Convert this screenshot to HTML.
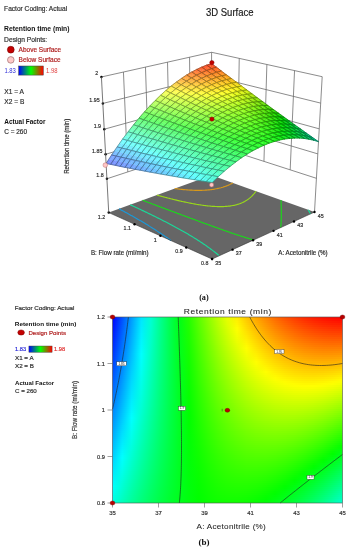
<!DOCTYPE html>
<html><head><meta charset="utf-8"><title>3D Surface</title>
<style>html,body{margin:0;padding:0;background:#fff;}svg{display:block;}</style></head>
<body><svg width="352" height="550" viewBox="0 0 352 550">
<rect width="352" height="550" fill="#fff"/>
<path d="M127.81,171.91L123.45,72.05M148.72,165.04L145.48,67.11M169.64,158.17L167.52,62.17M190.55,151.30L189.55,57.23M211.42,175.24L211.59,52.29M237.70,152.90L239.24,58.39M263.94,161.37L266.89,64.49M290.18,169.84L294.54,70.59M314.50,212.05L322.20,76.69M106.90,178.78L211.46,144.43L316.42,178.31M105.58,154.32L211.49,122.19L317.81,153.89M104.23,129.22L211.52,99.44L319.23,128.83M102.84,103.45L211.55,76.14L320.69,103.11M101.41,76.98L211.59,52.29L322.20,76.69" fill="none" stroke="#656565" stroke-width="0.75"/><polygon points="108.72,212.57 211.42,175.24 314.50,212.05 212.07,259.05" fill="#666666"/><polyline points="171.10,240.62 170.36,240.09 169.55,239.50 169.14,239.21 168.33,238.63 167.52,238.06 167.11,237.77 166.29,237.20 165.48,236.63 165.07,236.35 164.25,235.78 163.43,235.22 163.02,234.94 162.20,234.39 161.38,233.83 160.97,233.56 160.14,233.01 159.32,232.46 158.85,232.15 158.08,231.65 157.26,231.11 156.48,230.61 156.02,230.31 155.19,229.77 154.36,229.24 153.95,228.98 153.12,228.45 152.29,227.93 151.46,227.41 151.04,227.15 150.21,226.63 149.38,226.12 148.67,225.68 148.13,225.35 147.30,224.85 146.47,224.34 145.78,223.92 145.22,223.59 144.39,223.09 143.56,222.59 142.73,222.10 142.31,221.85 141.48,221.35 140.64,220.86 139.81,220.38 139.39,220.13 138.56,219.65 137.73,219.17 136.89,218.69 136.06,218.21 135.65,217.97 134.81,217.49 133.98,217.02 133.15,216.55 132.38,216.12 131.90,215.85 131.07,215.38 130.24,214.91 129.41,214.45 128.58,213.99 128.16,213.76 127.33,213.30 126.50,212.85 125.67,212.39 124.84,211.94 124.20,211.59 123.60,211.26 122.77,210.82 121.94,210.37 121.11,209.92 120.29,209.48 119.59,209.11 119.05,208.82 119.05,208.82" fill="none" stroke="#1a99d9" stroke-width="1.15"/><polyline points="219.28,255.74 218.58,255.17 218.05,254.72 217.24,254.06 216.82,253.72 215.99,253.05 215.58,252.72 214.74,252.06 214.32,251.74 213.49,251.09 212.83,250.58 212.22,250.12 211.37,249.48 210.95,249.17 210.09,248.54 209.52,248.12 208.81,247.60 207.95,246.98 207.51,246.68 206.65,246.06 205.87,245.52 205.34,245.15 204.47,244.55 203.89,244.16 203.16,243.66 202.28,243.07 201.79,242.75 200.95,242.19 200.07,241.61 199.57,241.29 198.74,240.74 197.84,240.17 197.20,239.76 196.51,239.32 195.61,238.76 194.71,238.20 194.26,237.92 193.37,237.37 192.46,236.82 191.97,236.52 191.11,236.00 190.21,235.46 189.30,234.92 188.85,234.65 187.94,234.11 187.03,233.58 186.12,233.05 185.67,232.79 184.76,232.27 183.85,231.74 182.93,231.22 182.48,230.97 181.56,230.45 180.65,229.94 179.74,229.43 178.82,228.92 178.36,228.67 177.45,228.17 176.53,227.67 175.61,227.17 174.70,226.67 174.24,226.43 173.32,225.93 172.41,225.44 171.49,224.96 170.57,224.47 170.00,224.17 169.20,223.75 168.28,223.27 167.36,222.79 166.45,222.32 165.53,221.84 164.81,221.47 164.15,221.14 163.24,220.67 162.32,220.20 161.41,219.74 160.49,219.28 159.58,218.82 158.85,218.45 158.20,218.13 157.29,217.67 156.38,217.22 155.47,216.77 154.55,216.32 153.64,215.87 152.73,215.42 151.84,214.99 151.37,214.75 150.46,214.31 149.55,213.87 148.64,213.43 147.73,212.99 146.83,212.56 145.92,212.12 145.02,211.69 144.11,211.26 143.29,210.87 142.76,210.61 141.86,210.19 140.95,209.76 140.05,209.34 139.16,208.91 138.26,208.49 137.36,208.07 136.46,207.65 135.57,207.24 134.67,206.82 133.78,206.40 132.89,205.99 132.13,205.64 131.55,205.37 130.66,204.96 130.22,204.76" fill="none" stroke="#1ad999" stroke-width="1.15"/><polyline points="308.17,209.79 308.39,210.17 308.60,210.54 308.81,210.90 309.03,211.27 309.25,211.66 309.54,212.13 309.82,212.61 310.12,213.09 310.35,213.48 310.58,213.85 310.58,213.85" fill="none" stroke="#1ad999" stroke-width="1.15"/><polyline points="253.69,239.95 253.00,239.76 251.63,239.38 250.27,238.99 249.60,238.79 248.26,238.40 246.94,238.00 245.91,237.68 244.98,237.39 243.69,236.98 242.41,236.57 241.13,236.16 240.50,235.96 239.23,235.54 237.98,235.13 236.73,234.71 235.48,234.30 234.87,234.09 233.63,233.67 232.41,233.25 231.18,232.84 229.97,232.42 228.91,232.05 228.15,231.79 226.95,231.37 225.75,230.95 224.56,230.53 223.37,230.11 222.18,229.70 221.59,229.49 220.41,229.07 219.24,228.65 218.07,228.23 216.90,227.82 215.74,227.40 214.58,226.98 213.57,226.62 212.84,226.36 211.70,225.95 210.55,225.53 209.41,225.12 208.27,224.70 207.13,224.29 206.00,223.88 204.87,223.47 204.30,223.26 203.18,222.85 202.06,222.44 200.94,222.03 199.82,221.62 198.71,221.21 197.60,220.81 196.49,220.40 195.47,220.02 194.84,219.79 193.74,219.39 192.64,218.98 191.55,218.58 190.46,218.18 189.37,217.77 188.29,217.37 187.21,216.97 186.13,216.57 185.59,216.37 184.51,215.97 183.44,215.57 182.37,215.18 181.30,214.78 180.24,214.38 179.18,213.99 178.12,213.59 177.06,213.20 176.01,212.81 175.48,212.61 174.43,212.22 173.39,211.83 172.34,211.44 171.30,211.05 170.26,210.66 169.22,210.27 168.18,209.88 167.15,209.50 166.12,209.11 165.11,208.74 164.58,208.54 163.56,208.15 162.54,207.77 161.52,207.39 160.50,207.00 159.48,206.62 158.47,206.24 157.46,205.86 156.45,205.49 155.45,205.11 154.59,204.79 153.94,204.54 152.95,204.17 151.95,203.79 150.95,203.42 149.96,203.04 148.97,202.67 147.98,202.30 146.99,201.93 146.01,201.56 145.03,201.19 144.05,200.82 143.56,200.63 142.58,200.26 142.58,200.26" fill="none" stroke="#1ad91a" stroke-width="1.15"/><polyline points="281.02,200.10 281.04,200.51 281.05,200.93 281.07,201.35 281.08,201.77 281.09,202.19 281.11,202.61 281.12,203.03 281.13,203.39 281.14,203.76 281.15,204.13 281.16,204.51 281.17,204.88 281.18,205.25 281.19,205.62 281.20,206.03 281.21,206.46 281.22,206.90 281.23,207.33 281.23,207.77 281.24,208.21 281.25,208.63 281.26,209.01 281.26,209.39 281.27,209.77 281.27,210.16 281.28,210.54 281.28,210.92 281.29,211.31 281.29,211.76 281.29,212.21 281.30,212.66 281.30,213.11 281.30,213.57 281.30,214.00 281.30,214.39 281.30,214.78 281.30,215.17 281.30,215.56 281.29,215.95 281.29,216.34 281.29,216.79 281.28,217.26 281.27,217.73 281.26,218.20 281.26,218.67 281.25,219.10 281.24,219.50 281.23,219.89 281.21,220.29 281.20,220.69 281.19,221.08 281.17,221.54 281.15,222.03 281.12,222.52 281.10,223.01 281.07,223.48 281.05,223.88 281.03,224.28 281.00,224.68 280.97,225.08 280.94,225.49 280.90,226.00 280.85,226.51 280.81,227.02 280.76,227.49 280.76,227.53" fill="none" stroke="#1ad91a" stroke-width="1.15"/><polyline points="256.02,191.17 255.81,191.48 255.42,192.01 255.22,192.28 254.98,192.59 254.57,193.11 254.35,193.39 254.05,193.75 253.66,194.21 253.42,194.48 252.97,194.98 252.68,195.29 252.36,195.62 251.91,196.08 251.64,196.35 251.08,196.87 250.80,197.13 250.21,197.65 249.91,197.90 249.29,198.41 248.97,198.66 248.32,199.15 247.96,199.41 247.28,199.88 246.56,200.36 246.19,200.59 245.42,201.06 244.61,201.51 243.92,201.87 243.34,202.16 242.45,202.59 241.52,203.00 240.54,203.39 239.52,203.77 238.45,204.14 237.90,204.31 236.75,204.65 235.55,204.97 234.93,205.12 233.63,205.40 232.95,205.53 231.57,205.78 230.84,205.89 229.65,206.06 228.55,206.19 227.74,206.27 226.91,206.35 225.67,206.44 224.49,206.51 223.36,206.56 222.41,206.59 221.44,206.60 220.43,206.61 219.39,206.61 218.33,206.59 217.29,206.56 216.36,206.53 215.45,206.49 214.55,206.44 213.67,206.39 212.48,206.31 211.20,206.21 210.29,206.13 209.47,206.05 208.52,205.96 207.11,205.81 206.29,205.71 205.52,205.62 204.16,205.45 203.24,205.33 202.49,205.22 201.01,205.01 200.29,204.90 199.36,204.76 198.13,204.56 197.42,204.45 196.02,204.21 195.32,204.09 194.05,203.87 193.26,203.72 192.16,203.52 191.23,203.34 190.20,203.14 189.24,202.95 188.17,202.74 187.27,202.56 186.07,202.31 185.33,202.15 184.05,201.88 183.41,201.74 182.15,201.46 181.52,201.32 180.27,201.04 179.32,200.82 178.41,200.61 177.18,200.33 176.57,200.18 175.36,199.89 174.41,199.67 173.55,199.45 172.35,199.16 171.76,199.01 170.57,198.72 169.40,198.42 168.81,198.27 167.64,197.97 166.48,197.67 165.90,197.52 164.75,197.22 163.60,196.92 163.03,196.76 161.89,196.46 160.76,196.16 160.20,196.00 159.07,195.70 157.95,195.39 157.39,195.24 156.84,195.08" fill="none" stroke="#99d91a" stroke-width="1.15"/><polyline points="232.90,182.91 232.15,183.33 231.37,183.74 230.81,184.02 230.17,184.34 229.34,184.73 228.48,185.11 227.60,185.49 226.68,185.85 225.74,186.21 224.77,186.56 223.76,186.90 222.72,187.23 221.65,187.54 221.10,187.70 219.97,187.99 218.80,188.28 218.20,188.41 216.97,188.68 216.34,188.80 215.04,189.04 214.38,189.16 213.01,189.37 212.31,189.47 211.41,189.59 210.12,189.75 209.36,189.83 208.59,189.91 207.43,190.01 206.22,190.10 205.35,190.16 204.50,190.20 203.64,190.25 202.75,190.28 201.80,190.31 200.78,190.33 199.77,190.35 198.79,190.35 197.83,190.35 196.89,190.34 195.96,190.33 195.01,190.31 193.95,190.28 192.87,190.24 191.77,190.19 190.71,190.13 189.87,190.08 189.05,190.03 188.23,189.98 187.10,189.90 185.87,189.80 185.05,189.73 184.28,189.66 183.33,189.57 182.01,189.44 181.25,189.36 180.50,189.28 179.30,189.14 178.31,189.03 177.59,188.94 176.45,188.80 175.46,188.67 174.75,188.57 174.75,188.57" fill="none" stroke="#d9991a" stroke-width="1.15"/><polyline points="108.72,212.57 212.07,259.05 314.50,212.05" fill="none" stroke="#333" stroke-width="0.6"/><g stroke-width="0.35" stroke-linejoin="round"><polygon points="211.6,68.7 214.0,67.9 211.6,66.1 209.1,66.9" fill="#ff5f26" stroke="#ff5f26"/><polygon points="209.1,66.9 211.6,66.1 209.1,64.3 206.7,65.1" fill="#ff5128" stroke="#ff5128"/><polygon points="214.0,67.9 216.5,67.2 214.0,65.4 211.6,66.1" fill="#ff5a23" stroke="#ff5a23"/><polygon points="211.6,66.1 214.0,65.4 211.6,63.5 209.1,64.3" fill="#ff4c25" stroke="#ff4c25"/><polygon points="211.6,68.7 216.5,67.2 211.6,63.5 206.7,65.1" fill="none" stroke="#782812" stroke-width="0.6"/><polygon points="216.6,72.3 219.0,71.6 216.5,69.8 214.1,70.5" fill="#ff7a23" stroke="#ff7a23"/><polygon points="214.1,70.5 216.5,69.8 214.0,67.9 211.6,68.7" fill="#ff6c25" stroke="#ff6c25"/><polygon points="219.0,71.6 221.4,71.0 219.0,69.1 216.5,69.8" fill="#ff7720" stroke="#ff7720"/><polygon points="216.5,69.8 219.0,69.1 216.5,67.2 214.0,67.9" fill="#ff6922" stroke="#ff6922"/><polygon points="216.6,72.3 221.4,71.0 216.5,67.2 211.6,68.7" fill="none" stroke="#783510" stroke-width="0.6"/><polygon points="206.7,70.5 209.1,69.6 206.7,67.8 204.2,68.8" fill="#ff6a2d" stroke="#ff6a2d"/><polygon points="204.2,68.8 206.7,67.8 204.2,66.1 201.7,67.1" fill="#ff5e2e" stroke="#ff5e2e"/><polygon points="209.1,69.6 211.6,68.7 209.1,66.9 206.7,67.8" fill="#ff6429" stroke="#ff6429"/><polygon points="206.7,67.8 209.1,66.9 206.7,65.1 204.2,66.1" fill="#ff572b" stroke="#ff572b"/><polygon points="206.7,70.5 211.6,68.7 206.7,65.1 201.7,67.1" fill="none" stroke="#782d15" stroke-width="0.6"/><polygon points="221.6,75.9 224.0,75.3 221.5,73.5 219.1,74.1" fill="#ff9620" stroke="#ff9620"/><polygon points="219.1,74.1 221.5,73.5 219.0,71.6 216.6,72.3" fill="#ff8822" stroke="#ff8822"/><polygon points="224.0,75.3 226.4,74.8 223.9,72.9 221.5,73.5" fill="#fd931d" stroke="#fd931d"/><polygon points="221.5,73.5 223.9,72.9 221.4,71.0 219.0,71.6" fill="#ff851e" stroke="#ff851e"/><polygon points="221.6,75.9 226.4,74.8 221.4,71.0 216.6,72.3" fill="none" stroke="#78430f" stroke-width="0.6"/><polygon points="211.6,74.0 214.1,73.1 211.6,71.3 209.1,72.2" fill="#ff8229" stroke="#ff8229"/><polygon points="209.1,72.2 211.6,71.3 209.1,69.6 206.7,70.5" fill="#ff762b" stroke="#ff762b"/><polygon points="214.1,73.1 216.6,72.3 214.1,70.5 211.6,71.3" fill="#ff7d26" stroke="#ff7d26"/><polygon points="211.6,71.3 214.1,70.5 211.6,68.7 209.1,69.6" fill="#ff7128" stroke="#ff7128"/><polygon points="211.6,74.0 216.6,72.3 211.6,68.7 206.7,70.5" fill="none" stroke="#783913" stroke-width="0.6"/><polygon points="201.7,72.7 204.2,71.6 201.7,69.9 199.2,71.0" fill="#ff7833" stroke="#ff7833"/><polygon points="199.2,71.0 201.7,69.9 199.2,68.2 196.7,69.4" fill="#ff6d34" stroke="#ff6d34"/><polygon points="204.2,71.6 206.7,70.5 204.2,68.8 201.7,69.9" fill="#ff7130" stroke="#ff7130"/><polygon points="201.7,69.9 204.2,68.8 201.7,67.1 199.2,68.2" fill="#ff6531" stroke="#ff6531"/><polygon points="201.7,72.7 206.7,70.5 201.7,67.1 196.7,69.4" fill="none" stroke="#783417" stroke-width="0.6"/><polygon points="226.6,79.6 229.1,79.0 226.5,77.2 224.1,77.7" fill="#fdb01c" stroke="#fdb01c"/><polygon points="224.1,77.7 226.5,77.2 224.0,75.3 221.6,75.9" fill="#ffa31e" stroke="#ffa31e"/><polygon points="229.1,79.0 231.5,78.5 229.0,76.6 226.5,77.2" fill="#f9ae19" stroke="#f9ae19"/><polygon points="226.5,77.2 229.0,76.6 226.4,74.8 224.0,75.3" fill="#fba11b" stroke="#fba11b"/><polygon points="226.6,79.6 231.5,78.5 226.4,74.8 221.6,75.9" fill="none" stroke="#764f0d" stroke-width="0.6"/><polygon points="216.6,77.4 219.1,76.6 216.6,74.9 214.1,75.7" fill="#ff9b26" stroke="#ff9b26"/><polygon points="214.1,75.7 216.6,74.9 214.1,73.1 211.6,74.0" fill="#ff8f28" stroke="#ff8f28"/><polygon points="219.1,76.6 221.6,75.9 219.1,74.1 216.6,74.9" fill="#ff9823" stroke="#ff9823"/><polygon points="216.6,74.9 219.1,74.1 216.6,72.3 214.1,73.1" fill="#ff8b25" stroke="#ff8b25"/><polygon points="216.6,77.4 221.6,75.9 216.6,72.3 211.6,74.0" fill="none" stroke="#784512" stroke-width="0.6"/><polygon points="206.6,76.0 209.1,74.9 206.6,73.2 204.1,74.3" fill="#ff8e2f" stroke="#ff8e2f"/><polygon points="204.1,74.3 206.6,73.2 204.2,71.6 201.7,72.7" fill="#ff8331" stroke="#ff8331"/><polygon points="209.1,74.9 211.6,74.0 209.1,72.2 206.6,73.2" fill="#ff882c" stroke="#ff882c"/><polygon points="206.6,73.2 209.1,72.2 206.7,70.5 204.2,71.6" fill="#ff7c2e" stroke="#ff7c2e"/><polygon points="206.6,76.0 211.6,74.0 206.7,70.5 201.7,72.7" fill="none" stroke="#783e16" stroke-width="0.6"/><polygon points="196.6,75.2 199.1,73.9 196.7,72.3 194.1,73.6" fill="#ff8939" stroke="#ff8939"/><polygon points="194.1,73.6 196.7,72.3 194.2,70.7 191.7,72.0" fill="#ff803a" stroke="#ff803a"/><polygon points="199.1,73.9 201.7,72.7 199.2,71.0 196.7,72.3" fill="#ff8036" stroke="#ff8036"/><polygon points="196.7,72.3 199.2,71.0 196.7,69.4 194.2,70.7" fill="#ff7637" stroke="#ff7637"/><polygon points="196.6,75.2 201.7,72.7 196.7,69.4 191.7,72.0" fill="none" stroke="#783c1a" stroke-width="0.6"/><polygon points="231.7,83.2 234.1,82.7 231.6,80.9 229.2,81.4" fill="#f9ca19" stroke="#f9ca19"/><polygon points="229.2,81.4 231.6,80.9 229.1,79.0 226.6,79.6" fill="#fbbd1b" stroke="#fbbd1b"/><polygon points="234.1,82.7 236.6,82.3 234.0,80.4 231.6,80.9" fill="#f5c916" stroke="#f5c916"/><polygon points="231.6,80.9 234.0,80.4 231.5,78.5 229.1,79.0" fill="#f7bc17" stroke="#f7bc17"/><polygon points="231.7,83.2 236.6,82.3 231.5,78.5 226.6,79.6" fill="none" stroke="#755c0b" stroke-width="0.6"/><polygon points="221.7,80.9 224.2,80.2 221.6,78.4 219.2,79.2" fill="#ffb523" stroke="#ffb523"/><polygon points="219.2,79.2 221.6,78.4 219.1,76.6 216.6,77.4" fill="#ffa824" stroke="#ffa824"/><polygon points="224.2,80.2 226.6,79.6 224.1,77.7 221.6,78.4" fill="#ffb320" stroke="#ffb320"/><polygon points="221.6,78.4 224.1,77.7 221.6,75.9 219.1,76.6" fill="#ffa521" stroke="#ffa521"/><polygon points="221.7,80.9 226.6,79.6 221.6,75.9 216.6,77.4" fill="none" stroke="#785110" stroke-width="0.6"/><polygon points="211.6,79.3 214.1,78.3 211.6,76.6 209.1,77.6" fill="#ffa42c" stroke="#ffa42c"/><polygon points="209.1,77.6 211.6,76.6 209.1,74.9 206.6,76.0" fill="#ff992e" stroke="#ff992e"/><polygon points="214.1,78.3 216.6,77.4 214.1,75.7 211.6,76.6" fill="#ff9f29" stroke="#ff9f29"/><polygon points="211.6,76.6 214.1,75.7 211.6,74.0 209.1,74.9" fill="#ff932b" stroke="#ff932b"/><polygon points="211.6,79.3 216.6,77.4 211.6,74.0 206.6,76.0" fill="none" stroke="#784914" stroke-width="0.6"/><polygon points="201.6,78.3 204.1,77.1 201.6,75.5 199.1,76.7" fill="#ff9d36" stroke="#ff9d36"/><polygon points="199.1,76.7 201.6,75.5 199.1,73.9 196.6,75.2" fill="#ff9337" stroke="#ff9337"/><polygon points="204.1,77.1 206.6,76.0 204.1,74.3 201.6,75.5" fill="#ff9533" stroke="#ff9533"/><polygon points="201.6,75.5 204.1,74.3 201.7,72.7 199.1,73.9" fill="#ff8b34" stroke="#ff8b34"/><polygon points="201.6,78.3 206.6,76.0 201.7,72.7 196.6,75.2" fill="none" stroke="#784519" stroke-width="0.6"/><polygon points="191.5,78.0 194.1,76.5 191.6,75.0 189.1,76.5" fill="#ff9d3f" stroke="#ff9d3f"/><polygon points="189.1,76.5 191.6,75.0 189.1,73.5 186.6,75.0" fill="#ff9440" stroke="#ff9440"/><polygon points="194.1,76.5 196.6,75.2 194.1,73.6 191.6,75.0" fill="#ff933c" stroke="#ff933c"/><polygon points="191.6,75.0 194.1,73.6 191.7,72.0 189.1,73.5" fill="#ff8a3d" stroke="#ff8a3d"/><polygon points="191.5,78.0 196.6,75.2 191.7,72.0 186.6,75.0" fill="none" stroke="#78451d" stroke-width="0.6"/><polygon points="236.9,86.9 239.3,86.5 236.7,84.6 234.3,85.1" fill="#f5e415" stroke="#f5e415"/><polygon points="234.3,85.1 236.7,84.6 234.1,82.7 231.7,83.2" fill="#f7d717" stroke="#f7d717"/><polygon points="239.3,86.5 241.7,86.1 239.1,84.2 236.7,84.6" fill="#f2e412" stroke="#f2e412"/><polygon points="236.7,84.6 239.1,84.2 236.6,82.3 234.1,82.7" fill="#f4d614" stroke="#f4d614"/><polygon points="236.9,86.9 241.7,86.1 236.6,82.3 231.7,83.2" fill="none" stroke="#73680a" stroke-width="0.6"/><polygon points="226.8,84.4 229.3,83.8 226.7,82.0 224.2,82.7" fill="#ffcf1f" stroke="#ffcf1f"/><polygon points="224.2,82.7 226.7,82.0 224.2,80.2 221.7,80.9" fill="#ffc221" stroke="#ffc221"/><polygon points="229.3,83.8 231.7,83.2 229.2,81.4 226.7,82.0" fill="#fccc1c" stroke="#fccc1c"/><polygon points="226.7,82.0 229.2,81.4 226.6,79.6 224.2,80.2" fill="#fec01e" stroke="#fec01e"/><polygon points="226.8,84.4 231.7,83.2 226.6,79.6 221.7,80.9" fill="none" stroke="#785e0e" stroke-width="0.6"/><polygon points="216.7,82.6 219.2,81.8 216.7,80.0 214.2,81.0" fill="#ffbb29" stroke="#ffbb29"/><polygon points="214.2,81.0 216.7,80.0 214.1,78.3 211.6,79.3" fill="#ffb02b" stroke="#ffb02b"/><polygon points="219.2,81.8 221.7,80.9 219.2,79.2 216.7,80.0" fill="#ffb826" stroke="#ffb826"/><polygon points="216.7,80.0 219.2,79.2 216.6,77.4 214.1,78.3" fill="#ffab27" stroke="#ffab27"/><polygon points="216.7,82.6 221.7,80.9 216.6,77.4 211.6,79.3" fill="none" stroke="#785413" stroke-width="0.6"/><polygon points="206.6,81.5 209.1,80.4 206.6,78.7 204.1,79.9" fill="#ffb132" stroke="#ffb132"/><polygon points="204.1,79.9 206.6,78.7 204.1,77.1 201.6,78.3" fill="#ffa734" stroke="#ffa734"/><polygon points="209.1,80.4 211.6,79.3 209.1,77.6 206.6,78.7" fill="#ffaa2f" stroke="#ffaa2f"/><polygon points="206.6,78.7 209.1,77.6 206.6,76.0 204.1,77.1" fill="#ff9f31" stroke="#ff9f31"/><polygon points="206.6,81.5 211.6,79.3 206.6,76.0 201.6,78.3" fill="none" stroke="#784f17" stroke-width="0.6"/><polygon points="196.5,81.0 199.0,79.6 196.6,78.1 194.0,79.5" fill="#ffae3c" stroke="#ffae3c"/><polygon points="194.0,79.5 196.6,78.1 194.1,76.5 191.5,78.0" fill="#ffa53d" stroke="#ffa53d"/><polygon points="199.0,79.6 201.6,78.3 199.1,76.7 196.6,78.1" fill="#ffa539" stroke="#ffa539"/><polygon points="196.6,78.1 199.1,76.7 196.6,75.2 194.1,76.5" fill="#ff9c3a" stroke="#ff9c3a"/><polygon points="196.5,81.0 201.6,78.3 196.6,75.2 191.5,78.0" fill="none" stroke="#784e1c" stroke-width="0.6"/><polygon points="186.4,81.2 189.0,79.6 186.5,78.1 183.9,79.8" fill="#ffb345" stroke="#ffb345"/><polygon points="183.9,79.8 186.5,78.1 184.0,76.6 181.5,78.4" fill="#ffab46" stroke="#ffab46"/><polygon points="189.0,79.6 191.5,78.0 189.1,76.5 186.5,78.1" fill="#ffa742" stroke="#ffa742"/><polygon points="186.5,78.1 189.1,76.5 186.6,75.0 184.0,76.6" fill="#ff9f43" stroke="#ff9f43"/><polygon points="186.4,81.2 191.5,78.0 186.6,75.0 181.5,78.4" fill="none" stroke="#784f20" stroke-width="0.6"/><polygon points="242.0,90.6 244.5,90.2 241.9,88.4 239.4,88.7" fill="#e6f112" stroke="#e6f112"/><polygon points="239.4,88.7 241.9,88.4 239.3,86.5 236.9,86.9" fill="#f3f114" stroke="#f3f114"/><polygon points="244.5,90.2 246.9,90.0 244.3,88.1 241.9,88.4" fill="#deee0f" stroke="#deee0f"/><polygon points="241.9,88.4 244.3,88.1 241.7,86.1 239.3,86.5" fill="#eff010" stroke="#eff010"/><polygon points="242.0,90.6 246.9,90.0 241.7,86.1 236.9,86.9" fill="none" stroke="#6e7108" stroke-width="0.6"/><polygon points="231.9,88.0 234.4,87.4 231.8,85.6 229.4,86.2" fill="#fce71c" stroke="#fce71c"/><polygon points="229.4,86.2 231.8,85.6 229.3,83.8 226.8,84.4" fill="#fedc1e" stroke="#fedc1e"/><polygon points="234.4,87.4 236.9,86.9 234.3,85.1 231.8,85.6" fill="#f9e518" stroke="#f9e518"/><polygon points="231.8,85.6 234.3,85.1 231.7,83.2 229.3,83.8" fill="#fbd91a" stroke="#fbd91a"/><polygon points="231.9,88.0 236.9,86.9 231.7,83.2 226.8,84.4" fill="none" stroke="#76690d" stroke-width="0.6"/><polygon points="221.8,86.0 224.3,85.2 221.8,83.5 219.3,84.3" fill="#ffd326" stroke="#ffd326"/><polygon points="219.3,84.3 221.8,83.5 219.2,81.8 216.7,82.6" fill="#ffc727" stroke="#ffc727"/><polygon points="224.3,85.2 226.8,84.4 224.2,82.7 221.8,83.5" fill="#ffd023" stroke="#ffd023"/><polygon points="221.8,83.5 224.2,82.7 221.7,80.9 219.2,81.8" fill="#ffc424" stroke="#ffc424"/><polygon points="221.8,86.0 226.8,84.4 221.7,80.9 216.7,82.6" fill="none" stroke="#786011" stroke-width="0.6"/><polygon points="211.7,84.7 214.2,83.6 211.7,82.0 209.1,83.1" fill="#ffc52f" stroke="#ffc52f"/><polygon points="209.1,83.1 211.7,82.0 209.1,80.4 206.6,81.5" fill="#ffbb31" stroke="#ffbb31"/><polygon points="214.2,83.6 216.7,82.6 214.2,81.0 211.7,82.0" fill="#ffc02c" stroke="#ffc02c"/><polygon points="211.7,82.0 214.2,81.0 211.6,79.3 209.1,80.4" fill="#ffb52e" stroke="#ffb52e"/><polygon points="211.7,84.7 216.7,82.6 211.6,79.3 206.6,81.5" fill="none" stroke="#785916" stroke-width="0.6"/><polygon points="201.5,84.1 204.1,82.7 201.6,81.2 199.0,82.5" fill="#ffc038" stroke="#ffc038"/><polygon points="199.0,82.5 201.6,81.2 199.0,79.6 196.5,81.0" fill="#ffb73a" stroke="#ffb73a"/><polygon points="204.1,82.7 206.6,81.5 204.1,79.9 201.6,81.2" fill="#ffb835" stroke="#ffb835"/><polygon points="201.6,81.2 204.1,79.9 201.6,78.3 199.0,79.6" fill="#ffae37" stroke="#ffae37"/><polygon points="201.5,84.1 206.6,81.5 201.6,78.3 196.5,81.0" fill="none" stroke="#78561a" stroke-width="0.6"/><polygon points="181.2,84.8 183.8,82.9 181.3,81.5 178.7,83.4" fill="#ffca4a" stroke="#ffca4a"/><polygon points="178.7,83.4 181.3,81.5 178.9,80.2 176.3,82.1" fill="#ffc44c" stroke="#ffc44c"/><polygon points="183.8,82.9 186.4,81.2 183.9,79.8 181.3,81.5" fill="#ffbe47" stroke="#ffbe47"/><polygon points="181.3,81.5 183.9,79.8 181.5,78.4 178.9,80.2" fill="#ffb749" stroke="#ffb749"/><polygon points="181.2,84.8 186.4,81.2 181.5,78.4 176.3,82.1" fill="none" stroke="#785b23" stroke-width="0.6"/><polygon points="191.4,84.1 193.9,82.5 191.4,81.0 188.9,82.6" fill="#ffc242" stroke="#ffc242"/><polygon points="188.9,82.6 191.4,81.0 189.0,79.6 186.4,81.2" fill="#ffba43" stroke="#ffba43"/><polygon points="193.9,82.5 196.5,81.0 194.0,79.5 191.4,81.0" fill="#ffb83f" stroke="#ffb83f"/><polygon points="191.4,81.0 194.0,79.5 191.5,78.0 189.0,79.6" fill="#ffb040" stroke="#ffb040"/><polygon points="191.4,84.1 196.5,81.0 191.5,78.0 186.4,81.2" fill="none" stroke="#78571e" stroke-width="0.6"/><polygon points="247.3,94.3 249.7,94.0 247.1,92.1 244.6,92.4" fill="#c5ee0f" stroke="#c5ee0f"/><polygon points="244.6,92.4 247.1,92.1 244.5,90.2 242.0,90.6" fill="#d5f010" stroke="#d5f010"/><polygon points="249.7,94.0 252.1,93.8 249.5,91.9 247.1,92.1" fill="#bcea0c" stroke="#bcea0c"/><polygon points="247.1,92.1 249.5,91.9 246.9,90.0 244.5,90.2" fill="#cdec0d" stroke="#cdec0d"/><polygon points="247.3,94.3 252.1,93.8 246.9,90.0 242.0,90.6" fill="none" stroke="#5e6f07" stroke-width="0.6"/><polygon points="237.1,91.5 239.6,91.0 237.0,89.2 234.5,89.7" fill="#f2f818" stroke="#f2f818"/><polygon points="234.5,89.7 237.0,89.2 234.4,87.4 231.9,88.0" fill="#faf31a" stroke="#faf31a"/><polygon points="239.6,91.0 242.0,90.6 239.4,88.7 237.0,89.2" fill="#ecf515" stroke="#ecf515"/><polygon points="237.0,89.2 239.4,88.7 236.9,86.9 234.4,87.4" fill="#f7f117" stroke="#f7f117"/><polygon points="237.1,91.5 242.0,90.6 236.9,86.9 231.9,88.0" fill="none" stroke="#74740b" stroke-width="0.6"/><polygon points="227.0,89.4 229.5,88.6 226.9,86.9 224.4,87.7" fill="#ffeb22" stroke="#ffeb22"/><polygon points="224.4,87.7 226.9,86.9 224.3,85.2 221.8,86.0" fill="#ffdf24" stroke="#ffdf24"/><polygon points="229.5,88.6 231.9,88.0 229.4,86.2 226.9,86.9" fill="#ffea1f" stroke="#ffea1f"/><polygon points="226.9,86.9 229.4,86.2 226.8,84.4 224.3,85.2" fill="#ffdd21" stroke="#ffdd21"/><polygon points="227.0,89.4 231.9,88.0 226.8,84.4 221.8,86.0" fill="none" stroke="#786b10" stroke-width="0.6"/><polygon points="216.8,87.9 219.3,86.9 216.8,85.3 214.2,86.3" fill="#ffda2c" stroke="#ffda2c"/><polygon points="214.2,86.3 216.8,85.3 214.2,83.6 211.7,84.7" fill="#ffcf2d" stroke="#ffcf2d"/><polygon points="219.3,86.9 221.8,86.0 219.3,84.3 216.8,85.3" fill="#ffd629" stroke="#ffd629"/><polygon points="216.8,85.3 219.3,84.3 216.7,82.6 214.2,83.6" fill="#ffcb2a" stroke="#ffcb2a"/><polygon points="216.8,87.9 221.8,86.0 216.7,82.6 211.7,84.7" fill="none" stroke="#786314" stroke-width="0.6"/><polygon points="176.0,88.7 178.6,86.7 176.1,85.4 173.5,87.4" fill="#ffe450" stroke="#ffe450"/><polygon points="173.5,87.4 176.1,85.4 173.7,84.0 171.1,86.1" fill="#ffde51" stroke="#ffde51"/><polygon points="178.6,86.7 181.2,84.8 178.7,83.4 176.1,85.4" fill="#ffd74d" stroke="#ffd74d"/><polygon points="176.1,85.4 178.7,83.4 176.3,82.1 173.7,84.0" fill="#ffd14e" stroke="#ffd14e"/><polygon points="176.0,88.7 181.2,84.8 176.3,82.1 171.1,86.1" fill="none" stroke="#786725" stroke-width="0.6"/><polygon points="206.6,87.1 209.1,85.9 206.6,84.3 204.0,85.6" fill="#ffd235" stroke="#ffd235"/><polygon points="204.0,85.6 206.6,84.3 204.1,82.7 201.5,84.1" fill="#ffc937" stroke="#ffc937"/><polygon points="209.1,85.9 211.7,84.7 209.1,83.1 206.6,84.3" fill="#ffcb32" stroke="#ffcb32"/><polygon points="206.6,84.3 209.1,83.1 206.6,81.5 204.1,82.7" fill="#ffc134" stroke="#ffc134"/><polygon points="206.6,87.1 211.7,84.7 206.6,81.5 201.5,84.1" fill="none" stroke="#785f19" stroke-width="0.6"/><polygon points="252.5,98.0 255.0,97.8 252.3,95.9 249.9,96.1" fill="#a5ea0b" stroke="#a5ea0b"/><polygon points="249.9,96.1 252.3,95.9 249.7,94.0 247.3,94.3" fill="#b5ec0d" stroke="#b5ec0d"/><polygon points="255.0,97.8 257.3,97.7 254.7,95.8 252.3,95.9" fill="#9be709" stroke="#9be709"/><polygon points="252.3,95.9 254.7,95.8 252.1,93.8 249.7,94.0" fill="#ace80a" stroke="#ace80a"/><polygon points="252.5,98.0 257.3,97.7 252.1,93.8 247.3,94.3" fill="none" stroke="#4f6e05" stroke-width="0.6"/><polygon points="186.2,87.5 188.8,85.7 186.3,84.3 183.7,86.1" fill="#ffd847" stroke="#ffd847"/><polygon points="183.7,86.1 186.3,84.3 183.8,82.9 181.2,84.8" fill="#ffd149" stroke="#ffd149"/><polygon points="188.8,85.7 191.4,84.1 188.9,82.6 186.3,84.3" fill="#ffcd44" stroke="#ffcd44"/><polygon points="186.3,84.3 188.9,82.6 186.4,81.2 183.8,82.9" fill="#ffc546" stroke="#ffc546"/><polygon points="186.2,87.5 191.4,84.1 186.4,81.2 181.2,84.8" fill="none" stroke="#786121" stroke-width="0.6"/><polygon points="196.4,87.0 198.9,85.5 196.4,84.0 193.9,85.5" fill="#ffd23f" stroke="#ffd23f"/><polygon points="193.9,85.5 196.4,84.0 193.9,82.5 191.4,84.1" fill="#ffca40" stroke="#ffca40"/><polygon points="198.9,85.5 201.5,84.1 199.0,82.5 196.4,84.0" fill="#ffc83c" stroke="#ffc83c"/><polygon points="196.4,84.0 199.0,82.5 196.5,81.0 193.9,82.5" fill="#ffc03d" stroke="#ffc03d"/><polygon points="196.4,87.0 201.5,84.1 196.5,81.0 191.4,84.1" fill="none" stroke="#785e1d" stroke-width="0.6"/><polygon points="242.4,95.1 244.8,94.6 242.2,92.8 239.8,93.3" fill="#d3f515" stroke="#d3f515"/><polygon points="239.8,93.3 242.2,92.8 239.6,91.0 237.1,91.5" fill="#e3f616" stroke="#e3f616"/><polygon points="244.8,94.6 247.3,94.3 244.6,92.4 242.2,92.8" fill="#cdf112" stroke="#cdf112"/><polygon points="242.2,92.8 244.6,92.4 242.0,90.6 239.6,91.0" fill="#dcf313" stroke="#dcf313"/><polygon points="242.4,95.1 247.3,94.3 242.0,90.6 237.1,91.5" fill="none" stroke="#657309" stroke-width="0.6"/><polygon points="232.2,92.8 234.7,92.1 232.1,90.4 229.6,91.1" fill="#faff1f" stroke="#faff1f"/><polygon points="229.6,91.1 232.1,90.4 229.5,88.6 227.0,89.4" fill="#fff721" stroke="#fff721"/><polygon points="234.7,92.1 237.1,91.5 234.5,89.7 232.1,90.4" fill="#f7fc1c" stroke="#f7fc1c"/><polygon points="232.1,90.4 234.5,89.7 231.9,88.0 229.5,88.6" fill="#fef61d" stroke="#fef61d"/><polygon points="232.2,92.8 237.1,91.5 231.9,88.0 227.0,89.4" fill="none" stroke="#78770e" stroke-width="0.6"/><polygon points="222.0,91.1 224.5,90.2 221.9,88.6 219.4,89.5" fill="#fff029" stroke="#fff029"/><polygon points="219.4,89.5 221.9,88.6 219.3,86.9 216.8,87.9" fill="#ffe52a" stroke="#ffe52a"/><polygon points="224.5,90.2 227.0,89.4 224.4,87.7 221.9,88.6" fill="#ffed25" stroke="#ffed25"/><polygon points="221.9,88.6 224.4,87.7 221.8,86.0 219.3,86.9" fill="#ffe127" stroke="#ffe127"/><polygon points="222.0,91.1 227.0,89.4 221.8,86.0 216.8,87.9" fill="none" stroke="#786d13" stroke-width="0.6"/><polygon points="170.7,93.0 173.3,90.8 170.9,89.5 168.2,91.7" fill="#ffff55" stroke="#ffff55"/><polygon points="168.2,91.7 170.9,89.5 168.4,88.3 165.8,90.5" fill="#fffa56" stroke="#fffa56"/><polygon points="173.3,90.8 176.0,88.7 173.5,87.4 170.9,89.5" fill="#fff152" stroke="#fff152"/><polygon points="170.9,89.5 173.5,87.4 171.1,86.1 168.4,88.3" fill="#ffec54" stroke="#ffec54"/><polygon points="170.7,93.0 176.0,88.7 171.1,86.1 165.8,90.5" fill="none" stroke="#787328" stroke-width="0.6"/><polygon points="257.9,101.8 260.3,101.6 257.6,99.7 255.2,99.9" fill="#85e608" stroke="#85e608"/><polygon points="255.2,99.9 257.6,99.7 255.0,97.8 252.5,98.0" fill="#95e80a" stroke="#95e80a"/><polygon points="260.3,101.6 262.7,101.6 260.0,99.7 257.6,99.7" fill="#7ae306" stroke="#7ae306"/><polygon points="257.6,99.7 260.0,99.7 257.3,97.7 255.0,97.8" fill="#8be507" stroke="#8be507"/><polygon points="257.9,101.8 262.7,101.6 257.3,97.7 252.5,98.0" fill="none" stroke="#406c04" stroke-width="0.6"/><polygon points="211.7,90.2 214.3,89.0 211.7,87.4 209.1,88.6" fill="#ffe532" stroke="#ffe532"/><polygon points="209.1,88.6 211.7,87.4 209.1,85.9 206.6,87.1" fill="#ffdb34" stroke="#ffdb34"/><polygon points="214.3,89.0 216.8,87.9 214.2,86.3 211.7,87.4" fill="#ffdf2f" stroke="#ffdf2f"/><polygon points="211.7,87.4 214.2,86.3 211.7,84.7 209.1,85.9" fill="#ffd531" stroke="#ffd531"/><polygon points="211.7,90.2 216.8,87.9 211.7,84.7 206.6,87.1" fill="none" stroke="#786817" stroke-width="0.6"/><polygon points="180.9,91.3 183.6,89.3 181.1,88.0 178.4,90.0" fill="#fff04d" stroke="#fff04d"/><polygon points="178.4,90.0 181.1,88.0 178.6,86.7 176.0,88.7" fill="#ffea4e" stroke="#ffea4e"/><polygon points="183.6,89.3 186.2,87.5 183.7,86.1 181.1,88.0" fill="#ffe34a" stroke="#ffe34a"/><polygon points="181.1,88.0 183.7,86.1 181.2,84.8 178.6,86.7" fill="#ffdd4c" stroke="#ffdd4c"/><polygon points="180.9,91.3 186.2,87.5 181.2,84.8 176.0,88.7" fill="none" stroke="#786c24" stroke-width="0.6"/><polygon points="201.4,89.9 204.0,88.4 201.5,87.0 198.9,88.4" fill="#ffe23b" stroke="#ffe23b"/><polygon points="198.9,88.4 201.5,87.0 198.9,85.5 196.4,87.0" fill="#ffda3d" stroke="#ffda3d"/><polygon points="204.0,88.4 206.6,87.1 204.0,85.6 201.5,87.0" fill="#ffd938" stroke="#ffd938"/><polygon points="201.5,87.0 204.0,85.6 201.5,84.1 198.9,85.5" fill="#ffd13a" stroke="#ffd13a"/><polygon points="201.4,89.9 206.6,87.1 201.5,84.1 196.4,87.0" fill="none" stroke="#78661c" stroke-width="0.6"/><polygon points="191.2,90.2 193.8,88.6 191.3,87.1 188.7,88.9" fill="#ffe644" stroke="#ffe644"/><polygon points="188.7,88.9 191.3,87.1 188.8,85.7 186.2,87.5" fill="#ffdf46" stroke="#ffdf46"/><polygon points="193.8,88.6 196.4,87.0 193.9,85.5 191.3,87.1" fill="#ffdb41" stroke="#ffdb41"/><polygon points="191.3,87.1 193.9,85.5 191.4,84.1 188.8,85.7" fill="#ffd443" stroke="#ffd443"/><polygon points="191.2,90.2 196.4,87.0 191.4,84.1 186.2,87.5" fill="none" stroke="#786820" stroke-width="0.6"/><polygon points="247.7,98.6 250.1,98.3 247.5,96.5 245.0,96.8" fill="#b5f111" stroke="#b5f111"/><polygon points="245.0,96.8 247.5,96.5 244.8,94.6 242.4,95.1" fill="#c4f313" stroke="#c4f313"/><polygon points="250.1,98.3 252.5,98.0 249.9,96.1 247.5,96.5" fill="#aded0e" stroke="#aded0e"/><polygon points="247.5,96.5 249.9,96.1 247.3,94.3 244.8,94.6" fill="#bdef10" stroke="#bdef10"/><polygon points="247.7,98.6 252.5,98.0 247.3,94.3 242.4,95.1" fill="none" stroke="#577108" stroke-width="0.6"/><polygon points="237.4,96.2 239.9,95.6 237.3,93.8 234.8,94.5" fill="#defc1b" stroke="#defc1b"/><polygon points="234.8,94.5 237.3,93.8 234.7,92.1 232.2,92.8" fill="#edfe1d" stroke="#edfe1d"/><polygon points="239.9,95.6 242.4,95.1 239.8,93.3 237.3,93.8" fill="#d9f818" stroke="#d9f818"/><polygon points="237.3,93.8 239.8,93.3 237.1,91.5 234.7,92.1" fill="#e8fa1a" stroke="#e8fa1a"/><polygon points="237.4,96.2 242.4,95.1 237.1,91.5 232.2,92.8" fill="none" stroke="#6b760c" stroke-width="0.6"/><polygon points="165.4,97.6 168.1,95.2 165.6,94.1 162.9,96.5" fill="#e3ff5a" stroke="#e3ff5a"/><polygon points="162.9,96.5 165.6,94.1 163.2,92.9 160.5,95.3" fill="#e7ff5b" stroke="#e7ff5b"/><polygon points="168.1,95.2 170.7,93.0 168.2,91.7 165.6,94.1" fill="#f1ff57" stroke="#f1ff57"/><polygon points="165.6,94.1 168.2,91.7 165.8,90.5 163.2,92.9" fill="#f6ff59" stroke="#f6ff59"/><polygon points="165.4,97.6 170.7,93.0 165.8,90.5 160.5,95.3" fill="none" stroke="#6f782a" stroke-width="0.6"/><polygon points="227.2,94.4 229.7,93.5 227.1,91.9 224.6,92.8" fill="#f8ff25" stroke="#f8ff25"/><polygon points="224.6,92.8 227.1,91.9 224.5,90.2 222.0,91.1" fill="#fffa27" stroke="#fffa27"/><polygon points="229.7,93.5 232.2,92.8 229.6,91.1 227.1,91.9" fill="#faff22" stroke="#faff22"/><polygon points="227.1,91.9 229.6,91.1 227.0,89.4 224.5,90.2" fill="#fff824" stroke="#fff824"/><polygon points="227.2,94.4 232.2,92.8 227.0,89.4 222.0,91.1" fill="none" stroke="#787811" stroke-width="0.6"/><polygon points="263.3,105.5 265.6,105.5 263.0,103.6 260.6,103.6" fill="#65e305" stroke="#65e305"/><polygon points="260.6,103.6 263.0,103.6 260.3,101.6 257.9,101.8" fill="#75e407" stroke="#75e407"/><polygon points="265.6,105.5 268.0,105.5 265.3,103.6 263.0,103.6" fill="#5adf03" stroke="#5adf03"/><polygon points="263.0,103.6 265.3,103.6 262.7,101.6 260.3,101.6" fill="#6ae104" stroke="#6ae104"/><polygon points="263.3,105.5 268.0,105.5 262.7,101.6 257.9,101.8" fill="none" stroke="#316a02" stroke-width="0.6"/><polygon points="175.7,95.4 178.3,93.3 175.8,92.0 173.2,94.2" fill="#f5ff52" stroke="#f5ff52"/><polygon points="173.2,94.2 175.8,92.0 173.3,90.8 170.7,93.0" fill="#faff54" stroke="#faff54"/><polygon points="178.3,93.3 180.9,91.3 178.4,90.0 175.8,92.0" fill="#fffc50" stroke="#fffc50"/><polygon points="175.8,92.0 178.4,90.0 176.0,88.7 173.3,90.8" fill="#fff751" stroke="#fff751"/><polygon points="175.7,95.4 180.9,91.3 176.0,88.7 170.7,93.0" fill="none" stroke="#787826" stroke-width="0.6"/><polygon points="216.9,93.2 219.4,92.1 216.8,90.6 214.3,91.7" fill="#fff82f" stroke="#fff82f"/><polygon points="214.3,91.7 216.8,90.6 214.3,89.0 211.7,90.2" fill="#ffee30" stroke="#ffee30"/><polygon points="219.4,92.1 222.0,91.1 219.4,89.5 216.8,90.6" fill="#fff32c" stroke="#fff32c"/><polygon points="216.8,90.6 219.4,89.5 216.8,87.9 214.3,89.0" fill="#ffe92d" stroke="#ffe92d"/><polygon points="216.9,93.2 222.0,91.1 216.8,87.9 211.7,90.2" fill="none" stroke="#787116" stroke-width="0.6"/><polygon points="185.9,93.9 188.6,92.0 186.1,90.7 183.4,92.6" fill="#fffc4a" stroke="#fffc4a"/><polygon points="183.4,92.6 186.1,90.7 183.6,89.3 180.9,91.3" fill="#fff64b" stroke="#fff64b"/><polygon points="188.6,92.0 191.2,90.2 188.7,88.9 186.1,90.7" fill="#fff047" stroke="#fff047"/><polygon points="186.1,90.7 188.7,88.9 186.2,87.5 183.6,89.3" fill="#ffea49" stroke="#ffea49"/><polygon points="185.9,93.9 191.2,90.2 186.2,87.5 180.9,91.3" fill="none" stroke="#787222" stroke-width="0.6"/><polygon points="206.6,92.8 209.1,91.4 206.6,89.9 204.0,91.3" fill="#fff238" stroke="#fff238"/><polygon points="204.0,91.3 206.6,89.9 204.0,88.4 201.4,89.9" fill="#ffea3a" stroke="#ffea3a"/><polygon points="209.1,91.4 211.7,90.2 209.1,88.6 206.6,89.9" fill="#ffeb35" stroke="#ffeb35"/><polygon points="206.6,89.9 209.1,88.6 206.6,87.1 204.0,88.4" fill="#ffe237" stroke="#ffe237"/><polygon points="206.6,92.8 211.7,90.2 206.6,87.1 201.4,89.9" fill="none" stroke="#786e1a" stroke-width="0.6"/><polygon points="196.2,93.0 198.9,91.4 196.3,90.0 193.7,91.6" fill="#fff441" stroke="#fff441"/><polygon points="193.7,91.6 196.3,90.0 193.8,88.6 191.2,90.2" fill="#ffed43" stroke="#ffed43"/><polygon points="198.9,91.4 201.4,89.9 198.9,88.4 196.3,90.0" fill="#ffea3e" stroke="#ffea3e"/><polygon points="196.3,90.0 198.9,88.4 196.4,87.0 193.8,88.6" fill="#ffe340" stroke="#ffe340"/><polygon points="196.2,93.0 201.4,89.9 196.4,87.0 191.2,90.2" fill="none" stroke="#786f1e" stroke-width="0.6"/><polygon points="253.0,102.2 255.5,102.0 252.8,100.1 250.3,100.4" fill="#97ed0e" stroke="#97ed0e"/><polygon points="250.3,100.4 252.8,100.1 250.1,98.3 247.7,98.6" fill="#a6ef10" stroke="#a6ef10"/><polygon points="255.5,102.0 257.9,101.8 255.2,99.9 252.8,100.1" fill="#8eea0b" stroke="#8eea0b"/><polygon points="252.8,100.1 255.2,99.9 252.5,98.0 250.1,98.3" fill="#9eeb0d" stroke="#9eeb0d"/><polygon points="253.0,102.2 257.9,101.8 252.5,98.0 247.7,98.6" fill="none" stroke="#496f06" stroke-width="0.6"/><polygon points="160.1,102.6 162.7,100.1 160.3,99.0 157.6,101.5" fill="#c6ff5e" stroke="#c6ff5e"/><polygon points="157.6,101.5 160.3,99.0 157.8,97.8 155.2,100.5" fill="#c9ff60" stroke="#c9ff60"/><polygon points="162.7,100.1 165.4,97.6 162.9,96.5 160.3,99.0" fill="#d4ff5c" stroke="#d4ff5c"/><polygon points="160.3,99.0 162.9,96.5 160.5,95.3 157.8,97.8" fill="#d8ff5d" stroke="#d8ff5d"/><polygon points="160.1,102.6 165.4,97.6 160.5,95.3 155.2,100.5" fill="none" stroke="#61782c" stroke-width="0.6"/><polygon points="242.7,99.6 245.2,99.1 242.6,97.3 240.1,97.9" fill="#c2f818" stroke="#c2f818"/><polygon points="240.1,97.9 242.6,97.3 239.9,95.6 237.4,96.2" fill="#d0fa19" stroke="#d0fa19"/><polygon points="245.2,99.1 247.7,98.6 245.0,96.8 242.6,97.3" fill="#bcf414" stroke="#bcf414"/><polygon points="242.6,97.3 245.0,96.8 242.4,95.1 239.9,95.6" fill="#cbf616" stroke="#cbf616"/><polygon points="242.7,99.6 247.7,98.6 242.4,95.1 237.4,96.2" fill="none" stroke="#5d740b" stroke-width="0.6"/><polygon points="268.7,109.3 271.1,109.3 268.3,107.4 266.0,107.4" fill="#46df03" stroke="#46df03"/><polygon points="266.0,107.4 268.3,107.4 265.6,105.5 263.3,105.5" fill="#56e104" stroke="#56e104"/><polygon points="271.1,109.3 273.4,109.5 270.7,107.5 268.3,107.4" fill="#3adc00" stroke="#3adc00"/><polygon points="268.3,107.4 270.7,107.5 268.0,105.5 265.6,105.5" fill="#4ade02" stroke="#4ade02"/><polygon points="268.7,109.3 273.4,109.5 268.0,105.5 263.3,105.5" fill="none" stroke="#226901" stroke-width="0.6"/><polygon points="170.3,99.9 173.0,97.6 170.5,96.4 167.9,98.7" fill="#daff57" stroke="#daff57"/><polygon points="167.9,98.7 170.5,96.4 168.1,95.2 165.4,97.6" fill="#dfff59" stroke="#dfff59"/><polygon points="173.0,97.6 175.7,95.4 173.2,94.2 170.5,96.4" fill="#e8ff55" stroke="#e8ff55"/><polygon points="170.5,96.4 173.2,94.2 170.7,93.0 168.1,95.2" fill="#edff56" stroke="#edff56"/><polygon points="170.3,99.9 175.7,95.4 170.7,93.0 165.4,97.6" fill="none" stroke="#6b7829" stroke-width="0.6"/><polygon points="232.4,97.6 234.9,96.9 232.3,95.2 229.8,96.0" fill="#e2ff22" stroke="#e2ff22"/><polygon points="229.8,96.0 232.3,95.2 229.7,93.5 227.2,94.4" fill="#edff24" stroke="#edff24"/><polygon points="234.9,96.9 237.4,96.2 234.8,94.5 232.3,95.2" fill="#e2ff1f" stroke="#e2ff1f"/><polygon points="232.3,95.2 234.8,94.5 232.2,92.8 229.7,93.5" fill="#eeff20" stroke="#eeff20"/><polygon points="232.4,97.6 237.4,96.2 232.2,92.8 227.2,94.4" fill="none" stroke="#6d7810" stroke-width="0.6"/><polygon points="180.7,97.8 183.3,95.8 180.8,94.5 178.2,96.6" fill="#ebff4f" stroke="#ebff4f"/><polygon points="178.2,96.6 180.8,94.5 178.3,93.3 175.7,95.4" fill="#f0ff51" stroke="#f0ff51"/><polygon points="183.3,95.8 185.9,93.9 183.4,92.6 180.8,94.5" fill="#f7ff4d" stroke="#f7ff4d"/><polygon points="180.8,94.5 183.4,92.6 180.9,91.3 178.3,93.3" fill="#fcff4e" stroke="#fcff4e"/><polygon points="180.7,97.8 185.9,93.9 180.9,91.3 175.7,95.4" fill="none" stroke="#727825" stroke-width="0.6"/><polygon points="222.1,96.3 224.6,95.3 222.0,93.7 219.5,94.8" fill="#f3ff2b" stroke="#f3ff2b"/><polygon points="219.5,94.8 222.0,93.7 219.4,92.1 216.9,93.2" fill="#fdff2d" stroke="#fdff2d"/><polygon points="224.6,95.3 227.2,94.4 224.6,92.8 222.0,93.7" fill="#f6ff28" stroke="#f6ff28"/><polygon points="222.0,93.7 224.6,92.8 222.0,91.1 219.4,92.1" fill="#fffd2a" stroke="#fffd2a"/><polygon points="222.1,96.3 227.2,94.4 222.0,91.1 216.9,93.2" fill="none" stroke="#757814" stroke-width="0.6"/><polygon points="191.0,96.5 193.6,94.7 191.1,93.3 188.5,95.2" fill="#f6ff47" stroke="#f6ff47"/><polygon points="188.5,95.2 191.1,93.3 188.6,92.0 185.9,93.9" fill="#fcff49" stroke="#fcff49"/><polygon points="193.6,94.7 196.2,93.0 193.7,91.6 191.1,93.3" fill="#fffd44" stroke="#fffd44"/><polygon points="191.1,93.3 193.7,91.6 191.2,90.2 188.6,92.0" fill="#fff746" stroke="#fff746"/><polygon points="191.0,96.5 196.2,93.0 191.2,90.2 185.9,93.9" fill="none" stroke="#787821" stroke-width="0.6"/><polygon points="211.7,95.7 214.3,94.4 211.7,92.9 209.1,94.2" fill="#fbff35" stroke="#fbff35"/><polygon points="209.1,94.2 211.7,92.9 209.1,91.4 206.6,92.8" fill="#fffa37" stroke="#fffa37"/><polygon points="214.3,94.4 216.9,93.2 214.3,91.7 211.7,92.9" fill="#fffd32" stroke="#fffd32"/><polygon points="211.7,92.9 214.3,91.7 211.7,90.2 209.1,91.4" fill="#fff434" stroke="#fff434"/><polygon points="211.7,95.7 216.9,93.2 211.7,90.2 206.6,92.8" fill="none" stroke="#787619" stroke-width="0.6"/><polygon points="201.4,95.8 204.0,94.2 201.4,92.8 198.8,94.4" fill="#fcff3e" stroke="#fcff3e"/><polygon points="198.8,94.4 201.4,92.8 198.9,91.4 196.2,93.0" fill="#fffb40" stroke="#fffb40"/><polygon points="204.0,94.2 206.6,92.8 204.0,91.3 201.4,92.8" fill="#fffa3b" stroke="#fffa3b"/><polygon points="201.4,92.8 204.0,91.3 201.4,89.9 198.9,91.4" fill="#fff23d" stroke="#fff23d"/><polygon points="201.4,95.8 206.6,92.8 201.4,89.9 196.2,93.0" fill="none" stroke="#78761d" stroke-width="0.6"/><polygon points="258.4,105.8 260.8,105.6 258.1,103.8 255.7,104.0" fill="#79e90b" stroke="#79e90b"/><polygon points="255.7,104.0 258.1,103.8 255.5,102.0 253.0,102.2" fill="#88eb0c" stroke="#88eb0c"/><polygon points="260.8,105.6 263.3,105.5 260.6,103.6 258.1,103.8" fill="#70e608" stroke="#70e608"/><polygon points="258.1,103.8 260.6,103.6 257.9,101.8 255.5,102.0" fill="#7fe80a" stroke="#7fe80a"/><polygon points="258.4,105.8 263.3,105.5 257.9,101.8 253.0,102.2" fill="none" stroke="#3a6d05" stroke-width="0.6"/><polygon points="154.7,108.0 157.4,105.3 154.9,104.2 152.2,107.0" fill="#a7ff63" stroke="#a7ff63"/><polygon points="152.2,107.0 154.9,104.2 152.5,103.2 149.8,106.0" fill="#aaff64" stroke="#aaff64"/><polygon points="157.4,105.3 160.1,102.6 157.6,101.5 154.9,104.2" fill="#b6ff61" stroke="#b6ff61"/><polygon points="154.9,104.2 157.6,101.5 155.2,100.5 152.5,103.2" fill="#baff62" stroke="#baff62"/><polygon points="154.7,108.0 160.1,102.6 155.2,100.5 149.8,106.0" fill="none" stroke="#53782e" stroke-width="0.6"/><polygon points="248.1,103.0 250.6,102.6 247.9,100.8 245.4,101.3" fill="#a6f414" stroke="#a6f414"/><polygon points="245.4,101.3 247.9,100.8 245.2,99.1 242.7,99.6" fill="#b4f616" stroke="#b4f616"/><polygon points="250.6,102.6 253.0,102.2 250.3,100.4 247.9,100.8" fill="#9ff011" stroke="#9ff011"/><polygon points="247.9,100.8 250.3,100.4 247.7,98.6 245.2,99.1" fill="#adf213" stroke="#adf213"/><polygon points="248.1,103.0 253.0,102.2 247.7,98.6 242.7,99.6" fill="none" stroke="#507209" stroke-width="0.6"/><polygon points="165.0,104.8 167.7,102.3 165.2,101.2 162.5,103.7" fill="#beff5c" stroke="#beff5c"/><polygon points="162.5,103.7 165.2,101.2 162.7,100.1 160.1,102.6" fill="#c2ff5d" stroke="#c2ff5d"/><polygon points="167.7,102.3 170.3,99.9 167.9,98.7 165.2,101.2" fill="#ccff5a" stroke="#ccff5a"/><polygon points="165.2,101.2 167.9,98.7 165.4,97.6 162.7,100.1" fill="#d0ff5b" stroke="#d0ff5b"/><polygon points="165.0,104.8 170.3,99.9 165.4,97.6 160.1,102.6" fill="none" stroke="#5e782b" stroke-width="0.6"/><polygon points="274.2,113.1 276.5,113.2 273.8,111.3 271.4,111.2" fill="#28dc00" stroke="#28dc00"/><polygon points="271.4,111.2 273.8,111.3 271.1,109.3 268.7,109.3" fill="#37dd01" stroke="#37dd01"/><polygon points="276.5,113.2 278.9,113.4 276.1,111.4 273.8,111.3" fill="#1dd800" stroke="#1dd800"/><polygon points="273.8,111.3 276.1,111.4 273.4,109.5 271.1,109.3" fill="#2bda00" stroke="#2bda00"/><polygon points="274.2,113.1 278.9,113.4 273.4,109.5 268.7,109.3" fill="none" stroke="#146700" stroke-width="0.6"/><polygon points="237.7,100.9 240.3,100.2 237.6,98.5 235.1,99.3" fill="#cbff1f" stroke="#cbff1f"/><polygon points="235.1,99.3 237.6,98.5 234.9,96.9 232.4,97.6" fill="#d6ff20" stroke="#d6ff20"/><polygon points="240.3,100.2 242.7,99.6 240.1,97.9 237.6,98.5" fill="#c7fb1b" stroke="#c7fb1b"/><polygon points="237.6,98.5 240.1,97.9 237.4,96.2 234.9,96.9" fill="#d4fd1d" stroke="#d4fd1d"/><polygon points="237.7,100.9 242.7,99.6 237.4,96.2 232.4,97.6" fill="none" stroke="#62770e" stroke-width="0.6"/><polygon points="175.3,102.2 178.0,100.0 175.5,98.8 172.8,101.0" fill="#d1ff55" stroke="#d1ff55"/><polygon points="172.8,101.0 175.5,98.8 173.0,97.6 170.3,99.9" fill="#d6ff56" stroke="#d6ff56"/><polygon points="178.0,100.0 180.7,97.8 178.2,96.6 175.5,98.8" fill="#deff52" stroke="#deff52"/><polygon points="175.5,98.8 178.2,96.6 175.7,95.4 173.0,97.6" fill="#e3ff53" stroke="#e3ff53"/><polygon points="175.3,102.2 180.7,97.8 175.7,95.4 170.3,99.9" fill="none" stroke="#677828" stroke-width="0.6"/><polygon points="227.4,99.4 229.9,98.5 227.3,96.9 224.7,97.9" fill="#dfff28" stroke="#dfff28"/><polygon points="224.7,97.9 227.3,96.9 224.6,95.3 222.1,96.3" fill="#e9ff2a" stroke="#e9ff2a"/><polygon points="229.9,98.5 232.4,97.6 229.8,96.0 227.3,96.9" fill="#e1ff25" stroke="#e1ff25"/><polygon points="227.3,96.9 229.8,96.0 227.2,94.4 224.6,95.3" fill="#ecff27" stroke="#ecff27"/><polygon points="227.4,99.4 232.4,97.6 227.2,94.4 222.1,96.3" fill="none" stroke="#6c7813" stroke-width="0.6"/><polygon points="185.7,100.3 188.4,98.3 185.8,97.1 183.2,99.1" fill="#e0ff4d" stroke="#e0ff4d"/><polygon points="183.2,99.1 185.8,97.1 183.3,95.8 180.7,97.8" fill="#e5ff4e" stroke="#e5ff4e"/><polygon points="188.4,98.3 191.0,96.5 188.5,95.2 185.8,97.1" fill="#ebff4a" stroke="#ebff4a"/><polygon points="185.8,97.1 188.5,95.2 185.9,93.9 183.3,95.8" fill="#f1ff4b" stroke="#f1ff4b"/><polygon points="185.7,100.3 191.0,96.5 185.9,93.9 180.7,97.8" fill="none" stroke="#6d7824" stroke-width="0.6"/><polygon points="217.0,98.7 219.5,97.5 216.9,95.9 214.3,97.2" fill="#eaff32" stroke="#eaff32"/><polygon points="214.3,97.2 216.9,95.9 214.3,94.4 211.7,95.7" fill="#f3ff33" stroke="#f3ff33"/><polygon points="219.5,97.5 222.1,96.3 219.5,94.8 216.9,95.9" fill="#efff2f" stroke="#efff2f"/><polygon points="216.9,95.9 219.5,94.8 216.9,93.2 214.3,94.4" fill="#f8ff30" stroke="#f8ff30"/><polygon points="217.0,98.7 222.1,96.3 216.9,93.2 211.7,95.7" fill="none" stroke="#717817" stroke-width="0.6"/><polygon points="149.3,113.7 152.0,110.8 149.5,109.9 146.8,112.8" fill="#87ff67" stroke="#87ff67"/><polygon points="146.8,112.8 149.5,109.9 147.1,108.9 144.4,111.9" fill="#8aff68" stroke="#8aff68"/><polygon points="152.0,110.8 154.7,108.0 152.2,107.0 149.5,109.9" fill="#97ff65" stroke="#97ff65"/><polygon points="149.5,109.9 152.2,107.0 149.8,106.0 147.1,108.9" fill="#9aff66" stroke="#9aff66"/><polygon points="149.3,113.7 154.7,108.0 149.8,106.0 144.4,111.9" fill="none" stroke="#447830" stroke-width="0.6"/><polygon points="196.1,99.1 198.7,97.4 196.2,96.0 193.6,97.8" fill="#eaff44" stroke="#eaff44"/><polygon points="193.6,97.8 196.2,96.0 193.6,94.7 191.0,96.5" fill="#f0ff46" stroke="#f0ff46"/><polygon points="198.7,97.4 201.4,95.8 198.8,94.4 196.2,96.0" fill="#f3ff41" stroke="#f3ff41"/><polygon points="196.2,96.0 198.8,94.4 196.2,93.0 193.6,94.7" fill="#faff43" stroke="#faff43"/><polygon points="196.1,99.1 201.4,95.8 196.2,93.0 191.0,96.5" fill="none" stroke="#727820" stroke-width="0.6"/><polygon points="263.9,109.5 266.3,109.3 263.6,107.5 261.1,107.7" fill="#5ce608" stroke="#5ce608"/><polygon points="261.1,107.7 263.6,107.5 260.8,105.6 258.4,105.8" fill="#6ae709" stroke="#6ae709"/><polygon points="266.3,109.3 268.7,109.3 266.0,107.4 263.6,107.5" fill="#51e205" stroke="#51e205"/><polygon points="263.6,107.5 266.0,107.4 263.3,105.5 260.8,105.6" fill="#61e407" stroke="#61e407"/><polygon points="263.9,109.5 268.7,109.3 263.3,105.5 258.4,105.8" fill="none" stroke="#2c6c03" stroke-width="0.6"/><polygon points="206.5,98.5 209.1,97.1 206.5,95.6 203.9,97.1" fill="#edff3b" stroke="#edff3b"/><polygon points="203.9,97.1 206.5,95.6 204.0,94.2 201.4,95.8" fill="#f5ff3d" stroke="#f5ff3d"/><polygon points="209.1,97.1 211.7,95.7 209.1,94.2 206.5,95.6" fill="#f5ff38" stroke="#f5ff38"/><polygon points="206.5,95.6 209.1,94.2 206.6,92.8 204.0,94.2" fill="#fdff3a" stroke="#fdff3a"/><polygon points="206.5,98.5 211.7,95.7 206.6,92.8 201.4,95.8" fill="none" stroke="#73781b" stroke-width="0.6"/><polygon points="159.6,110.0 162.3,107.3 159.8,106.3 157.1,109.0" fill="#a1ff61" stroke="#a1ff61"/><polygon points="157.1,109.0 159.8,106.3 157.4,105.3 154.7,108.0" fill="#a4ff62" stroke="#a4ff62"/><polygon points="162.3,107.3 165.0,104.8 162.5,103.7 159.8,106.3" fill="#b0ff5e" stroke="#b0ff5e"/><polygon points="159.8,106.3 162.5,103.7 160.1,102.6 157.4,105.3" fill="#b3ff5f" stroke="#b3ff5f"/><polygon points="159.6,110.0 165.0,104.8 160.1,102.6 154.7,108.0" fill="none" stroke="#50782d" stroke-width="0.6"/><polygon points="253.5,106.5 256.0,106.1 253.3,104.4 250.8,104.8" fill="#8af011" stroke="#8af011"/><polygon points="250.8,104.8 253.3,104.4 250.6,102.6 248.1,103.0" fill="#98f212" stroke="#98f212"/><polygon points="256.0,106.1 258.4,105.8 255.7,104.0 253.3,104.4" fill="#82ed0e" stroke="#82ed0e"/><polygon points="253.3,104.4 255.7,104.0 253.0,102.2 250.6,102.6" fill="#90ef0f" stroke="#90ef0f"/><polygon points="253.5,106.5 258.4,105.8 253.0,102.2 248.1,103.0" fill="none" stroke="#427008" stroke-width="0.6"/><polygon points="279.7,116.9 282.0,117.1 279.3,115.2 276.9,115.0" fill="#0cd800" stroke="#0cd800"/><polygon points="276.9,115.0 279.3,115.2 276.5,113.2 274.2,113.1" fill="#1ada00" stroke="#1ada00"/><polygon points="282.0,117.1 284.4,117.4 281.6,115.4 279.3,115.2" fill="#01d500" stroke="#01d500"/><polygon points="279.3,115.2 281.6,115.4 278.9,113.4 276.5,113.2" fill="#0fd700" stroke="#0fd700"/><polygon points="279.7,116.9 284.4,117.4 278.9,113.4 274.2,113.1" fill="none" stroke="#066500" stroke-width="0.6"/><polygon points="170.0,106.9 172.7,104.5 170.2,103.4 167.5,105.8" fill="#b7ff5a" stroke="#b7ff5a"/><polygon points="167.5,105.8 170.2,103.4 167.7,102.3 165.0,104.8" fill="#baff5b" stroke="#baff5b"/><polygon points="172.7,104.5 175.3,102.2 172.8,101.0 170.2,103.4" fill="#c4ff57" stroke="#c4ff57"/><polygon points="170.2,103.4 172.8,101.0 170.3,99.9 167.7,102.3" fill="#c8ff58" stroke="#c8ff58"/><polygon points="170.0,106.9 175.3,102.2 170.3,99.9 165.0,104.8" fill="none" stroke="#5a782a" stroke-width="0.6"/><polygon points="243.1,104.2 245.6,103.6 242.9,101.9 240.4,102.6" fill="#b1fb1b" stroke="#b1fb1b"/><polygon points="240.4,102.6 242.9,101.9 240.3,100.2 237.7,100.9" fill="#befd1d" stroke="#befd1d"/><polygon points="245.6,103.6 248.1,103.0 245.4,101.3 242.9,101.9" fill="#acf717" stroke="#acf717"/><polygon points="242.9,101.9 245.4,101.3 242.7,99.6 240.3,100.2" fill="#b9f919" stroke="#b9f919"/><polygon points="243.1,104.2 248.1,103.0 242.7,99.6 237.7,100.9" fill="none" stroke="#55760c" stroke-width="0.6"/><polygon points="143.8,119.9 146.6,116.8 144.1,115.9 141.4,119.0" fill="#6bff6f" stroke="#6bff6f"/><polygon points="141.4,119.0 144.1,115.9 141.7,115.0 139.0,118.1" fill="#6bff6f" stroke="#6bff6f"/><polygon points="146.6,116.8 149.3,113.7 146.8,112.8 144.1,115.9" fill="#77ff69" stroke="#77ff69"/><polygon points="144.1,115.9 146.8,112.8 144.4,111.9 141.7,115.0" fill="#79ff6a" stroke="#79ff6a"/><polygon points="143.8,119.9 149.3,113.7 144.4,111.9 139.0,118.1" fill="none" stroke="#357832" stroke-width="0.6"/><polygon points="180.4,104.5 183.1,102.4 180.5,101.2 177.9,103.4" fill="#c8ff52" stroke="#c8ff52"/><polygon points="177.9,103.4 180.5,101.2 178.0,100.0 175.3,102.2" fill="#cdff53" stroke="#cdff53"/><polygon points="183.1,102.4 185.7,100.3 183.2,99.1 180.5,101.2" fill="#d4ff4f" stroke="#d4ff4f"/><polygon points="180.5,101.2 183.2,99.1 180.7,97.8 178.0,100.0" fill="#d9ff51" stroke="#d9ff51"/><polygon points="180.4,104.5 185.7,100.3 180.7,97.8 175.3,102.2" fill="none" stroke="#627826" stroke-width="0.6"/><polygon points="232.7,102.6 235.2,101.7 232.6,100.1 230.0,101.0" fill="#cbff25" stroke="#cbff25"/><polygon points="230.0,101.0 232.6,100.1 229.9,98.5 227.4,99.4" fill="#d5ff26" stroke="#d5ff26"/><polygon points="235.2,101.7 237.7,100.9 235.1,99.3 232.6,100.1" fill="#cbff22" stroke="#cbff22"/><polygon points="232.6,100.1 235.1,99.3 232.4,97.6 229.9,98.5" fill="#d6ff23" stroke="#d6ff23"/><polygon points="232.7,102.6 237.7,100.9 232.4,97.6 227.4,99.4" fill="none" stroke="#627811" stroke-width="0.6"/><polygon points="269.4,113.1 271.8,113.1 269.0,111.2 266.6,111.3" fill="#3fe205" stroke="#3fe205"/><polygon points="266.6,111.3 269.0,111.2 266.3,109.3 263.9,109.5" fill="#4de406" stroke="#4de406"/><polygon points="271.8,113.1 274.2,113.1 271.4,111.2 269.0,111.2" fill="#34df02" stroke="#34df02"/><polygon points="269.0,111.2 271.4,111.2 268.7,109.3 266.3,109.3" fill="#43e004" stroke="#43e004"/><polygon points="269.4,113.1 274.2,113.1 268.7,109.3 263.9,109.5" fill="none" stroke="#1e6a02" stroke-width="0.6"/><polygon points="190.8,102.8 193.5,100.9 190.9,99.6 188.3,101.5" fill="#d5ff4a" stroke="#d5ff4a"/><polygon points="188.3,101.5 190.9,99.6 188.4,98.3 185.7,100.3" fill="#dbff4b" stroke="#dbff4b"/><polygon points="193.5,100.9 196.1,99.1 193.6,97.8 190.9,99.6" fill="#e0ff47" stroke="#e0ff47"/><polygon points="190.9,99.6 193.6,97.8 191.0,96.5 188.4,98.3" fill="#e6ff48" stroke="#e6ff48"/><polygon points="190.8,102.8 196.1,99.1 191.0,96.5 185.7,100.3" fill="none" stroke="#687822" stroke-width="0.6"/><polygon points="222.2,101.6 224.8,100.5 222.2,99.0 219.6,100.1" fill="#d8ff2e" stroke="#d8ff2e"/><polygon points="219.6,100.1 222.2,99.0 219.5,97.5 217.0,98.7" fill="#e1ff30" stroke="#e1ff30"/><polygon points="224.8,100.5 227.4,99.4 224.7,97.9 222.2,99.0" fill="#dcff2b" stroke="#dcff2b"/><polygon points="222.2,99.0 224.7,97.9 222.1,96.3 219.5,97.5" fill="#e6ff2d" stroke="#e6ff2d"/><polygon points="222.2,101.6 227.4,99.4 222.1,96.3 217.0,98.7" fill="none" stroke="#697815" stroke-width="0.6"/><polygon points="201.3,101.7 203.9,100.1 201.3,98.7 198.7,100.4" fill="#ddff41" stroke="#ddff41"/><polygon points="198.7,100.4 201.3,98.7 198.7,97.4 196.1,99.1" fill="#e3ff43" stroke="#e3ff43"/><polygon points="203.9,100.1 206.5,98.5 203.9,97.1 201.3,98.7" fill="#e5ff3e" stroke="#e5ff3e"/><polygon points="201.3,98.7 203.9,97.1 201.4,95.8 198.7,97.4" fill="#ecff40" stroke="#ecff40"/><polygon points="201.3,101.7 206.5,98.5 201.4,95.8 196.1,99.1" fill="none" stroke="#6b781e" stroke-width="0.6"/><polygon points="211.8,101.3 214.4,99.9 211.7,98.5 209.1,99.9" fill="#deff38" stroke="#deff38"/><polygon points="209.1,99.9 211.7,98.5 209.1,97.1 206.5,98.5" fill="#e6ff3a" stroke="#e6ff3a"/><polygon points="214.4,99.9 217.0,98.7 214.3,97.2 211.7,98.5" fill="#e5ff35" stroke="#e5ff35"/><polygon points="211.7,98.5 214.3,97.2 211.7,95.7 209.1,97.1" fill="#edff36" stroke="#edff36"/><polygon points="211.8,101.3 217.0,98.7 211.7,95.7 206.5,98.5" fill="none" stroke="#6c781a" stroke-width="0.6"/><polygon points="154.2,115.6 156.9,112.8 154.4,111.8 151.7,114.7" fill="#82ff65" stroke="#82ff65"/><polygon points="151.7,114.7 154.4,111.8 152.0,110.8 149.3,113.7" fill="#85ff66" stroke="#85ff66"/><polygon points="156.9,112.8 159.6,110.0 157.1,109.0 154.4,111.8" fill="#92ff63" stroke="#92ff63"/><polygon points="154.4,111.8 157.1,109.0 154.7,108.0 152.0,110.8" fill="#94ff64" stroke="#94ff64"/><polygon points="154.2,115.6 159.6,110.0 154.7,108.0 149.3,113.7" fill="none" stroke="#42782f" stroke-width="0.6"/><polygon points="259.0,110.0 261.4,109.7 258.7,107.9 256.2,108.2" fill="#6eec0d" stroke="#6eec0d"/><polygon points="256.2,108.2 258.7,107.9 256.0,106.1 253.5,106.5" fill="#7cee0f" stroke="#7cee0f"/><polygon points="261.4,109.7 263.9,109.5 261.1,107.7 258.7,107.9" fill="#65e90a" stroke="#65e90a"/><polygon points="258.7,107.9 261.1,107.7 258.4,105.8 256.0,106.1" fill="#74eb0c" stroke="#74eb0c"/><polygon points="259.0,110.0 263.9,109.5 258.4,105.8 253.5,106.5" fill="none" stroke="#356f06" stroke-width="0.6"/><polygon points="138.4,126.4 141.1,123.1 138.7,122.2 136.0,125.6" fill="#6eff97" stroke="#6eff97"/><polygon points="136.0,125.6 138.7,122.2 136.3,121.4 133.6,124.8" fill="#6fff98" stroke="#6fff98"/><polygon points="141.1,123.1 143.8,119.9 141.4,119.0 138.7,122.2" fill="#6cff83" stroke="#6cff83"/><polygon points="138.7,122.2 141.4,119.0 139.0,118.1 136.3,121.4" fill="#6dff83" stroke="#6dff83"/><polygon points="138.4,126.4 143.8,119.9 139.0,118.1 133.6,124.8" fill="none" stroke="#347842" stroke-width="0.6"/><polygon points="285.3,120.8 287.6,121.0 284.8,119.1 282.5,118.9" fill="#00d50e" stroke="#00d50e"/><polygon points="282.5,118.9 284.8,119.1 282.0,117.1 279.7,116.9" fill="#00d601" stroke="#00d601"/><polygon points="287.6,121.0 289.9,121.4 287.2,119.4 284.8,119.1" fill="#00d21a" stroke="#00d21a"/><polygon points="284.8,119.1 287.2,119.4 284.4,117.4 282.0,117.1" fill="#00d30d" stroke="#00d30d"/><polygon points="285.3,120.8 289.9,121.4 284.4,117.4 279.7,116.9" fill="none" stroke="#006406" stroke-width="0.6"/><polygon points="164.6,112.0 167.3,109.4 164.8,108.4 162.1,111.0" fill="#9bff5e" stroke="#9bff5e"/><polygon points="162.1,111.0 164.8,108.4 162.3,107.3 159.6,110.0" fill="#9eff5f" stroke="#9eff5f"/><polygon points="167.3,109.4 170.0,106.9 167.5,105.8 164.8,108.4" fill="#a9ff5c" stroke="#a9ff5c"/><polygon points="164.8,108.4 167.5,105.8 165.0,104.8 162.3,107.3" fill="#acff5d" stroke="#acff5d"/><polygon points="164.6,112.0 170.0,106.9 165.0,104.8 159.6,110.0" fill="none" stroke="#4d782c" stroke-width="0.6"/><polygon points="248.5,107.5 251.0,107.0 248.3,105.3 245.8,105.9" fill="#97f717" stroke="#97f717"/><polygon points="245.8,105.9 248.3,105.3 245.6,103.6 243.1,104.2" fill="#a4f919" stroke="#a4f919"/><polygon points="251.0,107.0 253.5,106.5 250.8,104.8 248.3,105.3" fill="#91f414" stroke="#91f414"/><polygon points="248.3,105.3 250.8,104.8 248.1,103.0 245.6,103.6" fill="#9ef616" stroke="#9ef616"/><polygon points="248.5,107.5 253.5,106.5 248.1,103.0 243.1,104.2" fill="none" stroke="#49740a" stroke-width="0.6"/><polygon points="175.0,109.1 177.7,106.8 175.2,105.6 172.5,108.0" fill="#afff57" stroke="#afff57"/><polygon points="172.5,108.0 175.2,105.6 172.7,104.5 170.0,106.9" fill="#b3ff58" stroke="#b3ff58"/><polygon points="177.7,106.8 180.4,104.5 177.9,103.4 175.2,105.6" fill="#bcff55" stroke="#bcff55"/><polygon points="175.2,105.6 177.9,103.4 175.3,102.2 172.7,104.5" fill="#c0ff56" stroke="#c0ff56"/><polygon points="175.0,109.1 180.4,104.5 175.3,102.2 170.0,106.9" fill="none" stroke="#567829" stroke-width="0.6"/><polygon points="238.1,105.7 240.6,104.9 237.9,103.3 235.4,104.1" fill="#b6ff21" stroke="#b6ff21"/><polygon points="235.4,104.1 237.9,103.3 235.2,101.7 232.7,102.6" fill="#c0ff23" stroke="#c0ff23"/><polygon points="240.6,104.9 243.1,104.2 240.4,102.6 237.9,103.3" fill="#b5ff1e" stroke="#b5ff1e"/><polygon points="237.9,103.3 240.4,102.6 237.7,100.9 235.2,101.7" fill="#c0ff20" stroke="#c0ff20"/><polygon points="238.1,105.7 243.1,104.2 237.7,100.9 232.7,102.6" fill="none" stroke="#58780f" stroke-width="0.6"/><polygon points="148.7,121.6 151.4,118.6 149.0,117.7 146.3,120.7" fill="#69ff6f" stroke="#69ff6f"/><polygon points="146.3,120.7 149.0,117.7 146.6,116.8 143.8,119.9" fill="#6aff6f" stroke="#6aff6f"/><polygon points="151.4,118.6 154.2,115.6 151.7,114.7 149.0,117.7" fill="#73ff67" stroke="#73ff67"/><polygon points="149.0,117.7 151.7,114.7 149.3,113.7 146.6,116.8" fill="#75ff68" stroke="#75ff68"/><polygon points="148.7,121.6 154.2,115.6 149.3,113.7 143.8,119.9" fill="none" stroke="#337831" stroke-width="0.6"/><polygon points="274.9,116.8 277.3,116.8 274.5,114.9 272.1,115.0" fill="#22de02" stroke="#22de02"/><polygon points="272.1,115.0 274.5,114.9 271.8,113.1 269.4,113.1" fill="#31e003" stroke="#31e003"/><polygon points="277.3,116.8 279.7,116.9 276.9,115.0 274.5,114.9" fill="#17db00" stroke="#17db00"/><polygon points="274.5,114.9 276.9,115.0 274.2,113.1 271.8,113.1" fill="#25dd01" stroke="#25dd01"/><polygon points="274.9,116.8 279.7,116.9 274.2,113.1 269.4,113.1" fill="none" stroke="#116801" stroke-width="0.6"/><polygon points="185.5,106.8 188.2,104.8 185.6,103.6 182.9,105.7" fill="#bfff4f" stroke="#bfff4f"/><polygon points="182.9,105.7 185.6,103.6 183.1,102.4 180.4,104.5" fill="#c4ff51" stroke="#c4ff51"/><polygon points="188.2,104.8 190.8,102.8 188.3,101.5 185.6,103.6" fill="#caff4d" stroke="#caff4d"/><polygon points="185.6,103.6 188.3,101.5 185.7,100.3 183.1,102.4" fill="#cfff4e" stroke="#cfff4e"/><polygon points="185.5,106.8 190.8,102.8 185.7,100.3 180.4,104.5" fill="none" stroke="#5e7825" stroke-width="0.6"/><polygon points="227.6,104.6 230.1,103.5 227.5,102.0 224.9,103.1" fill="#c7ff2b" stroke="#c7ff2b"/><polygon points="224.9,103.1 227.5,102.0 224.8,100.5 222.2,101.6" fill="#d0ff2d" stroke="#d0ff2d"/><polygon points="230.1,103.5 232.7,102.6 230.0,101.0 227.5,102.0" fill="#c9ff28" stroke="#c9ff28"/><polygon points="227.5,102.0 230.0,101.0 227.4,99.4 224.8,100.5" fill="#d3ff2a" stroke="#d3ff2a"/><polygon points="227.6,104.6 232.7,102.6 227.4,99.4 222.2,101.6" fill="none" stroke="#607814" stroke-width="0.6"/><polygon points="196.0,105.3 198.6,103.4 196.1,102.2 193.4,104.0" fill="#caff47" stroke="#caff47"/><polygon points="193.4,104.0 196.1,102.2 193.5,100.9 190.8,102.8" fill="#d0ff48" stroke="#d0ff48"/><polygon points="198.6,103.4 201.3,101.7 198.7,100.4 196.1,102.2" fill="#d4ff44" stroke="#d4ff44"/><polygon points="196.1,102.2 198.7,100.4 196.1,99.1 193.5,100.9" fill="#daff46" stroke="#daff46"/><polygon points="196.0,105.3 201.3,101.7 196.1,99.1 190.8,102.8" fill="none" stroke="#637821" stroke-width="0.6"/><polygon points="217.0,104.1 219.6,102.8 217.0,101.4 214.4,102.7" fill="#cfff35" stroke="#cfff35"/><polygon points="214.4,102.7 217.0,101.4 214.4,99.9 211.8,101.3" fill="#d7ff36" stroke="#d7ff36"/><polygon points="219.6,102.8 222.2,101.6 219.6,100.1 217.0,101.4" fill="#d4ff32" stroke="#d4ff32"/><polygon points="217.0,101.4 219.6,100.1 217.0,98.7 214.4,99.9" fill="#dcff33" stroke="#dcff33"/><polygon points="217.0,104.1 222.2,101.6 217.0,98.7 211.8,101.3" fill="none" stroke="#647818" stroke-width="0.6"/><polygon points="132.9,133.2 135.6,129.8 133.2,129.0 130.5,132.5" fill="#71ffc1" stroke="#71ffc1"/><polygon points="130.5,132.5 133.2,129.0 130.8,128.2 128.1,131.8" fill="#72ffc2" stroke="#72ffc2"/><polygon points="135.6,129.8 138.4,126.4 136.0,125.6 133.2,129.0" fill="#70ffac" stroke="#70ffac"/><polygon points="133.2,129.0 136.0,125.6 133.6,124.8 130.8,128.2" fill="#71ffad" stroke="#71ffad"/><polygon points="132.9,133.2 138.4,126.4 133.6,124.8 128.1,131.8" fill="none" stroke="#357856" stroke-width="0.6"/><polygon points="206.5,104.4 209.1,102.8 206.5,101.4 203.9,103.0" fill="#d0ff3e" stroke="#d0ff3e"/><polygon points="203.9,103.0 206.5,101.4 203.9,100.1 201.3,101.7" fill="#d6ff40" stroke="#d6ff40"/><polygon points="209.1,102.8 211.8,101.3 209.1,99.9 206.5,101.4" fill="#d7ff3b" stroke="#d7ff3b"/><polygon points="206.5,101.4 209.1,99.9 206.5,98.5 203.9,100.1" fill="#deff3d" stroke="#deff3d"/><polygon points="206.5,104.4 211.8,101.3 206.5,98.5 201.3,101.7" fill="none" stroke="#65781d" stroke-width="0.6"/><polygon points="159.1,117.5 161.9,114.7 159.4,113.7 156.6,116.6" fill="#7dff63" stroke="#7dff63"/><polygon points="156.6,116.6 159.4,113.7 156.9,112.8 154.2,115.6" fill="#80ff64" stroke="#80ff64"/><polygon points="161.9,114.7 164.6,112.0 162.1,111.0 159.4,113.7" fill="#8cff60" stroke="#8cff60"/><polygon points="159.4,113.7 162.1,111.0 159.6,110.0 156.9,112.8" fill="#8fff62" stroke="#8fff62"/><polygon points="159.1,117.5 164.6,112.0 159.6,110.0 154.2,115.6" fill="none" stroke="#3f782e" stroke-width="0.6"/><polygon points="264.5,113.5 266.9,113.3 264.2,111.5 261.7,111.7" fill="#53e90a" stroke="#53e90a"/><polygon points="261.7,111.7 264.2,111.5 261.4,109.7 259.0,110.0" fill="#60ea0c" stroke="#60ea0c"/><polygon points="266.9,113.3 269.4,113.1 266.6,111.3 264.2,111.5" fill="#49e507" stroke="#49e507"/><polygon points="264.2,111.5 266.6,111.3 263.9,109.5 261.4,109.7" fill="#57e709" stroke="#57e709"/><polygon points="264.5,113.5 269.4,113.1 263.9,109.5 259.0,110.0" fill="none" stroke="#286d04" stroke-width="0.6"/><polygon points="290.9,124.6 293.2,125.0 290.4,123.0 288.1,122.7" fill="#00d128" stroke="#00d128"/><polygon points="288.1,122.7 290.4,123.0 287.6,121.0 285.3,120.8" fill="#00d31b" stroke="#00d31b"/><polygon points="293.2,125.0 295.5,125.4 292.7,123.4 290.4,123.0" fill="#00ce34" stroke="#00ce34"/><polygon points="290.4,123.0 292.7,123.4 289.9,121.4 287.6,121.0" fill="#00d027" stroke="#00d027"/><polygon points="290.9,124.6 295.5,125.4 289.9,121.4 285.3,120.8" fill="none" stroke="#006213" stroke-width="0.6"/><polygon points="169.6,114.1 172.3,111.5 169.8,110.5 167.1,113.0" fill="#94ff5c" stroke="#94ff5c"/><polygon points="167.1,113.0 169.8,110.5 167.3,109.4 164.6,112.0" fill="#97ff5d" stroke="#97ff5d"/><polygon points="172.3,111.5 175.0,109.1 172.5,108.0 169.8,110.5" fill="#a2ff59" stroke="#a2ff59"/><polygon points="169.8,110.5 172.5,108.0 170.0,106.9 167.3,109.4" fill="#a5ff5b" stroke="#a5ff5b"/><polygon points="169.6,114.1 175.0,109.1 170.0,106.9 164.6,112.0" fill="none" stroke="#4a782b" stroke-width="0.6"/><polygon points="143.2,128.0 146.0,124.7 143.5,123.9 140.8,127.2" fill="#6cff97" stroke="#6cff97"/><polygon points="140.8,127.2 143.5,123.9 141.1,123.1 138.4,126.4" fill="#6dff97" stroke="#6dff97"/><polygon points="146.0,124.7 148.7,121.6 146.3,120.7 143.5,123.9" fill="#6aff82" stroke="#6aff82"/><polygon points="143.5,123.9 146.3,120.7 143.8,119.9 141.1,123.1" fill="#6bff83" stroke="#6bff83"/><polygon points="143.2,128.0 148.7,121.6 143.8,119.9 138.4,126.4" fill="none" stroke="#337842" stroke-width="0.6"/><polygon points="254.0,110.8 256.5,110.4 253.8,108.7 251.3,109.2" fill="#7df314" stroke="#7df314"/><polygon points="251.3,109.2 253.8,108.7 251.0,107.0 248.5,107.5" fill="#8af515" stroke="#8af515"/><polygon points="256.5,110.4 259.0,110.0 256.2,108.2 253.8,108.7" fill="#76f010" stroke="#76f010"/><polygon points="253.8,108.7 256.2,108.2 253.5,106.5 251.0,107.0" fill="#83f212" stroke="#83f212"/><polygon points="254.0,110.8 259.0,110.0 253.5,106.5 248.5,107.5" fill="none" stroke="#3c7209" stroke-width="0.6"/><polygon points="127.4,140.5 130.1,136.8 127.7,136.1 125.0,139.8" fill="#74ffeb" stroke="#74ffeb"/><polygon points="125.0,139.8 127.7,136.1 125.4,135.4 122.6,139.1" fill="#75ffec" stroke="#75ffec"/><polygon points="130.1,136.8 132.9,133.2 130.5,132.5 127.7,136.1" fill="#73ffd6" stroke="#73ffd6"/><polygon points="127.7,136.1 130.5,132.5 128.1,131.8 125.4,135.4" fill="#74ffd7" stroke="#74ffd7"/><polygon points="127.4,140.5 132.9,133.2 128.1,131.8 122.6,139.1" fill="none" stroke="#36786a" stroke-width="0.6"/><polygon points="180.1,111.3 182.8,109.0 180.2,107.9 177.5,110.2" fill="#a7ff54" stroke="#a7ff54"/><polygon points="177.5,110.2 180.2,107.9 177.7,106.8 175.0,109.1" fill="#abff56" stroke="#abff56"/><polygon points="182.8,109.0 185.5,106.8 182.9,105.7 180.2,107.9" fill="#b3ff52" stroke="#b3ff52"/><polygon points="180.2,107.9 182.9,105.7 180.4,104.5 177.7,106.8" fill="#b8ff53" stroke="#b8ff53"/><polygon points="180.1,111.3 185.5,106.8 180.4,104.5 175.0,109.1" fill="none" stroke="#527827" stroke-width="0.6"/><polygon points="243.5,108.9 246.0,108.1 243.3,106.5 240.8,107.3" fill="#a0fe1e" stroke="#a0fe1e"/><polygon points="240.8,107.3 243.3,106.5 240.6,104.9 238.1,105.7" fill="#abff20" stroke="#abff20"/><polygon points="246.0,108.1 248.5,107.5 245.8,105.9 243.3,106.5" fill="#9cfb1a" stroke="#9cfb1a"/><polygon points="243.3,106.5 245.8,105.9 243.1,104.2 240.6,104.9" fill="#a8fd1c" stroke="#a8fd1c"/><polygon points="243.5,108.9 248.5,107.5 243.1,104.2 238.1,105.7" fill="none" stroke="#4d770e" stroke-width="0.6"/><polygon points="280.5,120.5 282.9,120.6 280.1,118.7 277.7,118.6" fill="#07db00" stroke="#07db00"/><polygon points="277.7,118.6 280.1,118.7 277.3,116.8 274.9,116.8" fill="#14dd01" stroke="#14dd01"/><polygon points="282.9,120.6 285.3,120.8 282.5,118.9 280.1,118.7" fill="#00d803" stroke="#00d803"/><polygon points="280.1,118.7 282.5,118.9 279.7,116.9 277.3,116.8" fill="#0ad900" stroke="#0ad900"/><polygon points="280.5,120.5 285.3,120.8 279.7,116.9 274.9,116.8" fill="none" stroke="#046600" stroke-width="0.6"/><polygon points="190.6,109.2 193.3,107.2 190.7,106.0 188.1,108.0" fill="#b6ff4c" stroke="#b6ff4c"/><polygon points="188.1,108.0 190.7,106.0 188.2,104.8 185.5,106.8" fill="#bbff4e" stroke="#bbff4e"/><polygon points="193.3,107.2 196.0,105.3 193.4,104.0 190.7,106.0" fill="#c0ff4a" stroke="#c0ff4a"/><polygon points="190.7,106.0 193.4,104.0 190.8,102.8 188.2,104.8" fill="#c5ff4b" stroke="#c5ff4b"/><polygon points="190.6,109.2 196.0,105.3 190.8,102.8 185.5,106.8" fill="none" stroke="#597824" stroke-width="0.6"/><polygon points="232.9,107.6 235.5,106.6 232.8,105.1 230.2,106.1" fill="#b4ff28" stroke="#b4ff28"/><polygon points="230.2,106.1 232.8,105.1 230.1,103.5 227.6,104.6" fill="#bdff29" stroke="#bdff29"/><polygon points="235.5,106.6 238.1,105.7 235.4,104.1 232.8,105.1" fill="#b5ff25" stroke="#b5ff25"/><polygon points="232.8,105.1 235.4,104.1 232.7,102.6 230.1,103.5" fill="#bfff26" stroke="#bfff26"/><polygon points="232.9,107.6 238.1,105.7 232.7,102.6 227.6,104.6" fill="none" stroke="#577812" stroke-width="0.6"/><polygon points="153.7,123.4 156.4,120.4 153.9,119.5 151.2,122.5" fill="#67ff6e" stroke="#67ff6e"/><polygon points="151.2,122.5 153.9,119.5 151.4,118.6 148.7,121.6" fill="#68ff6e" stroke="#68ff6e"/><polygon points="156.4,120.4 159.1,117.5 156.6,116.6 153.9,119.5" fill="#6eff65" stroke="#6eff65"/><polygon points="153.9,119.5 156.6,116.6 154.2,115.6 151.4,118.6" fill="#70ff66" stroke="#70ff66"/><polygon points="153.7,123.4 159.1,117.5 154.2,115.6 148.7,121.6" fill="none" stroke="#317830" stroke-width="0.6"/><polygon points="201.2,107.8 203.9,106.0 201.3,104.7 198.6,106.5" fill="#bfff44" stroke="#bfff44"/><polygon points="198.6,106.5 201.3,104.7 198.6,103.4 196.0,105.3" fill="#c5ff45" stroke="#c5ff45"/><polygon points="203.9,106.0 206.5,104.4 203.9,103.0 201.3,104.7" fill="#c8ff41" stroke="#c8ff41"/><polygon points="201.3,104.7 203.9,103.0 201.3,101.7 198.6,103.4" fill="#ceff43" stroke="#ceff43"/><polygon points="201.2,107.8 206.5,104.4 201.3,101.7 196.0,105.3" fill="none" stroke="#5d7820" stroke-width="0.6"/><polygon points="222.4,107.0 225.0,105.7 222.3,104.3 219.7,105.5" fill="#bfff31" stroke="#bfff31"/><polygon points="219.7,105.5 222.3,104.3 219.6,102.8 217.0,104.1" fill="#c7ff33" stroke="#c7ff33"/><polygon points="225.0,105.7 227.6,104.6 224.9,103.1 222.3,104.3" fill="#c3ff2e" stroke="#c3ff2e"/><polygon points="222.3,104.3 224.9,103.1 222.2,101.6 219.6,102.8" fill="#ccff30" stroke="#ccff30"/><polygon points="222.4,107.0 227.6,104.6 222.2,101.6 217.0,104.1" fill="none" stroke="#5d7817" stroke-width="0.6"/><polygon points="211.8,107.0 214.4,105.5 211.8,104.2 209.1,105.7" fill="#c3ff3b" stroke="#c3ff3b"/><polygon points="209.1,105.7 211.8,104.2 209.1,102.8 206.5,104.4" fill="#c9ff3c" stroke="#c9ff3c"/><polygon points="214.4,105.5 217.0,104.1 214.4,102.7 211.8,104.2" fill="#c9ff38" stroke="#c9ff38"/><polygon points="211.8,104.2 214.4,102.7 211.8,101.3 209.1,102.8" fill="#d0ff39" stroke="#d0ff39"/><polygon points="211.8,107.0 217.0,104.1 211.8,101.3 206.5,104.4" fill="none" stroke="#5f781b" stroke-width="0.6"/><polygon points="270.0,117.0 272.5,116.9 269.7,115.1 267.3,115.2" fill="#38e507" stroke="#38e507"/><polygon points="267.3,115.2 269.7,115.1 266.9,113.3 264.5,113.5" fill="#45e709" stroke="#45e709"/><polygon points="272.5,116.9 274.9,116.8 272.1,115.0 269.7,115.1" fill="#2ee204" stroke="#2ee204"/><polygon points="269.7,115.1 272.1,115.0 269.4,113.1 266.9,113.3" fill="#3be306" stroke="#3be306"/><polygon points="270.0,117.0 274.9,116.8 269.4,113.1 264.5,113.5" fill="none" stroke="#1b6b03" stroke-width="0.6"/><polygon points="137.7,134.7 140.5,131.3 138.0,130.5 135.3,134.0" fill="#70ffbf" stroke="#70ffbf"/><polygon points="135.3,134.0 138.0,130.5 135.6,129.8 132.9,133.2" fill="#70ffc0" stroke="#70ffc0"/><polygon points="140.5,131.3 143.2,128.0 140.8,127.2 138.0,130.5" fill="#6effab" stroke="#6effab"/><polygon points="138.0,130.5 140.8,127.2 138.4,126.4 135.6,129.8" fill="#6fffab" stroke="#6fffab"/><polygon points="137.7,134.7 143.2,128.0 138.4,126.4 132.9,133.2" fill="none" stroke="#347855" stroke-width="0.6"/><polygon points="121.8,148.1 124.6,144.2 122.2,143.6 119.5,147.5" fill="#77e9ff" stroke="#77e9ff"/><polygon points="119.5,147.5 122.2,143.6 119.9,143.0 117.1,146.9" fill="#78e7ff" stroke="#78e7ff"/><polygon points="124.6,144.2 127.4,140.5 125.0,139.8 122.2,143.6" fill="#76feff" stroke="#76feff"/><polygon points="122.2,143.6 125.0,139.8 122.6,139.1 119.9,143.0" fill="#76fdff" stroke="#76fdff"/><polygon points="121.8,148.1 127.4,140.5 122.6,139.1 117.1,146.9" fill="none" stroke="#387278" stroke-width="0.6"/><polygon points="296.6,128.5 298.9,128.9 296.1,127.0 293.7,126.6" fill="#00ce41" stroke="#00ce41"/><polygon points="293.7,126.6 296.1,127.0 293.2,125.0 290.9,124.6" fill="#00d034" stroke="#00d034"/><polygon points="298.9,128.9 301.2,129.4 298.4,127.4 296.1,127.0" fill="#00cb4d" stroke="#00cb4d"/><polygon points="296.1,127.0 298.4,127.4 295.5,125.4 293.2,125.0" fill="#00cd41" stroke="#00cd41"/><polygon points="296.6,128.5 301.2,129.4 295.5,125.4 290.9,124.6" fill="none" stroke="#00611e" stroke-width="0.6"/><polygon points="164.1,119.4 166.9,116.7 164.4,115.7 161.6,118.4" fill="#78ff60" stroke="#78ff60"/><polygon points="161.6,118.4 164.4,115.7 161.9,114.7 159.1,117.5" fill="#7bff61" stroke="#7bff61"/><polygon points="166.9,116.7 169.6,114.1 167.1,113.0 164.4,115.7" fill="#86ff5e" stroke="#86ff5e"/><polygon points="164.4,115.7 167.1,113.0 164.6,112.0 161.9,114.7" fill="#89ff5f" stroke="#89ff5f"/><polygon points="164.1,119.4 169.6,114.1 164.6,112.0 159.1,117.5" fill="none" stroke="#3d782d" stroke-width="0.6"/><polygon points="259.5,114.2 262.0,113.8 259.2,112.1 256.8,112.5" fill="#64ef10" stroke="#64ef10"/><polygon points="256.8,112.5 259.2,112.1 256.5,110.4 254.0,110.8" fill="#70f112" stroke="#70f112"/><polygon points="262.0,113.8 264.5,113.5 261.7,111.7 259.2,112.1" fill="#5cec0d" stroke="#5cec0d"/><polygon points="259.2,112.1 261.7,111.7 259.0,110.0 256.5,110.4" fill="#69ee0f" stroke="#69ee0f"/><polygon points="259.5,114.2 264.5,113.5 259.0,110.0 254.0,110.8" fill="none" stroke="#307007" stroke-width="0.6"/><polygon points="174.7,116.1 177.4,113.6 174.8,112.6 172.1,115.1" fill="#8eff59" stroke="#8eff59"/><polygon points="172.1,115.1 174.8,112.6 172.3,111.5 169.6,114.1" fill="#91ff5b" stroke="#91ff5b"/><polygon points="177.4,113.6 180.1,111.3 177.5,110.2 174.8,112.6" fill="#9bff57" stroke="#9bff57"/><polygon points="174.8,112.6 177.5,110.2 175.0,109.1 172.3,111.5" fill="#9eff58" stroke="#9eff58"/><polygon points="174.7,116.1 180.1,111.3 175.0,109.1 169.6,114.1" fill="none" stroke="#47782a" stroke-width="0.6"/><polygon points="148.1,129.6 150.9,126.4 148.4,125.6 145.7,128.8" fill="#6aff95" stroke="#6aff95"/><polygon points="145.7,128.8 148.4,125.6 146.0,124.7 143.2,128.0" fill="#6bff96" stroke="#6bff96"/><polygon points="150.9,126.4 153.7,123.4 151.2,122.5 148.4,125.6" fill="#68ff82" stroke="#68ff82"/><polygon points="148.4,125.6 151.2,122.5 148.7,121.6 146.0,124.7" fill="#69ff82" stroke="#69ff82"/><polygon points="148.1,129.6 153.7,123.4 148.7,121.6 143.2,128.0" fill="none" stroke="#327842" stroke-width="0.6"/><polygon points="286.2,124.2 288.5,124.4 285.7,122.5 283.3,122.3" fill="#00d711" stroke="#00d711"/><polygon points="283.3,122.3 285.7,122.5 282.9,120.6 280.5,120.5" fill="#00d905" stroke="#00d905"/><polygon points="288.5,124.4 290.9,124.6 288.1,122.7 285.7,122.5" fill="#00d41c" stroke="#00d41c"/><polygon points="285.7,122.5 288.1,122.7 285.3,120.8 282.9,120.6" fill="#00d610" stroke="#00d610"/><polygon points="286.2,124.2 290.9,124.6 285.3,120.8 280.5,120.5" fill="none" stroke="#006508" stroke-width="0.6"/><polygon points="249.0,112.0 251.5,111.4 248.8,109.8 246.2,110.5" fill="#88fa1a" stroke="#88fa1a"/><polygon points="246.2,110.5 248.8,109.8 246.0,108.1 243.5,108.9" fill="#94fc1c" stroke="#94fc1c"/><polygon points="251.5,111.4 254.0,110.8 251.3,109.2 248.8,109.8" fill="#83f717" stroke="#83f717"/><polygon points="248.8,109.8 251.3,109.2 248.5,107.5 246.0,108.1" fill="#8ff919" stroke="#8ff919"/><polygon points="249.0,112.0 254.0,110.8 248.5,107.5 243.5,108.9" fill="none" stroke="#42750c" stroke-width="0.6"/><polygon points="116.3,156.1 119.1,152.0 116.7,151.5 113.9,155.5" fill="#79bdff" stroke="#79bdff"/><polygon points="113.9,155.5 116.7,151.5 114.4,150.9 111.6,155.0" fill="#7abbff" stroke="#7abbff"/><polygon points="119.1,152.0 121.8,148.1 119.5,147.5 116.7,151.5" fill="#78d3ff" stroke="#78d3ff"/><polygon points="116.7,151.5 119.5,147.5 117.1,146.9 114.4,150.9" fill="#79d1ff" stroke="#79d1ff"/><polygon points="116.3,156.1 121.8,148.1 117.1,146.9 111.6,155.0" fill="none" stroke="#395e78" stroke-width="0.6"/><polygon points="132.2,141.8 135.0,138.2 132.5,137.5 129.8,141.1" fill="#73ffe8" stroke="#73ffe8"/><polygon points="129.8,141.1 132.5,137.5 130.1,136.8 127.4,140.5" fill="#73ffea" stroke="#73ffea"/><polygon points="135.0,138.2 137.7,134.7 135.3,134.0 132.5,137.5" fill="#71ffd4" stroke="#71ffd4"/><polygon points="132.5,137.5 135.3,134.0 132.9,133.2 130.1,136.8" fill="#72ffd5" stroke="#72ffd5"/><polygon points="132.2,141.8 137.7,134.7 132.9,133.2 127.4,140.5" fill="none" stroke="#367869" stroke-width="0.6"/><polygon points="185.2,113.5 188.0,111.3 185.4,110.2 182.7,112.4" fill="#a0ff52" stroke="#a0ff52"/><polygon points="182.7,112.4 185.4,110.2 182.8,109.0 180.1,111.3" fill="#a3ff53" stroke="#a3ff53"/><polygon points="188.0,111.3 190.6,109.2 188.1,108.0 185.4,110.2" fill="#abff4f" stroke="#abff4f"/><polygon points="185.4,110.2 188.1,108.0 185.5,106.8 182.8,109.0" fill="#afff51" stroke="#afff51"/><polygon points="185.2,113.5 190.6,109.2 185.5,106.8 180.1,111.3" fill="none" stroke="#4f7826" stroke-width="0.6"/><polygon points="238.4,110.6 240.9,109.7 238.2,108.1 235.7,109.1" fill="#a1ff24" stroke="#a1ff24"/><polygon points="235.7,109.1 238.2,108.1 235.5,106.6 232.9,107.6" fill="#abff26" stroke="#abff26"/><polygon points="240.9,109.7 243.5,108.9 240.8,107.3 238.2,108.1" fill="#a1ff21" stroke="#a1ff21"/><polygon points="238.2,108.1 240.8,107.3 238.1,105.7 235.5,106.6" fill="#abff23" stroke="#abff23"/><polygon points="238.4,110.6 243.5,108.9 238.1,105.7 232.9,107.6" fill="none" stroke="#4e7811" stroke-width="0.6"/><polygon points="195.9,111.5 198.5,109.6 195.9,108.4 193.2,110.4" fill="#acff4a" stroke="#acff4a"/><polygon points="193.2,110.4 195.9,108.4 193.3,107.2 190.6,109.2" fill="#b1ff4b" stroke="#b1ff4b"/><polygon points="198.5,109.6 201.2,107.8 198.6,106.5 195.9,108.4" fill="#b6ff47" stroke="#b6ff47"/><polygon points="195.9,108.4 198.6,106.5 196.0,105.3 193.3,107.2" fill="#bbff48" stroke="#bbff48"/><polygon points="195.9,111.5 201.2,107.8 196.0,105.3 190.6,109.2" fill="none" stroke="#547822" stroke-width="0.6"/><polygon points="227.8,109.8 230.4,108.6 227.7,107.2 225.1,108.4" fill="#afff2e" stroke="#afff2e"/><polygon points="225.1,108.4 227.7,107.2 225.0,105.7 222.4,107.0" fill="#b7ff30" stroke="#b7ff30"/><polygon points="230.4,108.6 232.9,107.6 230.2,106.1 227.7,107.2" fill="#b2ff2b" stroke="#b2ff2b"/><polygon points="227.7,107.2 230.2,106.1 227.6,104.6 225.0,105.7" fill="#bbff2d" stroke="#bbff2d"/><polygon points="227.8,109.8 232.9,107.6 227.6,104.6 222.4,107.0" fill="none" stroke="#557815" stroke-width="0.6"/><polygon points="206.5,110.3 209.1,108.6 206.5,107.3 203.8,109.0" fill="#b4ff41" stroke="#b4ff41"/><polygon points="203.8,109.0 206.5,107.3 203.9,106.0 201.2,107.8" fill="#baff42" stroke="#baff42"/><polygon points="209.1,108.6 211.8,107.0 209.1,105.7 206.5,107.3" fill="#bcff3e" stroke="#bcff3e"/><polygon points="206.5,107.3 209.1,105.7 206.5,104.4 203.9,106.0" fill="#c2ff3f" stroke="#c2ff3f"/><polygon points="206.5,110.3 211.8,107.0 206.5,104.4 201.2,107.8" fill="none" stroke="#58781e" stroke-width="0.6"/><polygon points="158.6,125.1 161.4,122.2 158.9,121.3 156.1,124.2" fill="#64ff6e" stroke="#64ff6e"/><polygon points="156.1,124.2 158.9,121.3 156.4,120.4 153.7,123.4" fill="#66ff6e" stroke="#66ff6e"/><polygon points="161.4,122.2 164.1,119.4 161.6,118.4 158.9,121.3" fill="#6aff62" stroke="#6aff62"/><polygon points="158.9,121.3 161.6,118.4 159.1,117.5 156.4,120.4" fill="#6cff64" stroke="#6cff64"/><polygon points="158.6,125.1 164.1,119.4 159.1,117.5 153.7,123.4" fill="none" stroke="#2f782f" stroke-width="0.6"/><polygon points="217.1,109.7 219.8,108.3 217.1,106.9 214.4,108.3" fill="#b5ff38" stroke="#b5ff38"/><polygon points="214.4,108.3 217.1,106.9 214.4,105.5 211.8,107.0" fill="#bcff39" stroke="#bcff39"/><polygon points="219.8,108.3 222.4,107.0 219.7,105.5 217.1,106.9" fill="#bbff35" stroke="#bbff35"/><polygon points="217.1,106.9 219.7,105.5 217.0,104.1 214.4,105.5" fill="#c2ff36" stroke="#c2ff36"/><polygon points="217.1,109.7 222.4,107.0 217.0,104.1 211.8,107.0" fill="none" stroke="#58781a" stroke-width="0.6"/><polygon points="275.7,120.5 278.1,120.5 275.3,118.7 272.9,118.8" fill="#1ee104" stroke="#1ee104"/><polygon points="272.9,118.8 275.3,118.7 272.5,116.9 270.0,117.0" fill="#2be306" stroke="#2be306"/><polygon points="278.1,120.5 280.5,120.5 277.7,118.6 275.3,118.7" fill="#12de02" stroke="#12de02"/><polygon points="275.3,118.7 277.7,118.6 274.9,116.8 272.5,116.9" fill="#20e003" stroke="#20e003"/><polygon points="275.7,120.5 280.5,120.5 274.9,116.8 270.0,117.0" fill="none" stroke="#0e6902" stroke-width="0.6"/><polygon points="302.3,132.4 304.6,132.9 301.8,130.9 299.4,130.5" fill="#00cb58" stroke="#00cb58"/><polygon points="299.4,130.5 301.8,130.9 298.9,128.9 296.6,128.5" fill="#00cc4c" stroke="#00cc4c"/><polygon points="304.6,132.9 306.9,133.5 304.1,131.5 301.8,130.9" fill="#00c865" stroke="#00c865"/><polygon points="301.8,130.9 304.1,131.5 301.2,129.4 298.9,128.9" fill="#00ca59" stroke="#00ca59"/><polygon points="302.3,132.4 306.9,133.5 301.2,129.4 296.6,128.5" fill="none" stroke="#005f2a" stroke-width="0.6"/><polygon points="110.7,164.4 113.5,160.2 111.2,159.7 108.4,164.0" fill="#7c91ff" stroke="#7c91ff"/><polygon points="108.4,164.0 111.2,159.7 108.8,159.2 106.1,163.5" fill="#7c8fff" stroke="#7c8fff"/><polygon points="113.5,160.2 116.3,156.1 113.9,155.5 111.2,159.7" fill="#7ba7ff" stroke="#7ba7ff"/><polygon points="111.2,159.7 113.9,155.5 111.6,155.0 108.8,159.2" fill="#7ba5ff" stroke="#7ba5ff"/><polygon points="110.7,164.4 116.3,156.1 111.6,155.0 106.1,163.5" fill="none" stroke="#3a4978" stroke-width="0.6"/><polygon points="142.6,136.2 145.4,132.8 142.9,132.1 140.2,135.4" fill="#6effbd" stroke="#6effbd"/><polygon points="140.2,135.4 142.9,132.1 140.5,131.3 137.7,134.7" fill="#6fffbe" stroke="#6fffbe"/><polygon points="145.4,132.8 148.1,129.6 145.7,128.8 142.9,132.1" fill="#6cffa9" stroke="#6cffa9"/><polygon points="142.9,132.1 145.7,128.8 143.2,128.0 140.5,131.3" fill="#6dffaa" stroke="#6dffaa"/><polygon points="142.6,136.2 148.1,129.6 143.2,128.0 137.7,134.7" fill="none" stroke="#337854" stroke-width="0.6"/><polygon points="126.6,149.3 129.4,145.5 127.0,144.9 124.2,148.7" fill="#75ecff" stroke="#75ecff"/><polygon points="124.2,148.7 127.0,144.9 124.6,144.2 121.8,148.1" fill="#76eaff" stroke="#76eaff"/><polygon points="129.4,145.5 132.2,141.8 129.8,141.1 127.0,144.9" fill="#74fffd" stroke="#74fffd"/><polygon points="127.0,144.9 129.8,141.1 127.4,140.5 124.6,144.2" fill="#75ffff" stroke="#75ffff"/><polygon points="126.6,149.3 132.2,141.8 127.4,140.5 121.8,148.1" fill="none" stroke="#377378" stroke-width="0.6"/><polygon points="169.2,121.3 171.9,118.6 169.4,117.7 166.7,120.3" fill="#73ff5e" stroke="#73ff5e"/><polygon points="166.7,120.3 169.4,117.7 166.9,116.7 164.1,119.4" fill="#76ff5f" stroke="#76ff5f"/><polygon points="171.9,118.6 174.7,116.1 172.1,115.1 169.4,117.7" fill="#81ff5c" stroke="#81ff5c"/><polygon points="169.4,117.7 172.1,115.1 169.6,114.1 166.9,116.7" fill="#84ff5d" stroke="#84ff5d"/><polygon points="169.2,121.3 174.7,116.1 169.6,114.1 164.1,119.4" fill="none" stroke="#3a782c" stroke-width="0.6"/><polygon points="265.1,117.6 267.6,117.2 264.8,115.5 262.3,115.9" fill="#4aec0d" stroke="#4aec0d"/><polygon points="262.3,115.9 264.8,115.5 262.0,113.8 259.5,114.2" fill="#57ee0e" stroke="#57ee0e"/><polygon points="267.6,117.2 270.0,117.0 267.3,115.2 264.8,115.5" fill="#42e80a" stroke="#42e80a"/><polygon points="264.8,115.5 267.3,115.2 264.5,113.5 262.0,113.8" fill="#4fea0b" stroke="#4fea0b"/><polygon points="265.1,117.6 270.0,117.0 264.5,113.5 259.5,114.2" fill="none" stroke="#246e06" stroke-width="0.6"/><polygon points="291.9,127.9 294.2,128.2 291.4,126.3 289.0,126.1" fill="#00d429" stroke="#00d429"/><polygon points="289.0,126.1 291.4,126.3 288.5,124.4 286.2,124.2" fill="#00d51d" stroke="#00d51d"/><polygon points="294.2,128.2 296.6,128.5 293.7,126.6 291.4,126.3" fill="#00d135" stroke="#00d135"/><polygon points="291.4,126.3 293.7,126.6 290.9,124.6 288.5,124.4" fill="#00d329" stroke="#00d329"/><polygon points="291.9,127.9 296.6,128.5 290.9,124.6 286.2,124.2" fill="none" stroke="#006313" stroke-width="0.6"/><polygon points="179.8,118.1 182.5,115.8 180.0,114.7 177.2,117.1" fill="#88ff57" stroke="#88ff57"/><polygon points="177.2,117.1 180.0,114.7 177.4,113.6 174.7,116.1" fill="#8bff58" stroke="#8bff58"/><polygon points="182.5,115.8 185.2,113.5 182.7,112.4 180.0,114.7" fill="#94ff54" stroke="#94ff54"/><polygon points="180.0,114.7 182.7,112.4 180.1,111.3 177.4,113.6" fill="#97ff56" stroke="#97ff56"/><polygon points="179.8,118.1 185.2,113.5 180.1,111.3 174.7,116.1" fill="none" stroke="#437829" stroke-width="0.6"/><polygon points="254.5,115.2 257.0,114.7 254.3,113.0 251.7,113.6" fill="#71f717" stroke="#71f717"/><polygon points="251.7,113.6 254.3,113.0 251.5,111.4 249.0,112.0" fill="#7cf918" stroke="#7cf918"/><polygon points="257.0,114.7 259.5,114.2 256.8,112.5 254.3,113.0" fill="#6bf313" stroke="#6bf313"/><polygon points="254.3,113.0 256.8,112.5 254.0,110.8 251.5,111.4" fill="#77f515" stroke="#77f515"/><polygon points="254.5,115.2 259.5,114.2 254.0,110.8 249.0,112.0" fill="none" stroke="#36740a" stroke-width="0.6"/><polygon points="153.1,131.2 155.9,128.1 153.4,127.3 150.6,130.4" fill="#68ff94" stroke="#68ff94"/><polygon points="150.6,130.4 153.4,127.3 150.9,126.4 148.1,129.6" fill="#69ff95" stroke="#69ff95"/><polygon points="155.9,128.1 158.6,125.1 156.1,124.2 153.4,127.3" fill="#66ff81" stroke="#66ff81"/><polygon points="153.4,127.3 156.1,124.2 153.7,123.4 150.9,126.4" fill="#67ff81" stroke="#67ff81"/><polygon points="153.1,131.2 158.6,125.1 153.7,123.4 148.1,129.6" fill="none" stroke="#317841" stroke-width="0.6"/><polygon points="190.5,115.7 193.2,113.6 190.6,112.4 187.8,114.6" fill="#98ff4f" stroke="#98ff4f"/><polygon points="187.8,114.6 190.6,112.4 188.0,111.3 185.2,113.5" fill="#9cff50" stroke="#9cff50"/><polygon points="193.2,113.6 195.9,111.5 193.2,110.4 190.6,112.4" fill="#a2ff4c" stroke="#a2ff4c"/><polygon points="190.6,112.4 193.2,110.4 190.6,109.2 188.0,111.3" fill="#a7ff4e" stroke="#a7ff4e"/><polygon points="190.5,115.7 195.9,111.5 190.6,109.2 185.2,113.5" fill="none" stroke="#4b7825" stroke-width="0.6"/><polygon points="243.9,113.6 246.4,112.8 243.7,111.2 241.1,112.1" fill="#8eff21" stroke="#8eff21"/><polygon points="241.1,112.1 243.7,111.2 240.9,109.7 238.4,110.6" fill="#98ff23" stroke="#98ff23"/><polygon points="246.4,112.8 249.0,112.0 246.2,110.5 243.7,111.2" fill="#8dfe1e" stroke="#8dfe1e"/><polygon points="243.7,111.2 246.2,110.5 243.5,108.9 240.9,109.7" fill="#97ff20" stroke="#97ff20"/><polygon points="243.9,113.6 249.0,112.0 243.5,108.9 238.4,110.6" fill="none" stroke="#45780f" stroke-width="0.6"/><polygon points="121.1,157.2 123.8,153.2 121.5,152.6 118.7,156.6" fill="#78c1ff" stroke="#78c1ff"/><polygon points="118.7,156.6 121.5,152.6 119.1,152.0 116.3,156.1" fill="#79bfff" stroke="#79bfff"/><polygon points="123.8,153.2 126.6,149.3 124.2,148.7 121.5,152.6" fill="#77d7ff" stroke="#77d7ff"/><polygon points="121.5,152.6 124.2,148.7 121.8,148.1 119.1,152.0" fill="#77d5ff" stroke="#77d5ff"/><polygon points="121.1,157.2 126.6,149.3 121.8,148.1 116.3,156.1" fill="none" stroke="#385f78" stroke-width="0.6"/><polygon points="137.1,143.2 139.8,139.6 137.4,138.9 134.6,142.5" fill="#71ffe6" stroke="#71ffe6"/><polygon points="134.6,142.5 137.4,138.9 135.0,138.2 132.2,141.8" fill="#72ffe7" stroke="#72ffe7"/><polygon points="139.8,139.6 142.6,136.2 140.2,135.4 137.4,138.9" fill="#6fffd1" stroke="#6fffd1"/><polygon points="137.4,138.9 140.2,135.4 137.7,134.7 135.0,138.2" fill="#70ffd3" stroke="#70ffd3"/><polygon points="137.1,143.2 142.6,136.2 137.7,134.7 132.2,141.8" fill="none" stroke="#357867" stroke-width="0.6"/><polygon points="201.1,113.9 203.8,112.0 201.2,110.8 198.5,112.7" fill="#a3ff47" stroke="#a3ff47"/><polygon points="198.5,112.7 201.2,110.8 198.5,109.6 195.9,111.5" fill="#a8ff48" stroke="#a8ff48"/><polygon points="203.8,112.0 206.5,110.3 203.8,109.0 201.2,110.8" fill="#acff44" stroke="#acff44"/><polygon points="201.2,110.8 203.8,109.0 201.2,107.8 198.5,109.6" fill="#b1ff45" stroke="#b1ff45"/><polygon points="201.1,113.9 206.5,110.3 201.2,107.8 195.9,111.5" fill="none" stroke="#507821" stroke-width="0.6"/><polygon points="233.2,112.6 235.8,111.6 233.1,110.1 230.5,111.2" fill="#9fff2b" stroke="#9fff2b"/><polygon points="230.5,111.2 233.1,110.1 230.4,108.6 227.8,109.8" fill="#a7ff2c" stroke="#a7ff2c"/><polygon points="235.8,111.6 238.4,110.6 235.7,109.1 233.1,110.1" fill="#a1ff28" stroke="#a1ff28"/><polygon points="233.1,110.1 235.7,109.1 232.9,107.6 230.4,108.6" fill="#a9ff29" stroke="#a9ff29"/><polygon points="233.2,112.6 238.4,110.6 232.9,107.6 227.8,109.8" fill="none" stroke="#4d7814" stroke-width="0.6"/><polygon points="281.3,124.1 283.8,124.1 280.9,122.3 278.5,122.3" fill="#04de01" stroke="#04de01"/><polygon points="278.5,122.3 280.9,122.3 278.1,120.5 275.7,120.5" fill="#11df03" stroke="#11df03"/><polygon points="283.8,124.1 286.2,124.2 283.3,122.3 280.9,122.3" fill="#00da07" stroke="#00da07"/><polygon points="280.9,122.3 283.3,122.3 280.5,120.5 278.1,120.5" fill="#05dc00" stroke="#05dc00"/><polygon points="281.3,124.1 286.2,124.2 280.5,120.5 275.7,120.5" fill="none" stroke="#026800" stroke-width="0.6"/><polygon points="308.1,136.4 310.4,136.9 307.5,134.9 305.2,134.4" fill="#00c86f" stroke="#00c86f"/><polygon points="305.2,134.4 307.5,134.9 304.6,132.9 302.3,132.4" fill="#00c964" stroke="#00c964"/><polygon points="310.4,136.9 312.7,137.6 309.8,135.5 307.5,134.9" fill="#00c57c" stroke="#00c57c"/><polygon points="307.5,134.9 309.8,135.5 306.9,133.5 304.6,132.9" fill="#00c671" stroke="#00c671"/><polygon points="308.1,136.4 312.7,137.6 306.9,133.5 302.3,132.4" fill="none" stroke="#005e35" stroke-width="0.6"/><polygon points="211.8,112.8 214.5,111.2 211.8,109.9 209.1,111.5" fill="#a8ff3e" stroke="#a8ff3e"/><polygon points="209.1,111.5 211.8,109.9 209.1,108.6 206.5,110.3" fill="#aeff3f" stroke="#aeff3f"/><polygon points="214.5,111.2 217.1,109.7 214.4,108.3 211.8,109.9" fill="#afff3b" stroke="#afff3b"/><polygon points="211.8,109.9 214.4,108.3 211.8,107.0 209.1,108.6" fill="#b5ff3c" stroke="#b5ff3c"/><polygon points="211.8,112.8 217.1,109.7 211.8,107.0 206.5,110.3" fill="none" stroke="#52781d" stroke-width="0.6"/><polygon points="222.5,112.4 225.1,111.0 222.4,109.6 219.8,111.0" fill="#a7ff34" stroke="#a7ff34"/><polygon points="219.8,111.0 222.4,109.6 219.8,108.3 217.1,109.7" fill="#aeff36" stroke="#aeff36"/><polygon points="225.1,111.0 227.8,109.8 225.1,108.4 222.4,109.6" fill="#acff31" stroke="#acff31"/><polygon points="222.4,109.6 225.1,108.4 222.4,107.0 219.8,108.3" fill="#b3ff33" stroke="#b3ff33"/><polygon points="222.5,112.4 227.8,109.8 222.4,107.0 217.1,109.7" fill="none" stroke="#517818" stroke-width="0.6"/><polygon points="163.7,126.9 166.5,124.0 163.9,123.1 161.2,126.0" fill="#62ff6d" stroke="#62ff6d"/><polygon points="161.2,126.0 163.9,123.1 161.4,122.2 158.6,125.1" fill="#63ff6e" stroke="#63ff6e"/><polygon points="166.5,124.0 169.2,121.3 166.7,120.3 163.9,123.1" fill="#65ff60" stroke="#65ff60"/><polygon points="163.9,123.1 166.7,120.3 164.1,119.4 161.4,122.2" fill="#68ff61" stroke="#68ff61"/><polygon points="163.7,126.9 169.2,121.3 164.1,119.4 158.6,125.1" fill="none" stroke="#2e782f" stroke-width="0.6"/><polygon points="270.8,120.9 273.2,120.7 270.4,119.0 267.9,119.2" fill="#32e80a" stroke="#32e80a"/><polygon points="267.9,119.2 270.4,119.0 267.6,117.2 265.1,117.6" fill="#3eea0b" stroke="#3eea0b"/><polygon points="273.2,120.7 275.7,120.5 272.9,118.8 270.4,119.0" fill="#28e407" stroke="#28e407"/><polygon points="270.4,119.0 272.9,118.8 270.0,117.0 267.6,117.2" fill="#35e608" stroke="#35e608"/><polygon points="270.8,120.9 275.7,120.5 270.0,117.0 265.1,117.6" fill="none" stroke="#186d04" stroke-width="0.6"/><polygon points="115.5,165.4 118.3,161.3 115.9,160.7 113.1,164.9" fill="#7a96ff" stroke="#7a96ff"/><polygon points="113.1,164.9 115.9,160.7 113.5,160.2 110.7,164.4" fill="#7b93ff" stroke="#7b93ff"/><polygon points="118.3,161.3 121.1,157.2 118.7,156.6 115.9,160.7" fill="#79abff" stroke="#79abff"/><polygon points="115.9,160.7 118.7,156.6 116.3,156.1 113.5,160.2" fill="#7aa9ff" stroke="#7aa9ff"/><polygon points="115.5,165.4 121.1,157.2 116.3,156.1 110.7,164.4" fill="none" stroke="#394b78" stroke-width="0.6"/><polygon points="147.6,137.7 150.3,134.4 147.9,133.6 145.1,136.9" fill="#6cffbb" stroke="#6cffbb"/><polygon points="145.1,136.9 147.9,133.6 145.4,132.8 142.6,136.2" fill="#6dffbc" stroke="#6dffbc"/><polygon points="150.3,134.4 153.1,131.2 150.6,130.4 147.9,133.6" fill="#6affa8" stroke="#6affa8"/><polygon points="147.9,133.6 150.6,130.4 148.1,129.6 145.4,132.8" fill="#6bffa9" stroke="#6bffa9"/><polygon points="147.6,137.7 153.1,131.2 148.1,129.6 142.6,136.2" fill="none" stroke="#337854" stroke-width="0.6"/><polygon points="174.3,123.2 177.1,120.6 174.5,119.6 171.8,122.2" fill="#6eff5c" stroke="#6eff5c"/><polygon points="171.8,122.2 174.5,119.6 171.9,118.6 169.2,121.3" fill="#71ff5d" stroke="#71ff5d"/><polygon points="177.1,120.6 179.8,118.1 177.2,117.1 174.5,119.6" fill="#7bff59" stroke="#7bff59"/><polygon points="174.5,119.6 177.2,117.1 174.7,116.1 171.9,118.6" fill="#7eff5b" stroke="#7eff5b"/><polygon points="174.3,123.2 179.8,118.1 174.7,116.1 169.2,121.3" fill="none" stroke="#37782b" stroke-width="0.6"/><polygon points="297.6,131.7 300.0,132.0 297.1,130.1 294.7,129.8" fill="#00d040" stroke="#00d040"/><polygon points="294.7,129.8 297.1,130.1 294.2,128.2 291.9,127.9" fill="#00d235" stroke="#00d235"/><polygon points="300.0,132.0 302.3,132.4 299.4,130.5 297.1,130.1" fill="#00ce4c" stroke="#00ce4c"/><polygon points="297.1,130.1 299.4,130.5 296.6,128.5 294.2,128.2" fill="#00cf40" stroke="#00cf40"/><polygon points="297.6,131.7 302.3,132.4 296.6,128.5 291.9,127.9" fill="none" stroke="#00621e" stroke-width="0.6"/><polygon points="131.5,150.5 134.3,146.8 131.8,146.2 129.0,149.9" fill="#74efff" stroke="#74efff"/><polygon points="129.0,149.9 131.8,146.2 129.4,145.5 126.6,149.3" fill="#75edff" stroke="#75edff"/><polygon points="134.3,146.8 137.1,143.2 134.6,142.5 131.8,146.2" fill="#72fffa" stroke="#72fffa"/><polygon points="131.8,146.2 134.6,142.5 132.2,141.8 129.4,145.5" fill="#73fffc" stroke="#73fffc"/><polygon points="131.5,150.5 137.1,143.2 132.2,141.8 126.6,149.3" fill="none" stroke="#367578" stroke-width="0.6"/><polygon points="260.1,118.4 262.6,118.0 259.8,116.3 257.3,116.8" fill="#59f313" stroke="#59f313"/><polygon points="257.3,116.8 259.8,116.3 257.0,114.7 254.5,115.2" fill="#65f515" stroke="#65f515"/><polygon points="262.6,118.0 265.1,117.6 262.3,115.9 259.8,116.3" fill="#52ef10" stroke="#52ef10"/><polygon points="259.8,116.3 262.3,115.9 259.5,114.2 257.0,114.7" fill="#5ef112" stroke="#5ef112"/><polygon points="260.1,118.4 265.1,117.6 259.5,114.2 254.5,115.2" fill="none" stroke="#2b7209" stroke-width="0.6"/><polygon points="185.0,120.2 187.7,117.9 185.1,116.8 182.4,119.2" fill="#81ff54" stroke="#81ff54"/><polygon points="182.4,119.2 185.1,116.8 182.5,115.8 179.8,118.1" fill="#84ff56" stroke="#84ff56"/><polygon points="187.7,117.9 190.5,115.7 187.8,114.6 185.1,116.8" fill="#8dff52" stroke="#8dff52"/><polygon points="185.1,116.8 187.8,114.6 185.2,113.5 182.5,115.8" fill="#90ff53" stroke="#90ff53"/><polygon points="185.0,120.2 190.5,115.7 185.2,113.5 179.8,118.1" fill="none" stroke="#407827" stroke-width="0.6"/><polygon points="249.4,116.6 252.0,115.9 249.2,114.3 246.6,115.1" fill="#7afe1d" stroke="#7afe1d"/><polygon points="246.6,115.1 249.2,114.3 246.4,112.8 243.9,113.6" fill="#85ff1f" stroke="#85ff1f"/><polygon points="252.0,115.9 254.5,115.2 251.7,113.6 249.2,114.3" fill="#76fa1a" stroke="#76fa1a"/><polygon points="249.2,114.3 251.7,113.6 249.0,112.0 246.4,112.8" fill="#81fc1c" stroke="#81fc1c"/><polygon points="249.4,116.6 254.5,115.2 249.0,112.0 243.9,113.6" fill="none" stroke="#3b770d" stroke-width="0.6"/><polygon points="158.2,132.8 160.9,129.8 158.4,128.9 155.6,132.0" fill="#66ff93" stroke="#66ff93"/><polygon points="155.6,132.0 158.4,128.9 155.9,128.1 153.1,131.2" fill="#67ff94" stroke="#67ff94"/><polygon points="160.9,129.8 163.7,126.9 161.2,126.0 158.4,128.9" fill="#64ff80" stroke="#64ff80"/><polygon points="158.4,128.9 161.2,126.0 158.6,125.1 155.9,128.1" fill="#65ff81" stroke="#65ff81"/><polygon points="158.2,132.8 163.7,126.9 158.6,125.1 153.1,131.2" fill="none" stroke="#307841" stroke-width="0.6"/><polygon points="195.7,117.9 198.4,115.8 195.8,114.7 193.1,116.8" fill="#90ff4c" stroke="#90ff4c"/><polygon points="193.1,116.8 195.8,114.7 193.2,113.6 190.5,115.7" fill="#94ff4e" stroke="#94ff4e"/><polygon points="198.4,115.8 201.1,113.9 198.5,112.7 195.8,114.7" fill="#99ff49" stroke="#99ff49"/><polygon points="195.8,114.7 198.5,112.7 195.9,111.5 193.2,113.6" fill="#9eff4b" stroke="#9eff4b"/><polygon points="195.7,117.9 201.1,113.9 195.9,111.5 190.5,115.7" fill="none" stroke="#477824" stroke-width="0.6"/><polygon points="314.0,140.3 316.2,141.0 313.3,139.0 311.0,138.4" fill="#00c485" stroke="#00c485"/><polygon points="311.0,138.4 313.3,139.0 310.4,136.9 308.1,136.4" fill="#00c67a" stroke="#00c67a"/><polygon points="316.2,141.0 318.5,141.7 315.6,139.6 313.3,139.0" fill="#00c293" stroke="#00c293"/><polygon points="313.3,139.0 315.6,139.6 312.7,137.6 310.4,136.9" fill="#00c388" stroke="#00c388"/><polygon points="314.0,140.3 318.5,141.7 312.7,137.6 308.1,136.4" fill="none" stroke="#005c3f" stroke-width="0.6"/><polygon points="287.1,127.7 289.5,127.8 286.6,125.9 284.2,125.9" fill="#00da14" stroke="#00da14"/><polygon points="284.2,125.9 286.6,125.9 283.8,124.1 281.3,124.1" fill="#00dc09" stroke="#00dc09"/><polygon points="289.5,127.8 291.9,127.9 289.0,126.1 286.6,125.9" fill="#00d71e" stroke="#00d71e"/><polygon points="286.6,125.9 289.0,126.1 286.2,124.2 283.8,124.1" fill="#00d913" stroke="#00d913"/><polygon points="287.1,127.7 291.9,127.9 286.2,124.2 281.3,124.1" fill="none" stroke="#006609" stroke-width="0.6"/><polygon points="238.7,115.5 241.3,114.5 238.5,113.0 235.9,114.1" fill="#8eff27" stroke="#8eff27"/><polygon points="235.9,114.1 238.5,113.0 235.8,111.6 233.2,112.6" fill="#97ff29" stroke="#97ff29"/><polygon points="241.3,114.5 243.9,113.6 241.1,112.1 238.5,113.0" fill="#8fff24" stroke="#8fff24"/><polygon points="238.5,113.0 241.1,112.1 238.4,110.6 235.8,111.6" fill="#98ff26" stroke="#98ff26"/><polygon points="238.7,115.5 243.9,113.6 238.4,110.6 233.2,112.6" fill="none" stroke="#457812" stroke-width="0.6"/><polygon points="206.5,116.3 209.1,114.5 206.5,113.3 203.8,115.1" fill="#99ff44" stroke="#99ff44"/><polygon points="203.8,115.1 206.5,113.3 203.8,112.0 201.1,113.9" fill="#9eff45" stroke="#9eff45"/><polygon points="209.1,114.5 211.8,112.8 209.1,111.5 206.5,113.3" fill="#a1ff41" stroke="#a1ff41"/><polygon points="206.5,113.3 209.1,111.5 206.5,110.3 203.8,112.0" fill="#a6ff42" stroke="#a6ff42"/><polygon points="206.5,116.3 211.8,112.8 206.5,110.3 201.1,113.9" fill="none" stroke="#4b781f" stroke-width="0.6"/><polygon points="228.0,115.1 230.6,113.8 227.9,112.4 225.2,113.7" fill="#99ff31" stroke="#99ff31"/><polygon points="225.2,113.7 227.9,112.4 225.1,111.0 222.5,112.4" fill="#a0ff33" stroke="#a0ff33"/><polygon points="230.6,113.8 233.2,112.6 230.5,111.2 227.9,112.4" fill="#9cff2e" stroke="#9cff2e"/><polygon points="227.9,112.4 230.5,111.2 227.8,109.8 225.1,111.0" fill="#a4ff30" stroke="#a4ff30"/><polygon points="228.0,115.1 233.2,112.6 227.8,109.8 222.5,112.4" fill="none" stroke="#4b7817" stroke-width="0.6"/><polygon points="217.2,115.3 219.9,113.8 217.2,112.5 214.5,114.1" fill="#9cff3b" stroke="#9cff3b"/><polygon points="214.5,114.1 217.2,112.5 214.5,111.2 211.8,112.8" fill="#a2ff3c" stroke="#a2ff3c"/><polygon points="219.9,113.8 222.5,112.4 219.8,111.0 217.2,112.5" fill="#a2ff37" stroke="#a2ff37"/><polygon points="217.2,112.5 219.8,111.0 217.1,109.7 214.5,111.2" fill="#a9ff39" stroke="#a9ff39"/><polygon points="217.2,115.3 222.5,112.4 217.1,109.7 211.8,112.8" fill="none" stroke="#4c781b" stroke-width="0.6"/><polygon points="142.0,144.5 144.8,141.0 142.3,140.3 139.5,143.8" fill="#6fffe3" stroke="#6fffe3"/><polygon points="139.5,143.8 142.3,140.3 139.8,139.6 137.1,143.2" fill="#70ffe4" stroke="#70ffe4"/><polygon points="144.8,141.0 147.6,137.7 145.1,136.9 142.3,140.3" fill="#6effcf" stroke="#6effcf"/><polygon points="142.3,140.3 145.1,136.9 142.6,136.2 139.8,139.6" fill="#6fffd0" stroke="#6fffd0"/><polygon points="142.0,144.5 147.6,137.7 142.6,136.2 137.1,143.2" fill="none" stroke="#347866" stroke-width="0.6"/><polygon points="125.9,158.3 128.7,154.4 126.3,153.8 123.5,157.7" fill="#77c5ff" stroke="#77c5ff"/><polygon points="123.5,157.7 126.3,153.8 123.8,153.2 121.1,157.2" fill="#77c3ff" stroke="#77c3ff"/><polygon points="128.7,154.4 131.5,150.5 129.0,149.9 126.3,153.8" fill="#75daff" stroke="#75daff"/><polygon points="126.3,153.8 129.0,149.9 126.6,149.3 123.8,153.2" fill="#76d8ff" stroke="#76d8ff"/><polygon points="125.9,158.3 131.5,150.5 126.6,149.3 121.1,157.2" fill="none" stroke="#386178" stroke-width="0.6"/><polygon points="168.8,128.6 171.6,125.9 169.0,124.9 166.2,127.7" fill="#60ff6d" stroke="#60ff6d"/><polygon points="166.2,127.7 169.0,124.9 166.5,124.0 163.7,126.9" fill="#61ff6d" stroke="#61ff6d"/><polygon points="171.6,125.9 174.3,123.2 171.8,122.2 169.0,124.9" fill="#61ff5e" stroke="#61ff5e"/><polygon points="169.0,124.9 171.8,122.2 169.2,121.3 166.5,124.0" fill="#63ff5f" stroke="#63ff5f"/><polygon points="168.8,128.6 174.3,123.2 169.2,121.3 163.7,126.9" fill="none" stroke="#2d782f" stroke-width="0.6"/><polygon points="276.5,124.3 278.9,124.2 276.1,122.4 273.6,122.6" fill="#19e407" stroke="#19e407"/><polygon points="273.6,122.6 276.1,122.4 273.2,120.7 270.8,120.9" fill="#26e608" stroke="#26e608"/><polygon points="278.9,124.2 281.3,124.1 278.5,122.3 276.1,122.4" fill="#0fe104" stroke="#0fe104"/><polygon points="276.1,122.4 278.5,122.3 275.7,120.5 273.2,120.7" fill="#1ce305" stroke="#1ce305"/><polygon points="276.5,124.3 281.3,124.1 275.7,120.5 270.8,120.9" fill="none" stroke="#0c6b03" stroke-width="0.6"/><polygon points="303.5,135.5 305.8,135.9 302.9,134.0 300.5,133.6" fill="#00cd56" stroke="#00cd56"/><polygon points="300.5,133.6 302.9,134.0 300.0,132.0 297.6,131.7" fill="#00cf4b" stroke="#00cf4b"/><polygon points="305.8,135.9 308.1,136.4 305.2,134.4 302.9,134.0" fill="#00ca62" stroke="#00ca62"/><polygon points="302.9,134.0 305.2,134.4 302.3,132.4 300.0,132.0" fill="#00cc57" stroke="#00cc57"/><polygon points="303.5,135.5 308.1,136.4 302.3,132.4 297.6,131.7" fill="none" stroke="#006029" stroke-width="0.6"/><polygon points="179.5,125.1 182.3,122.6 179.7,121.6 176.9,124.2" fill="#69ff59" stroke="#69ff59"/><polygon points="176.9,124.2 179.7,121.6 177.1,120.6 174.3,123.2" fill="#6cff5a" stroke="#6cff5a"/><polygon points="182.3,122.6 185.0,120.2 182.4,119.2 179.7,121.6" fill="#75ff57" stroke="#75ff57"/><polygon points="179.7,121.6 182.4,119.2 179.8,118.1 177.1,120.6" fill="#78ff58" stroke="#78ff58"/><polygon points="179.5,125.1 185.0,120.2 179.8,118.1 174.3,123.2" fill="none" stroke="#35782a" stroke-width="0.6"/><polygon points="152.6,139.1 155.4,135.9 152.9,135.2 150.1,138.4" fill="#6affb9" stroke="#6affb9"/><polygon points="150.1,138.4 152.9,135.2 150.3,134.4 147.6,137.7" fill="#6bffba" stroke="#6bffba"/><polygon points="155.4,135.9 158.2,132.8 155.6,132.0 152.9,135.2" fill="#68ffa6" stroke="#68ffa6"/><polygon points="152.9,135.2 155.6,132.0 153.1,131.2 150.3,134.4" fill="#69ffa7" stroke="#69ffa7"/><polygon points="152.6,139.1 158.2,132.8 153.1,131.2 147.6,137.7" fill="none" stroke="#327853" stroke-width="0.6"/><polygon points="265.8,121.7 268.3,121.3 265.4,119.6 262.9,120.1" fill="#43ef10" stroke="#43ef10"/><polygon points="262.9,120.1 265.4,119.6 262.6,118.0 260.1,118.4" fill="#4ef111" stroke="#4ef111"/><polygon points="268.3,121.3 270.8,120.9 267.9,119.2 265.4,119.6" fill="#3beb0c" stroke="#3beb0c"/><polygon points="265.4,119.6 267.9,119.2 265.1,117.6 262.6,118.0" fill="#46ed0e" stroke="#46ed0e"/><polygon points="265.8,121.7 270.8,120.9 265.1,117.6 260.1,118.4" fill="none" stroke="#207007" stroke-width="0.6"/><polygon points="120.2,166.4 123.1,162.3 120.7,161.8 117.8,165.9" fill="#799bff" stroke="#799bff"/><polygon points="117.8,165.9 120.7,161.8 118.3,161.3 115.5,165.4" fill="#7a98ff" stroke="#7a98ff"/><polygon points="123.1,162.3 125.9,158.3 123.5,157.7 120.7,161.8" fill="#78b0ff" stroke="#78b0ff"/><polygon points="120.7,161.8 123.5,157.7 121.1,157.2 118.3,161.3" fill="#79aeff" stroke="#79aeff"/><polygon points="120.2,166.4 125.9,158.3 121.1,157.2 115.5,165.4" fill="none" stroke="#394d78" stroke-width="0.6"/><polygon points="136.4,151.7 139.2,148.1 136.7,147.4 133.9,151.1" fill="#72f3ff" stroke="#72f3ff"/><polygon points="133.9,151.1 136.7,147.4 134.3,146.8 131.5,150.5" fill="#73f1ff" stroke="#73f1ff"/><polygon points="139.2,148.1 142.0,144.5 139.5,143.8 136.7,147.4" fill="#71fff7" stroke="#71fff7"/><polygon points="136.7,147.4 139.5,143.8 137.1,143.2 134.3,146.8" fill="#72fff9" stroke="#72fff9"/><polygon points="136.4,151.7 142.0,144.5 137.1,143.2 131.5,150.5" fill="none" stroke="#367678" stroke-width="0.6"/><polygon points="190.3,122.3 193.0,120.0 190.4,119.0 187.6,121.2" fill="#7bff52" stroke="#7bff52"/><polygon points="187.6,121.2 190.4,119.0 187.7,117.9 185.0,120.2" fill="#7eff53" stroke="#7eff53"/><polygon points="193.0,120.0 195.7,117.9 193.1,116.8 190.4,119.0" fill="#85ff4f" stroke="#85ff4f"/><polygon points="190.4,119.0 193.1,116.8 190.5,115.7 187.7,117.9" fill="#89ff50" stroke="#89ff50"/><polygon points="190.3,122.3 195.7,117.9 190.5,115.7 185.0,120.2" fill="none" stroke="#3d7826" stroke-width="0.6"/><polygon points="255.0,119.7 257.6,119.0 254.8,117.4 252.2,118.2" fill="#65fa1a" stroke="#65fa1a"/><polygon points="252.2,118.2 254.8,117.4 252.0,115.9 249.4,116.6" fill="#70fc1c" stroke="#70fc1c"/><polygon points="257.6,119.0 260.1,118.4 257.3,116.8 254.8,117.4" fill="#60f616" stroke="#60f616"/><polygon points="254.8,117.4 257.3,116.8 254.5,115.2 252.0,115.9" fill="#6bf818" stroke="#6bf818"/><polygon points="255.0,119.7 260.1,118.4 254.5,115.2 249.4,116.6" fill="none" stroke="#31750c" stroke-width="0.6"/><polygon points="292.9,131.3 295.3,131.4 292.4,129.6 290.0,129.5" fill="#00d62a" stroke="#00d62a"/><polygon points="290.0,129.5 292.4,129.6 289.5,127.8 287.1,127.7" fill="#00d81f" stroke="#00d81f"/><polygon points="295.3,131.4 297.6,131.7 294.7,129.8 292.4,129.6" fill="#00d335" stroke="#00d335"/><polygon points="292.4,129.6 294.7,129.8 291.9,127.9 289.5,127.8" fill="#00d52a" stroke="#00d52a"/><polygon points="292.9,131.3 297.6,131.7 291.9,127.9 287.1,127.7" fill="none" stroke="#006414" stroke-width="0.6"/><polygon points="201.0,120.1 203.8,118.1 201.1,117.0 198.4,119.0" fill="#87ff49" stroke="#87ff49"/><polygon points="198.4,119.0 201.1,117.0 198.4,115.8 195.7,117.9" fill="#8bff4b" stroke="#8bff4b"/><polygon points="203.8,118.1 206.5,116.3 203.8,115.1 201.1,117.0" fill="#90ff47" stroke="#90ff47"/><polygon points="201.1,117.0 203.8,115.1 201.1,113.9 198.4,115.8" fill="#95ff48" stroke="#95ff48"/><polygon points="201.0,120.1 206.5,116.3 201.1,113.9 195.7,117.9" fill="none" stroke="#437822" stroke-width="0.6"/><polygon points="244.3,118.4 246.9,117.5 244.1,116.0 241.5,116.9" fill="#7dff24" stroke="#7dff24"/><polygon points="241.5,116.9 244.1,116.0 241.3,114.5 238.7,115.5" fill="#86ff26" stroke="#86ff26"/><polygon points="246.9,117.5 249.4,116.6 246.6,115.1 244.1,116.0" fill="#7dff21" stroke="#7dff21"/><polygon points="244.1,116.0 246.6,115.1 243.9,113.6 241.3,114.5" fill="#86ff22" stroke="#86ff22"/><polygon points="244.3,118.4 249.4,116.6 243.9,113.6 238.7,115.5" fill="none" stroke="#3d7811" stroke-width="0.6"/><polygon points="163.2,134.4 166.0,131.5 163.5,130.6 160.7,133.6" fill="#64ff91" stroke="#64ff91"/><polygon points="160.7,133.6 163.5,130.6 160.9,129.8 158.2,132.8" fill="#65ff92" stroke="#65ff92"/><polygon points="166.0,131.5 168.8,128.6 166.2,127.7 163.5,130.6" fill="#62ff7f" stroke="#62ff7f"/><polygon points="163.5,130.6 166.2,127.7 163.7,126.9 160.9,129.8" fill="#63ff80" stroke="#63ff80"/><polygon points="163.2,134.4 168.8,128.6 163.7,126.9 158.2,132.8" fill="none" stroke="#2f7840" stroke-width="0.6"/><polygon points="211.9,118.6 214.5,116.9 211.8,115.7 209.1,117.4" fill="#8fff41" stroke="#8fff41"/><polygon points="209.1,117.4 211.8,115.7 209.1,114.5 206.5,116.3" fill="#94ff42" stroke="#94ff42"/><polygon points="214.5,116.9 217.2,115.3 214.5,114.1 211.8,115.7" fill="#96ff3e" stroke="#96ff3e"/><polygon points="211.8,115.7 214.5,114.1 211.8,112.8 209.1,114.5" fill="#9bff3f" stroke="#9bff3f"/><polygon points="211.9,118.6 217.2,115.3 211.8,112.8 206.5,116.3" fill="none" stroke="#46781e" stroke-width="0.6"/><polygon points="233.5,117.8 236.1,116.6 233.3,115.2 230.7,116.4" fill="#8bff2e" stroke="#8bff2e"/><polygon points="230.7,116.4 233.3,115.2 230.6,113.8 228.0,115.1" fill="#92ff2f" stroke="#92ff2f"/><polygon points="236.1,116.6 238.7,115.5 235.9,114.1 233.3,115.2" fill="#8dff2b" stroke="#8dff2b"/><polygon points="233.3,115.2 235.9,114.1 233.2,112.6 230.6,113.8" fill="#95ff2c" stroke="#95ff2c"/><polygon points="233.5,117.8 238.7,115.5 233.2,112.6 228.0,115.1" fill="none" stroke="#447815" stroke-width="0.6"/><polygon points="222.7,117.9 225.3,116.4 222.6,115.1 219.9,116.6" fill="#90ff37" stroke="#90ff37"/><polygon points="219.9,116.6 222.6,115.1 219.9,113.8 217.2,115.3" fill="#96ff39" stroke="#96ff39"/><polygon points="225.3,116.4 228.0,115.1 225.2,113.7 222.6,115.1" fill="#95ff34" stroke="#95ff34"/><polygon points="222.6,115.1 225.2,113.7 222.5,112.4 219.9,113.8" fill="#9cff36" stroke="#9cff36"/><polygon points="222.7,117.9 228.0,115.1 222.5,112.4 217.2,115.3" fill="none" stroke="#46781a" stroke-width="0.6"/><polygon points="282.2,127.8 284.7,127.7 281.8,125.9 279.3,126.0" fill="#04e006" stroke="#04e006"/><polygon points="279.3,126.0 281.8,125.9 278.9,124.2 276.5,124.3" fill="#0ee205" stroke="#0ee205"/><polygon points="284.7,127.7 287.1,127.7 284.2,125.9 281.8,125.9" fill="#01dd0c" stroke="#01dd0c"/><polygon points="281.8,125.9 284.2,125.9 281.3,124.1 278.9,124.2" fill="#03df02" stroke="#03df02"/><polygon points="282.2,127.8 287.1,127.7 281.3,124.1 276.5,124.3" fill="none" stroke="#016902" stroke-width="0.6"/><polygon points="147.0,145.9 149.8,142.5 147.3,141.8 144.5,145.2" fill="#6dffe0" stroke="#6dffe0"/><polygon points="144.5,145.2 147.3,141.8 144.8,141.0 142.0,144.5" fill="#6effe1" stroke="#6effe1"/><polygon points="149.8,142.5 152.6,139.1 150.1,138.4 147.3,141.8" fill="#6cffcc" stroke="#6cffcc"/><polygon points="147.3,141.8 150.1,138.4 147.6,137.7 144.8,141.0" fill="#6dffce" stroke="#6dffce"/><polygon points="147.0,145.9 152.6,139.1 147.6,137.7 142.0,144.5" fill="none" stroke="#337865" stroke-width="0.6"/><polygon points="130.7,159.4 133.6,155.5 131.1,154.9 128.3,158.8" fill="#75caff" stroke="#75caff"/><polygon points="128.3,158.8 131.1,154.9 128.7,154.4 125.9,158.3" fill="#76c7ff" stroke="#76c7ff"/><polygon points="133.6,155.5 136.4,151.7 133.9,151.1 131.1,154.9" fill="#74deff" stroke="#74deff"/><polygon points="131.1,154.9 133.9,151.1 131.5,150.5 128.7,154.4" fill="#74dcff" stroke="#74dcff"/><polygon points="130.7,159.4 136.4,151.7 131.5,150.5 125.9,158.3" fill="none" stroke="#376378" stroke-width="0.6"/><polygon points="309.3,139.3 311.7,139.8 308.7,137.8 306.4,137.4" fill="#00ca6b" stroke="#00ca6b"/><polygon points="306.4,137.4 308.7,137.8 305.8,135.9 303.5,135.5" fill="#00cb60" stroke="#00cb60"/><polygon points="311.7,139.8 314.0,140.3 311.0,138.4 308.7,137.8" fill="#00c778" stroke="#00c778"/><polygon points="308.7,137.8 311.0,138.4 308.1,136.4 305.8,135.9" fill="#00c96d" stroke="#00c96d"/><polygon points="309.3,139.3 314.0,140.3 308.1,136.4 303.5,135.5" fill="none" stroke="#005f33" stroke-width="0.6"/><polygon points="174.0,130.4 176.8,127.7 174.2,126.8 171.4,129.5" fill="#5eff6c" stroke="#5eff6c"/><polygon points="171.4,129.5 174.2,126.8 171.6,125.9 168.8,128.6" fill="#5fff6c" stroke="#5fff6c"/><polygon points="176.8,127.7 179.5,125.1 176.9,124.2 174.2,126.8" fill="#5cff5b" stroke="#5cff5b"/><polygon points="174.2,126.8 176.9,124.2 174.3,123.2 171.6,125.9" fill="#5fff5d" stroke="#5fff5d"/><polygon points="174.0,130.4 179.5,125.1 174.3,123.2 168.8,128.6" fill="none" stroke="#2c782f" stroke-width="0.6"/><polygon points="271.5,124.9 274.0,124.6 271.1,122.9 268.6,123.3" fill="#2ceb0c" stroke="#2ceb0c"/><polygon points="268.6,123.3 271.1,122.9 268.3,121.3 265.8,121.7" fill="#37ed0e" stroke="#37ed0e"/><polygon points="274.0,124.6 276.5,124.3 273.6,122.6 271.1,122.9" fill="#23e809" stroke="#23e809"/><polygon points="271.1,122.9 273.6,122.6 270.8,120.9 268.3,121.3" fill="#2fe90b" stroke="#2fe90b"/><polygon points="271.5,124.9 276.5,124.3 270.8,120.9 265.8,121.7" fill="none" stroke="#156e05" stroke-width="0.6"/><polygon points="184.8,127.0 187.5,124.6 184.9,123.6 182.1,126.1" fill="#64ff57" stroke="#64ff57"/><polygon points="182.1,126.1 184.9,123.6 182.3,122.6 179.5,125.1" fill="#66ff58" stroke="#66ff58"/><polygon points="187.5,124.6 190.3,122.3 187.6,121.2 184.9,123.6" fill="#6fff54" stroke="#6fff54"/><polygon points="184.9,123.6 187.6,121.2 185.0,120.2 182.3,122.6" fill="#72ff55" stroke="#72ff55"/><polygon points="184.8,127.0 190.3,122.3 185.0,120.2 179.5,125.1" fill="none" stroke="#327828" stroke-width="0.6"/><polygon points="157.7,140.6 160.5,137.5 157.9,136.7 155.1,139.9" fill="#68ffb7" stroke="#68ffb7"/><polygon points="155.1,139.9 157.9,136.7 155.4,135.9 152.6,139.1" fill="#69ffb8" stroke="#69ffb8"/><polygon points="160.5,137.5 163.2,134.4 160.7,133.6 157.9,136.7" fill="#66ffa4" stroke="#66ffa4"/><polygon points="157.9,136.7 160.7,133.6 158.2,132.8 155.4,135.9" fill="#67ffa5" stroke="#67ffa5"/><polygon points="157.7,140.6 163.2,134.4 158.2,132.8 152.6,139.1" fill="none" stroke="#317852" stroke-width="0.6"/><polygon points="298.7,134.9 301.1,135.1 298.2,133.3 295.8,133.1" fill="#00d33f" stroke="#00d33f"/><polygon points="295.8,133.1 298.2,133.3 295.3,131.4 292.9,131.3" fill="#00d535" stroke="#00d535"/><polygon points="301.1,135.1 303.5,135.5 300.5,133.6 298.2,133.3" fill="#00d04a" stroke="#00d04a"/><polygon points="298.2,133.3 300.5,133.6 297.6,131.7 295.3,131.4" fill="#00d23f" stroke="#00d23f"/><polygon points="298.7,134.9 303.5,135.5 297.6,131.7 292.9,131.3" fill="none" stroke="#00631e" stroke-width="0.6"/><polygon points="260.7,122.8 263.2,122.2 260.4,120.6 257.9,121.2" fill="#50f616" stroke="#50f616"/><polygon points="257.9,121.2 260.4,120.6 257.6,119.0 255.0,119.7" fill="#5af818" stroke="#5af818"/><polygon points="263.2,122.2 265.8,121.7 262.9,120.1 260.4,120.6" fill="#4af213" stroke="#4af213"/><polygon points="260.4,120.6 262.9,120.1 260.1,118.4 257.6,119.0" fill="#55f414" stroke="#55f414"/><polygon points="260.7,122.8 265.8,121.7 260.1,118.4 255.0,119.7" fill="none" stroke="#27730a" stroke-width="0.6"/><polygon points="125.1,167.4 127.9,163.3 125.5,162.8 122.7,166.9" fill="#78a0ff" stroke="#78a0ff"/><polygon points="122.7,166.9 125.5,162.8 123.1,162.3 120.2,166.4" fill="#789dff" stroke="#789dff"/><polygon points="127.9,163.3 130.7,159.4 128.3,158.8 125.5,162.8" fill="#76b5ff" stroke="#76b5ff"/><polygon points="125.5,162.8 128.3,158.8 125.9,158.3 123.1,162.3" fill="#77b2ff" stroke="#77b2ff"/><polygon points="125.1,167.4 130.7,159.4 125.9,158.3 120.2,166.4" fill="none" stroke="#384f78" stroke-width="0.6"/><polygon points="195.6,124.3 198.3,122.2 195.7,121.1 192.9,123.3" fill="#74ff4f" stroke="#74ff4f"/><polygon points="192.9,123.3 195.7,121.1 193.0,120.0 190.3,122.3" fill="#77ff50" stroke="#77ff50"/><polygon points="198.3,122.2 201.0,120.1 198.4,119.0 195.7,121.1" fill="#7eff4c" stroke="#7eff4c"/><polygon points="195.7,121.1 198.4,119.0 195.7,117.9 193.0,120.0" fill="#82ff4e" stroke="#82ff4e"/><polygon points="195.6,124.3 201.0,120.1 195.7,117.9 190.3,122.3" fill="none" stroke="#3a7825" stroke-width="0.6"/><polygon points="141.3,153.0 144.2,149.4 141.7,148.7 138.8,152.4" fill="#71f7ff" stroke="#71f7ff"/><polygon points="138.8,152.4 141.7,148.7 139.2,148.1 136.4,151.7" fill="#71f5ff" stroke="#71f5ff"/><polygon points="144.2,149.4 147.0,145.9 144.5,145.2 141.7,148.7" fill="#6ffff4" stroke="#6ffff4"/><polygon points="141.7,148.7 144.5,145.2 142.0,144.5 139.2,148.1" fill="#70fff5" stroke="#70fff5"/><polygon points="141.3,153.0 147.0,145.9 142.0,144.5 136.4,151.7" fill="none" stroke="#357878" stroke-width="0.6"/><polygon points="249.9,121.3 252.5,120.4 249.7,118.9 247.1,119.8" fill="#6cff21" stroke="#6cff21"/><polygon points="247.1,119.8 249.7,118.9 246.9,117.5 244.3,118.4" fill="#75ff22" stroke="#75ff22"/><polygon points="252.5,120.4 255.0,119.7 252.2,118.2 249.7,118.9" fill="#69fe1d" stroke="#69fe1d"/><polygon points="249.7,118.9 252.2,118.2 249.4,116.6 246.9,117.5" fill="#73ff1f" stroke="#73ff1f"/><polygon points="249.9,121.3 255.0,119.7 249.4,116.6 244.3,118.4" fill="none" stroke="#34780f" stroke-width="0.6"/><polygon points="206.4,122.3 209.1,120.4 206.4,119.3 203.7,121.2" fill="#7fff46" stroke="#7fff46"/><polygon points="203.7,121.2 206.4,119.3 203.8,118.1 201.0,120.1" fill="#83ff48" stroke="#83ff48"/><polygon points="209.1,120.4 211.9,118.6 209.1,117.4 206.4,119.3" fill="#87ff43" stroke="#87ff43"/><polygon points="206.4,119.3 209.1,117.4 206.5,116.3 203.8,118.1" fill="#8cff45" stroke="#8cff45"/><polygon points="206.4,122.3 211.9,118.6 206.5,116.3 201.0,120.1" fill="none" stroke="#3f7821" stroke-width="0.6"/><polygon points="239.0,120.5 241.7,119.4 238.9,118.0 236.2,119.1" fill="#7cff2a" stroke="#7cff2a"/><polygon points="236.2,119.1 238.9,118.0 236.1,116.6 233.5,117.8" fill="#83ff2c" stroke="#83ff2c"/><polygon points="241.7,119.4 244.3,118.4 241.5,116.9 238.9,118.0" fill="#7dff27" stroke="#7dff27"/><polygon points="238.9,118.0 241.5,116.9 238.7,115.5 236.1,116.6" fill="#85ff29" stroke="#85ff29"/><polygon points="239.0,120.5 244.3,118.4 238.7,115.5 233.5,117.8" fill="none" stroke="#3c7814" stroke-width="0.6"/><polygon points="217.3,121.0 220.0,119.4 217.3,118.2 214.6,119.8" fill="#85ff3d" stroke="#85ff3d"/><polygon points="214.6,119.8 217.3,118.2 214.5,116.9 211.9,118.6" fill="#8aff3f" stroke="#8aff3f"/><polygon points="220.0,119.4 222.7,117.9 219.9,116.6 217.3,118.2" fill="#8bff3a" stroke="#8bff3a"/><polygon points="217.3,118.2 219.9,116.6 217.2,115.3 214.5,116.9" fill="#90ff3c" stroke="#90ff3c"/><polygon points="217.3,121.0 222.7,117.9 217.2,115.3 211.9,118.6" fill="none" stroke="#41781d" stroke-width="0.6"/><polygon points="168.4,136.1 171.2,133.2 168.6,132.3 165.8,135.3" fill="#62ff90" stroke="#62ff90"/><polygon points="165.8,135.3 168.6,132.3 166.0,131.5 163.2,134.4" fill="#63ff91" stroke="#63ff91"/><polygon points="171.2,133.2 174.0,130.4 171.4,129.5 168.6,132.3" fill="#60ff7e" stroke="#60ff7e"/><polygon points="168.6,132.3 171.4,129.5 168.8,128.6 166.0,131.5" fill="#61ff7e" stroke="#61ff7e"/><polygon points="168.4,136.1 174.0,130.4 168.8,128.6 163.2,134.4" fill="none" stroke="#2e783f" stroke-width="0.6"/><polygon points="228.2,120.4 230.8,119.1 228.1,117.7 225.4,119.1" fill="#84ff34" stroke="#84ff34"/><polygon points="225.4,119.1 228.1,117.7 225.3,116.4 222.7,117.9" fill="#8aff36" stroke="#8aff36"/><polygon points="230.8,119.1 233.5,117.8 230.7,116.4 228.1,117.7" fill="#88ff31" stroke="#88ff31"/><polygon points="228.1,117.7 230.7,116.4 228.0,115.1 225.3,116.4" fill="#8eff33" stroke="#8eff33"/><polygon points="228.2,120.4 233.5,117.8 228.0,115.1 222.7,117.9" fill="none" stroke="#407818" stroke-width="0.6"/><polygon points="288.0,131.2 290.5,131.2 287.6,129.4 285.1,129.5" fill="#01dd17" stroke="#01dd17"/><polygon points="285.1,129.5 287.6,129.4 284.7,127.7 282.2,127.8" fill="#02df0e" stroke="#02df0e"/><polygon points="290.5,131.2 292.9,131.3 290.0,129.5 287.6,129.4" fill="#00da20" stroke="#00da20"/><polygon points="287.6,129.4 290.0,129.5 287.1,127.7 284.7,127.7" fill="#00db15" stroke="#00db15"/><polygon points="288.0,131.2 292.9,131.3 287.1,127.7 282.2,127.8" fill="none" stroke="#00670a" stroke-width="0.6"/><polygon points="152.0,147.2 154.8,143.9 152.3,143.2 149.5,146.5" fill="#6cffdd" stroke="#6cffdd"/><polygon points="149.5,146.5 152.3,143.2 149.8,142.5 147.0,145.9" fill="#6dffde" stroke="#6dffde"/><polygon points="154.8,143.9 157.7,140.6 155.1,139.9 152.3,143.2" fill="#6affca" stroke="#6affca"/><polygon points="152.3,143.2 155.1,139.9 152.6,139.1 149.8,142.5" fill="#6bffcb" stroke="#6bffcb"/><polygon points="152.0,147.2 157.7,140.6 152.6,139.1 147.0,145.9" fill="none" stroke="#327864" stroke-width="0.6"/><polygon points="179.2,132.2 182.0,129.5 179.4,128.6 176.6,131.3" fill="#5bff6b" stroke="#5bff6b"/><polygon points="176.6,131.3 179.4,128.6 176.8,127.7 174.0,130.4" fill="#5dff6c" stroke="#5dff6c"/><polygon points="182.0,129.5 184.8,127.0 182.1,126.1 179.4,128.6" fill="#59ff5a" stroke="#59ff5a"/><polygon points="179.4,128.6 182.1,126.1 179.5,125.1 176.8,127.7" fill="#5aff5a" stroke="#5aff5a"/><polygon points="179.2,132.2 184.8,127.0 179.5,125.1 174.0,130.4" fill="none" stroke="#2b782e" stroke-width="0.6"/><polygon points="135.7,160.5 138.5,156.7 136.0,156.1 133.2,159.9" fill="#74ceff" stroke="#74ceff"/><polygon points="133.2,159.9 136.0,156.1 133.6,155.5 130.7,159.4" fill="#74ccff" stroke="#74ccff"/><polygon points="138.5,156.7 141.3,153.0 138.8,152.4 136.0,156.1" fill="#72e2ff" stroke="#72e2ff"/><polygon points="136.0,156.1 138.8,152.4 136.4,151.7 133.6,155.5" fill="#73e0ff" stroke="#73e0ff"/><polygon points="135.7,160.5 141.3,153.0 136.4,151.7 130.7,159.4" fill="none" stroke="#366578" stroke-width="0.6"/><polygon points="277.3,128.2 279.7,127.9 276.9,126.2 274.4,126.5" fill="#16e709" stroke="#16e709"/><polygon points="274.4,126.5 276.9,126.2 274.0,124.6 271.5,124.9" fill="#21e90b" stroke="#21e90b"/><polygon points="279.7,127.9 282.2,127.8 279.3,126.0 276.9,126.2" fill="#0ce406" stroke="#0ce406"/><polygon points="276.9,126.2 279.3,126.0 276.5,124.3 274.0,124.6" fill="#18e608" stroke="#18e608"/><polygon points="277.3,128.2 282.2,127.8 276.5,124.3 271.5,124.9" fill="none" stroke="#0b6c04" stroke-width="0.6"/><polygon points="304.6,138.5 307.0,138.9 304.0,137.0 301.7,136.7" fill="#00d053" stroke="#00d053"/><polygon points="301.7,136.7 304.0,137.0 301.1,135.1 298.7,134.9" fill="#00d149" stroke="#00d149"/><polygon points="307.0,138.9 309.3,139.3 306.4,137.4 304.0,137.0" fill="#00cd5f" stroke="#00cd5f"/><polygon points="304.0,137.0 306.4,137.4 303.5,135.5 301.1,135.1" fill="#00ce54" stroke="#00ce54"/><polygon points="304.6,138.5 309.3,139.3 303.5,135.5 298.7,134.9" fill="none" stroke="#006127" stroke-width="0.6"/><polygon points="190.1,129.0 192.8,126.6 190.2,125.6 187.4,128.0" fill="#5fff54" stroke="#5fff54"/><polygon points="187.4,128.0 190.2,125.6 187.5,124.6 184.8,127.0" fill="#61ff55" stroke="#61ff55"/><polygon points="192.8,126.6 195.6,124.3 192.9,123.3 190.2,125.6" fill="#6aff51" stroke="#6aff51"/><polygon points="190.2,125.6 192.9,123.3 190.3,122.3 187.5,124.6" fill="#6cff53" stroke="#6cff53"/><polygon points="190.1,129.0 195.6,124.3 190.3,122.3 184.8,127.0" fill="none" stroke="#307827" stroke-width="0.6"/><polygon points="266.4,125.8 269.0,125.3 266.1,123.7 263.6,124.3" fill="#3bf212" stroke="#3bf212"/><polygon points="263.6,124.3 266.1,123.7 263.2,122.2 260.7,122.8" fill="#46f414" stroke="#46f414"/><polygon points="269.0,125.3 271.5,124.9 268.6,123.3 266.1,123.7" fill="#34ef0f" stroke="#34ef0f"/><polygon points="266.1,123.7 268.6,123.3 265.8,121.7 263.2,122.2" fill="#3ff011" stroke="#3ff011"/><polygon points="266.4,125.8 271.5,124.9 265.8,121.7 260.7,122.8" fill="none" stroke="#1d7108" stroke-width="0.6"/><polygon points="162.8,142.1 165.6,139.0 163.0,138.3 160.2,141.4" fill="#66ffb4" stroke="#66ffb4"/><polygon points="160.2,141.4 163.0,138.3 160.5,137.5 157.7,140.6" fill="#67ffb5" stroke="#67ffb5"/><polygon points="165.6,139.0 168.4,136.1 165.8,135.3 163.0,138.3" fill="#64ffa2" stroke="#64ffa2"/><polygon points="163.0,138.3 165.8,135.3 163.2,134.4 160.5,137.5" fill="#65ffa3" stroke="#65ffa3"/><polygon points="162.8,142.1 168.4,136.1 163.2,134.4 157.7,140.6" fill="none" stroke="#307851" stroke-width="0.6"/><polygon points="201.0,126.4 203.7,124.3 201.0,123.3 198.3,125.4" fill="#6dff4c" stroke="#6dff4c"/><polygon points="198.3,125.4 201.0,123.3 198.3,122.2 195.6,124.3" fill="#71ff4d" stroke="#71ff4d"/><polygon points="203.7,124.3 206.4,122.3 203.7,121.2 201.0,123.3" fill="#76ff49" stroke="#76ff49"/><polygon points="201.0,123.3 203.7,121.2 201.0,120.1 198.3,122.2" fill="#7aff4b" stroke="#7aff4b"/><polygon points="201.0,126.4 206.4,122.3 201.0,120.1 195.6,124.3" fill="none" stroke="#367823" stroke-width="0.6"/><polygon points="255.6,124.2 258.2,123.4 255.3,121.9 252.7,122.7" fill="#5afd1d" stroke="#5afd1d"/><polygon points="252.7,122.7 255.3,121.9 252.5,120.4 249.9,121.3" fill="#63ff1f" stroke="#63ff1f"/><polygon points="258.2,123.4 260.7,122.8 257.9,121.2 255.3,121.9" fill="#55fa19" stroke="#55fa19"/><polygon points="255.3,121.9 257.9,121.2 255.0,119.7 252.5,120.4" fill="#5ffc1b" stroke="#5ffc1b"/><polygon points="255.6,124.2 260.7,122.8 255.0,119.7 249.9,121.3" fill="none" stroke="#2c770d" stroke-width="0.6"/><polygon points="146.4,154.2 149.2,150.7 146.7,150.0 143.8,153.6" fill="#6ffbff" stroke="#6ffbff"/><polygon points="143.8,153.6 146.7,150.0 144.2,149.4 141.3,153.0" fill="#70f9ff" stroke="#70f9ff"/><polygon points="149.2,150.7 152.0,147.2 149.5,146.5 146.7,150.0" fill="#6dfff0" stroke="#6dfff0"/><polygon points="146.7,150.0 149.5,146.5 147.0,145.9 144.2,149.4" fill="#6efff2" stroke="#6efff2"/><polygon points="146.4,154.2 152.0,147.2 147.0,145.9 141.3,153.0" fill="none" stroke="#347876" stroke-width="0.6"/><polygon points="130.0,168.3 132.8,164.3 130.4,163.8 127.5,167.8" fill="#76a5ff" stroke="#76a5ff"/><polygon points="127.5,167.8 130.4,163.8 127.9,163.3 125.1,167.4" fill="#77a2ff" stroke="#77a2ff"/><polygon points="132.8,164.3 135.7,160.5 133.2,159.9 130.4,163.8" fill="#75baff" stroke="#75baff"/><polygon points="130.4,163.8 133.2,159.9 130.7,159.4 127.9,163.3" fill="#76b7ff" stroke="#76b7ff"/><polygon points="130.0,168.3 135.7,160.5 130.7,159.4 125.1,167.4" fill="none" stroke="#375278" stroke-width="0.6"/><polygon points="211.9,124.6 214.6,122.8 211.9,121.6 209.2,123.5" fill="#77ff43" stroke="#77ff43"/><polygon points="209.2,123.5 211.9,121.6 209.1,120.4 206.4,122.3" fill="#7bff45" stroke="#7bff45"/><polygon points="214.6,122.8 217.3,121.0 214.6,119.8 211.9,121.6" fill="#7eff40" stroke="#7eff40"/><polygon points="211.9,121.6 214.6,119.8 211.9,118.6 209.1,120.4" fill="#83ff42" stroke="#83ff42"/><polygon points="211.9,124.6 217.3,121.0 211.9,118.6 206.4,122.3" fill="none" stroke="#3b781f" stroke-width="0.6"/><polygon points="244.7,123.2 247.3,122.2 244.5,120.8 241.8,121.9" fill="#6dff27" stroke="#6dff27"/><polygon points="241.8,121.9 244.5,120.8 241.7,119.4 239.0,120.5" fill="#75ff29" stroke="#75ff29"/><polygon points="247.3,122.2 249.9,121.3 247.1,119.8 244.5,120.8" fill="#6dff24" stroke="#6dff24"/><polygon points="244.5,120.8 247.1,119.8 244.3,118.4 241.7,119.4" fill="#75ff25" stroke="#75ff25"/><polygon points="244.7,123.2 249.9,121.3 244.3,118.4 239.0,120.5" fill="none" stroke="#357812" stroke-width="0.6"/><polygon points="293.9,134.7 296.3,134.7 293.4,133.0 291.0,132.9" fill="#00d92a" stroke="#00d92a"/><polygon points="291.0,132.9 293.4,133.0 290.5,131.2 288.0,131.2" fill="#00db21" stroke="#00db21"/><polygon points="296.3,134.7 298.7,134.9 295.8,133.1 293.4,133.0" fill="#00d634" stroke="#00d634"/><polygon points="293.4,133.0 295.8,133.1 292.9,131.3 290.5,131.2" fill="#00d82a" stroke="#00d82a"/><polygon points="293.9,134.7 298.7,134.9 292.9,131.3 288.0,131.2" fill="none" stroke="#006614" stroke-width="0.6"/><polygon points="222.8,123.4 225.5,121.9 222.7,120.6 220.1,122.2" fill="#7aff3a" stroke="#7aff3a"/><polygon points="220.1,122.2 222.7,120.6 220.0,119.4 217.3,121.0" fill="#80ff3c" stroke="#80ff3c"/><polygon points="225.5,121.9 228.2,120.4 225.4,119.1 222.7,120.6" fill="#80ff37" stroke="#80ff37"/><polygon points="222.7,120.6 225.4,119.1 222.7,117.9 220.0,119.4" fill="#85ff39" stroke="#85ff39"/><polygon points="222.8,123.4 228.2,120.4 222.7,117.9 217.3,121.0" fill="none" stroke="#3c781b" stroke-width="0.6"/><polygon points="233.7,123.0 236.4,121.7 233.6,120.4 231.0,121.7" fill="#78ff31" stroke="#78ff31"/><polygon points="231.0,121.7 233.6,120.4 230.8,119.1 228.2,120.4" fill="#7eff32" stroke="#7eff32"/><polygon points="236.4,121.7 239.0,120.5 236.2,119.1 233.6,120.4" fill="#7aff2e" stroke="#7aff2e"/><polygon points="233.6,120.4 236.2,119.1 233.5,117.8 230.8,119.1" fill="#81ff2f" stroke="#81ff2f"/><polygon points="233.7,123.0 239.0,120.5 233.5,117.8 228.2,120.4" fill="none" stroke="#3a7817" stroke-width="0.6"/><polygon points="173.6,137.7 176.4,134.9 173.8,134.0 171.0,136.9" fill="#60ff8e" stroke="#60ff8e"/><polygon points="171.0,136.9 173.8,134.0 171.2,133.2 168.4,136.1" fill="#61ff8f" stroke="#61ff8f"/><polygon points="176.4,134.9 179.2,132.2 176.6,131.3 173.8,134.0" fill="#5eff7c" stroke="#5eff7c"/><polygon points="173.8,134.0 176.6,131.3 174.0,130.4 171.2,133.2" fill="#5fff7d" stroke="#5fff7d"/><polygon points="173.6,137.7 179.2,132.2 174.0,130.4 168.4,136.1" fill="none" stroke="#2d783f" stroke-width="0.6"/><polygon points="283.1,131.5 285.6,131.3 282.7,129.6 280.2,129.8" fill="#06e30c" stroke="#06e30c"/><polygon points="280.2,129.8 282.7,129.6 279.7,127.9 277.3,128.2" fill="#0be507" stroke="#0be507"/><polygon points="285.6,131.3 288.0,131.2 285.1,129.5 282.7,129.6" fill="#03e011" stroke="#03e011"/><polygon points="282.7,129.6 285.1,129.5 282.2,127.8 279.7,127.9" fill="#05e209" stroke="#05e209"/><polygon points="283.1,131.5 288.0,131.2 282.2,127.8 277.3,128.2" fill="none" stroke="#036b05" stroke-width="0.6"/><polygon points="157.1,148.6 160.0,145.3 157.4,144.6 154.6,147.9" fill="#6affd9" stroke="#6affd9"/><polygon points="154.6,147.9 157.4,144.6 154.8,143.9 152.0,147.2" fill="#6bffdb" stroke="#6bffdb"/><polygon points="160.0,145.3 162.8,142.1 160.2,141.4 157.4,144.6" fill="#68ffc7" stroke="#68ffc7"/><polygon points="157.4,144.6 160.2,141.4 157.7,140.6 154.8,143.9" fill="#69ffc8" stroke="#69ffc8"/><polygon points="157.1,148.6 162.8,142.1 157.7,140.6 152.0,147.2" fill="none" stroke="#317862" stroke-width="0.6"/><polygon points="184.5,134.0 187.3,131.4 184.6,130.5 181.9,133.1" fill="#59ff6a" stroke="#59ff6a"/><polygon points="181.9,133.1 184.6,130.5 182.0,129.5 179.2,132.2" fill="#5aff6b" stroke="#5aff6b"/><polygon points="187.3,131.4 190.1,129.0 187.4,128.0 184.6,130.5" fill="#56ff59" stroke="#56ff59"/><polygon points="184.6,130.5 187.4,128.0 184.8,127.0 182.0,129.5" fill="#58ff5a" stroke="#58ff5a"/><polygon points="184.5,134.0 190.1,129.0 184.8,127.0 179.2,132.2" fill="none" stroke="#29782e" stroke-width="0.6"/><polygon points="140.7,161.5 143.5,157.8 141.0,157.2 138.2,161.0" fill="#72d3ff" stroke="#72d3ff"/><polygon points="138.2,161.0 141.0,157.2 138.5,156.7 135.7,160.5" fill="#73d1ff" stroke="#73d1ff"/><polygon points="143.5,157.8 146.4,154.2 143.8,153.6 141.0,157.2" fill="#70e7ff" stroke="#70e7ff"/><polygon points="141.0,157.2 143.8,153.6 141.3,153.0 138.5,156.7" fill="#71e5ff" stroke="#71e5ff"/><polygon points="140.7,161.5 146.4,154.2 141.3,153.0 135.7,160.5" fill="none" stroke="#356778" stroke-width="0.6"/><polygon points="272.2,128.9 274.8,128.5 271.9,126.9 269.3,127.4" fill="#27ee0f" stroke="#27ee0f"/><polygon points="269.3,127.4 271.9,126.9 269.0,125.3 266.4,125.8" fill="#31f011" stroke="#31f011"/><polygon points="274.8,128.5 277.3,128.2 274.4,126.5 271.9,126.9" fill="#1feb0c" stroke="#1feb0c"/><polygon points="271.9,126.9 274.4,126.5 271.5,124.9 269.0,125.3" fill="#29ed0e" stroke="#29ed0e"/><polygon points="272.2,128.9 277.3,128.2 271.5,124.9 266.4,125.8" fill="none" stroke="#137007" stroke-width="0.6"/><polygon points="195.4,130.9 198.2,128.6 195.5,127.6 192.7,129.9" fill="#59ff51" stroke="#59ff51"/><polygon points="192.7,129.9 195.5,127.6 192.8,126.6 190.1,129.0" fill="#5cff53" stroke="#5cff53"/><polygon points="198.2,128.6 201.0,126.4 198.3,125.4 195.5,127.6" fill="#64ff4f" stroke="#64ff4f"/><polygon points="195.5,127.6 198.3,125.4 195.6,124.3 192.8,126.6" fill="#67ff50" stroke="#67ff50"/><polygon points="195.4,130.9 201.0,126.4 195.6,124.3 190.1,129.0" fill="none" stroke="#2d7826" stroke-width="0.6"/><polygon points="261.3,127.1 263.9,126.4 261.0,124.9 258.4,125.7" fill="#47f919" stroke="#47f919"/><polygon points="258.4,125.7 261.0,124.9 258.2,123.4 255.6,124.2" fill="#50fb1b" stroke="#50fb1b"/><polygon points="263.9,126.4 266.4,125.8 263.6,124.3 261.0,124.9" fill="#42f616" stroke="#42f616"/><polygon points="261.0,124.9 263.6,124.3 260.7,122.8 258.2,123.4" fill="#4bf818" stroke="#4bf818"/><polygon points="261.3,127.1 266.4,125.8 260.7,122.8 255.6,124.2" fill="none" stroke="#22750b" stroke-width="0.6"/><polygon points="168.0,143.6 170.8,140.6 168.2,139.8 165.4,142.9" fill="#64ffb1" stroke="#64ffb1"/><polygon points="165.4,142.9 168.2,139.8 165.6,139.0 162.8,142.1" fill="#65ffb3" stroke="#65ffb3"/><polygon points="170.8,140.6 173.6,137.7 171.0,136.9 168.2,139.8" fill="#62ff9f" stroke="#62ff9f"/><polygon points="168.2,139.8 171.0,136.9 168.4,136.1 165.6,139.0" fill="#63ffa1" stroke="#63ffa1"/><polygon points="168.0,143.6 173.6,137.7 168.4,136.1 162.8,142.1" fill="none" stroke="#2f784f" stroke-width="0.6"/><polygon points="206.4,128.5 209.2,126.5 206.4,125.4 203.7,127.5" fill="#67ff49" stroke="#67ff49"/><polygon points="203.7,127.5 206.4,125.4 203.7,124.3 201.0,126.4" fill="#6aff4a" stroke="#6aff4a"/><polygon points="209.2,126.5 211.9,124.6 209.2,123.5 206.4,125.4" fill="#6fff46" stroke="#6fff46"/><polygon points="206.4,125.4 209.2,123.5 206.4,122.3 203.7,124.3" fill="#73ff48" stroke="#73ff48"/><polygon points="206.4,128.5 211.9,124.6 206.4,122.3 201.0,126.4" fill="none" stroke="#337822" stroke-width="0.6"/><polygon points="299.8,138.1 302.3,138.3 299.3,136.5 296.9,136.4" fill="#00d63d" stroke="#00d63d"/><polygon points="296.9,136.4 299.3,136.5 296.3,134.7 293.9,134.7" fill="#00d734" stroke="#00d734"/><polygon points="302.3,138.3 304.6,138.5 301.7,136.7 299.3,136.5" fill="#00d348" stroke="#00d348"/><polygon points="299.3,136.5 301.7,136.7 298.7,134.9 296.3,134.7" fill="#00d43e" stroke="#00d43e"/><polygon points="299.8,138.1 304.6,138.5 298.7,134.9 293.9,134.7" fill="none" stroke="#00641d" stroke-width="0.6"/><polygon points="250.4,126.0 253.0,125.1 250.1,123.6 247.5,124.6" fill="#5eff23" stroke="#5eff23"/><polygon points="247.5,124.6 250.1,123.6 247.3,122.2 244.7,123.2" fill="#66ff25" stroke="#66ff25"/><polygon points="253.0,125.1 255.6,124.2 252.7,122.7 250.1,123.6" fill="#5dff20" stroke="#5dff20"/><polygon points="250.1,123.6 252.7,122.7 249.9,121.3 247.3,122.2" fill="#65ff22" stroke="#65ff22"/><polygon points="250.4,126.0 255.6,124.2 249.9,121.3 244.7,123.2" fill="none" stroke="#2e7810" stroke-width="0.6"/><polygon points="217.4,126.8 220.1,125.1 217.3,123.9 214.6,125.7" fill="#6eff40" stroke="#6eff40"/><polygon points="214.6,125.7 217.3,123.9 214.6,122.8 211.9,124.6" fill="#73ff42" stroke="#73ff42"/><polygon points="220.1,125.1 222.8,123.4 220.1,122.2 217.3,123.9" fill="#75ff3d" stroke="#75ff3d"/><polygon points="217.3,123.9 220.1,122.2 217.3,121.0 214.6,122.8" fill="#79ff3f" stroke="#79ff3f"/><polygon points="217.4,126.8 222.8,123.4 217.3,121.0 211.9,124.6" fill="none" stroke="#36781e" stroke-width="0.6"/><polygon points="239.4,125.6 242.0,124.4 239.2,123.0 236.6,124.3" fill="#6bff2d" stroke="#6bff2d"/><polygon points="236.6,124.3 239.2,123.0 236.4,121.7 233.7,123.0" fill="#71ff2f" stroke="#71ff2f"/><polygon points="242.0,124.4 244.7,123.2 241.8,121.9 239.2,123.0" fill="#6dff2a" stroke="#6dff2a"/><polygon points="239.2,123.0 241.8,121.9 239.0,120.5 236.4,121.7" fill="#73ff2c" stroke="#73ff2c"/><polygon points="239.4,125.6 244.7,123.2 239.0,120.5 233.7,123.0" fill="none" stroke="#347815" stroke-width="0.6"/><polygon points="228.4,125.9 231.1,124.4 228.3,123.1 225.6,124.6" fill="#70ff37" stroke="#70ff37"/><polygon points="225.6,124.6 228.3,123.1 225.5,121.9 222.8,123.4" fill="#75ff39" stroke="#75ff39"/><polygon points="231.1,124.4 233.7,123.0 231.0,121.7 228.3,123.1" fill="#74ff34" stroke="#74ff34"/><polygon points="228.3,123.1 231.0,121.7 228.2,120.4 225.5,121.9" fill="#7aff35" stroke="#7aff35"/><polygon points="228.4,125.9 233.7,123.0 228.2,120.4 222.8,123.4" fill="none" stroke="#377819" stroke-width="0.6"/><polygon points="151.5,155.4 154.3,151.9 151.7,151.3 148.9,154.8" fill="#6dffff" stroke="#6dffff"/><polygon points="148.9,154.8 151.7,151.3 149.2,150.7 146.4,154.2" fill="#6efdff" stroke="#6efdff"/><polygon points="154.3,151.9 157.1,148.6 154.6,147.9 151.7,151.3" fill="#6bffec" stroke="#6bffec"/><polygon points="151.7,151.3 154.6,147.9 152.0,147.2 149.2,150.7" fill="#6cffee" stroke="#6cffee"/><polygon points="151.5,155.4 157.1,148.6 152.0,147.2 146.4,154.2" fill="none" stroke="#337874" stroke-width="0.6"/><polygon points="135.0,169.3 137.8,165.4 135.3,164.9 132.5,168.8" fill="#75abff" stroke="#75abff"/><polygon points="132.5,168.8 135.3,164.9 132.8,164.3 130.0,168.3" fill="#75a8ff" stroke="#75a8ff"/><polygon points="137.8,165.4 140.7,161.5 138.2,161.0 135.3,164.9" fill="#73bfff" stroke="#73bfff"/><polygon points="135.3,164.9 138.2,161.0 135.7,160.5 132.8,164.3" fill="#74bcff" stroke="#74bcff"/><polygon points="135.0,169.3 140.7,161.5 135.7,160.5 130.0,168.3" fill="none" stroke="#375478" stroke-width="0.6"/><polygon points="178.9,139.3 181.7,136.6 179.1,135.7 176.3,138.5" fill="#5dff8c" stroke="#5dff8c"/><polygon points="176.3,138.5 179.1,135.7 176.4,134.9 173.6,137.7" fill="#5fff8d" stroke="#5fff8d"/><polygon points="181.7,136.6 184.5,134.0 181.9,133.1 179.1,135.7" fill="#5bff7b" stroke="#5bff7b"/><polygon points="179.1,135.7 181.9,133.1 179.2,132.2 176.4,134.9" fill="#5cff7c" stroke="#5cff7c"/><polygon points="178.9,139.3 184.5,134.0 179.2,132.2 173.6,137.7" fill="none" stroke="#2c783e" stroke-width="0.6"/><polygon points="289.0,134.8 291.5,134.7 288.5,133.0 286.0,133.1" fill="#03e01b" stroke="#03e01b"/><polygon points="286.0,133.1 288.5,133.0 285.6,131.3 283.1,131.5" fill="#04e214" stroke="#04e214"/><polygon points="291.5,134.7 293.9,134.7 291.0,132.9 288.5,133.0" fill="#01dc22" stroke="#01dc22"/><polygon points="288.5,133.0 291.0,132.9 288.0,131.2 285.6,131.3" fill="#02de19" stroke="#02de19"/><polygon points="289.0,134.8 293.9,134.7 288.0,131.2 283.1,131.5" fill="none" stroke="#01690c" stroke-width="0.6"/><polygon points="189.9,135.7 192.7,133.3 190.0,132.3 187.2,134.8" fill="#56ff69" stroke="#56ff69"/><polygon points="187.2,134.8 190.0,132.3 187.3,131.4 184.5,134.0" fill="#58ff69" stroke="#58ff69"/><polygon points="192.7,133.3 195.4,130.9 192.7,129.9 190.0,132.3" fill="#54ff59" stroke="#54ff59"/><polygon points="190.0,132.3 192.7,129.9 190.1,129.0 187.3,131.4" fill="#55ff59" stroke="#55ff59"/><polygon points="189.9,135.7 195.4,130.9 190.1,129.0 184.5,134.0" fill="none" stroke="#28782e" stroke-width="0.6"/><polygon points="162.3,149.9 165.2,146.7 162.6,146.0 159.7,149.3" fill="#68ffd6" stroke="#68ffd6"/><polygon points="159.7,149.3 162.6,146.0 160.0,145.3 157.1,148.6" fill="#69ffd7" stroke="#69ffd7"/><polygon points="165.2,146.7 168.0,143.6 165.4,142.9 162.6,146.0" fill="#66ffc3" stroke="#66ffc3"/><polygon points="162.6,146.0 165.4,142.9 162.8,142.1 160.0,145.3" fill="#67ffc5" stroke="#67ffc5"/><polygon points="162.3,149.9 168.0,143.6 162.8,142.1 157.1,148.6" fill="none" stroke="#317861" stroke-width="0.6"/><polygon points="278.1,132.1 280.6,131.7 277.7,130.1 275.2,130.5" fill="#13ea0c" stroke="#13ea0c"/><polygon points="275.2,130.5 277.7,130.1 274.8,128.5 272.2,128.9" fill="#1dec0d" stroke="#1dec0d"/><polygon points="280.6,131.7 283.1,131.5 280.2,129.8 277.7,130.1" fill="#0ae709" stroke="#0ae709"/><polygon points="277.7,130.1 280.2,129.8 277.3,128.2 274.8,128.5" fill="#14e90a" stroke="#14e90a"/><polygon points="278.1,132.1 283.1,131.5 277.3,128.2 272.2,128.9" fill="none" stroke="#096e05" stroke-width="0.6"/><polygon points="145.7,162.6 148.6,159.0 146.1,158.4 143.2,162.1" fill="#70d8ff" stroke="#70d8ff"/><polygon points="143.2,162.1 146.1,158.4 143.5,157.8 140.7,161.5" fill="#71d5ff" stroke="#71d5ff"/><polygon points="148.6,159.0 151.5,155.4 148.9,154.8 146.1,158.4" fill="#6febff" stroke="#6febff"/><polygon points="146.1,158.4 148.9,154.8 146.4,154.2 143.5,157.8" fill="#70e9ff" stroke="#70e9ff"/><polygon points="145.7,162.6 151.5,155.4 146.4,154.2 140.7,161.5" fill="none" stroke="#356a78" stroke-width="0.6"/><polygon points="200.9,132.8 203.6,130.6 200.9,129.6 198.2,131.9" fill="#54ff4e" stroke="#54ff4e"/><polygon points="198.2,131.9 200.9,129.6 198.2,128.6 195.4,130.9" fill="#57ff50" stroke="#57ff50"/><polygon points="203.6,130.6 206.4,128.5 203.7,127.5 200.9,129.6" fill="#5eff4c" stroke="#5eff4c"/><polygon points="200.9,129.6 203.7,127.5 201.0,126.4 198.2,128.6" fill="#61ff4d" stroke="#61ff4d"/><polygon points="200.9,132.8 206.4,128.5 201.0,126.4 195.4,130.9" fill="none" stroke="#2a7825" stroke-width="0.6"/><polygon points="267.1,130.1 269.7,129.5 266.8,127.9 264.2,128.6" fill="#34f515" stroke="#34f515"/><polygon points="264.2,128.6 266.8,127.9 263.9,126.4 261.3,127.1" fill="#3ef717" stroke="#3ef717"/><polygon points="269.7,129.5 272.2,128.9 269.3,127.4 266.8,127.9" fill="#2ef212" stroke="#2ef212"/><polygon points="266.8,127.9 269.3,127.4 266.4,125.8 263.9,126.4" fill="#38f414" stroke="#38f414"/><polygon points="267.1,130.1 272.2,128.9 266.4,125.8 261.3,127.1" fill="none" stroke="#19730a" stroke-width="0.6"/><polygon points="211.9,130.6 214.7,128.7 211.9,127.6 209.2,129.6" fill="#60ff46" stroke="#60ff46"/><polygon points="209.2,129.6 211.9,127.6 209.2,126.5 206.4,128.5" fill="#63ff48" stroke="#63ff48"/><polygon points="214.7,128.7 217.4,126.8 214.6,125.7 211.9,127.6" fill="#67ff43" stroke="#67ff43"/><polygon points="211.9,127.6 214.6,125.7 211.9,124.6 209.2,126.5" fill="#6bff45" stroke="#6bff45"/><polygon points="211.9,130.6 217.4,126.8 211.9,124.6 206.4,128.5" fill="none" stroke="#307821" stroke-width="0.6"/><polygon points="256.1,128.8 258.7,127.9 255.8,126.5 253.2,127.4" fill="#4fff20" stroke="#4fff20"/><polygon points="253.2,127.4 255.8,126.5 253.0,125.1 250.4,126.0" fill="#56ff22" stroke="#56ff22"/><polygon points="258.7,127.9 261.3,127.1 258.4,125.7 255.8,126.5" fill="#4cfd1d" stroke="#4cfd1d"/><polygon points="255.8,126.5 258.4,125.7 255.6,124.2 253.0,125.1" fill="#54ff1f" stroke="#54ff1f"/><polygon points="256.1,128.8 261.3,127.1 255.6,124.2 250.4,126.0" fill="none" stroke="#26780f" stroke-width="0.6"/><polygon points="173.3,145.1 176.1,142.2 173.4,141.4 170.6,144.4" fill="#62ffae" stroke="#62ffae"/><polygon points="170.6,144.4 173.4,141.4 170.8,140.6 168.0,143.6" fill="#63ffb0" stroke="#63ffb0"/><polygon points="176.1,142.2 178.9,139.3 176.3,138.5 173.4,141.4" fill="#60ff9d" stroke="#60ff9d"/><polygon points="173.4,141.4 176.3,138.5 173.6,137.7 170.8,140.6" fill="#61ff9e" stroke="#61ff9e"/><polygon points="173.3,145.1 178.9,139.3 173.6,137.7 168.0,143.6" fill="none" stroke="#2e784e" stroke-width="0.6"/><polygon points="223.0,129.1 225.7,127.4 222.9,126.3 220.2,128.0" fill="#66ff3d" stroke="#66ff3d"/><polygon points="220.2,128.0 222.9,126.3 220.1,125.1 217.4,126.8" fill="#6aff3f" stroke="#6aff3f"/><polygon points="225.7,127.4 228.4,125.9 225.6,124.6 222.9,126.3" fill="#6bff3a" stroke="#6bff3a"/><polygon points="222.9,126.3 225.6,124.6 222.8,123.4 220.1,125.1" fill="#70ff3c" stroke="#70ff3c"/><polygon points="223.0,129.1 228.4,125.9 222.8,123.4 217.4,126.8" fill="none" stroke="#32781c" stroke-width="0.6"/><polygon points="245.1,128.2 247.7,127.0 244.9,125.7 242.2,126.9" fill="#5eff2a" stroke="#5eff2a"/><polygon points="242.2,126.9 244.9,125.7 242.0,124.4 239.4,125.6" fill="#65ff2c" stroke="#65ff2c"/><polygon points="247.7,127.0 250.4,126.0 247.5,124.6 244.9,125.7" fill="#5fff27" stroke="#5fff27"/><polygon points="244.9,125.7 247.5,124.6 244.7,123.2 242.0,124.4" fill="#66ff28" stroke="#66ff28"/><polygon points="245.1,128.2 250.4,126.0 244.7,123.2 239.4,125.6" fill="none" stroke="#2e7813" stroke-width="0.6"/><polygon points="234.0,128.3 236.7,126.9 233.9,125.6 231.2,127.1" fill="#65ff34" stroke="#65ff34"/><polygon points="231.2,127.1 233.9,125.6 231.1,124.4 228.4,125.9" fill="#6bff35" stroke="#6bff35"/><polygon points="236.7,126.9 239.4,125.6 236.6,124.3 233.9,125.6" fill="#69ff30" stroke="#69ff30"/><polygon points="233.9,125.6 236.6,124.3 233.7,123.0 231.1,124.4" fill="#6eff32" stroke="#6eff32"/><polygon points="234.0,128.3 239.4,125.6 233.7,123.0 228.4,125.9" fill="none" stroke="#327818" stroke-width="0.6"/><polygon points="295.0,138.1 297.4,138.1 294.4,136.4 292.0,136.4" fill="#00dc2b" stroke="#00dc2b"/><polygon points="292.0,136.4 294.4,136.4 291.5,134.7 289.0,134.8" fill="#02de23" stroke="#02de23"/><polygon points="297.4,138.1 299.8,138.1 296.9,136.4 294.4,136.4" fill="#00d934" stroke="#00d934"/><polygon points="294.4,136.4 296.9,136.4 293.9,134.7 291.5,134.7" fill="#00db2a" stroke="#00db2a"/><polygon points="295.0,138.1 299.8,138.1 293.9,134.7 289.0,134.8" fill="none" stroke="#006714" stroke-width="0.6"/><polygon points="156.6,156.6 159.5,153.2 156.9,152.6 154.0,156.0" fill="#6bfffb" stroke="#6bfffb"/><polygon points="154.0,156.0 156.9,152.6 154.3,151.9 151.5,155.4" fill="#6cfffd" stroke="#6cfffd"/><polygon points="159.5,153.2 162.3,149.9 159.7,149.3 156.9,152.6" fill="#6affe8" stroke="#6affe8"/><polygon points="156.9,152.6 159.7,149.3 157.1,148.6 154.3,151.9" fill="#6affea" stroke="#6affea"/><polygon points="156.6,156.6 162.3,149.9 157.1,148.6 151.5,155.4" fill="none" stroke="#327872" stroke-width="0.6"/><polygon points="140.0,170.2 142.9,166.4 140.3,165.9 137.5,169.8" fill="#73b0ff" stroke="#73b0ff"/><polygon points="137.5,169.8 140.3,165.9 137.8,165.4 135.0,169.3" fill="#74adff" stroke="#74adff"/><polygon points="142.9,166.4 145.7,162.6 143.2,162.1 140.3,165.9" fill="#72c4ff" stroke="#72c4ff"/><polygon points="140.3,165.9 143.2,162.1 140.7,161.5 137.8,165.4" fill="#73c2ff" stroke="#73c2ff"/><polygon points="140.0,170.2 145.7,162.6 140.7,161.5 135.0,169.3" fill="none" stroke="#365778" stroke-width="0.6"/><polygon points="184.3,141.0 187.1,138.3 184.4,137.5 181.6,140.2" fill="#5bff89" stroke="#5bff89"/><polygon points="181.6,140.2 184.4,137.5 181.7,136.6 178.9,139.3" fill="#5cff8b" stroke="#5cff8b"/><polygon points="187.1,138.3 189.9,135.7 187.2,134.8 184.4,137.5" fill="#59ff79" stroke="#59ff79"/><polygon points="184.4,137.5 187.2,134.8 184.5,134.0 181.7,136.6" fill="#5aff7a" stroke="#5aff7a"/><polygon points="184.3,141.0 189.9,135.7 184.5,134.0 178.9,139.3" fill="none" stroke="#2b783d" stroke-width="0.6"/><polygon points="284.0,135.2 286.5,134.9 283.6,133.3 281.0,133.6" fill="#08e712" stroke="#08e712"/><polygon points="281.0,133.6 283.6,133.3 280.6,131.7 278.1,132.1" fill="#0ae80b" stroke="#0ae80b"/><polygon points="286.5,134.9 289.0,134.8 286.0,133.1 283.6,133.3" fill="#06e316" stroke="#06e316"/><polygon points="283.6,133.3 286.0,133.1 283.1,131.5 280.6,131.7" fill="#07e50f" stroke="#07e50f"/><polygon points="284.0,135.2 289.0,134.8 283.1,131.5 278.1,132.1" fill="none" stroke="#046c08" stroke-width="0.6"/><polygon points="195.3,137.5 198.1,135.1 195.4,134.2 192.6,136.6" fill="#54ff67" stroke="#54ff67"/><polygon points="192.6,136.6 195.4,134.2 192.7,133.3 189.9,135.7" fill="#55ff68" stroke="#55ff68"/><polygon points="198.1,135.1 200.9,132.8 198.2,131.9 195.4,134.2" fill="#51ff58" stroke="#51ff58"/><polygon points="195.4,134.2 198.2,131.9 195.4,130.9 192.7,133.3" fill="#52ff58" stroke="#52ff58"/><polygon points="195.3,137.5 200.9,132.8 195.4,130.9 189.9,135.7" fill="none" stroke="#27782d" stroke-width="0.6"/><polygon points="167.6,151.3 170.4,148.2 167.8,147.4 164.9,150.6" fill="#66ffd2" stroke="#66ffd2"/><polygon points="164.9,150.6 167.8,147.4 165.2,146.7 162.3,149.9" fill="#67ffd4" stroke="#67ffd4"/><polygon points="170.4,148.2 173.3,145.1 170.6,144.4 167.8,147.4" fill="#64ffc0" stroke="#64ffc0"/><polygon points="167.8,147.4 170.6,144.4 168.0,143.6 165.2,146.7" fill="#65ffc2" stroke="#65ffc2"/><polygon points="167.6,151.3 173.3,145.1 168.0,143.6 162.3,149.9" fill="none" stroke="#30785f" stroke-width="0.6"/><polygon points="273.0,133.0 275.6,132.5 272.6,131.0 270.1,131.5" fill="#22f112" stroke="#22f112"/><polygon points="270.1,131.5 272.6,131.0 269.7,129.5 267.1,130.1" fill="#2bf314" stroke="#2bf314"/><polygon points="275.6,132.5 278.1,132.1 275.2,130.5 272.6,131.0" fill="#1bee0f" stroke="#1bee0f"/><polygon points="272.6,131.0 275.2,130.5 272.2,128.9 269.7,129.5" fill="#24f010" stroke="#24f010"/><polygon points="273.0,133.0 278.1,132.1 272.2,128.9 267.1,130.1" fill="none" stroke="#117108" stroke-width="0.6"/><polygon points="206.4,134.8 209.2,132.6 206.4,131.6 203.6,133.8" fill="#4fff4c" stroke="#4fff4c"/><polygon points="203.6,133.8 206.4,131.6 203.6,130.6 200.9,132.8" fill="#52ff4d" stroke="#52ff4d"/><polygon points="209.2,132.6 211.9,130.6 209.2,129.6 206.4,131.6" fill="#58ff49" stroke="#58ff49"/><polygon points="206.4,131.6 209.2,129.6 206.4,128.5 203.6,130.6" fill="#5bff4a" stroke="#5bff4a"/><polygon points="206.4,134.8 211.9,130.6 206.4,128.5 200.9,132.8" fill="none" stroke="#287823" stroke-width="0.6"/><polygon points="150.9,163.7 153.8,160.1 151.2,159.5 148.3,163.2" fill="#6fddff" stroke="#6fddff"/><polygon points="148.3,163.2 151.2,159.5 148.6,159.0 145.7,162.6" fill="#6fdbff" stroke="#6fdbff"/><polygon points="153.8,160.1 156.6,156.6 154.0,156.0 151.2,159.5" fill="#6df0ff" stroke="#6df0ff"/><polygon points="151.2,159.5 154.0,156.0 151.5,155.4 148.6,159.0" fill="#6eeeff" stroke="#6eeeff"/><polygon points="150.9,163.7 156.6,156.6 151.5,155.4 145.7,162.6" fill="none" stroke="#346c78" stroke-width="0.6"/><polygon points="261.9,131.6 264.5,130.8 261.6,129.3 259.0,130.2" fill="#3ffd1c" stroke="#3ffd1c"/><polygon points="259.0,130.2 261.6,129.3 258.7,127.9 256.1,128.8" fill="#47ff1e" stroke="#47ff1e"/><polygon points="264.5,130.8 267.1,130.1 264.2,128.6 261.6,129.3" fill="#3af919" stroke="#3af919"/><polygon points="261.6,129.3 264.2,128.6 261.3,127.1 258.7,127.9" fill="#43fb1b" stroke="#43fb1b"/><polygon points="261.9,131.6 267.1,130.1 261.3,127.1 256.1,128.8" fill="none" stroke="#1e760d" stroke-width="0.6"/><polygon points="217.5,132.7 220.2,130.9 217.4,129.8 214.7,131.7" fill="#59ff43" stroke="#59ff43"/><polygon points="214.7,131.7 217.4,129.8 214.7,128.7 211.9,130.6" fill="#5cff45" stroke="#5cff45"/><polygon points="220.2,130.9 223.0,129.1 220.2,128.0 217.4,129.8" fill="#60ff40" stroke="#60ff40"/><polygon points="217.4,129.8 220.2,128.0 217.4,126.8 214.7,128.7" fill="#63ff42" stroke="#63ff42"/><polygon points="217.5,132.7 223.0,129.1 217.4,126.8 211.9,130.6" fill="none" stroke="#2c781f" stroke-width="0.6"/><polygon points="250.9,130.8 253.5,129.7 250.6,128.4 248.0,129.5" fill="#51ff26" stroke="#51ff26"/><polygon points="248.0,129.5 250.6,128.4 247.7,127.0 245.1,128.2" fill="#58ff28" stroke="#58ff28"/><polygon points="253.5,129.7 256.1,128.8 253.2,127.4 250.6,128.4" fill="#50ff23" stroke="#50ff23"/><polygon points="250.6,128.4 253.2,127.4 250.4,126.0 247.7,127.0" fill="#57ff25" stroke="#57ff25"/><polygon points="250.9,130.8 256.1,128.8 250.4,126.0 245.1,128.2" fill="none" stroke="#287812" stroke-width="0.6"/><polygon points="228.6,131.4 231.3,129.8 228.5,128.6 225.8,130.2" fill="#5dff3a" stroke="#5dff3a"/><polygon points="225.8,130.2 228.5,128.6 225.7,127.4 223.0,129.1" fill="#61ff3b" stroke="#61ff3b"/><polygon points="231.3,129.8 234.0,128.3 231.2,127.1 228.5,128.6" fill="#62ff37" stroke="#62ff37"/><polygon points="228.5,128.6 231.2,127.1 228.4,125.9 225.7,127.4" fill="#66ff38" stroke="#66ff38"/><polygon points="228.6,131.4 234.0,128.3 228.4,125.9 223.0,129.1" fill="none" stroke="#2e781b" stroke-width="0.6"/><polygon points="239.7,130.7 242.4,129.4 239.6,128.1 236.9,129.5" fill="#5bff30" stroke="#5bff30"/><polygon points="236.9,129.5 239.6,128.1 236.7,126.9 234.0,128.3" fill="#60ff32" stroke="#60ff32"/><polygon points="242.4,129.4 245.1,128.2 242.2,126.9 239.6,128.1" fill="#5dff2d" stroke="#5dff2d"/><polygon points="239.6,128.1 242.2,126.9 239.4,125.6 236.7,126.9" fill="#63ff2f" stroke="#63ff2f"/><polygon points="239.7,130.7 245.1,128.2 239.4,125.6 234.0,128.3" fill="none" stroke="#2d7816" stroke-width="0.6"/><polygon points="178.6,146.6 181.4,143.7 178.7,143.0 175.9,145.9" fill="#5fffab" stroke="#5fffab"/><polygon points="175.9,145.9 178.7,143.0 176.1,142.2 173.3,145.1" fill="#61ffad" stroke="#61ffad"/><polygon points="181.4,143.7 184.3,141.0 181.6,140.2 178.7,143.0" fill="#5dff9a" stroke="#5dff9a"/><polygon points="178.7,143.0 181.6,140.2 178.9,139.3 176.1,142.2" fill="#5eff9c" stroke="#5eff9c"/><polygon points="178.6,146.6 184.3,141.0 178.9,139.3 173.3,145.1" fill="none" stroke="#2d784d" stroke-width="0.6"/><polygon points="161.8,157.9 164.7,154.5 162.1,153.9 159.2,157.2" fill="#69fff6" stroke="#69fff6"/><polygon points="159.2,157.2 162.1,153.9 159.5,153.2 156.6,156.6" fill="#6afff9" stroke="#6afff9"/><polygon points="164.7,154.5 167.6,151.3 164.9,150.6 162.1,153.9" fill="#68ffe4" stroke="#68ffe4"/><polygon points="162.1,153.9 164.9,150.6 162.3,149.9 159.5,153.2" fill="#69ffe6" stroke="#69ffe6"/><polygon points="161.8,157.9 167.6,151.3 162.3,149.9 156.6,156.6" fill="none" stroke="#317870" stroke-width="0.6"/><polygon points="189.7,142.6 192.5,140.0 189.8,139.2 186.9,141.8" fill="#58ff87" stroke="#58ff87"/><polygon points="186.9,141.8 189.8,139.2 187.1,138.3 184.3,141.0" fill="#5aff88" stroke="#5aff88"/><polygon points="192.5,140.0 195.3,137.5 192.6,136.6 189.8,139.2" fill="#56ff77" stroke="#56ff77"/><polygon points="189.8,139.2 192.6,136.6 189.9,135.7 187.1,138.3" fill="#57ff78" stroke="#57ff78"/><polygon points="189.7,142.6 195.3,137.5 189.9,135.7 184.3,141.0" fill="none" stroke="#29783c" stroke-width="0.6"/><polygon points="145.1,171.2 148.0,167.4 145.4,166.9 142.6,170.7" fill="#72b6ff" stroke="#72b6ff"/><polygon points="142.6,170.7 145.4,166.9 142.9,166.4 140.0,170.2" fill="#72b3ff" stroke="#72b3ff"/><polygon points="148.0,167.4 150.9,163.7 148.3,163.2 145.4,166.9" fill="#70caff" stroke="#70caff"/><polygon points="145.4,166.9 148.3,163.2 145.7,162.6 142.9,166.4" fill="#71c7ff" stroke="#71c7ff"/><polygon points="145.1,171.2 150.9,163.7 145.7,162.6 140.0,170.2" fill="none" stroke="#355a78" stroke-width="0.6"/><polygon points="290.0,138.4 292.5,138.2 289.5,136.6 287.0,136.8" fill="#05e31f" stroke="#05e31f"/><polygon points="287.0,136.8 289.5,136.6 286.5,134.9 284.0,135.2" fill="#07e518" stroke="#07e518"/><polygon points="292.5,138.2 295.0,138.1 292.0,136.4 289.5,136.6" fill="#03df24" stroke="#03df24"/><polygon points="289.5,136.6 292.0,136.4 289.0,134.8 286.5,134.9" fill="#04e11d" stroke="#04e11d"/><polygon points="290.0,138.4 295.0,138.1 289.0,134.8 284.0,135.2" fill="none" stroke="#026a0e" stroke-width="0.6"/><polygon points="200.8,139.3 203.6,137.0 200.8,136.1 198.0,138.4" fill="#51ff66" stroke="#51ff66"/><polygon points="198.0,138.4 200.8,136.1 198.1,135.1 195.3,137.5" fill="#52ff66" stroke="#52ff66"/><polygon points="203.6,137.0 206.4,134.8 203.6,133.8 200.8,136.1" fill="#4eff57" stroke="#4eff57"/><polygon points="200.8,136.1 203.6,133.8 200.9,132.8 198.1,135.1" fill="#50ff57" stroke="#50ff57"/><polygon points="200.8,139.3 206.4,134.8 200.9,132.8 195.3,137.5" fill="none" stroke="#26782c" stroke-width="0.6"/><polygon points="278.9,136.0 281.5,135.6 278.5,134.0 276.0,134.5" fill="#10ee0e" stroke="#10ee0e"/><polygon points="276.0,134.5 278.5,134.0 275.6,132.5 273.0,133.0" fill="#19f010" stroke="#19f010"/><polygon points="281.5,135.6 284.0,135.2 281.0,133.6 278.5,134.0" fill="#0bea0f" stroke="#0bea0f"/><polygon points="278.5,134.0 281.0,133.6 278.1,132.1 275.6,132.5" fill="#11ec0d" stroke="#11ec0d"/><polygon points="278.9,136.0 284.0,135.2 278.1,132.1 273.0,133.0" fill="none" stroke="#086f06" stroke-width="0.6"/><polygon points="172.9,152.6 175.7,149.6 173.1,148.9 170.2,152.0" fill="#64ffce" stroke="#64ffce"/><polygon points="170.2,152.0 173.1,148.9 170.4,148.2 167.6,151.3" fill="#65ffd0" stroke="#65ffd0"/><polygon points="175.7,149.6 178.6,146.6 175.9,145.9 173.1,148.9" fill="#61ffbc" stroke="#61ffbc"/><polygon points="173.1,148.9 175.9,145.9 173.3,145.1 170.4,148.2" fill="#63ffbe" stroke="#63ffbe"/><polygon points="172.9,152.6 178.6,146.6 173.3,145.1 167.6,151.3" fill="none" stroke="#2f785d" stroke-width="0.6"/><polygon points="211.9,136.7 214.7,134.7 211.9,133.7 209.2,135.8" fill="#4aff49" stroke="#4aff49"/><polygon points="209.2,135.8 211.9,133.7 209.2,132.6 206.4,134.8" fill="#4cff4a" stroke="#4cff4a"/><polygon points="214.7,134.7 217.5,132.7 214.7,131.7 211.9,133.7" fill="#52ff46" stroke="#52ff46"/><polygon points="211.9,133.7 214.7,131.7 211.9,130.6 209.2,132.6" fill="#55ff47" stroke="#55ff47"/><polygon points="211.9,136.7 217.5,132.7 211.9,130.6 206.4,134.8" fill="none" stroke="#257822" stroke-width="0.6"/><polygon points="267.8,134.4 270.4,133.7 267.5,132.2 264.9,133.0" fill="#2ef919" stroke="#2ef919"/><polygon points="264.9,133.0 267.5,132.2 264.5,130.8 261.9,131.6" fill="#36fb1a" stroke="#36fb1a"/><polygon points="270.4,133.7 273.0,133.0 270.1,131.5 267.5,132.2" fill="#29f515" stroke="#29f515"/><polygon points="267.5,132.2 270.1,131.5 267.1,130.1 264.5,130.8" fill="#31f717" stroke="#31f717"/><polygon points="267.8,134.4 273.0,133.0 267.1,130.1 261.9,131.6" fill="none" stroke="#16750b" stroke-width="0.6"/><polygon points="223.1,134.8 225.9,133.1 223.0,132.0 220.3,133.8" fill="#52ff40" stroke="#52ff40"/><polygon points="220.3,133.8 223.0,132.0 220.2,130.9 217.5,132.7" fill="#55ff41" stroke="#55ff41"/><polygon points="225.9,133.1 228.6,131.4 225.8,130.2 223.0,132.0" fill="#58ff3d" stroke="#58ff3d"/><polygon points="223.0,132.0 225.8,130.2 223.0,129.1 220.2,130.9" fill="#5cff3e" stroke="#5cff3e"/><polygon points="223.1,134.8 228.6,131.4 223.0,129.1 217.5,132.7" fill="none" stroke="#29781e" stroke-width="0.6"/><polygon points="156.1,164.8 159.0,161.3 156.4,160.7 153.5,164.3" fill="#6de3ff" stroke="#6de3ff"/><polygon points="153.5,164.3 156.4,160.7 153.8,160.1 150.9,163.7" fill="#6ee0ff" stroke="#6ee0ff"/><polygon points="159.0,161.3 161.8,157.9 159.2,157.2 156.4,160.7" fill="#6bf5ff" stroke="#6bf5ff"/><polygon points="156.4,160.7 159.2,157.2 156.6,156.6 153.8,160.1" fill="#6cf3ff" stroke="#6cf3ff"/><polygon points="156.1,164.8 161.8,157.9 156.6,156.6 150.9,163.7" fill="none" stroke="#336e78" stroke-width="0.6"/><polygon points="256.7,133.4 259.3,132.4 256.4,131.1 253.8,132.1" fill="#44ff23" stroke="#44ff23"/><polygon points="253.8,132.1 256.4,131.1 253.5,129.7 250.9,130.8" fill="#4aff25" stroke="#4aff25"/><polygon points="259.3,132.4 261.9,131.6 259.0,130.2 256.4,131.1" fill="#42ff20" stroke="#42ff20"/><polygon points="256.4,131.1 259.0,130.2 256.1,128.8 253.5,129.7" fill="#49ff22" stroke="#49ff22"/><polygon points="256.7,133.4 261.9,131.6 256.1,128.8 250.9,130.8" fill="none" stroke="#217810" stroke-width="0.6"/><polygon points="234.3,133.7 237.0,132.1 234.2,131.0 231.5,132.5" fill="#54ff37" stroke="#54ff37"/><polygon points="231.5,132.5 234.2,131.0 231.3,129.8 228.6,131.4" fill="#59ff38" stroke="#59ff38"/><polygon points="237.0,132.1 239.7,130.7 236.9,129.5 234.2,131.0" fill="#58ff33" stroke="#58ff33"/><polygon points="234.2,131.0 236.9,129.5 234.0,128.3 231.3,129.8" fill="#5dff35" stroke="#5dff35"/><polygon points="234.3,133.7 239.7,130.7 234.0,128.3 228.6,131.4" fill="none" stroke="#2a7819" stroke-width="0.6"/><polygon points="245.5,133.2 248.2,131.9 245.3,130.7 242.6,132.0" fill="#50ff2d" stroke="#50ff2d"/><polygon points="242.6,132.0 245.3,130.7 242.4,129.4 239.7,130.7" fill="#55ff2f" stroke="#55ff2f"/><polygon points="248.2,131.9 250.9,130.8 248.0,129.5 245.3,130.7" fill="#51ff2a" stroke="#51ff2a"/><polygon points="245.3,130.7 248.0,129.5 245.1,128.2 242.4,129.4" fill="#57ff2b" stroke="#57ff2b"/><polygon points="245.5,133.2 250.9,130.8 245.1,128.2 239.7,130.7" fill="none" stroke="#277815" stroke-width="0.6"/><polygon points="184.0,148.1 186.8,145.3 184.1,144.5 181.3,147.4" fill="#5dffa8" stroke="#5dffa8"/><polygon points="181.3,147.4 184.1,144.5 181.4,143.7 178.6,146.6" fill="#5effa9" stroke="#5effa9"/><polygon points="186.8,145.3 189.7,142.6 186.9,141.8 184.1,144.5" fill="#5bff97" stroke="#5bff97"/><polygon points="184.1,144.5 186.9,141.8 184.3,141.0 181.4,143.7" fill="#5cff99" stroke="#5cff99"/><polygon points="184.0,148.1 189.7,142.6 184.3,141.0 178.6,146.6" fill="none" stroke="#2b784b" stroke-width="0.6"/><polygon points="195.1,144.3 198.0,141.8 195.2,140.9 192.4,143.5" fill="#56ff84" stroke="#56ff84"/><polygon points="192.4,143.5 195.2,140.9 192.5,140.0 189.7,142.6" fill="#57ff86" stroke="#57ff86"/><polygon points="198.0,141.8 200.8,139.3 198.0,138.4 195.2,140.9" fill="#53ff75" stroke="#53ff75"/><polygon points="195.2,140.9 198.0,138.4 195.3,137.5 192.5,140.0" fill="#55ff76" stroke="#55ff76"/><polygon points="195.1,144.3 200.8,139.3 195.3,137.5 189.7,142.6" fill="none" stroke="#28783b" stroke-width="0.6"/><polygon points="167.1,159.1 170.0,155.8 167.4,155.2 164.5,158.5" fill="#67fff1" stroke="#67fff1"/><polygon points="164.5,158.5 167.4,155.2 164.7,154.5 161.8,157.9" fill="#68fff4" stroke="#68fff4"/><polygon points="170.0,155.8 172.9,152.6 170.2,152.0 167.4,155.2" fill="#65ffdf" stroke="#65ffdf"/><polygon points="167.4,155.2 170.2,152.0 167.6,151.3 164.7,154.5" fill="#66ffe2" stroke="#66ffe2"/><polygon points="167.1,159.1 172.9,152.6 167.6,151.3 161.8,157.9" fill="none" stroke="#30786e" stroke-width="0.6"/><polygon points="150.3,172.2 153.2,168.4 150.6,167.9 147.7,171.7" fill="#70bcff" stroke="#70bcff"/><polygon points="147.7,171.7 150.6,167.9 148.0,167.4 145.1,171.2" fill="#71b9ff" stroke="#71b9ff"/><polygon points="153.2,168.4 156.1,164.8 153.5,164.3 150.6,167.9" fill="#6ed0ff" stroke="#6ed0ff"/><polygon points="150.6,167.9 153.5,164.3 150.9,163.7 148.0,167.4" fill="#6fcdff" stroke="#6fcdff"/><polygon points="150.3,172.2 156.1,164.8 150.9,163.7 145.1,171.2" fill="none" stroke="#345c78" stroke-width="0.6"/><polygon points="284.9,139.0 287.5,138.6 284.5,137.1 281.9,137.5" fill="#0bea18" stroke="#0bea18"/><polygon points="281.9,137.5 284.5,137.1 281.5,135.6 278.9,136.0" fill="#0dec12" stroke="#0dec12"/><polygon points="287.5,138.6 290.0,138.4 287.0,136.8 284.5,137.1" fill="#08e61b" stroke="#08e61b"/><polygon points="284.5,137.1 287.0,136.8 284.0,135.2 281.5,135.6" fill="#0ae815" stroke="#0ae815"/><polygon points="284.9,139.0 290.0,138.4 284.0,135.2 278.9,136.0" fill="none" stroke="#056d0a" stroke-width="0.6"/><polygon points="206.4,141.1 209.2,138.9 206.4,137.9 203.6,140.2" fill="#4eff64" stroke="#4eff64"/><polygon points="203.6,140.2 206.4,137.9 203.6,137.0 200.8,139.3" fill="#50ff65" stroke="#50ff65"/><polygon points="209.2,138.9 211.9,136.7 209.2,135.8 206.4,137.9" fill="#4bff56" stroke="#4bff56"/><polygon points="206.4,137.9 209.2,135.8 206.4,134.8 203.6,137.0" fill="#4dff56" stroke="#4dff56"/><polygon points="206.4,141.1 211.9,136.7 206.4,134.8 200.8,139.3" fill="none" stroke="#24782c" stroke-width="0.6"/><polygon points="273.8,137.2 276.4,136.6 273.4,135.1 270.8,135.8" fill="#1ef515" stroke="#1ef515"/><polygon points="270.8,135.8 273.4,135.1 270.4,133.7 267.8,134.4" fill="#26f717" stroke="#26f717"/><polygon points="276.4,136.6 278.9,136.0 276.0,134.5 273.4,135.1" fill="#18f112" stroke="#18f112"/><polygon points="273.4,135.1 276.0,134.5 273.0,133.0 270.4,133.7" fill="#20f313" stroke="#20f313"/><polygon points="273.8,137.2 278.9,136.0 273.0,133.0 267.8,134.4" fill="none" stroke="#0f7309" stroke-width="0.6"/><polygon points="217.6,138.7 220.4,136.7 217.5,135.7 214.8,137.7" fill="#46ff47" stroke="#46ff47"/><polygon points="214.8,137.7 217.5,135.7 214.7,134.7 211.9,136.7" fill="#47ff47" stroke="#47ff47"/><polygon points="220.4,136.7 223.1,134.8 220.3,133.8 217.5,135.7" fill="#4bff43" stroke="#4bff43"/><polygon points="217.5,135.7 220.3,133.8 217.5,132.7 214.7,134.7" fill="#4fff44" stroke="#4fff44"/><polygon points="217.6,138.7 223.1,134.8 217.5,132.7 211.9,136.7" fill="none" stroke="#237820" stroke-width="0.6"/><polygon points="178.3,154.0 181.1,151.0 178.4,150.3 175.6,153.3" fill="#61ffc9" stroke="#61ffc9"/><polygon points="175.6,153.3 178.4,150.3 175.7,149.6 172.9,152.6" fill="#62ffcc" stroke="#62ffcc"/><polygon points="181.1,151.0 184.0,148.1 181.3,147.4 178.4,150.3" fill="#5fffb8" stroke="#5fffb8"/><polygon points="178.4,150.3 181.3,147.4 178.6,146.6 175.7,149.6" fill="#60ffba" stroke="#60ffba"/><polygon points="178.3,154.0 184.0,148.1 178.6,146.6 172.9,152.6" fill="none" stroke="#2e785b" stroke-width="0.6"/><polygon points="262.6,136.1 265.2,135.2 262.3,133.8 259.6,134.7" fill="#36ff20" stroke="#36ff20"/><polygon points="259.6,134.7 262.3,133.8 259.3,132.4 256.7,133.4" fill="#3dff21" stroke="#3dff21"/><polygon points="265.2,135.2 267.8,134.4 264.9,133.0 262.3,133.8" fill="#33fc1c" stroke="#33fc1c"/><polygon points="262.3,133.8 264.9,133.0 261.9,131.6 259.3,132.4" fill="#3bfe1e" stroke="#3bfe1e"/><polygon points="262.6,136.1 267.8,134.4 261.9,131.6 256.7,133.4" fill="none" stroke="#1b780e" stroke-width="0.6"/><polygon points="228.8,137.0 231.6,135.3 228.7,134.2 226.0,135.9" fill="#4bff3d" stroke="#4bff3d"/><polygon points="226.0,135.9 228.7,134.2 225.9,133.1 223.1,134.8" fill="#4eff3e" stroke="#4eff3e"/><polygon points="231.6,135.3 234.3,133.7 231.5,132.5 228.7,134.2" fill="#50ff3a" stroke="#50ff3a"/><polygon points="228.7,134.2 231.5,132.5 228.6,131.4 225.9,133.1" fill="#54ff3b" stroke="#54ff3b"/><polygon points="228.8,137.0 234.3,133.7 228.6,131.4 223.1,134.8" fill="none" stroke="#25781c" stroke-width="0.6"/><polygon points="251.4,135.7 254.0,134.5 251.1,133.2 248.4,134.4" fill="#45ff29" stroke="#45ff29"/><polygon points="248.4,134.4 251.1,133.2 248.2,131.9 245.5,133.2" fill="#4aff2b" stroke="#4aff2b"/><polygon points="254.0,134.5 256.7,133.4 253.8,132.1 251.1,133.2" fill="#45ff26" stroke="#45ff26"/><polygon points="251.1,133.2 253.8,132.1 250.9,130.8 248.2,131.9" fill="#4bff28" stroke="#4bff28"/><polygon points="251.4,135.7 256.7,133.4 250.9,130.8 245.5,133.2" fill="none" stroke="#227813" stroke-width="0.6"/><polygon points="240.1,136.0 242.8,134.5 239.9,133.3 237.2,134.8" fill="#4bff33" stroke="#4bff33"/><polygon points="237.2,134.8 239.9,133.3 237.0,132.1 234.3,133.7" fill="#50ff35" stroke="#50ff35"/><polygon points="242.8,134.5 245.5,133.2 242.6,132.0 239.9,133.3" fill="#4eff30" stroke="#4eff30"/><polygon points="239.9,133.3 242.6,132.0 239.7,130.7 237.0,132.1" fill="#53ff32" stroke="#53ff32"/><polygon points="240.1,136.0 245.5,133.2 239.7,130.7 234.3,133.7" fill="none" stroke="#257818" stroke-width="0.6"/><polygon points="161.4,165.9 164.2,162.4 161.6,161.9 158.7,165.4" fill="#6be8ff" stroke="#6be8ff"/><polygon points="158.7,165.4 161.6,161.9 159.0,161.3 156.1,164.8" fill="#6ce5ff" stroke="#6ce5ff"/><polygon points="164.2,162.4 167.1,159.1 164.5,158.5 161.6,161.9" fill="#69fbff" stroke="#69fbff"/><polygon points="161.6,161.9 164.5,158.5 161.8,157.9 159.0,161.3" fill="#6af8ff" stroke="#6af8ff"/><polygon points="161.4,165.9 167.1,159.1 161.8,157.9 156.1,164.8" fill="none" stroke="#327178" stroke-width="0.6"/><polygon points="189.5,149.6 192.3,146.9 189.6,146.1 186.7,148.9" fill="#5bffa4" stroke="#5bffa4"/><polygon points="186.7,148.9 189.6,146.1 186.8,145.3 184.0,148.1" fill="#5cffa6" stroke="#5cffa6"/><polygon points="192.3,146.9 195.1,144.3 192.4,143.5 189.6,146.1" fill="#58ff94" stroke="#58ff94"/><polygon points="189.6,146.1 192.4,143.5 189.7,142.6 186.8,145.3" fill="#5aff96" stroke="#5aff96"/><polygon points="189.5,149.6 195.1,144.3 189.7,142.6 184.0,148.1" fill="none" stroke="#2a784a" stroke-width="0.6"/><polygon points="200.7,145.9 203.5,143.5 200.7,142.6 197.9,145.1" fill="#53ff81" stroke="#53ff81"/><polygon points="197.9,145.1 200.7,142.6 198.0,141.8 195.1,144.3" fill="#55ff83" stroke="#55ff83"/><polygon points="203.5,143.5 206.4,141.1 203.6,140.2 200.7,142.6" fill="#51ff72" stroke="#51ff72"/><polygon points="200.7,142.6 203.6,140.2 200.8,139.3 198.0,141.8" fill="#52ff74" stroke="#52ff74"/><polygon points="200.7,145.9 206.4,141.1 200.8,139.3 195.1,144.3" fill="none" stroke="#27783a" stroke-width="0.6"/><polygon points="172.5,160.3 175.4,157.1 172.7,156.5 169.8,159.7" fill="#65ffec" stroke="#65ffec"/><polygon points="169.8,159.7 172.7,156.5 170.0,155.8 167.1,159.1" fill="#66ffef" stroke="#66ffef"/><polygon points="175.4,157.1 178.3,154.0 175.6,153.3 172.7,156.5" fill="#63ffdb" stroke="#63ffdb"/><polygon points="172.7,156.5 175.6,153.3 172.9,152.6 170.0,155.8" fill="#64ffdd" stroke="#64ffdd"/><polygon points="172.5,160.3 178.3,154.0 172.9,152.6 167.1,159.1" fill="none" stroke="#2f786b" stroke-width="0.6"/><polygon points="155.5,173.1 158.4,169.5 155.8,168.9 152.9,172.6" fill="#6ec3ff" stroke="#6ec3ff"/><polygon points="152.9,172.6 155.8,168.9 153.2,168.4 150.3,172.2" fill="#6fc0ff" stroke="#6fc0ff"/><polygon points="158.4,169.5 161.4,165.9 158.7,165.4 155.8,168.9" fill="#6cd6ff" stroke="#6cd6ff"/><polygon points="155.8,168.9 158.7,165.4 156.1,164.8 153.2,168.4" fill="#6dd3ff" stroke="#6dd3ff"/><polygon points="155.5,173.1 161.4,165.9 156.1,164.8 150.3,172.2" fill="none" stroke="#345f78" stroke-width="0.6"/><polygon points="212.0,143.0 214.8,140.8 212.0,139.8 209.2,142.0" fill="#4bff62" stroke="#4bff62"/><polygon points="209.2,142.0 212.0,139.8 209.2,138.9 206.4,141.1" fill="#4dff63" stroke="#4dff63"/><polygon points="214.8,140.8 217.6,138.7 214.8,137.7 212.0,139.8" fill="#48ff54" stroke="#48ff54"/><polygon points="212.0,139.8 214.8,137.7 211.9,136.7 209.2,138.9" fill="#4aff55" stroke="#4aff55"/><polygon points="212.0,143.0 217.6,138.7 211.9,136.7 206.4,141.1" fill="none" stroke="#23782b" stroke-width="0.6"/><polygon points="279.8,140.0 282.4,139.5 279.4,138.0 276.8,138.6" fill="#11f114" stroke="#11f114"/><polygon points="276.8,138.6 279.4,138.0 276.4,136.6 273.8,137.2" fill="#16f313" stroke="#16f313"/><polygon points="282.4,139.5 284.9,139.0 281.9,137.5 279.4,138.0" fill="#0eed15" stroke="#0eed15"/><polygon points="279.4,138.0 281.9,137.5 278.9,136.0 276.4,136.6" fill="#10ef11" stroke="#10ef11"/><polygon points="279.8,140.0 284.9,139.0 278.9,136.0 273.8,137.2" fill="none" stroke="#087109" stroke-width="0.6"/><polygon points="223.3,140.7 226.1,138.8 223.2,137.8 220.4,139.7" fill="#43ff46" stroke="#43ff46"/><polygon points="220.4,139.7 223.2,137.8 220.4,136.7 217.6,138.7" fill="#44ff46" stroke="#44ff46"/><polygon points="226.1,138.8 228.8,137.0 226.0,135.9 223.2,137.8" fill="#45ff40" stroke="#45ff40"/><polygon points="223.2,137.8 226.0,135.9 223.1,134.8 220.4,136.7" fill="#48ff41" stroke="#48ff41"/><polygon points="223.3,140.7 228.8,137.0 223.1,134.8 217.6,138.7" fill="none" stroke="#20781f" stroke-width="0.6"/><polygon points="268.6,138.7 271.2,137.9 268.2,136.5 265.6,137.4" fill="#28fc1c" stroke="#28fc1c"/><polygon points="265.6,137.4 268.2,136.5 265.2,135.2 262.6,136.1" fill="#30fe1e" stroke="#30fe1e"/><polygon points="271.2,137.9 273.8,137.2 270.8,135.8 268.2,136.5" fill="#24f818" stroke="#24f818"/><polygon points="268.2,136.5 270.8,135.8 267.8,134.4 265.2,135.2" fill="#2bfa1a" stroke="#2bfa1a"/><polygon points="268.6,138.7 273.8,137.2 267.8,134.4 262.6,136.1" fill="none" stroke="#14760d" stroke-width="0.6"/><polygon points="183.7,155.4 186.6,152.5 183.9,151.7 181.0,154.7" fill="#5fffc5" stroke="#5fffc5"/><polygon points="181.0,154.7 183.9,151.7 181.1,151.0 178.3,154.0" fill="#60ffc7" stroke="#60ffc7"/><polygon points="186.6,152.5 189.5,149.6 186.7,148.9 183.9,151.7" fill="#5dffb4" stroke="#5dffb4"/><polygon points="183.9,151.7 186.7,148.9 184.0,148.1 181.1,151.0" fill="#5effb6" stroke="#5effb6"/><polygon points="183.7,155.4 189.5,149.6 184.0,148.1 178.3,154.0" fill="none" stroke="#2c7859" stroke-width="0.6"/><polygon points="234.6,139.1 237.4,137.5 234.5,136.4 231.7,138.0" fill="#44ff39" stroke="#44ff39"/><polygon points="231.7,138.0 234.5,136.4 231.6,135.3 228.8,137.0" fill="#48ff3b" stroke="#48ff3b"/><polygon points="237.4,137.5 240.1,136.0 237.2,134.8 234.5,136.4" fill="#48ff36" stroke="#48ff36"/><polygon points="234.5,136.4 237.2,134.8 234.3,133.7 231.6,135.3" fill="#4cff38" stroke="#4cff38"/><polygon points="234.6,139.1 240.1,136.0 234.3,133.7 228.8,137.0" fill="none" stroke="#22781b" stroke-width="0.6"/><polygon points="257.3,138.1 259.9,137.0 257.0,135.8 254.3,136.9" fill="#3aff26" stroke="#3aff26"/><polygon points="254.3,136.9 257.0,135.8 254.0,134.5 251.4,135.7" fill="#3fff28" stroke="#3fff28"/><polygon points="259.9,137.0 262.6,136.1 259.6,134.7 257.0,135.8" fill="#39ff23" stroke="#39ff23"/><polygon points="257.0,135.8 259.6,134.7 256.7,133.4 254.0,134.5" fill="#3fff25" stroke="#3fff25"/><polygon points="257.3,138.1 262.6,136.1 256.7,133.4 251.4,135.7" fill="none" stroke="#1c7812" stroke-width="0.6"/><polygon points="245.9,138.3 248.7,136.9 245.7,135.7 243.0,137.1" fill="#43ff30" stroke="#43ff30"/><polygon points="243.0,137.1 245.7,135.7 242.8,134.5 240.1,136.0" fill="#47ff32" stroke="#47ff32"/><polygon points="248.7,136.9 251.4,135.7 248.4,134.4 245.7,135.7" fill="#44ff2d" stroke="#44ff2d"/><polygon points="245.7,135.7 248.4,134.4 245.5,133.2 242.8,134.5" fill="#49ff2e" stroke="#49ff2e"/><polygon points="245.9,138.3 251.4,135.7 245.5,133.2 240.1,136.0" fill="none" stroke="#217816" stroke-width="0.6"/><polygon points="166.7,167.0 169.6,163.6 166.9,163.0 164.0,166.4" fill="#69eeff" stroke="#69eeff"/><polygon points="164.0,166.4 166.9,163.0 164.2,162.4 161.4,165.9" fill="#6aebff" stroke="#6aebff"/><polygon points="169.6,163.6 172.5,160.3 169.8,159.7 166.9,163.0" fill="#67fffe" stroke="#67fffe"/><polygon points="166.9,163.0 169.8,159.7 167.1,159.1 164.2,162.4" fill="#68fdff" stroke="#68fdff"/><polygon points="166.7,167.0 172.5,160.3 167.1,159.1 161.4,165.9" fill="none" stroke="#317478" stroke-width="0.6"/><polygon points="195.0,151.1 197.9,148.5 195.1,147.7 192.2,150.4" fill="#58ffa0" stroke="#58ffa0"/><polygon points="192.2,150.4 195.1,147.7 192.3,146.9 189.5,149.6" fill="#59ffa2" stroke="#59ffa2"/><polygon points="197.9,148.5 200.7,145.9 197.9,145.1 195.1,147.7" fill="#56ff91" stroke="#56ff91"/><polygon points="195.1,147.7 197.9,145.1 195.1,144.3 192.3,146.9" fill="#57ff92" stroke="#57ff92"/><polygon points="195.0,151.1 200.7,145.9 195.1,144.3 189.5,149.6" fill="none" stroke="#297848" stroke-width="0.6"/><polygon points="206.3,147.6 209.2,145.2 206.3,144.4 203.5,146.8" fill="#51ff7e" stroke="#51ff7e"/><polygon points="203.5,146.8 206.3,144.4 203.5,143.5 200.7,145.9" fill="#52ff80" stroke="#52ff80"/><polygon points="209.2,145.2 212.0,143.0 209.2,142.0 206.3,144.4" fill="#4eff70" stroke="#4eff70"/><polygon points="206.3,144.4 209.2,142.0 206.4,141.1 203.5,143.5" fill="#4fff71" stroke="#4fff71"/><polygon points="206.3,147.6 212.0,143.0 206.4,141.1 200.7,145.9" fill="none" stroke="#267838" stroke-width="0.6"/><polygon points="177.9,161.5 180.8,158.4 178.1,157.7 175.2,160.9" fill="#63ffe7" stroke="#63ffe7"/><polygon points="175.2,160.9 178.1,157.7 175.4,157.1 172.5,160.3" fill="#64ffe9" stroke="#64ffe9"/><polygon points="180.8,158.4 183.7,155.4 181.0,154.7 178.1,157.7" fill="#61ffd6" stroke="#61ffd6"/><polygon points="178.1,157.7 181.0,154.7 178.3,154.0 175.4,157.1" fill="#62ffd8" stroke="#62ffd8"/><polygon points="177.9,161.5 183.7,155.4 178.3,154.0 172.5,160.3" fill="none" stroke="#2e7869" stroke-width="0.6"/><polygon points="217.7,144.8 220.5,142.7 217.6,141.7 214.8,143.9" fill="#48ff60" stroke="#48ff60"/><polygon points="214.8,143.9 217.6,141.7 214.8,140.8 212.0,143.0" fill="#4aff61" stroke="#4aff61"/><polygon points="220.5,142.7 223.3,140.7 220.4,139.7 217.6,141.7" fill="#45ff53" stroke="#45ff53"/><polygon points="217.6,141.7 220.4,139.7 217.6,138.7 214.8,140.8" fill="#47ff53" stroke="#47ff53"/><polygon points="217.7,144.8 223.3,140.7 217.6,138.7 212.0,143.0" fill="none" stroke="#22782a" stroke-width="0.6"/><polygon points="160.8,174.1 163.8,170.5 161.1,170.0 158.2,173.6" fill="#6ccaff" stroke="#6ccaff"/><polygon points="158.2,173.6 161.1,170.0 158.4,169.5 155.5,173.1" fill="#6dc6ff" stroke="#6dc6ff"/><polygon points="163.8,170.5 166.7,167.0 164.0,166.4 161.1,170.0" fill="#6bdcff" stroke="#6bdcff"/><polygon points="161.1,170.0 164.0,166.4 161.4,165.9 158.4,169.5" fill="#6cd9ff" stroke="#6cd9ff"/><polygon points="160.8,174.1 166.7,167.0 161.4,165.9 155.5,173.1" fill="none" stroke="#336278" stroke-width="0.6"/><polygon points="274.6,141.4 277.2,140.7 274.2,139.3 271.6,140.1" fill="#1bf818" stroke="#1bf818"/><polygon points="271.6,140.1 274.2,139.3 271.2,137.9 268.6,138.7" fill="#21fa1a" stroke="#21fa1a"/><polygon points="277.2,140.7 279.8,140.0 276.8,138.6 274.2,139.3" fill="#15f415" stroke="#15f415"/><polygon points="274.2,139.3 276.8,138.6 273.8,137.2 271.2,137.9" fill="#1cf616" stroke="#1cf616"/><polygon points="274.6,141.4 279.8,140.0 273.8,137.2 268.6,138.7" fill="none" stroke="#0d740b" stroke-width="0.6"/><polygon points="229.1,142.7 231.9,140.8 229.0,139.8 226.2,141.7" fill="#3fff45" stroke="#3fff45"/><polygon points="226.2,141.7 229.0,139.8 226.1,138.8 223.3,140.7" fill="#41ff46" stroke="#41ff46"/><polygon points="231.9,140.8 234.6,139.1 231.7,138.0 229.0,139.8" fill="#3fff3c" stroke="#3fff3c"/><polygon points="229.0,139.8 231.7,138.0 228.8,137.0 226.1,138.8" fill="#42ff3e" stroke="#42ff3e"/><polygon points="229.1,142.7 234.6,139.1 228.8,137.0 223.3,140.7" fill="none" stroke="#1e781e" stroke-width="0.6"/><polygon points="263.2,140.6 265.9,139.6 262.9,138.3 260.2,139.4" fill="#2fff23" stroke="#2fff23"/><polygon points="260.2,139.4 262.9,138.3 259.9,137.0 257.3,138.1" fill="#34ff24" stroke="#34ff24"/><polygon points="265.9,139.6 268.6,138.7 265.6,137.4 262.9,138.3" fill="#2cff1f" stroke="#2cff1f"/><polygon points="262.9,138.3 265.6,137.4 262.6,136.1 259.9,137.0" fill="#32ff21" stroke="#32ff21"/><polygon points="263.2,140.6 268.6,138.7 262.6,136.1 257.3,138.1" fill="none" stroke="#177810" stroke-width="0.6"/><polygon points="240.5,141.3 243.2,139.7 240.3,138.6 237.5,140.2" fill="#3dff36" stroke="#3dff36"/><polygon points="237.5,140.2 240.3,138.6 237.4,137.5 234.6,139.1" fill="#41ff38" stroke="#41ff38"/><polygon points="243.2,139.7 245.9,138.3 243.0,137.1 240.3,138.6" fill="#40ff33" stroke="#40ff33"/><polygon points="240.3,138.6 243.0,137.1 240.1,136.0 237.4,137.5" fill="#44ff35" stroke="#44ff35"/><polygon points="240.5,141.3 245.9,138.3 240.1,136.0 234.6,139.1" fill="none" stroke="#1e7819" stroke-width="0.6"/><polygon points="251.9,140.6 254.6,139.3 251.6,138.1 248.9,139.4" fill="#3aff2c" stroke="#3aff2c"/><polygon points="248.9,139.4 251.6,138.1 248.7,136.9 245.9,138.3" fill="#3eff2e" stroke="#3eff2e"/><polygon points="254.6,139.3 257.3,138.1 254.3,136.9 251.6,138.1" fill="#3aff29" stroke="#3aff29"/><polygon points="251.6,138.1 254.3,136.9 251.4,135.7 248.7,136.9" fill="#3fff2b" stroke="#3fff2b"/><polygon points="251.9,140.6 257.3,138.1 251.4,135.7 245.9,138.3" fill="none" stroke="#1c7815" stroke-width="0.6"/><polygon points="189.2,156.7 192.1,153.9 189.3,153.2 186.5,156.1" fill="#5dffc0" stroke="#5dffc0"/><polygon points="186.5,156.1 189.3,153.2 186.6,152.5 183.7,155.4" fill="#5effc2" stroke="#5effc2"/><polygon points="192.1,153.9 195.0,151.1 192.2,150.4 189.3,153.2" fill="#5affb0" stroke="#5affb0"/><polygon points="189.3,153.2 192.2,150.4 189.5,149.6 186.6,152.5" fill="#5cffb2" stroke="#5cffb2"/><polygon points="189.2,156.7 195.0,151.1 189.5,149.6 183.7,155.4" fill="none" stroke="#2b7857" stroke-width="0.6"/><polygon points="172.1,168.1 175.0,164.7 172.3,164.2 169.4,167.5" fill="#67f5ff" stroke="#67f5ff"/><polygon points="169.4,167.5 172.3,164.2 169.6,163.6 166.7,167.0" fill="#68f1ff" stroke="#68f1ff"/><polygon points="175.0,164.7 177.9,161.5 175.2,160.9 172.3,164.2" fill="#65fff8" stroke="#65fff8"/><polygon points="172.3,164.2 175.2,160.9 172.5,160.3 169.6,163.6" fill="#66fffb" stroke="#66fffb"/><polygon points="172.1,168.1 177.9,161.5 172.5,160.3 166.7,167.0" fill="none" stroke="#307678" stroke-width="0.6"/><polygon points="200.6,152.7 203.5,150.1 200.7,149.3 197.8,151.9" fill="#56ff9c" stroke="#56ff9c"/><polygon points="197.8,151.9 200.7,149.3 197.9,148.5 195.0,151.1" fill="#57ff9e" stroke="#57ff9e"/><polygon points="203.5,150.1 206.3,147.6 203.5,146.8 200.7,149.3" fill="#53ff8d" stroke="#53ff8d"/><polygon points="200.7,149.3 203.5,146.8 200.7,145.9 197.9,148.5" fill="#54ff8f" stroke="#54ff8f"/><polygon points="200.6,152.7 206.3,147.6 200.7,145.9 195.0,151.1" fill="none" stroke="#287846" stroke-width="0.6"/><polygon points="212.0,149.3 214.9,147.0 212.0,146.1 209.2,148.4" fill="#4eff7b" stroke="#4eff7b"/><polygon points="209.2,148.4 212.0,146.1 209.2,145.2 206.3,147.6" fill="#4fff7d" stroke="#4fff7d"/><polygon points="214.9,147.0 217.7,144.8 214.8,143.9 212.0,146.1" fill="#4bff6d" stroke="#4bff6d"/><polygon points="212.0,146.1 214.8,143.9 212.0,143.0 209.2,145.2" fill="#4cff6e" stroke="#4cff6e"/><polygon points="212.0,149.3 217.7,144.8 212.0,143.0 206.3,147.6" fill="none" stroke="#247837" stroke-width="0.6"/><polygon points="183.4,162.7 186.3,159.7 183.6,159.0 180.7,162.1" fill="#61ffe1" stroke="#61ffe1"/><polygon points="180.7,162.1 183.6,159.0 180.8,158.4 177.9,161.5" fill="#62ffe4" stroke="#62ffe4"/><polygon points="186.3,159.7 189.2,156.7 186.5,156.1 183.6,159.0" fill="#5fffd0" stroke="#5fffd0"/><polygon points="183.6,159.0 186.5,156.1 183.7,155.4 180.8,158.4" fill="#60ffd3" stroke="#60ffd3"/><polygon points="183.4,162.7 189.2,156.7 183.7,155.4 177.9,161.5" fill="none" stroke="#2d7866" stroke-width="0.6"/><polygon points="223.5,146.6 226.3,144.6 223.4,143.6 220.6,145.7" fill="#45ff5d" stroke="#45ff5d"/><polygon points="220.6,145.7 223.4,143.6 220.5,142.7 217.7,144.8" fill="#47ff5e" stroke="#47ff5e"/><polygon points="226.3,144.6 229.1,142.7 226.2,141.7 223.4,143.6" fill="#42ff51" stroke="#42ff51"/><polygon points="223.4,143.6 226.2,141.7 223.3,140.7 220.5,142.7" fill="#44ff52" stroke="#44ff52"/><polygon points="223.5,146.6 229.1,142.7 223.3,140.7 217.7,144.8" fill="none" stroke="#207829" stroke-width="0.6"/><polygon points="234.9,144.7 237.7,142.9 234.8,141.9 232.0,143.7" fill="#3cff44" stroke="#3cff44"/><polygon points="232.0,143.7 234.8,141.9 231.9,140.8 229.1,142.7" fill="#3eff44" stroke="#3eff44"/><polygon points="237.7,142.9 240.5,141.3 237.5,140.2 234.8,141.9" fill="#39ff39" stroke="#39ff39"/><polygon points="234.8,141.9 237.5,140.2 234.6,139.1 231.9,140.8" fill="#3cff3b" stroke="#3cff3b"/><polygon points="234.9,144.7 240.5,141.3 234.6,139.1 229.1,142.7" fill="none" stroke="#1c781d" stroke-width="0.6"/><polygon points="269.3,143.1 272.0,142.2 268.9,140.9 266.3,141.9" fill="#23ff1f" stroke="#23ff1f"/><polygon points="266.3,141.9 268.9,140.9 265.9,139.6 263.2,140.6" fill="#29ff21" stroke="#29ff21"/><polygon points="272.0,142.2 274.6,141.4 271.6,140.1 268.9,140.9" fill="#1ffc1c" stroke="#1ffc1c"/><polygon points="268.9,140.9 271.6,140.1 268.6,138.7 265.9,139.6" fill="#26fe1d" stroke="#26fe1d"/><polygon points="269.3,143.1 274.6,141.4 268.6,138.7 263.2,140.6" fill="none" stroke="#11780e" stroke-width="0.6"/><polygon points="166.2,175.0 169.2,171.5 166.5,171.0 163.5,174.5" fill="#6ad1ff" stroke="#6ad1ff"/><polygon points="163.5,174.5 166.5,171.0 163.8,170.5 160.8,174.1" fill="#6bcdff" stroke="#6bcdff"/><polygon points="169.2,171.5 172.1,168.1 169.4,167.5 166.5,171.0" fill="#69e3ff" stroke="#69e3ff"/><polygon points="166.5,171.0 169.4,167.5 166.7,167.0 163.8,170.5" fill="#6adfff" stroke="#6adfff"/><polygon points="166.2,175.0 172.1,168.1 166.7,167.0 160.8,174.1" fill="none" stroke="#326678" stroke-width="0.6"/><polygon points="246.4,143.4 249.1,142.0 246.2,140.8 243.4,142.3" fill="#36ff33" stroke="#36ff33"/><polygon points="243.4,142.3 246.2,140.8 243.2,139.7 240.5,141.3" fill="#3aff34" stroke="#3aff34"/><polygon points="249.1,142.0 251.9,140.6 248.9,139.4 246.2,140.8" fill="#38ff30" stroke="#38ff30"/><polygon points="246.2,140.8 248.9,139.4 245.9,138.3 243.2,139.7" fill="#3cff31" stroke="#3cff31"/><polygon points="246.4,143.4 251.9,140.6 245.9,138.3 240.5,141.3" fill="none" stroke="#1b7818" stroke-width="0.6"/><polygon points="257.9,142.9 260.6,141.7 257.6,140.5 254.9,141.8" fill="#31ff29" stroke="#31ff29"/><polygon points="254.9,141.8 257.6,140.5 254.6,139.3 251.9,140.6" fill="#35ff2b" stroke="#35ff2b"/><polygon points="260.6,141.7 263.2,140.6 260.2,139.4 257.6,140.5" fill="#30ff26" stroke="#30ff26"/><polygon points="257.6,140.5 260.2,139.4 257.3,138.1 254.6,139.3" fill="#35ff28" stroke="#35ff28"/><polygon points="257.9,142.9 263.2,140.6 257.3,138.1 251.9,140.6" fill="none" stroke="#187813" stroke-width="0.6"/><polygon points="194.8,158.1 197.7,155.3 194.9,154.6 192.0,157.4" fill="#5affbb" stroke="#5affbb"/><polygon points="192.0,157.4 194.9,154.6 192.1,153.9 189.2,156.7" fill="#5bffbd" stroke="#5bffbd"/><polygon points="197.7,155.3 200.6,152.7 197.8,151.9 194.9,154.6" fill="#58ffab" stroke="#58ffab"/><polygon points="194.9,154.6 197.8,151.9 195.0,151.1 192.1,153.9" fill="#59ffae" stroke="#59ffae"/><polygon points="194.8,158.1 200.6,152.7 195.0,151.1 189.2,156.7" fill="none" stroke="#2a7855" stroke-width="0.6"/><polygon points="206.3,154.2 209.2,151.7 206.3,150.9 203.4,153.4" fill="#53ff98" stroke="#53ff98"/><polygon points="203.4,153.4 206.3,150.9 203.5,150.1 200.6,152.7" fill="#54ff9a" stroke="#54ff9a"/><polygon points="209.2,151.7 212.0,149.3 209.2,148.4 206.3,150.9" fill="#50ff89" stroke="#50ff89"/><polygon points="206.3,150.9 209.2,148.4 206.3,147.6 203.5,150.1" fill="#52ff8b" stroke="#52ff8b"/><polygon points="206.3,154.2 212.0,149.3 206.3,147.6 200.6,152.7" fill="none" stroke="#277844" stroke-width="0.6"/><polygon points="177.6,169.2 180.5,165.9 177.8,165.3 174.8,168.6" fill="#65fbff" stroke="#65fbff"/><polygon points="174.8,168.6 177.8,165.3 175.0,164.7 172.1,168.1" fill="#66f8ff" stroke="#66f8ff"/><polygon points="180.5,165.9 183.4,162.7 180.7,162.1 177.8,165.3" fill="#63fff2" stroke="#63fff2"/><polygon points="177.8,165.3 180.7,162.1 177.9,161.5 175.0,164.7" fill="#64fff5" stroke="#64fff5"/><polygon points="177.6,169.2 183.4,162.7 177.9,161.5 172.1,168.1" fill="none" stroke="#2f7876" stroke-width="0.6"/><polygon points="217.8,151.0 220.6,148.7 217.7,147.9 214.9,150.1" fill="#4bff77" stroke="#4bff77"/><polygon points="214.9,150.1 217.7,147.9 214.9,147.0 212.0,149.3" fill="#4cff79" stroke="#4cff79"/><polygon points="220.6,148.7 223.5,146.6 220.6,145.7 217.7,147.9" fill="#48ff6a" stroke="#48ff6a"/><polygon points="217.7,147.9 220.6,145.7 217.7,144.8 214.9,147.0" fill="#4aff6c" stroke="#4aff6c"/><polygon points="217.8,151.0 223.5,146.6 217.7,144.8 212.0,149.3" fill="none" stroke="#237835" stroke-width="0.6"/><polygon points="229.3,148.4 232.1,146.5 229.2,145.5 226.4,147.5" fill="#42ff5b" stroke="#42ff5b"/><polygon points="226.4,147.5 229.2,145.5 226.3,144.6 223.5,146.6" fill="#44ff5c" stroke="#44ff5c"/><polygon points="232.1,146.5 234.9,144.7 232.0,143.7 229.2,145.5" fill="#3fff4f" stroke="#3fff4f"/><polygon points="229.2,145.5 232.0,143.7 229.1,142.7 226.3,144.6" fill="#41ff50" stroke="#41ff50"/><polygon points="229.3,148.4 234.9,144.7 229.1,142.7 223.5,146.6" fill="none" stroke="#1f7828" stroke-width="0.6"/><polygon points="189.0,164.0 191.9,161.0 189.1,160.3 186.2,163.4" fill="#5fffdb" stroke="#5fffdb"/><polygon points="186.2,163.4 189.1,160.3 186.3,159.7 183.4,162.7" fill="#60ffde" stroke="#60ffde"/><polygon points="191.9,161.0 194.8,158.1 192.0,157.4 189.1,160.3" fill="#5cffcb" stroke="#5cffcb"/><polygon points="189.1,160.3 192.0,157.4 189.2,156.7 186.3,159.7" fill="#5effce" stroke="#5effce"/><polygon points="189.0,164.0 194.8,158.1 189.2,156.7 183.4,162.7" fill="none" stroke="#2c7864" stroke-width="0.6"/><polygon points="240.8,146.7 243.6,145.0 240.7,144.0 237.9,145.7" fill="#39ff43" stroke="#39ff43"/><polygon points="237.9,145.7 240.7,144.0 237.7,142.9 234.9,144.7" fill="#3bff43" stroke="#3bff43"/><polygon points="243.6,145.0 246.4,143.4 243.4,142.3 240.7,144.0" fill="#36ff39" stroke="#36ff39"/><polygon points="240.7,144.0 243.4,142.3 240.5,141.3 237.7,142.9" fill="#38ff39" stroke="#38ff39"/><polygon points="240.8,146.7 246.4,143.4 240.5,141.3 234.9,144.7" fill="none" stroke="#1a781d" stroke-width="0.6"/><polygon points="263.9,145.3 266.6,144.2 263.6,142.9 260.9,144.1" fill="#27ff26" stroke="#27ff26"/><polygon points="260.9,144.1 263.6,142.9 260.6,141.7 257.9,142.9" fill="#2cff27" stroke="#2cff27"/><polygon points="266.6,144.2 269.3,143.1 266.3,141.9 263.6,142.9" fill="#26ff22" stroke="#26ff22"/><polygon points="263.6,142.9 266.3,141.9 263.2,140.6 260.6,141.7" fill="#2bff24" stroke="#2bff24"/><polygon points="263.9,145.3 269.3,143.1 263.2,140.6 257.9,142.9" fill="none" stroke="#137811" stroke-width="0.6"/><polygon points="252.4,145.6 255.1,144.2 252.1,143.1 249.4,144.5" fill="#2fff30" stroke="#2fff30"/><polygon points="249.4,144.5 252.1,143.1 249.1,142.0 246.4,143.4" fill="#33ff31" stroke="#33ff31"/><polygon points="255.1,144.2 257.9,142.9 254.9,141.8 252.1,143.1" fill="#30ff2c" stroke="#30ff2c"/><polygon points="252.1,143.1 254.9,141.8 251.9,140.6 249.1,142.0" fill="#34ff2e" stroke="#34ff2e"/><polygon points="252.4,145.6 257.9,142.9 251.9,140.6 246.4,143.4" fill="none" stroke="#177816" stroke-width="0.6"/><polygon points="171.7,176.0 174.7,172.5 171.9,172.0 169.0,175.5" fill="#68d8ff" stroke="#68d8ff"/><polygon points="169.0,175.5 171.9,172.0 169.2,171.5 166.2,175.0" fill="#69d4ff" stroke="#69d4ff"/><polygon points="174.7,172.5 177.6,169.2 174.8,168.6 171.9,172.0" fill="#67eaff" stroke="#67eaff"/><polygon points="171.9,172.0 174.8,168.6 172.1,168.1 169.2,171.5" fill="#68e6ff" stroke="#68e6ff"/><polygon points="171.7,176.0 177.6,169.2 172.1,168.1 166.2,175.0" fill="none" stroke="#316978" stroke-width="0.6"/><polygon points="200.5,159.5 203.4,156.8 200.6,156.1 197.7,158.8" fill="#58ffb6" stroke="#58ffb6"/><polygon points="197.7,158.8 200.6,156.1 197.7,155.3 194.8,158.1" fill="#59ffb8" stroke="#59ffb8"/><polygon points="203.4,156.8 206.3,154.2 203.4,153.4 200.6,156.1" fill="#55ffa6" stroke="#55ffa6"/><polygon points="200.6,156.1 203.4,153.4 200.6,152.7 197.7,155.3" fill="#57ffa9" stroke="#57ffa9"/><polygon points="200.5,159.5 206.3,154.2 200.6,152.7 194.8,158.1" fill="none" stroke="#297852" stroke-width="0.6"/><polygon points="212.1,155.7 214.9,153.3 212.0,152.5 209.2,154.9" fill="#50ff93" stroke="#50ff93"/><polygon points="209.2,154.9 212.0,152.5 209.2,151.7 206.3,154.2" fill="#51ff95" stroke="#51ff95"/><polygon points="214.9,153.3 217.8,151.0 214.9,150.1 212.0,152.5" fill="#4dff85" stroke="#4dff85"/><polygon points="212.0,152.5 214.9,150.1 212.0,149.3 209.2,151.7" fill="#4fff87" stroke="#4fff87"/><polygon points="212.1,155.7 217.8,151.0 212.0,149.3 206.3,154.2" fill="none" stroke="#257842" stroke-width="0.6"/><polygon points="183.2,170.2 186.1,167.1 183.3,166.5 180.4,169.7" fill="#63fffc" stroke="#63fffc"/><polygon points="180.4,169.7 183.3,166.5 180.5,165.9 177.6,169.2" fill="#64feff" stroke="#64feff"/><polygon points="186.1,167.1 189.0,164.0 186.2,163.4 183.3,166.5" fill="#61ffeb" stroke="#61ffeb"/><polygon points="183.3,166.5 186.2,163.4 183.4,162.7 180.5,165.9" fill="#62ffef" stroke="#62ffef"/><polygon points="183.2,170.2 189.0,164.0 183.4,162.7 177.6,169.2" fill="none" stroke="#2e7873" stroke-width="0.6"/><polygon points="223.6,152.6 226.5,150.5 223.5,149.6 220.7,151.8" fill="#48ff73" stroke="#48ff73"/><polygon points="220.7,151.8 223.5,149.6 220.6,148.7 217.8,151.0" fill="#49ff75" stroke="#49ff75"/><polygon points="226.5,150.5 229.3,148.4 226.4,147.5 223.5,149.6" fill="#45ff67" stroke="#45ff67"/><polygon points="223.5,149.6 226.4,147.5 223.5,146.6 220.6,148.7" fill="#47ff68" stroke="#47ff68"/><polygon points="223.6,152.6 229.3,148.4 223.5,146.6 217.8,151.0" fill="none" stroke="#217834" stroke-width="0.6"/><polygon points="235.2,150.3 238.1,148.4 235.1,147.5 232.3,149.4" fill="#3fff58" stroke="#3fff58"/><polygon points="232.3,149.4 235.1,147.5 232.1,146.5 229.3,148.4" fill="#41ff59" stroke="#41ff59"/><polygon points="238.1,148.4 240.8,146.7 237.9,145.7 235.1,147.5" fill="#3cff4d" stroke="#3cff4d"/><polygon points="235.1,147.5 237.9,145.7 234.9,144.7 232.1,146.5" fill="#3eff4e" stroke="#3eff4e"/><polygon points="235.2,150.3 240.8,146.7 234.9,144.7 229.3,148.4" fill="none" stroke="#1d7827" stroke-width="0.6"/><polygon points="194.7,165.2 197.6,162.3 194.8,161.6 191.8,164.6" fill="#5cffd5" stroke="#5cffd5"/><polygon points="191.8,164.6 194.8,161.6 191.9,161.0 189.0,164.0" fill="#5dffd8" stroke="#5dffd8"/><polygon points="197.6,162.3 200.5,159.5 197.7,158.8 194.8,161.6" fill="#5affc5" stroke="#5affc5"/><polygon points="194.8,161.6 197.7,158.8 194.8,158.1 191.9,161.0" fill="#5bffc8" stroke="#5bffc8"/><polygon points="194.7,165.2 200.5,159.5 194.8,158.1 189.0,164.0" fill="none" stroke="#2b7861" stroke-width="0.6"/><polygon points="246.9,148.7 249.6,147.1 246.6,146.0 243.8,147.7" fill="#36ff41" stroke="#36ff41"/><polygon points="243.8,147.7 246.6,146.0 243.6,145.0 240.8,146.7" fill="#37ff42" stroke="#37ff42"/><polygon points="249.6,147.1 252.4,145.6 249.4,144.5 246.6,146.0" fill="#33ff38" stroke="#33ff38"/><polygon points="246.6,146.0 249.4,144.5 246.4,143.4 243.6,145.0" fill="#34ff38" stroke="#34ff38"/><polygon points="246.9,148.7 252.4,145.6 246.4,143.4 240.8,146.7" fill="none" stroke="#19781d" stroke-width="0.6"/><polygon points="258.5,147.8 261.2,146.5 258.2,145.3 255.4,146.7" fill="#2cff30" stroke="#2cff30"/><polygon points="255.4,146.7 258.2,145.3 255.1,144.2 252.4,145.6" fill="#2eff30" stroke="#2eff30"/><polygon points="261.2,146.5 263.9,145.3 260.9,144.1 258.2,145.3" fill="#29ff29" stroke="#29ff29"/><polygon points="258.2,145.3 260.9,144.1 257.9,142.9 255.1,144.2" fill="#2cff2b" stroke="#2cff2b"/><polygon points="258.5,147.8 263.9,145.3 257.9,142.9 252.4,145.6" fill="none" stroke="#147815" stroke-width="0.6"/><polygon points="177.2,176.9 180.2,173.5 177.4,173.0 174.5,176.4" fill="#66e0ff" stroke="#66e0ff"/><polygon points="174.5,176.4 177.4,173.0 174.7,172.5 171.7,176.0" fill="#67dcff" stroke="#67dcff"/><polygon points="180.2,173.5 183.2,170.2 180.4,169.7 177.4,173.0" fill="#65f1ff" stroke="#65f1ff"/><polygon points="177.4,173.0 180.4,169.7 177.6,169.2 174.7,172.5" fill="#66edff" stroke="#66edff"/><polygon points="177.2,176.9 183.2,170.2 177.6,169.2 171.7,176.0" fill="none" stroke="#306c78" stroke-width="0.6"/><polygon points="206.3,160.9 209.2,158.2 206.3,157.5 203.4,160.2" fill="#55ffb0" stroke="#55ffb0"/><polygon points="203.4,160.2 206.3,157.5 203.4,156.8 200.5,159.5" fill="#56ffb3" stroke="#56ffb3"/><polygon points="209.2,158.2 212.1,155.7 209.2,154.9 206.3,157.5" fill="#53ffa1" stroke="#53ffa1"/><polygon points="206.3,157.5 209.2,154.9 206.3,154.2 203.4,156.8" fill="#54ffa4" stroke="#54ffa4"/><polygon points="206.3,160.9 212.1,155.7 206.3,154.2 200.5,159.5" fill="none" stroke="#287850" stroke-width="0.6"/><polygon points="217.9,157.2 220.8,154.9 217.8,154.1 215.0,156.5" fill="#4dff8e" stroke="#4dff8e"/><polygon points="215.0,156.5 217.8,154.1 214.9,153.3 212.1,155.7" fill="#4fff90" stroke="#4fff90"/><polygon points="220.8,154.9 223.6,152.6 220.7,151.8 217.8,154.1" fill="#4bff80" stroke="#4bff80"/><polygon points="217.8,154.1 220.7,151.8 217.8,151.0 214.9,153.3" fill="#4cff83" stroke="#4cff83"/><polygon points="217.9,157.2 223.6,152.6 217.8,151.0 212.1,155.7" fill="none" stroke="#247840" stroke-width="0.6"/><polygon points="188.8,171.3 191.7,168.2 188.9,167.6 186.0,170.8" fill="#60fff5" stroke="#60fff5"/><polygon points="186.0,170.8 188.9,167.6 186.1,167.1 183.2,170.2" fill="#62fff9" stroke="#62fff9"/><polygon points="191.7,168.2 194.7,165.2 191.8,164.6 188.9,167.6" fill="#5effe5" stroke="#5effe5"/><polygon points="188.9,167.6 191.8,164.6 189.0,164.0 186.1,167.1" fill="#5fffe8" stroke="#5fffe8"/><polygon points="188.8,171.3 194.7,165.2 189.0,164.0 183.2,170.2" fill="none" stroke="#2d7870" stroke-width="0.6"/><polygon points="229.6,154.3 232.4,152.3 229.4,151.4 226.6,153.5" fill="#45ff6f" stroke="#45ff6f"/><polygon points="226.6,153.5 229.4,151.4 226.5,150.5 223.6,152.6" fill="#46ff71" stroke="#46ff71"/><polygon points="232.4,152.3 235.2,150.3 232.3,149.4 229.4,151.4" fill="#42ff63" stroke="#42ff63"/><polygon points="229.4,151.4 232.3,149.4 229.3,148.4 226.5,150.5" fill="#44ff65" stroke="#44ff65"/><polygon points="229.6,154.3 235.2,150.3 229.3,148.4 223.6,152.6" fill="none" stroke="#207832" stroke-width="0.6"/><polygon points="241.2,152.1 244.1,150.4 241.0,149.4 238.2,151.2" fill="#3cff55" stroke="#3cff55"/><polygon points="238.2,151.2 241.0,149.4 238.1,148.4 235.2,150.3" fill="#3dff56" stroke="#3dff56"/><polygon points="244.1,150.4 246.9,148.7 243.8,147.7 241.0,149.4" fill="#39ff4b" stroke="#39ff4b"/><polygon points="241.0,149.4 243.8,147.7 240.8,146.7 238.1,148.4" fill="#3aff4c" stroke="#3aff4c"/><polygon points="241.2,152.1 246.9,148.7 240.8,146.7 235.2,150.3" fill="none" stroke="#1c7826" stroke-width="0.6"/><polygon points="252.9,150.7 255.7,149.2 252.7,148.1 249.9,149.7" fill="#32ff40" stroke="#32ff40"/><polygon points="249.9,149.7 252.7,148.1 249.6,147.1 246.9,148.7" fill="#34ff40" stroke="#34ff40"/><polygon points="255.7,149.2 258.5,147.8 255.4,146.7 252.7,148.1" fill="#2fff37" stroke="#2fff37"/><polygon points="252.7,148.1 255.4,146.7 252.4,145.6 249.6,147.1" fill="#31ff38" stroke="#31ff38"/><polygon points="252.9,150.7 258.5,147.8 252.4,145.6 246.9,148.7" fill="none" stroke="#17781c" stroke-width="0.6"/><polygon points="200.4,166.4 203.3,163.6 200.5,162.9 197.5,165.8" fill="#5affce" stroke="#5affce"/><polygon points="197.5,165.8 200.5,162.9 197.6,162.3 194.7,165.2" fill="#5bffd1" stroke="#5bffd1"/><polygon points="203.3,163.6 206.3,160.9 203.4,160.2 200.5,162.9" fill="#57ffbf" stroke="#57ffbf"/><polygon points="200.5,162.9 203.4,160.2 200.5,159.5 197.6,162.3" fill="#59ffc2" stroke="#59ffc2"/><polygon points="200.4,166.4 206.3,160.9 200.5,159.5 194.7,165.2" fill="none" stroke="#2a785e" stroke-width="0.6"/><polygon points="182.9,177.9 185.8,174.5 183.0,174.0 180.0,177.4" fill="#64e8ff" stroke="#64e8ff"/><polygon points="180.0,177.4 183.0,174.0 180.2,173.5 177.2,176.9" fill="#65e4ff" stroke="#65e4ff"/><polygon points="185.8,174.5 188.8,171.3 186.0,170.8 183.0,174.0" fill="#62f8ff" stroke="#62f8ff"/><polygon points="183.0,174.0 186.0,170.8 183.2,170.2 180.2,173.5" fill="#63f5ff" stroke="#63f5ff"/><polygon points="182.9,177.9 188.8,171.3 183.2,170.2 177.2,176.9" fill="none" stroke="#2f7078" stroke-width="0.6"/><polygon points="212.1,162.2 215.0,159.7 212.1,159.0 209.2,161.5" fill="#52ffaa" stroke="#52ffaa"/><polygon points="209.2,161.5 212.1,159.0 209.2,158.2 206.3,160.9" fill="#54ffad" stroke="#54ffad"/><polygon points="215.0,159.7 217.9,157.2 215.0,156.5 212.1,159.0" fill="#50ff9c" stroke="#50ff9c"/><polygon points="212.1,159.0 215.0,156.5 212.1,155.7 209.2,158.2" fill="#51ff9e" stroke="#51ff9e"/><polygon points="212.1,162.2 217.9,157.2 212.1,155.7 206.3,160.9" fill="none" stroke="#26784d" stroke-width="0.6"/><polygon points="223.8,158.8 226.7,156.5 223.7,155.7 220.8,158.0" fill="#4aff89" stroke="#4aff89"/><polygon points="220.8,158.0 223.7,155.7 220.8,154.9 217.9,157.2" fill="#4cff8b" stroke="#4cff8b"/><polygon points="226.7,156.5 229.6,154.3 226.6,153.5 223.7,155.7" fill="#48ff7c" stroke="#48ff7c"/><polygon points="223.7,155.7 226.6,153.5 223.6,152.6 220.8,154.9" fill="#49ff7e" stroke="#49ff7e"/><polygon points="223.8,158.8 229.6,154.3 223.6,152.6 217.9,157.2" fill="none" stroke="#23783e" stroke-width="0.6"/><polygon points="194.5,172.4 197.5,169.4 194.6,168.8 191.6,171.9" fill="#5effee" stroke="#5effee"/><polygon points="191.6,171.9 194.6,168.8 191.7,168.2 188.8,171.3" fill="#5ffff1" stroke="#5ffff1"/><polygon points="197.5,169.4 200.4,166.4 197.5,165.8 194.6,168.8" fill="#5cffde" stroke="#5cffde"/><polygon points="194.6,168.8 197.5,165.8 194.7,165.2 191.7,168.2" fill="#5dffe1" stroke="#5dffe1"/><polygon points="194.5,172.4 200.4,166.4 194.7,165.2 188.8,171.3" fill="none" stroke="#2c786d" stroke-width="0.6"/><polygon points="235.6,156.0 238.4,154.0 235.4,153.1 232.5,155.2" fill="#42ff6b" stroke="#42ff6b"/><polygon points="232.5,155.2 235.4,153.1 232.4,152.3 229.6,154.3" fill="#43ff6d" stroke="#43ff6d"/><polygon points="238.4,154.0 241.2,152.1 238.2,151.2 235.4,153.1" fill="#3fff60" stroke="#3fff60"/><polygon points="235.4,153.1 238.2,151.2 235.2,150.3 232.4,152.3" fill="#40ff62" stroke="#40ff62"/><polygon points="235.6,156.0 241.2,152.1 235.2,150.3 229.6,154.3" fill="none" stroke="#1f7830" stroke-width="0.6"/><polygon points="247.3,154.0 250.1,152.3 247.1,151.3 244.3,153.1" fill="#39ff52" stroke="#39ff52"/><polygon points="244.3,153.1 247.1,151.3 244.1,150.4 241.2,152.1" fill="#3aff53" stroke="#3aff53"/><polygon points="250.1,152.3 252.9,150.7 249.9,149.7 247.1,151.3" fill="#35ff48" stroke="#35ff48"/><polygon points="247.1,151.3 249.9,149.7 246.9,148.7 244.1,150.4" fill="#37ff4a" stroke="#37ff4a"/><polygon points="247.3,154.0 252.9,150.7 246.9,148.7 241.2,152.1" fill="none" stroke="#1a7824" stroke-width="0.6"/><polygon points="206.2,167.7 209.2,164.9 206.2,164.2 203.3,167.0" fill="#57ffc7" stroke="#57ffc7"/><polygon points="203.3,167.0 206.2,164.2 203.3,163.6 200.4,166.4" fill="#58ffcb" stroke="#58ffcb"/><polygon points="209.2,164.9 212.1,162.2 209.2,161.5 206.2,164.2" fill="#55ffb8" stroke="#55ffb8"/><polygon points="206.2,164.2 209.2,161.5 206.3,160.9 203.3,163.6" fill="#56ffbc" stroke="#56ffbc"/><polygon points="206.2,167.7 212.1,162.2 206.3,160.9 200.4,166.4" fill="none" stroke="#29785b" stroke-width="0.6"/><polygon points="218.0,163.6 220.9,161.1 217.9,160.4 215.0,162.9" fill="#50ffa3" stroke="#50ffa3"/><polygon points="215.0,162.9 217.9,160.4 215.0,159.7 212.1,162.2" fill="#51ffa7" stroke="#51ffa7"/><polygon points="220.9,161.1 223.8,158.8 220.8,158.0 217.9,160.4" fill="#4dff96" stroke="#4dff96"/><polygon points="217.9,160.4 220.8,158.0 217.9,157.2 215.0,159.7" fill="#4eff99" stroke="#4eff99"/><polygon points="218.0,163.6 223.8,158.8 217.9,157.2 212.1,162.2" fill="none" stroke="#25784a" stroke-width="0.6"/><polygon points="188.6,178.8 191.5,175.5 188.7,175.0 185.7,178.3" fill="#62f0ff" stroke="#62f0ff"/><polygon points="185.7,178.3 188.7,175.0 185.8,174.5 182.9,177.9" fill="#63ecff" stroke="#63ecff"/><polygon points="191.5,175.5 194.5,172.4 191.6,171.9 188.7,175.0" fill="#60fffe" stroke="#60fffe"/><polygon points="188.7,175.0 191.6,171.9 188.8,171.3 185.8,174.5" fill="#61fcff" stroke="#61fcff"/><polygon points="188.6,178.8 194.5,172.4 188.8,171.3 182.9,177.9" fill="none" stroke="#2e7478" stroke-width="0.6"/><polygon points="229.8,160.3 232.7,158.1 229.7,157.3 226.8,159.5" fill="#47ff83" stroke="#47ff83"/><polygon points="226.8,159.5 229.7,157.3 226.7,156.5 223.8,158.8" fill="#49ff86" stroke="#49ff86"/><polygon points="232.7,158.1 235.6,156.0 232.5,155.2 229.7,157.3" fill="#45ff77" stroke="#45ff77"/><polygon points="229.7,157.3 232.5,155.2 229.6,154.3 226.7,156.5" fill="#46ff79" stroke="#46ff79"/><polygon points="229.8,160.3 235.6,156.0 229.6,154.3 223.8,158.8" fill="none" stroke="#21783b" stroke-width="0.6"/><polygon points="241.6,157.7 244.5,155.8 241.4,154.9 238.6,156.9" fill="#3fff66" stroke="#3fff66"/><polygon points="238.6,156.9 241.4,154.9 238.4,154.0 235.6,156.0" fill="#40ff69" stroke="#40ff69"/><polygon points="244.5,155.8 247.3,154.0 244.3,153.1 241.4,154.9" fill="#3cff5c" stroke="#3cff5c"/><polygon points="241.4,154.9 244.3,153.1 241.2,152.1 238.4,154.0" fill="#3dff5e" stroke="#3dff5e"/><polygon points="241.6,157.7 247.3,154.0 241.2,152.1 235.6,156.0" fill="none" stroke="#1d782e" stroke-width="0.6"/><polygon points="200.3,173.5 203.3,170.5 200.4,169.9 197.4,172.9" fill="#5cffe6" stroke="#5cffe6"/><polygon points="197.4,172.9 200.4,169.9 197.5,169.4 194.5,172.4" fill="#5dffea" stroke="#5dffea"/><polygon points="203.3,170.5 206.2,167.7 203.3,167.0 200.4,169.9" fill="#59ffd6" stroke="#59ffd6"/><polygon points="200.4,169.9 203.3,167.0 200.4,166.4 197.5,169.4" fill="#5bffda" stroke="#5bffda"/><polygon points="200.3,173.5 206.2,167.7 200.4,166.4 194.5,172.4" fill="none" stroke="#2b7869" stroke-width="0.6"/><polygon points="212.1,168.9 215.1,166.2 212.1,165.5 209.2,168.3" fill="#55ffc0" stroke="#55ffc0"/><polygon points="209.2,168.3 212.1,165.5 209.2,164.9 206.2,167.7" fill="#56ffc4" stroke="#56ffc4"/><polygon points="215.1,166.2 218.0,163.6 215.0,162.9 212.1,165.5" fill="#52ffb1" stroke="#52ffb1"/><polygon points="212.1,165.5 215.0,162.9 212.1,162.2 209.2,164.9" fill="#53ffb5" stroke="#53ffb5"/><polygon points="212.1,168.9 218.0,163.6 212.1,162.2 206.2,167.7" fill="none" stroke="#277858" stroke-width="0.6"/><polygon points="224.0,165.0 226.9,162.6 223.9,161.9 221.0,164.3" fill="#4dff9d" stroke="#4dff9d"/><polygon points="221.0,164.3 223.9,161.9 220.9,161.1 218.0,163.6" fill="#4effa0" stroke="#4effa0"/><polygon points="226.9,162.6 229.8,160.3 226.8,159.5 223.9,161.9" fill="#4aff90" stroke="#4aff90"/><polygon points="223.9,161.9 226.8,159.5 223.8,158.8 220.9,161.1" fill="#4cff93" stroke="#4cff93"/><polygon points="224.0,165.0 229.8,160.3 223.8,158.8 218.0,163.6" fill="none" stroke="#247847" stroke-width="0.6"/><polygon points="194.3,179.7 197.3,176.6 194.4,176.1 191.4,179.3" fill="#60f9ff" stroke="#60f9ff"/><polygon points="191.4,179.3 194.4,176.1 191.5,175.5 188.6,178.8" fill="#61f4ff" stroke="#61f4ff"/><polygon points="197.3,176.6 200.3,173.5 197.4,172.9 194.4,176.1" fill="#5efff5" stroke="#5efff5"/><polygon points="194.4,176.1 197.4,172.9 194.5,172.4 191.5,175.5" fill="#5ffffa" stroke="#5ffffa"/><polygon points="194.3,179.7 200.3,173.5 194.5,172.4 188.6,178.8" fill="none" stroke="#2d7878" stroke-width="0.6"/><polygon points="235.9,161.9 238.8,159.7 235.7,158.9 232.8,161.1" fill="#44ff7d" stroke="#44ff7d"/><polygon points="232.8,161.1 235.7,158.9 232.7,158.1 229.8,160.3" fill="#46ff80" stroke="#46ff80"/><polygon points="238.8,159.7 241.6,157.7 238.6,156.9 235.7,158.9" fill="#42ff72" stroke="#42ff72"/><polygon points="235.7,158.9 238.6,156.9 235.6,156.0 232.7,158.1" fill="#43ff74" stroke="#43ff74"/><polygon points="235.9,161.9 241.6,157.7 235.6,156.0 229.8,160.3" fill="none" stroke="#207839" stroke-width="0.6"/><polygon points="206.2,174.6 209.2,171.7 206.2,171.1 203.2,174.0" fill="#59ffde" stroke="#59ffde"/><polygon points="203.2,174.0 206.2,171.1 203.3,170.5 200.3,173.5" fill="#5affe2" stroke="#5affe2"/><polygon points="209.2,171.7 212.1,168.9 209.2,168.3 206.2,171.1" fill="#57ffcf" stroke="#57ffcf"/><polygon points="206.2,171.1 209.2,168.3 206.2,167.7 203.3,170.5" fill="#58ffd2" stroke="#58ffd2"/><polygon points="206.2,174.6 212.1,168.9 206.2,167.7 200.3,173.5" fill="none" stroke="#2a7866" stroke-width="0.6"/><polygon points="218.1,170.1 221.1,167.5 218.1,166.9 215.1,169.5" fill="#52ffb8" stroke="#52ffb8"/><polygon points="215.1,169.5 218.1,166.9 215.1,166.2 212.1,168.9" fill="#53ffbc" stroke="#53ffbc"/><polygon points="221.1,167.5 224.0,165.0 221.0,164.3 218.1,166.9" fill="#4fffaa" stroke="#4fffaa"/><polygon points="218.1,166.9 221.0,164.3 218.0,163.6 215.1,166.2" fill="#51ffae" stroke="#51ffae"/><polygon points="218.1,170.1 224.0,165.0 218.0,163.6 212.1,168.9" fill="none" stroke="#267854" stroke-width="0.6"/><polygon points="230.1,166.4 233.0,164.1 229.9,163.3 227.0,165.7" fill="#4aff96" stroke="#4aff96"/><polygon points="227.0,165.7 229.9,163.3 226.9,162.6 224.0,165.0" fill="#4bff99" stroke="#4bff99"/><polygon points="233.0,164.1 235.9,161.9 232.8,161.1 229.9,163.3" fill="#47ff89" stroke="#47ff89"/><polygon points="229.9,163.3 232.8,161.1 229.8,160.3 226.9,162.6" fill="#49ff8d" stroke="#49ff8d"/><polygon points="230.1,166.4 235.9,161.9 229.8,160.3 224.0,165.0" fill="none" stroke="#227844" stroke-width="0.6"/><polygon points="200.2,180.7 203.2,177.6 200.3,177.1 197.3,180.2" fill="#5efffc" stroke="#5efffc"/><polygon points="197.3,180.2 200.3,177.1 197.3,176.6 194.3,179.7" fill="#5ffdff" stroke="#5ffdff"/><polygon points="203.2,177.6 206.2,174.6 203.2,174.0 200.3,177.1" fill="#5bffed" stroke="#5bffed"/><polygon points="200.3,177.1 203.2,174.0 200.3,173.5 197.3,176.6" fill="#5dfff1" stroke="#5dfff1"/><polygon points="200.2,180.7 206.2,174.6 200.3,173.5 194.3,179.7" fill="none" stroke="#2c7874" stroke-width="0.6"/><polygon points="212.2,175.6 215.1,172.8 212.1,172.3 209.2,175.1" fill="#57ffd5" stroke="#57ffd5"/><polygon points="209.2,175.1 212.1,172.3 209.2,171.7 206.2,174.6" fill="#58ffd9" stroke="#58ffd9"/><polygon points="215.1,172.8 218.1,170.1 215.1,169.5 212.1,172.3" fill="#54ffc6" stroke="#54ffc6"/><polygon points="212.1,172.3 215.1,169.5 212.1,168.9 209.2,171.7" fill="#56ffca" stroke="#56ffca"/><polygon points="212.2,175.6 218.1,170.1 212.1,168.9 206.2,174.6" fill="none" stroke="#287862" stroke-width="0.6"/><polygon points="224.2,171.3 227.1,168.8 224.1,168.2 221.1,170.7" fill="#4fffb0" stroke="#4fffb0"/><polygon points="221.1,170.7 224.1,168.2 221.1,167.5 218.1,170.1" fill="#51ffb4" stroke="#51ffb4"/><polygon points="227.1,168.8 230.1,166.4 227.0,165.7 224.1,168.2" fill="#4dffa3" stroke="#4dffa3"/><polygon points="224.1,168.2 227.0,165.7 224.0,165.0 221.1,167.5" fill="#4effa7" stroke="#4effa7"/><polygon points="224.2,171.3 230.1,166.4 224.0,165.0 218.1,170.1" fill="none" stroke="#257851" stroke-width="0.6"/><polygon points="206.2,181.6 209.2,178.6 206.2,178.1 203.2,181.1" fill="#5bfff3" stroke="#5bfff3"/><polygon points="203.2,181.1 206.2,178.1 203.2,177.6 200.2,180.7" fill="#5cfff8" stroke="#5cfff8"/><polygon points="209.2,178.6 212.2,175.6 209.2,175.1 206.2,178.1" fill="#59ffe4" stroke="#59ffe4"/><polygon points="206.2,178.1 209.2,175.1 206.2,174.6 203.2,177.6" fill="#5affe8" stroke="#5affe8"/><polygon points="206.2,181.6 212.2,175.6 206.2,174.6 200.2,180.7" fill="none" stroke="#2b7870" stroke-width="0.6"/><polygon points="218.2,176.7 221.2,174.0 218.2,173.4 215.2,176.2" fill="#54ffcc" stroke="#54ffcc"/><polygon points="215.2,176.2 218.2,173.4 215.1,172.8 212.2,175.6" fill="#55ffd1" stroke="#55ffd1"/><polygon points="221.2,174.0 224.2,171.3 221.1,170.7 218.2,173.4" fill="#52ffbe" stroke="#52ffbe"/><polygon points="218.2,173.4 221.1,170.7 218.1,170.1 215.1,172.8" fill="#53ffc2" stroke="#53ffc2"/><polygon points="218.2,176.7 224.2,171.3 218.1,170.1 212.2,175.6" fill="none" stroke="#27785e" stroke-width="0.6"/><polygon points="212.2,182.5 215.2,179.6 212.2,179.1 209.2,182.1" fill="#59ffe9" stroke="#59ffe9"/><polygon points="209.2,182.1 212.2,179.1 209.2,178.6 206.2,181.6" fill="#5affee" stroke="#5affee"/><polygon points="215.2,179.6 218.2,176.7 215.2,176.2 212.2,179.1" fill="#56ffda" stroke="#56ffda"/><polygon points="212.2,179.1 215.2,176.2 212.2,175.6 209.2,178.6" fill="#58ffdf" stroke="#58ffdf"/><polygon points="212.2,182.5 218.2,176.7 212.2,175.6 206.2,181.6" fill="none" stroke="#29786b" stroke-width="0.6"/></g><g fill="#000"><circle cx="106.90" cy="178.78" r="1.2"/><circle cx="105.58" cy="154.32" r="1.2"/><circle cx="104.23" cy="129.22" r="1.2"/><circle cx="102.84" cy="103.45" r="1.2"/><circle cx="101.41" cy="76.98" r="1.2"/><circle cx="212.07" cy="259.05" r="1.2"/><circle cx="186.23" cy="247.43" r="1.2"/><circle cx="160.40" cy="235.81" r="1.2"/><circle cx="134.56" cy="224.19" r="1.2"/><circle cx="108.72" cy="212.57" r="1.2"/><circle cx="212.07" cy="259.05" r="1.2"/><circle cx="232.56" cy="249.65" r="1.2"/><circle cx="253.04" cy="240.25" r="1.2"/><circle cx="273.53" cy="230.85" r="1.2"/><circle cx="294.01" cy="221.45" r="1.2"/><circle cx="314.50" cy="212.05" r="1.2"/></g><line x1="108.72" y1="212.57" x2="101.41" y2="76.98" stroke="#555" stroke-width="0.8"/>
<text transform="translate(4.10,10.70)" font-family="Liberation Sans, Arial, sans-serif" font-size="6.60" fill="#2e2e2e" text-anchor="start" stroke="#2e2e2e" stroke-width="0.18">Factor Coding: Actual</text><text transform="translate(4.10,31.10)" font-family="Liberation Sans, Arial, sans-serif" font-size="6.77" font-weight="bold" fill="#111" text-anchor="start">Retention time (min)</text><text transform="translate(4.10,41.60)" font-family="Liberation Sans, Arial, sans-serif" font-size="6.70" fill="#2e2e2e" text-anchor="start" stroke="#2e2e2e" stroke-width="0.18">Design Points:</text><circle cx="10.8" cy="49.7" r="3.4" fill="#c40000" stroke="#7a0000" stroke-width="0.6"/><text transform="translate(18.60,51.80)" font-family="Liberation Sans, Arial, sans-serif" font-size="6.50" fill="#b02020" text-anchor="start" stroke="#b02020" stroke-width="0.18">Above Surface</text><circle cx="10.8" cy="59.9" r="3.3" fill="#ffc8c8" stroke="#a07070" stroke-width="0.7"/><text transform="translate(18.60,62.30)" font-family="Liberation Sans, Arial, sans-serif" font-size="6.50" fill="#b02020" text-anchor="start" stroke="#b02020" stroke-width="0.18">Below Surface</text><defs><linearGradient id="lg" x1="0" x2="1" y1="0" y2="0"><stop offset="0" stop-color="#0000ff"/><stop offset="0.5" stop-color="#00ff00"/><stop offset="1" stop-color="#ff0000"/></linearGradient></defs><text transform="translate(4.40,72.90) scale(0.880,1)" font-family="Liberation Sans, Arial, sans-serif" font-size="6.70" fill="#3030d8" text-anchor="start" stroke="none">1.83</text><rect x="18.7" y="66" width="24.6" height="9.1" fill="url(#lg)" stroke="#404040" stroke-width="0.5"/><text transform="translate(46.10,72.90) scale(0.880,1)" font-family="Liberation Sans, Arial, sans-serif" font-size="6.70" fill="#e04040" text-anchor="start" stroke="none">1.98</text><text transform="translate(4.30,93.50)" font-family="Liberation Sans, Arial, sans-serif" font-size="6.60" fill="#2e2e2e" text-anchor="start" stroke="#2e2e2e" stroke-width="0.18">X1 = A</text><text transform="translate(4.30,103.70)" font-family="Liberation Sans, Arial, sans-serif" font-size="6.60" fill="#2e2e2e" text-anchor="start" stroke="#2e2e2e" stroke-width="0.18">X2 = B</text><text transform="translate(4.30,123.80)" font-family="Liberation Sans, Arial, sans-serif" font-size="6.45" font-weight="bold" fill="#111" text-anchor="start">Actual Factor</text><text transform="translate(4.30,134.40)" font-family="Liberation Sans, Arial, sans-serif" font-size="6.43" fill="#2e2e2e" text-anchor="start" stroke="#2e2e2e" stroke-width="0.18">C = 260</text><text transform="translate(229.75,16.40) scale(0.890,1)" font-family="Liberation Sans, Arial, sans-serif" font-size="10.70" fill="#1a1a1a" text-anchor="middle" stroke="#1a1a1a" stroke-width="0.18">3D Surface</text><text transform="translate(103.70,177.08) scale(0.870,1)" font-family="Liberation Sans, Arial, sans-serif" font-size="6.10" fill="#2a2a2a" text-anchor="end" stroke="#2a2a2a" stroke-width="0.18">1.8</text><text transform="translate(102.38,152.62) scale(0.870,1)" font-family="Liberation Sans, Arial, sans-serif" font-size="6.10" fill="#2a2a2a" text-anchor="end" stroke="#2a2a2a" stroke-width="0.18">1.85</text><text transform="translate(101.03,127.52) scale(0.870,1)" font-family="Liberation Sans, Arial, sans-serif" font-size="6.10" fill="#2a2a2a" text-anchor="end" stroke="#2a2a2a" stroke-width="0.18">1.9</text><text transform="translate(99.64,101.75) scale(0.870,1)" font-family="Liberation Sans, Arial, sans-serif" font-size="6.10" fill="#2a2a2a" text-anchor="end" stroke="#2a2a2a" stroke-width="0.18">1.95</text><text transform="translate(98.21,75.28) scale(0.870,1)" font-family="Liberation Sans, Arial, sans-serif" font-size="6.10" fill="#2a2a2a" text-anchor="end" stroke="#2a2a2a" stroke-width="0.18">2</text><text transform="translate(208.47,265.05) scale(0.870,1)" font-family="Liberation Sans, Arial, sans-serif" font-size="6.10" fill="#2a2a2a" text-anchor="end" stroke="#2a2a2a" stroke-width="0.18">0.8</text><text transform="translate(182.63,253.43) scale(0.870,1)" font-family="Liberation Sans, Arial, sans-serif" font-size="6.10" fill="#2a2a2a" text-anchor="end" stroke="#2a2a2a" stroke-width="0.18">0.9</text><text transform="translate(156.80,241.81) scale(0.870,1)" font-family="Liberation Sans, Arial, sans-serif" font-size="6.10" fill="#2a2a2a" text-anchor="end" stroke="#2a2a2a" stroke-width="0.18">1</text><text transform="translate(130.96,230.19) scale(0.870,1)" font-family="Liberation Sans, Arial, sans-serif" font-size="6.10" fill="#2a2a2a" text-anchor="end" stroke="#2a2a2a" stroke-width="0.18">1.1</text><text transform="translate(105.12,218.57) scale(0.870,1)" font-family="Liberation Sans, Arial, sans-serif" font-size="6.10" fill="#2a2a2a" text-anchor="end" stroke="#2a2a2a" stroke-width="0.18">1.2</text><text transform="translate(215.27,264.85) scale(0.870,1)" font-family="Liberation Sans, Arial, sans-serif" font-size="6.10" fill="#2a2a2a" text-anchor="start" stroke="#2a2a2a" stroke-width="0.18">35</text><text transform="translate(235.76,255.45) scale(0.870,1)" font-family="Liberation Sans, Arial, sans-serif" font-size="6.10" fill="#2a2a2a" text-anchor="start" stroke="#2a2a2a" stroke-width="0.18">37</text><text transform="translate(256.24,246.05) scale(0.870,1)" font-family="Liberation Sans, Arial, sans-serif" font-size="6.10" fill="#2a2a2a" text-anchor="start" stroke="#2a2a2a" stroke-width="0.18">39</text><text transform="translate(276.73,236.65) scale(0.870,1)" font-family="Liberation Sans, Arial, sans-serif" font-size="6.10" fill="#2a2a2a" text-anchor="start" stroke="#2a2a2a" stroke-width="0.18">41</text><text transform="translate(297.21,227.25) scale(0.870,1)" font-family="Liberation Sans, Arial, sans-serif" font-size="6.10" fill="#2a2a2a" text-anchor="start" stroke="#2a2a2a" stroke-width="0.18">43</text><text transform="translate(317.70,217.85) scale(0.870,1)" font-family="Liberation Sans, Arial, sans-serif" font-size="6.10" fill="#2a2a2a" text-anchor="start" stroke="#2a2a2a" stroke-width="0.18">45</text><text transform="translate(69.00,146.30) rotate(-90) scale(0.840,1)" font-family="Liberation Sans, Arial, sans-serif" font-size="7.30" fill="#2a2a2a" text-anchor="middle" stroke="#2a2a2a" stroke-width="0.18">Retention time (min)</text><text transform="translate(90.90,255.30) scale(0.950,1)" font-family="Liberation Sans, Arial, sans-serif" font-size="6.60" fill="#2a2a2a" text-anchor="start" stroke="#2a2a2a" stroke-width="0.18">B: Flow rate (ml/min)</text><text transform="translate(278.30,255.30) scale(0.942,1)" font-family="Liberation Sans, Arial, sans-serif" font-size="6.60" fill="#2a2a2a" text-anchor="start" stroke="#2a2a2a" stroke-width="0.18">A: Acetonitrile (%)</text><circle cx="211.9" cy="62.6" r="2.2" fill="#c00000" stroke="#800000" stroke-width="0.4"/><circle cx="211.9" cy="119.1" r="2.2" fill="#c00000" stroke="#800000" stroke-width="0.4"/><circle cx="105.3" cy="165.1" r="2.3" fill="#ffc6c6" stroke="#c07070" stroke-width="0.5"/><circle cx="211.6" cy="184.9" r="2.1" fill="#ffc6c6" stroke="#c07070" stroke-width="0.5"/><text transform="translate(203.90,300.20)" font-family="Liberation Serif, Times New Roman, serif" font-size="8.20" font-weight="bold" fill="#111" text-anchor="middle">(a)</text>
<defs><linearGradient id="s0"><stop offset="0.000" stop-color="#0001ff"/><stop offset="0.042" stop-color="#0051ff"/><stop offset="0.083" stop-color="#009dff"/><stop offset="0.125" stop-color="#00e6ff"/><stop offset="0.167" stop-color="#00ffd2"/><stop offset="0.208" stop-color="#00ff8f"/><stop offset="0.250" stop-color="#00ff50"/><stop offset="0.292" stop-color="#00ff14"/><stop offset="0.333" stop-color="#25ff00"/><stop offset="0.375" stop-color="#5aff00"/><stop offset="0.417" stop-color="#8dff00"/><stop offset="0.458" stop-color="#bcff00"/><stop offset="0.500" stop-color="#e8ff00"/><stop offset="0.542" stop-color="#ffee00"/><stop offset="0.583" stop-color="#ffc800"/><stop offset="0.625" stop-color="#ffa600"/><stop offset="0.667" stop-color="#ff8700"/><stop offset="0.708" stop-color="#ff6b00"/><stop offset="0.750" stop-color="#ff5300"/><stop offset="0.792" stop-color="#ff3e00"/><stop offset="0.833" stop-color="#ff2c00"/><stop offset="0.875" stop-color="#ff1d00"/><stop offset="0.917" stop-color="#ff1100"/><stop offset="0.958" stop-color="#ff0900"/><stop offset="1.000" stop-color="#ff0400"/></linearGradient><linearGradient id="s1"><stop offset="0.000" stop-color="#0004ff"/><stop offset="0.042" stop-color="#0053ff"/><stop offset="0.083" stop-color="#009fff"/><stop offset="0.125" stop-color="#00e7ff"/><stop offset="0.167" stop-color="#00ffd1"/><stop offset="0.208" stop-color="#00ff8f"/><stop offset="0.250" stop-color="#00ff50"/><stop offset="0.292" stop-color="#00ff15"/><stop offset="0.333" stop-color="#24ff00"/><stop offset="0.375" stop-color="#59ff00"/><stop offset="0.417" stop-color="#8bff00"/><stop offset="0.458" stop-color="#baff00"/><stop offset="0.500" stop-color="#e5ff00"/><stop offset="0.542" stop-color="#fff100"/><stop offset="0.583" stop-color="#ffcc00"/><stop offset="0.625" stop-color="#ffaa00"/><stop offset="0.667" stop-color="#ff8c00"/><stop offset="0.708" stop-color="#ff7000"/><stop offset="0.750" stop-color="#ff5800"/><stop offset="0.792" stop-color="#ff4400"/><stop offset="0.833" stop-color="#ff3200"/><stop offset="0.875" stop-color="#ff2400"/><stop offset="0.917" stop-color="#ff1900"/><stop offset="0.958" stop-color="#ff1100"/><stop offset="1.000" stop-color="#ff0c00"/></linearGradient><linearGradient id="s2"><stop offset="0.000" stop-color="#0007ff"/><stop offset="0.042" stop-color="#0055ff"/><stop offset="0.083" stop-color="#00a1ff"/><stop offset="0.125" stop-color="#00e9ff"/><stop offset="0.167" stop-color="#00ffd0"/><stop offset="0.208" stop-color="#00ff8f"/><stop offset="0.250" stop-color="#00ff50"/><stop offset="0.292" stop-color="#00ff15"/><stop offset="0.333" stop-color="#23ff00"/><stop offset="0.375" stop-color="#58ff00"/><stop offset="0.417" stop-color="#89ff00"/><stop offset="0.458" stop-color="#b7ff00"/><stop offset="0.500" stop-color="#e2ff00"/><stop offset="0.542" stop-color="#fff400"/><stop offset="0.583" stop-color="#ffcf00"/><stop offset="0.625" stop-color="#ffae00"/><stop offset="0.667" stop-color="#ff9000"/><stop offset="0.708" stop-color="#ff7500"/><stop offset="0.750" stop-color="#ff5e00"/><stop offset="0.792" stop-color="#ff4900"/><stop offset="0.833" stop-color="#ff3800"/><stop offset="0.875" stop-color="#ff2a00"/><stop offset="0.917" stop-color="#ff2000"/><stop offset="0.958" stop-color="#ff1900"/><stop offset="1.000" stop-color="#ff1400"/></linearGradient><linearGradient id="s3"><stop offset="0.000" stop-color="#0009ff"/><stop offset="0.042" stop-color="#0057ff"/><stop offset="0.083" stop-color="#00a2ff"/><stop offset="0.125" stop-color="#00eaff"/><stop offset="0.167" stop-color="#00ffd0"/><stop offset="0.208" stop-color="#00ff8e"/><stop offset="0.250" stop-color="#00ff50"/><stop offset="0.292" stop-color="#00ff16"/><stop offset="0.333" stop-color="#22ff00"/><stop offset="0.375" stop-color="#56ff00"/><stop offset="0.417" stop-color="#87ff00"/><stop offset="0.458" stop-color="#b5ff00"/><stop offset="0.500" stop-color="#e0ff00"/><stop offset="0.542" stop-color="#fff700"/><stop offset="0.583" stop-color="#ffd300"/><stop offset="0.625" stop-color="#ffb200"/><stop offset="0.667" stop-color="#ff9500"/><stop offset="0.708" stop-color="#ff7a00"/><stop offset="0.750" stop-color="#ff6300"/><stop offset="0.792" stop-color="#ff4f00"/><stop offset="0.833" stop-color="#ff3f00"/><stop offset="0.875" stop-color="#ff3100"/><stop offset="0.917" stop-color="#ff2700"/><stop offset="0.958" stop-color="#ff2000"/><stop offset="1.000" stop-color="#ff1d00"/></linearGradient><linearGradient id="s4"><stop offset="0.000" stop-color="#000cff"/><stop offset="0.042" stop-color="#005aff"/><stop offset="0.083" stop-color="#00a4ff"/><stop offset="0.125" stop-color="#00ebff"/><stop offset="0.167" stop-color="#00ffcf"/><stop offset="0.208" stop-color="#00ff8e"/><stop offset="0.250" stop-color="#00ff50"/><stop offset="0.292" stop-color="#00ff16"/><stop offset="0.333" stop-color="#21ff00"/><stop offset="0.375" stop-color="#55ff00"/><stop offset="0.417" stop-color="#85ff00"/><stop offset="0.458" stop-color="#b3ff00"/><stop offset="0.500" stop-color="#ddff00"/><stop offset="0.542" stop-color="#fffa00"/><stop offset="0.583" stop-color="#ffd700"/><stop offset="0.625" stop-color="#ffb600"/><stop offset="0.667" stop-color="#ff9900"/><stop offset="0.708" stop-color="#ff7f00"/><stop offset="0.750" stop-color="#ff6900"/><stop offset="0.792" stop-color="#ff5500"/><stop offset="0.833" stop-color="#ff4500"/><stop offset="0.875" stop-color="#ff3800"/><stop offset="0.917" stop-color="#ff2e00"/><stop offset="0.958" stop-color="#ff2800"/><stop offset="1.000" stop-color="#ff2500"/></linearGradient><linearGradient id="s5"><stop offset="0.000" stop-color="#000fff"/><stop offset="0.042" stop-color="#005cff"/><stop offset="0.083" stop-color="#00a6ff"/><stop offset="0.125" stop-color="#00edff"/><stop offset="0.167" stop-color="#00ffce"/><stop offset="0.208" stop-color="#00ff8e"/><stop offset="0.250" stop-color="#00ff50"/><stop offset="0.292" stop-color="#00ff17"/><stop offset="0.333" stop-color="#20ff00"/><stop offset="0.375" stop-color="#53ff00"/><stop offset="0.417" stop-color="#84ff00"/><stop offset="0.458" stop-color="#b0ff00"/><stop offset="0.500" stop-color="#daff00"/><stop offset="0.542" stop-color="#fffe00"/><stop offset="0.583" stop-color="#ffda00"/><stop offset="0.625" stop-color="#ffba00"/><stop offset="0.667" stop-color="#ff9e00"/><stop offset="0.708" stop-color="#ff8400"/><stop offset="0.750" stop-color="#ff6e00"/><stop offset="0.792" stop-color="#ff5b00"/><stop offset="0.833" stop-color="#ff4b00"/><stop offset="0.875" stop-color="#ff3f00"/><stop offset="0.917" stop-color="#ff3600"/><stop offset="0.958" stop-color="#ff3000"/><stop offset="1.000" stop-color="#ff2d00"/></linearGradient><linearGradient id="s6"><stop offset="0.000" stop-color="#0011ff"/><stop offset="0.042" stop-color="#005eff"/><stop offset="0.083" stop-color="#00a8ff"/><stop offset="0.125" stop-color="#00eeff"/><stop offset="0.167" stop-color="#00ffcd"/><stop offset="0.208" stop-color="#00ff8d"/><stop offset="0.250" stop-color="#00ff50"/><stop offset="0.292" stop-color="#00ff17"/><stop offset="0.333" stop-color="#1fff00"/><stop offset="0.375" stop-color="#52ff00"/><stop offset="0.417" stop-color="#82ff00"/><stop offset="0.458" stop-color="#aeff00"/><stop offset="0.500" stop-color="#d7ff00"/><stop offset="0.542" stop-color="#fdff00"/><stop offset="0.583" stop-color="#ffde00"/><stop offset="0.625" stop-color="#ffbe00"/><stop offset="0.667" stop-color="#ffa200"/><stop offset="0.708" stop-color="#ff8900"/><stop offset="0.750" stop-color="#ff7300"/><stop offset="0.792" stop-color="#ff6100"/><stop offset="0.833" stop-color="#ff5200"/><stop offset="0.875" stop-color="#ff4600"/><stop offset="0.917" stop-color="#ff3d00"/><stop offset="0.958" stop-color="#ff3700"/><stop offset="1.000" stop-color="#ff3500"/></linearGradient><linearGradient id="s7"><stop offset="0.000" stop-color="#0014ff"/><stop offset="0.042" stop-color="#0060ff"/><stop offset="0.083" stop-color="#00a9ff"/><stop offset="0.125" stop-color="#00efff"/><stop offset="0.167" stop-color="#00ffcc"/><stop offset="0.208" stop-color="#00ff8d"/><stop offset="0.250" stop-color="#00ff50"/><stop offset="0.292" stop-color="#00ff18"/><stop offset="0.333" stop-color="#1eff00"/><stop offset="0.375" stop-color="#51ff00"/><stop offset="0.417" stop-color="#80ff00"/><stop offset="0.458" stop-color="#acff00"/><stop offset="0.500" stop-color="#d5ff00"/><stop offset="0.542" stop-color="#faff00"/><stop offset="0.583" stop-color="#ffe200"/><stop offset="0.625" stop-color="#ffc300"/><stop offset="0.667" stop-color="#ffa700"/><stop offset="0.708" stop-color="#ff8e00"/><stop offset="0.750" stop-color="#ff7900"/><stop offset="0.792" stop-color="#ff6700"/><stop offset="0.833" stop-color="#ff5800"/><stop offset="0.875" stop-color="#ff4c00"/><stop offset="0.917" stop-color="#ff4400"/><stop offset="0.958" stop-color="#ff3f00"/><stop offset="1.000" stop-color="#ff3d00"/></linearGradient><linearGradient id="s8"><stop offset="0.000" stop-color="#0017ff"/><stop offset="0.042" stop-color="#0062ff"/><stop offset="0.083" stop-color="#00abff"/><stop offset="0.125" stop-color="#00f1ff"/><stop offset="0.167" stop-color="#00ffcb"/><stop offset="0.208" stop-color="#00ff8c"/><stop offset="0.250" stop-color="#00ff50"/><stop offset="0.292" stop-color="#00ff18"/><stop offset="0.333" stop-color="#1dff00"/><stop offset="0.375" stop-color="#4fff00"/><stop offset="0.417" stop-color="#7eff00"/><stop offset="0.458" stop-color="#aaff00"/><stop offset="0.500" stop-color="#d2ff00"/><stop offset="0.542" stop-color="#f7ff00"/><stop offset="0.583" stop-color="#ffe500"/><stop offset="0.625" stop-color="#ffc700"/><stop offset="0.667" stop-color="#ffab00"/><stop offset="0.708" stop-color="#ff9300"/><stop offset="0.750" stop-color="#ff7e00"/><stop offset="0.792" stop-color="#ff6d00"/><stop offset="0.833" stop-color="#ff5e00"/><stop offset="0.875" stop-color="#ff5300"/><stop offset="0.917" stop-color="#ff4b00"/><stop offset="0.958" stop-color="#ff4600"/><stop offset="1.000" stop-color="#ff4500"/></linearGradient><linearGradient id="s9"><stop offset="0.000" stop-color="#0019ff"/><stop offset="0.042" stop-color="#0065ff"/><stop offset="0.083" stop-color="#00adff"/><stop offset="0.125" stop-color="#00f2ff"/><stop offset="0.167" stop-color="#00ffca"/><stop offset="0.208" stop-color="#00ff8c"/><stop offset="0.250" stop-color="#00ff50"/><stop offset="0.292" stop-color="#00ff18"/><stop offset="0.333" stop-color="#1cff00"/><stop offset="0.375" stop-color="#4eff00"/><stop offset="0.417" stop-color="#7cff00"/><stop offset="0.458" stop-color="#a7ff00"/><stop offset="0.500" stop-color="#cfff00"/><stop offset="0.542" stop-color="#f4ff00"/><stop offset="0.583" stop-color="#ffe900"/><stop offset="0.625" stop-color="#ffcb00"/><stop offset="0.667" stop-color="#ffb000"/><stop offset="0.708" stop-color="#ff9800"/><stop offset="0.750" stop-color="#ff8400"/><stop offset="0.792" stop-color="#ff7200"/><stop offset="0.833" stop-color="#ff6400"/><stop offset="0.875" stop-color="#ff5a00"/><stop offset="0.917" stop-color="#ff5200"/><stop offset="0.958" stop-color="#ff4e00"/><stop offset="1.000" stop-color="#ff4d00"/></linearGradient><linearGradient id="s10"><stop offset="0.000" stop-color="#001cff"/><stop offset="0.042" stop-color="#0067ff"/><stop offset="0.083" stop-color="#00afff"/><stop offset="0.125" stop-color="#00f3ff"/><stop offset="0.167" stop-color="#00ffc9"/><stop offset="0.208" stop-color="#00ff8b"/><stop offset="0.250" stop-color="#00ff50"/><stop offset="0.292" stop-color="#00ff19"/><stop offset="0.333" stop-color="#1cff00"/><stop offset="0.375" stop-color="#4dff00"/><stop offset="0.417" stop-color="#7bff00"/><stop offset="0.458" stop-color="#a5ff00"/><stop offset="0.500" stop-color="#cdff00"/><stop offset="0.542" stop-color="#f1ff00"/><stop offset="0.583" stop-color="#ffec00"/><stop offset="0.625" stop-color="#ffcf00"/><stop offset="0.667" stop-color="#ffb400"/><stop offset="0.708" stop-color="#ff9d00"/><stop offset="0.750" stop-color="#ff8900"/><stop offset="0.792" stop-color="#ff7800"/><stop offset="0.833" stop-color="#ff6b00"/><stop offset="0.875" stop-color="#ff6100"/><stop offset="0.917" stop-color="#ff5900"/><stop offset="0.958" stop-color="#ff5600"/><stop offset="1.000" stop-color="#ff5500"/></linearGradient><linearGradient id="s11"><stop offset="0.000" stop-color="#001fff"/><stop offset="0.042" stop-color="#0069ff"/><stop offset="0.083" stop-color="#00b1ff"/><stop offset="0.125" stop-color="#00f5ff"/><stop offset="0.167" stop-color="#00ffc8"/><stop offset="0.208" stop-color="#00ff8b"/><stop offset="0.250" stop-color="#00ff50"/><stop offset="0.292" stop-color="#00ff19"/><stop offset="0.333" stop-color="#1bff00"/><stop offset="0.375" stop-color="#4bff00"/><stop offset="0.417" stop-color="#79ff00"/><stop offset="0.458" stop-color="#a3ff00"/><stop offset="0.500" stop-color="#caff00"/><stop offset="0.542" stop-color="#eeff00"/><stop offset="0.583" stop-color="#fff000"/><stop offset="0.625" stop-color="#ffd300"/><stop offset="0.667" stop-color="#ffb900"/><stop offset="0.708" stop-color="#ffa200"/><stop offset="0.750" stop-color="#ff8e00"/><stop offset="0.792" stop-color="#ff7e00"/><stop offset="0.833" stop-color="#ff7100"/><stop offset="0.875" stop-color="#ff6700"/><stop offset="0.917" stop-color="#ff6100"/><stop offset="0.958" stop-color="#ff5d00"/><stop offset="1.000" stop-color="#ff5d00"/></linearGradient><linearGradient id="s12"><stop offset="0.000" stop-color="#0021ff"/><stop offset="0.042" stop-color="#006cff"/><stop offset="0.083" stop-color="#00b2ff"/><stop offset="0.125" stop-color="#00f6ff"/><stop offset="0.167" stop-color="#00ffc8"/><stop offset="0.208" stop-color="#00ff8a"/><stop offset="0.250" stop-color="#00ff50"/><stop offset="0.292" stop-color="#00ff1a"/><stop offset="0.333" stop-color="#1aff00"/><stop offset="0.375" stop-color="#4aff00"/><stop offset="0.417" stop-color="#77ff00"/><stop offset="0.458" stop-color="#a1ff00"/><stop offset="0.500" stop-color="#c7ff00"/><stop offset="0.542" stop-color="#ebff00"/><stop offset="0.583" stop-color="#fff300"/><stop offset="0.625" stop-color="#ffd700"/><stop offset="0.667" stop-color="#ffbd00"/><stop offset="0.708" stop-color="#ffa700"/><stop offset="0.750" stop-color="#ff9400"/><stop offset="0.792" stop-color="#ff8400"/><stop offset="0.833" stop-color="#ff7700"/><stop offset="0.875" stop-color="#ff6e00"/><stop offset="0.917" stop-color="#ff6800"/><stop offset="0.958" stop-color="#ff6500"/><stop offset="1.000" stop-color="#ff6500"/></linearGradient><linearGradient id="s13"><stop offset="0.000" stop-color="#0024ff"/><stop offset="0.042" stop-color="#006eff"/><stop offset="0.083" stop-color="#00b4ff"/><stop offset="0.125" stop-color="#00f7ff"/><stop offset="0.167" stop-color="#00ffc7"/><stop offset="0.208" stop-color="#00ff8a"/><stop offset="0.250" stop-color="#00ff50"/><stop offset="0.292" stop-color="#00ff1a"/><stop offset="0.333" stop-color="#19ff00"/><stop offset="0.375" stop-color="#49ff00"/><stop offset="0.417" stop-color="#75ff00"/><stop offset="0.458" stop-color="#9fff00"/><stop offset="0.500" stop-color="#c5ff00"/><stop offset="0.542" stop-color="#e7ff00"/><stop offset="0.583" stop-color="#fff700"/><stop offset="0.625" stop-color="#ffdb00"/><stop offset="0.667" stop-color="#ffc200"/><stop offset="0.708" stop-color="#ffac00"/><stop offset="0.750" stop-color="#ff9900"/><stop offset="0.792" stop-color="#ff8a00"/><stop offset="0.833" stop-color="#ff7e00"/><stop offset="0.875" stop-color="#ff7500"/><stop offset="0.917" stop-color="#ff6f00"/><stop offset="0.958" stop-color="#ff6c00"/><stop offset="1.000" stop-color="#ff6d00"/></linearGradient><linearGradient id="s14"><stop offset="0.000" stop-color="#0027ff"/><stop offset="0.042" stop-color="#0070ff"/><stop offset="0.083" stop-color="#00b6ff"/><stop offset="0.125" stop-color="#00f9ff"/><stop offset="0.167" stop-color="#00ffc6"/><stop offset="0.208" stop-color="#00ff89"/><stop offset="0.250" stop-color="#00ff50"/><stop offset="0.292" stop-color="#00ff1b"/><stop offset="0.333" stop-color="#18ff00"/><stop offset="0.375" stop-color="#47ff00"/><stop offset="0.417" stop-color="#73ff00"/><stop offset="0.458" stop-color="#9cff00"/><stop offset="0.500" stop-color="#c2ff00"/><stop offset="0.542" stop-color="#e4ff00"/><stop offset="0.583" stop-color="#fffb00"/><stop offset="0.625" stop-color="#ffdf00"/><stop offset="0.667" stop-color="#ffc600"/><stop offset="0.708" stop-color="#ffb100"/><stop offset="0.750" stop-color="#ff9e00"/><stop offset="0.792" stop-color="#ff8f00"/><stop offset="0.833" stop-color="#ff8400"/><stop offset="0.875" stop-color="#ff7b00"/><stop offset="0.917" stop-color="#ff7600"/><stop offset="0.958" stop-color="#ff7400"/><stop offset="1.000" stop-color="#ff7500"/></linearGradient><linearGradient id="s15"><stop offset="0.000" stop-color="#002aff"/><stop offset="0.042" stop-color="#0072ff"/><stop offset="0.083" stop-color="#00b8ff"/><stop offset="0.125" stop-color="#00faff"/><stop offset="0.167" stop-color="#00ffc5"/><stop offset="0.208" stop-color="#00ff89"/><stop offset="0.250" stop-color="#00ff50"/><stop offset="0.292" stop-color="#00ff1b"/><stop offset="0.333" stop-color="#17ff00"/><stop offset="0.375" stop-color="#46ff00"/><stop offset="0.417" stop-color="#72ff00"/><stop offset="0.458" stop-color="#9aff00"/><stop offset="0.500" stop-color="#bfff00"/><stop offset="0.542" stop-color="#e1ff00"/><stop offset="0.583" stop-color="#fffe00"/><stop offset="0.625" stop-color="#ffe300"/><stop offset="0.667" stop-color="#ffca00"/><stop offset="0.708" stop-color="#ffb500"/><stop offset="0.750" stop-color="#ffa400"/><stop offset="0.792" stop-color="#ff9500"/><stop offset="0.833" stop-color="#ff8a00"/><stop offset="0.875" stop-color="#ff8200"/><stop offset="0.917" stop-color="#ff7d00"/><stop offset="0.958" stop-color="#ff7c00"/><stop offset="1.000" stop-color="#ff7d00"/></linearGradient><linearGradient id="s16"><stop offset="0.000" stop-color="#002cff"/><stop offset="0.042" stop-color="#0075ff"/><stop offset="0.083" stop-color="#00baff"/><stop offset="0.125" stop-color="#00fcff"/><stop offset="0.167" stop-color="#00ffc4"/><stop offset="0.208" stop-color="#00ff88"/><stop offset="0.250" stop-color="#00ff50"/><stop offset="0.292" stop-color="#00ff1b"/><stop offset="0.333" stop-color="#16ff00"/><stop offset="0.375" stop-color="#45ff00"/><stop offset="0.417" stop-color="#70ff00"/><stop offset="0.458" stop-color="#98ff00"/><stop offset="0.500" stop-color="#bdff00"/><stop offset="0.542" stop-color="#deff00"/><stop offset="0.583" stop-color="#fcff00"/><stop offset="0.625" stop-color="#ffe700"/><stop offset="0.667" stop-color="#ffcf00"/><stop offset="0.708" stop-color="#ffba00"/><stop offset="0.750" stop-color="#ffa900"/><stop offset="0.792" stop-color="#ff9b00"/><stop offset="0.833" stop-color="#ff9000"/><stop offset="0.875" stop-color="#ff8900"/><stop offset="0.917" stop-color="#ff8400"/><stop offset="0.958" stop-color="#ff8300"/><stop offset="1.000" stop-color="#ff8500"/></linearGradient><linearGradient id="s17"><stop offset="0.000" stop-color="#002fff"/><stop offset="0.042" stop-color="#0077ff"/><stop offset="0.083" stop-color="#00bcff"/><stop offset="0.125" stop-color="#00fdff"/><stop offset="0.167" stop-color="#00ffc3"/><stop offset="0.208" stop-color="#00ff88"/><stop offset="0.250" stop-color="#00ff50"/><stop offset="0.292" stop-color="#00ff1c"/><stop offset="0.333" stop-color="#16ff00"/><stop offset="0.375" stop-color="#44ff00"/><stop offset="0.417" stop-color="#6eff00"/><stop offset="0.458" stop-color="#96ff00"/><stop offset="0.500" stop-color="#baff00"/><stop offset="0.542" stop-color="#dbff00"/><stop offset="0.583" stop-color="#f9ff00"/><stop offset="0.625" stop-color="#ffeb00"/><stop offset="0.667" stop-color="#ffd300"/><stop offset="0.708" stop-color="#ffbf00"/><stop offset="0.750" stop-color="#ffae00"/><stop offset="0.792" stop-color="#ffa100"/><stop offset="0.833" stop-color="#ff9600"/><stop offset="0.875" stop-color="#ff8f00"/><stop offset="0.917" stop-color="#ff8b00"/><stop offset="0.958" stop-color="#ff8b00"/><stop offset="1.000" stop-color="#ff8d00"/></linearGradient><linearGradient id="s18"><stop offset="0.000" stop-color="#0032ff"/><stop offset="0.042" stop-color="#0079ff"/><stop offset="0.083" stop-color="#00beff"/><stop offset="0.125" stop-color="#00ffff"/><stop offset="0.167" stop-color="#00ffc2"/><stop offset="0.208" stop-color="#00ff87"/><stop offset="0.250" stop-color="#00ff50"/><stop offset="0.292" stop-color="#00ff1c"/><stop offset="0.333" stop-color="#15ff00"/><stop offset="0.375" stop-color="#42ff00"/><stop offset="0.417" stop-color="#6dff00"/><stop offset="0.458" stop-color="#94ff00"/><stop offset="0.500" stop-color="#b7ff00"/><stop offset="0.542" stop-color="#d8ff00"/><stop offset="0.583" stop-color="#f5ff00"/><stop offset="0.625" stop-color="#ffef00"/><stop offset="0.667" stop-color="#ffd800"/><stop offset="0.708" stop-color="#ffc400"/><stop offset="0.750" stop-color="#ffb400"/><stop offset="0.792" stop-color="#ffa600"/><stop offset="0.833" stop-color="#ff9d00"/><stop offset="0.875" stop-color="#ff9600"/><stop offset="0.917" stop-color="#ff9200"/><stop offset="0.958" stop-color="#ff9200"/><stop offset="1.000" stop-color="#ff9500"/></linearGradient><linearGradient id="s19"><stop offset="0.000" stop-color="#0035ff"/><stop offset="0.042" stop-color="#007cff"/><stop offset="0.083" stop-color="#00bfff"/><stop offset="0.125" stop-color="#00fffe"/><stop offset="0.167" stop-color="#00ffc1"/><stop offset="0.208" stop-color="#00ff87"/><stop offset="0.250" stop-color="#00ff50"/><stop offset="0.292" stop-color="#00ff1c"/><stop offset="0.333" stop-color="#14ff00"/><stop offset="0.375" stop-color="#41ff00"/><stop offset="0.417" stop-color="#6bff00"/><stop offset="0.458" stop-color="#92ff00"/><stop offset="0.500" stop-color="#b5ff00"/><stop offset="0.542" stop-color="#d5ff00"/><stop offset="0.583" stop-color="#f2ff00"/><stop offset="0.625" stop-color="#fff200"/><stop offset="0.667" stop-color="#ffdc00"/><stop offset="0.708" stop-color="#ffc900"/><stop offset="0.750" stop-color="#ffb900"/><stop offset="0.792" stop-color="#ffac00"/><stop offset="0.833" stop-color="#ffa300"/><stop offset="0.875" stop-color="#ff9d00"/><stop offset="0.917" stop-color="#ff9a00"/><stop offset="0.958" stop-color="#ff9a00"/><stop offset="1.000" stop-color="#ff9d00"/></linearGradient><linearGradient id="s20"><stop offset="0.000" stop-color="#0038ff"/><stop offset="0.042" stop-color="#007eff"/><stop offset="0.083" stop-color="#00c1ff"/><stop offset="0.125" stop-color="#00fffd"/><stop offset="0.167" stop-color="#00ffc0"/><stop offset="0.208" stop-color="#00ff86"/><stop offset="0.250" stop-color="#00ff50"/><stop offset="0.292" stop-color="#00ff1d"/><stop offset="0.333" stop-color="#13ff00"/><stop offset="0.375" stop-color="#40ff00"/><stop offset="0.417" stop-color="#69ff00"/><stop offset="0.458" stop-color="#8fff00"/><stop offset="0.500" stop-color="#b2ff00"/><stop offset="0.542" stop-color="#d2ff00"/><stop offset="0.583" stop-color="#eeff00"/><stop offset="0.625" stop-color="#fff600"/><stop offset="0.667" stop-color="#ffe000"/><stop offset="0.708" stop-color="#ffce00"/><stop offset="0.750" stop-color="#ffbe00"/><stop offset="0.792" stop-color="#ffb200"/><stop offset="0.833" stop-color="#ffa900"/><stop offset="0.875" stop-color="#ffa300"/><stop offset="0.917" stop-color="#ffa100"/><stop offset="0.958" stop-color="#ffa100"/><stop offset="1.000" stop-color="#ffa500"/></linearGradient><linearGradient id="s21"><stop offset="0.000" stop-color="#003aff"/><stop offset="0.042" stop-color="#0080ff"/><stop offset="0.083" stop-color="#00c3ff"/><stop offset="0.125" stop-color="#00fffb"/><stop offset="0.167" stop-color="#00ffbf"/><stop offset="0.208" stop-color="#00ff86"/><stop offset="0.250" stop-color="#00ff50"/><stop offset="0.292" stop-color="#00ff1d"/><stop offset="0.333" stop-color="#12ff00"/><stop offset="0.375" stop-color="#3fff00"/><stop offset="0.417" stop-color="#68ff00"/><stop offset="0.458" stop-color="#8dff00"/><stop offset="0.500" stop-color="#b0ff00"/><stop offset="0.542" stop-color="#cfff00"/><stop offset="0.583" stop-color="#ebff00"/><stop offset="0.625" stop-color="#fffa00"/><stop offset="0.667" stop-color="#ffe500"/><stop offset="0.708" stop-color="#ffd300"/><stop offset="0.750" stop-color="#ffc300"/><stop offset="0.792" stop-color="#ffb800"/><stop offset="0.833" stop-color="#ffaf00"/><stop offset="0.875" stop-color="#ffaa00"/><stop offset="0.917" stop-color="#ffa800"/><stop offset="0.958" stop-color="#ffa900"/><stop offset="1.000" stop-color="#ffad00"/></linearGradient><linearGradient id="s22"><stop offset="0.000" stop-color="#003dff"/><stop offset="0.042" stop-color="#0083ff"/><stop offset="0.083" stop-color="#00c5ff"/><stop offset="0.125" stop-color="#00fffa"/><stop offset="0.167" stop-color="#00ffbe"/><stop offset="0.208" stop-color="#00ff85"/><stop offset="0.250" stop-color="#00ff50"/><stop offset="0.292" stop-color="#00ff1d"/><stop offset="0.333" stop-color="#12ff00"/><stop offset="0.375" stop-color="#3dff00"/><stop offset="0.417" stop-color="#66ff00"/><stop offset="0.458" stop-color="#8bff00"/><stop offset="0.500" stop-color="#adff00"/><stop offset="0.542" stop-color="#ccff00"/><stop offset="0.583" stop-color="#e7ff00"/><stop offset="0.625" stop-color="#fffe00"/><stop offset="0.667" stop-color="#ffe900"/><stop offset="0.708" stop-color="#ffd700"/><stop offset="0.750" stop-color="#ffc900"/><stop offset="0.792" stop-color="#ffbd00"/><stop offset="0.833" stop-color="#ffb500"/><stop offset="0.875" stop-color="#ffb000"/><stop offset="0.917" stop-color="#ffaf00"/><stop offset="0.958" stop-color="#ffb000"/><stop offset="1.000" stop-color="#ffb500"/></linearGradient><linearGradient id="s23"><stop offset="0.000" stop-color="#0040ff"/><stop offset="0.042" stop-color="#0085ff"/><stop offset="0.083" stop-color="#00c7ff"/><stop offset="0.125" stop-color="#00fff8"/><stop offset="0.167" stop-color="#00ffbd"/><stop offset="0.208" stop-color="#00ff84"/><stop offset="0.250" stop-color="#00ff4f"/><stop offset="0.292" stop-color="#00ff1e"/><stop offset="0.333" stop-color="#11ff00"/><stop offset="0.375" stop-color="#3cff00"/><stop offset="0.417" stop-color="#64ff00"/><stop offset="0.458" stop-color="#89ff00"/><stop offset="0.500" stop-color="#abff00"/><stop offset="0.542" stop-color="#c9ff00"/><stop offset="0.583" stop-color="#e4ff00"/><stop offset="0.625" stop-color="#fcff00"/><stop offset="0.667" stop-color="#ffed00"/><stop offset="0.708" stop-color="#ffdc00"/><stop offset="0.750" stop-color="#ffce00"/><stop offset="0.792" stop-color="#ffc300"/><stop offset="0.833" stop-color="#ffbb00"/><stop offset="0.875" stop-color="#ffb700"/><stop offset="0.917" stop-color="#ffb600"/><stop offset="0.958" stop-color="#ffb800"/><stop offset="1.000" stop-color="#ffbd00"/></linearGradient><linearGradient id="s24"><stop offset="0.000" stop-color="#0043ff"/><stop offset="0.042" stop-color="#0088ff"/><stop offset="0.083" stop-color="#00c9ff"/><stop offset="0.125" stop-color="#00fff7"/><stop offset="0.167" stop-color="#00ffbc"/><stop offset="0.208" stop-color="#00ff84"/><stop offset="0.250" stop-color="#00ff4f"/><stop offset="0.292" stop-color="#00ff1e"/><stop offset="0.333" stop-color="#10ff00"/><stop offset="0.375" stop-color="#3bff00"/><stop offset="0.417" stop-color="#63ff00"/><stop offset="0.458" stop-color="#87ff00"/><stop offset="0.500" stop-color="#a8ff00"/><stop offset="0.542" stop-color="#c6ff00"/><stop offset="0.583" stop-color="#e1ff00"/><stop offset="0.625" stop-color="#f8ff00"/><stop offset="0.667" stop-color="#fff200"/><stop offset="0.708" stop-color="#ffe100"/><stop offset="0.750" stop-color="#ffd300"/><stop offset="0.792" stop-color="#ffc900"/><stop offset="0.833" stop-color="#ffc200"/><stop offset="0.875" stop-color="#ffbe00"/><stop offset="0.917" stop-color="#ffbd00"/><stop offset="0.958" stop-color="#ffbf00"/><stop offset="1.000" stop-color="#ffc500"/></linearGradient><linearGradient id="s25"><stop offset="0.000" stop-color="#0046ff"/><stop offset="0.042" stop-color="#008aff"/><stop offset="0.083" stop-color="#00cbff"/><stop offset="0.125" stop-color="#00fff5"/><stop offset="0.167" stop-color="#00ffbb"/><stop offset="0.208" stop-color="#00ff83"/><stop offset="0.250" stop-color="#00ff4f"/><stop offset="0.292" stop-color="#00ff1e"/><stop offset="0.333" stop-color="#0fff00"/><stop offset="0.375" stop-color="#3aff00"/><stop offset="0.417" stop-color="#61ff00"/><stop offset="0.458" stop-color="#85ff00"/><stop offset="0.500" stop-color="#a6ff00"/><stop offset="0.542" stop-color="#c3ff00"/><stop offset="0.583" stop-color="#ddff00"/><stop offset="0.625" stop-color="#f4ff00"/><stop offset="0.667" stop-color="#fff600"/><stop offset="0.708" stop-color="#ffe600"/><stop offset="0.750" stop-color="#ffd800"/><stop offset="0.792" stop-color="#ffce00"/><stop offset="0.833" stop-color="#ffc800"/><stop offset="0.875" stop-color="#ffc400"/><stop offset="0.917" stop-color="#ffc400"/><stop offset="0.958" stop-color="#ffc700"/><stop offset="1.000" stop-color="#ffcd00"/></linearGradient><linearGradient id="s26"><stop offset="0.000" stop-color="#0049ff"/><stop offset="0.042" stop-color="#008cff"/><stop offset="0.083" stop-color="#00cdff"/><stop offset="0.125" stop-color="#00fff4"/><stop offset="0.167" stop-color="#00ffba"/><stop offset="0.208" stop-color="#00ff83"/><stop offset="0.250" stop-color="#00ff4f"/><stop offset="0.292" stop-color="#00ff1f"/><stop offset="0.333" stop-color="#0fff00"/><stop offset="0.375" stop-color="#39ff00"/><stop offset="0.417" stop-color="#5fff00"/><stop offset="0.458" stop-color="#83ff00"/><stop offset="0.500" stop-color="#a3ff00"/><stop offset="0.542" stop-color="#c0ff00"/><stop offset="0.583" stop-color="#daff00"/><stop offset="0.625" stop-color="#f0ff00"/><stop offset="0.667" stop-color="#fffa00"/><stop offset="0.708" stop-color="#ffea00"/><stop offset="0.750" stop-color="#ffde00"/><stop offset="0.792" stop-color="#ffd400"/><stop offset="0.833" stop-color="#ffce00"/><stop offset="0.875" stop-color="#ffcb00"/><stop offset="0.917" stop-color="#ffcb00"/><stop offset="0.958" stop-color="#ffce00"/><stop offset="1.000" stop-color="#ffd500"/></linearGradient><linearGradient id="s27"><stop offset="0.000" stop-color="#004bff"/><stop offset="0.042" stop-color="#008fff"/><stop offset="0.083" stop-color="#00cfff"/><stop offset="0.125" stop-color="#00fff2"/><stop offset="0.167" stop-color="#00ffb8"/><stop offset="0.208" stop-color="#00ff82"/><stop offset="0.250" stop-color="#00ff4f"/><stop offset="0.292" stop-color="#00ff1f"/><stop offset="0.333" stop-color="#0eff00"/><stop offset="0.375" stop-color="#37ff00"/><stop offset="0.417" stop-color="#5eff00"/><stop offset="0.458" stop-color="#81ff00"/><stop offset="0.500" stop-color="#a0ff00"/><stop offset="0.542" stop-color="#bdff00"/><stop offset="0.583" stop-color="#d6ff00"/><stop offset="0.625" stop-color="#ecff00"/><stop offset="0.667" stop-color="#ffff00"/><stop offset="0.708" stop-color="#ffef00"/><stop offset="0.750" stop-color="#ffe300"/><stop offset="0.792" stop-color="#ffda00"/><stop offset="0.833" stop-color="#ffd400"/><stop offset="0.875" stop-color="#ffd100"/><stop offset="0.917" stop-color="#ffd200"/><stop offset="0.958" stop-color="#ffd600"/><stop offset="1.000" stop-color="#ffdd00"/></linearGradient><linearGradient id="s28"><stop offset="0.000" stop-color="#004eff"/><stop offset="0.042" stop-color="#0091ff"/><stop offset="0.083" stop-color="#00d1ff"/><stop offset="0.125" stop-color="#00fff1"/><stop offset="0.167" stop-color="#00ffb7"/><stop offset="0.208" stop-color="#00ff81"/><stop offset="0.250" stop-color="#00ff4f"/><stop offset="0.292" stop-color="#00ff1f"/><stop offset="0.333" stop-color="#0dff00"/><stop offset="0.375" stop-color="#36ff00"/><stop offset="0.417" stop-color="#5cff00"/><stop offset="0.458" stop-color="#7fff00"/><stop offset="0.500" stop-color="#9eff00"/><stop offset="0.542" stop-color="#baff00"/><stop offset="0.583" stop-color="#d3ff00"/><stop offset="0.625" stop-color="#e9ff00"/><stop offset="0.667" stop-color="#fbff00"/><stop offset="0.708" stop-color="#fff400"/><stop offset="0.750" stop-color="#ffe800"/><stop offset="0.792" stop-color="#ffdf00"/><stop offset="0.833" stop-color="#ffda00"/><stop offset="0.875" stop-color="#ffd800"/><stop offset="0.917" stop-color="#ffd900"/><stop offset="0.958" stop-color="#ffdd00"/><stop offset="1.000" stop-color="#ffe500"/></linearGradient><linearGradient id="s29"><stop offset="0.000" stop-color="#0051ff"/><stop offset="0.042" stop-color="#0094ff"/><stop offset="0.083" stop-color="#00d3ff"/><stop offset="0.125" stop-color="#00ffef"/><stop offset="0.167" stop-color="#00ffb6"/><stop offset="0.208" stop-color="#00ff81"/><stop offset="0.250" stop-color="#00ff4e"/><stop offset="0.292" stop-color="#00ff1f"/><stop offset="0.333" stop-color="#0dff00"/><stop offset="0.375" stop-color="#35ff00"/><stop offset="0.417" stop-color="#5aff00"/><stop offset="0.458" stop-color="#7dff00"/><stop offset="0.500" stop-color="#9bff00"/><stop offset="0.542" stop-color="#b7ff00"/><stop offset="0.583" stop-color="#d0ff00"/><stop offset="0.625" stop-color="#e5ff00"/><stop offset="0.667" stop-color="#f7ff00"/><stop offset="0.708" stop-color="#fff900"/><stop offset="0.750" stop-color="#ffed00"/><stop offset="0.792" stop-color="#ffe500"/><stop offset="0.833" stop-color="#ffe000"/><stop offset="0.875" stop-color="#ffde00"/><stop offset="0.917" stop-color="#ffe000"/><stop offset="0.958" stop-color="#ffe500"/><stop offset="1.000" stop-color="#ffed00"/></linearGradient><linearGradient id="s30"><stop offset="0.000" stop-color="#0054ff"/><stop offset="0.042" stop-color="#0096ff"/><stop offset="0.083" stop-color="#00d5ff"/><stop offset="0.125" stop-color="#00ffed"/><stop offset="0.167" stop-color="#00ffb5"/><stop offset="0.208" stop-color="#00ff80"/><stop offset="0.250" stop-color="#00ff4e"/><stop offset="0.292" stop-color="#00ff20"/><stop offset="0.333" stop-color="#0cff00"/><stop offset="0.375" stop-color="#34ff00"/><stop offset="0.417" stop-color="#59ff00"/><stop offset="0.458" stop-color="#7bff00"/><stop offset="0.500" stop-color="#99ff00"/><stop offset="0.542" stop-color="#b4ff00"/><stop offset="0.583" stop-color="#ccff00"/><stop offset="0.625" stop-color="#e1ff00"/><stop offset="0.667" stop-color="#f2ff00"/><stop offset="0.708" stop-color="#fffd00"/><stop offset="0.750" stop-color="#fff200"/><stop offset="0.792" stop-color="#ffeb00"/><stop offset="0.833" stop-color="#ffe600"/><stop offset="0.875" stop-color="#ffe500"/><stop offset="0.917" stop-color="#ffe700"/><stop offset="0.958" stop-color="#ffec00"/><stop offset="1.000" stop-color="#fff400"/></linearGradient><linearGradient id="s31"><stop offset="0.000" stop-color="#0057ff"/><stop offset="0.042" stop-color="#0099ff"/><stop offset="0.083" stop-color="#00d7ff"/><stop offset="0.125" stop-color="#00ffec"/><stop offset="0.167" stop-color="#00ffb4"/><stop offset="0.208" stop-color="#00ff7f"/><stop offset="0.250" stop-color="#00ff4e"/><stop offset="0.292" stop-color="#00ff20"/><stop offset="0.333" stop-color="#0bff00"/><stop offset="0.375" stop-color="#33ff00"/><stop offset="0.417" stop-color="#57ff00"/><stop offset="0.458" stop-color="#79ff00"/><stop offset="0.500" stop-color="#96ff00"/><stop offset="0.542" stop-color="#b1ff00"/><stop offset="0.583" stop-color="#c9ff00"/><stop offset="0.625" stop-color="#ddff00"/><stop offset="0.667" stop-color="#eeff00"/><stop offset="0.708" stop-color="#fcff00"/><stop offset="0.750" stop-color="#fff800"/><stop offset="0.792" stop-color="#fff000"/><stop offset="0.833" stop-color="#ffec00"/><stop offset="0.875" stop-color="#ffeb00"/><stop offset="0.917" stop-color="#ffee00"/><stop offset="0.958" stop-color="#fff300"/><stop offset="1.000" stop-color="#fffc00"/></linearGradient><linearGradient id="s32"><stop offset="0.000" stop-color="#005aff"/><stop offset="0.042" stop-color="#009bff"/><stop offset="0.083" stop-color="#00d9ff"/><stop offset="0.125" stop-color="#00ffea"/><stop offset="0.167" stop-color="#00ffb3"/><stop offset="0.208" stop-color="#00ff7f"/><stop offset="0.250" stop-color="#00ff4e"/><stop offset="0.292" stop-color="#00ff20"/><stop offset="0.333" stop-color="#0aff00"/><stop offset="0.375" stop-color="#32ff00"/><stop offset="0.417" stop-color="#56ff00"/><stop offset="0.458" stop-color="#76ff00"/><stop offset="0.500" stop-color="#94ff00"/><stop offset="0.542" stop-color="#aeff00"/><stop offset="0.583" stop-color="#c5ff00"/><stop offset="0.625" stop-color="#d9ff00"/><stop offset="0.667" stop-color="#eaff00"/><stop offset="0.708" stop-color="#f7ff00"/><stop offset="0.750" stop-color="#fffd00"/><stop offset="0.792" stop-color="#fff600"/><stop offset="0.833" stop-color="#fff200"/><stop offset="0.875" stop-color="#fff200"/><stop offset="0.917" stop-color="#fff500"/><stop offset="0.958" stop-color="#fffb00"/><stop offset="1.000" stop-color="#faff00"/></linearGradient><linearGradient id="s33"><stop offset="0.000" stop-color="#005dff"/><stop offset="0.042" stop-color="#009eff"/><stop offset="0.083" stop-color="#00dbff"/><stop offset="0.125" stop-color="#00ffe9"/><stop offset="0.167" stop-color="#00ffb2"/><stop offset="0.208" stop-color="#00ff7e"/><stop offset="0.250" stop-color="#00ff4e"/><stop offset="0.292" stop-color="#00ff20"/><stop offset="0.333" stop-color="#0aff00"/><stop offset="0.375" stop-color="#31ff00"/><stop offset="0.417" stop-color="#54ff00"/><stop offset="0.458" stop-color="#74ff00"/><stop offset="0.500" stop-color="#92ff00"/><stop offset="0.542" stop-color="#abff00"/><stop offset="0.583" stop-color="#c2ff00"/><stop offset="0.625" stop-color="#d5ff00"/><stop offset="0.667" stop-color="#e6ff00"/><stop offset="0.708" stop-color="#f2ff00"/><stop offset="0.750" stop-color="#fcff00"/><stop offset="0.792" stop-color="#fffc00"/><stop offset="0.833" stop-color="#fff800"/><stop offset="0.875" stop-color="#fff800"/><stop offset="0.917" stop-color="#fffc00"/><stop offset="0.958" stop-color="#fcff00"/><stop offset="1.000" stop-color="#f2ff00"/></linearGradient><linearGradient id="s34"><stop offset="0.000" stop-color="#0060ff"/><stop offset="0.042" stop-color="#00a0ff"/><stop offset="0.083" stop-color="#00ddff"/><stop offset="0.125" stop-color="#00ffe7"/><stop offset="0.167" stop-color="#00ffb1"/><stop offset="0.208" stop-color="#00ff7d"/><stop offset="0.250" stop-color="#00ff4d"/><stop offset="0.292" stop-color="#00ff20"/><stop offset="0.333" stop-color="#09ff00"/><stop offset="0.375" stop-color="#2fff00"/><stop offset="0.417" stop-color="#53ff00"/><stop offset="0.458" stop-color="#72ff00"/><stop offset="0.500" stop-color="#8fff00"/><stop offset="0.542" stop-color="#a9ff00"/><stop offset="0.583" stop-color="#bfff00"/><stop offset="0.625" stop-color="#d2ff00"/><stop offset="0.667" stop-color="#e1ff00"/><stop offset="0.708" stop-color="#eeff00"/><stop offset="0.750" stop-color="#f7ff00"/><stop offset="0.792" stop-color="#fdff00"/><stop offset="0.833" stop-color="#fffe00"/><stop offset="0.875" stop-color="#ffff00"/><stop offset="0.917" stop-color="#fbff00"/><stop offset="0.958" stop-color="#f4ff00"/><stop offset="1.000" stop-color="#eaff00"/></linearGradient><linearGradient id="s35"><stop offset="0.000" stop-color="#0063ff"/><stop offset="0.042" stop-color="#00a2ff"/><stop offset="0.083" stop-color="#00dfff"/><stop offset="0.125" stop-color="#00ffe6"/><stop offset="0.167" stop-color="#00ffb0"/><stop offset="0.208" stop-color="#00ff7d"/><stop offset="0.250" stop-color="#00ff4d"/><stop offset="0.292" stop-color="#00ff21"/><stop offset="0.333" stop-color="#08ff00"/><stop offset="0.375" stop-color="#2eff00"/><stop offset="0.417" stop-color="#51ff00"/><stop offset="0.458" stop-color="#70ff00"/><stop offset="0.500" stop-color="#8dff00"/><stop offset="0.542" stop-color="#a6ff00"/><stop offset="0.583" stop-color="#bbff00"/><stop offset="0.625" stop-color="#ceff00"/><stop offset="0.667" stop-color="#ddff00"/><stop offset="0.708" stop-color="#e9ff00"/><stop offset="0.750" stop-color="#f2ff00"/><stop offset="0.792" stop-color="#f7ff00"/><stop offset="0.833" stop-color="#faff00"/><stop offset="0.875" stop-color="#f9ff00"/><stop offset="0.917" stop-color="#f4ff00"/><stop offset="0.958" stop-color="#edff00"/><stop offset="1.000" stop-color="#e2ff00"/></linearGradient><linearGradient id="s36"><stop offset="0.000" stop-color="#0066ff"/><stop offset="0.042" stop-color="#00a5ff"/><stop offset="0.083" stop-color="#00e1ff"/><stop offset="0.125" stop-color="#00ffe4"/><stop offset="0.167" stop-color="#00ffae"/><stop offset="0.208" stop-color="#00ff7c"/><stop offset="0.250" stop-color="#00ff4d"/><stop offset="0.292" stop-color="#00ff21"/><stop offset="0.333" stop-color="#08ff00"/><stop offset="0.375" stop-color="#2dff00"/><stop offset="0.417" stop-color="#50ff00"/><stop offset="0.458" stop-color="#6fff00"/><stop offset="0.500" stop-color="#8aff00"/><stop offset="0.542" stop-color="#a3ff00"/><stop offset="0.583" stop-color="#b8ff00"/><stop offset="0.625" stop-color="#caff00"/><stop offset="0.667" stop-color="#d9ff00"/><stop offset="0.708" stop-color="#e4ff00"/><stop offset="0.750" stop-color="#edff00"/><stop offset="0.792" stop-color="#f2ff00"/><stop offset="0.833" stop-color="#f4ff00"/><stop offset="0.875" stop-color="#f2ff00"/><stop offset="0.917" stop-color="#eeff00"/><stop offset="0.958" stop-color="#e6ff00"/><stop offset="1.000" stop-color="#daff00"/></linearGradient><linearGradient id="s37"><stop offset="0.000" stop-color="#0069ff"/><stop offset="0.042" stop-color="#00a8ff"/><stop offset="0.083" stop-color="#00e3ff"/><stop offset="0.125" stop-color="#00ffe2"/><stop offset="0.167" stop-color="#00ffad"/><stop offset="0.208" stop-color="#00ff7b"/><stop offset="0.250" stop-color="#00ff4c"/><stop offset="0.292" stop-color="#00ff21"/><stop offset="0.333" stop-color="#07ff00"/><stop offset="0.375" stop-color="#2cff00"/><stop offset="0.417" stop-color="#4eff00"/><stop offset="0.458" stop-color="#6dff00"/><stop offset="0.500" stop-color="#88ff00"/><stop offset="0.542" stop-color="#a0ff00"/><stop offset="0.583" stop-color="#b5ff00"/><stop offset="0.625" stop-color="#c6ff00"/><stop offset="0.667" stop-color="#d5ff00"/><stop offset="0.708" stop-color="#e0ff00"/><stop offset="0.750" stop-color="#e8ff00"/><stop offset="0.792" stop-color="#ecff00"/><stop offset="0.833" stop-color="#eeff00"/><stop offset="0.875" stop-color="#ecff00"/><stop offset="0.917" stop-color="#e7ff00"/><stop offset="0.958" stop-color="#deff00"/><stop offset="1.000" stop-color="#d3ff00"/></linearGradient><linearGradient id="s38"><stop offset="0.000" stop-color="#006cff"/><stop offset="0.042" stop-color="#00aaff"/><stop offset="0.083" stop-color="#00e5ff"/><stop offset="0.125" stop-color="#00ffe1"/><stop offset="0.167" stop-color="#00ffac"/><stop offset="0.208" stop-color="#00ff7a"/><stop offset="0.250" stop-color="#00ff4c"/><stop offset="0.292" stop-color="#00ff21"/><stop offset="0.333" stop-color="#07ff00"/><stop offset="0.375" stop-color="#2bff00"/><stop offset="0.417" stop-color="#4cff00"/><stop offset="0.458" stop-color="#6bff00"/><stop offset="0.500" stop-color="#85ff00"/><stop offset="0.542" stop-color="#9dff00"/><stop offset="0.583" stop-color="#b1ff00"/><stop offset="0.625" stop-color="#c3ff00"/><stop offset="0.667" stop-color="#d0ff00"/><stop offset="0.708" stop-color="#dbff00"/><stop offset="0.750" stop-color="#e2ff00"/><stop offset="0.792" stop-color="#e7ff00"/><stop offset="0.833" stop-color="#e8ff00"/><stop offset="0.875" stop-color="#e5ff00"/><stop offset="0.917" stop-color="#e0ff00"/><stop offset="0.958" stop-color="#d7ff00"/><stop offset="1.000" stop-color="#cbff00"/></linearGradient><linearGradient id="s39"><stop offset="0.000" stop-color="#006fff"/><stop offset="0.042" stop-color="#00adff"/><stop offset="0.083" stop-color="#00e7ff"/><stop offset="0.125" stop-color="#00ffdf"/><stop offset="0.167" stop-color="#00ffab"/><stop offset="0.208" stop-color="#00ff7a"/><stop offset="0.250" stop-color="#00ff4c"/><stop offset="0.292" stop-color="#00ff21"/><stop offset="0.333" stop-color="#06ff00"/><stop offset="0.375" stop-color="#2aff00"/><stop offset="0.417" stop-color="#4bff00"/><stop offset="0.458" stop-color="#69ff00"/><stop offset="0.500" stop-color="#83ff00"/><stop offset="0.542" stop-color="#9aff00"/><stop offset="0.583" stop-color="#aeff00"/><stop offset="0.625" stop-color="#bfff00"/><stop offset="0.667" stop-color="#ccff00"/><stop offset="0.708" stop-color="#d6ff00"/><stop offset="0.750" stop-color="#ddff00"/><stop offset="0.792" stop-color="#e1ff00"/><stop offset="0.833" stop-color="#e2ff00"/><stop offset="0.875" stop-color="#dfff00"/><stop offset="0.917" stop-color="#d9ff00"/><stop offset="0.958" stop-color="#d0ff00"/><stop offset="1.000" stop-color="#c3ff00"/></linearGradient><linearGradient id="s40"><stop offset="0.000" stop-color="#0072ff"/><stop offset="0.042" stop-color="#00afff"/><stop offset="0.083" stop-color="#00e9ff"/><stop offset="0.125" stop-color="#00ffdd"/><stop offset="0.167" stop-color="#00ffaa"/><stop offset="0.208" stop-color="#00ff79"/><stop offset="0.250" stop-color="#00ff4c"/><stop offset="0.292" stop-color="#00ff21"/><stop offset="0.333" stop-color="#05ff00"/><stop offset="0.375" stop-color="#29ff00"/><stop offset="0.417" stop-color="#49ff00"/><stop offset="0.458" stop-color="#67ff00"/><stop offset="0.500" stop-color="#81ff00"/><stop offset="0.542" stop-color="#97ff00"/><stop offset="0.583" stop-color="#abff00"/><stop offset="0.625" stop-color="#bbff00"/><stop offset="0.667" stop-color="#c8ff00"/><stop offset="0.708" stop-color="#d2ff00"/><stop offset="0.750" stop-color="#d8ff00"/><stop offset="0.792" stop-color="#dcff00"/><stop offset="0.833" stop-color="#dcff00"/><stop offset="0.875" stop-color="#d8ff00"/><stop offset="0.917" stop-color="#d2ff00"/><stop offset="0.958" stop-color="#c8ff00"/><stop offset="1.000" stop-color="#bbff00"/></linearGradient><linearGradient id="s41"><stop offset="0.000" stop-color="#0075ff"/><stop offset="0.042" stop-color="#00b2ff"/><stop offset="0.083" stop-color="#00ecff"/><stop offset="0.125" stop-color="#00ffdc"/><stop offset="0.167" stop-color="#00ffa8"/><stop offset="0.208" stop-color="#00ff78"/><stop offset="0.250" stop-color="#00ff4b"/><stop offset="0.292" stop-color="#00ff22"/><stop offset="0.333" stop-color="#05ff00"/><stop offset="0.375" stop-color="#28ff00"/><stop offset="0.417" stop-color="#48ff00"/><stop offset="0.458" stop-color="#65ff00"/><stop offset="0.500" stop-color="#7eff00"/><stop offset="0.542" stop-color="#94ff00"/><stop offset="0.583" stop-color="#a8ff00"/><stop offset="0.625" stop-color="#b7ff00"/><stop offset="0.667" stop-color="#c4ff00"/><stop offset="0.708" stop-color="#cdff00"/><stop offset="0.750" stop-color="#d3ff00"/><stop offset="0.792" stop-color="#d6ff00"/><stop offset="0.833" stop-color="#d6ff00"/><stop offset="0.875" stop-color="#d2ff00"/><stop offset="0.917" stop-color="#cbff00"/><stop offset="0.958" stop-color="#c1ff00"/><stop offset="1.000" stop-color="#b4ff00"/></linearGradient><linearGradient id="s42"><stop offset="0.000" stop-color="#0078ff"/><stop offset="0.042" stop-color="#00b4ff"/><stop offset="0.083" stop-color="#00eeff"/><stop offset="0.125" stop-color="#00ffda"/><stop offset="0.167" stop-color="#00ffa7"/><stop offset="0.208" stop-color="#00ff77"/><stop offset="0.250" stop-color="#00ff4b"/><stop offset="0.292" stop-color="#00ff22"/><stop offset="0.333" stop-color="#04ff00"/><stop offset="0.375" stop-color="#27ff00"/><stop offset="0.417" stop-color="#47ff00"/><stop offset="0.458" stop-color="#63ff00"/><stop offset="0.500" stop-color="#7cff00"/><stop offset="0.542" stop-color="#92ff00"/><stop offset="0.583" stop-color="#a4ff00"/><stop offset="0.625" stop-color="#b4ff00"/><stop offset="0.667" stop-color="#c0ff00"/><stop offset="0.708" stop-color="#c9ff00"/><stop offset="0.750" stop-color="#ceff00"/><stop offset="0.792" stop-color="#d0ff00"/><stop offset="0.833" stop-color="#d0ff00"/><stop offset="0.875" stop-color="#ccff00"/><stop offset="0.917" stop-color="#c4ff00"/><stop offset="0.958" stop-color="#baff00"/><stop offset="1.000" stop-color="#acff00"/></linearGradient><linearGradient id="s43"><stop offset="0.000" stop-color="#007bff"/><stop offset="0.042" stop-color="#00b7ff"/><stop offset="0.083" stop-color="#00f0ff"/><stop offset="0.125" stop-color="#00ffd8"/><stop offset="0.167" stop-color="#00ffa6"/><stop offset="0.208" stop-color="#00ff77"/><stop offset="0.250" stop-color="#00ff4b"/><stop offset="0.292" stop-color="#00ff22"/><stop offset="0.333" stop-color="#04ff00"/><stop offset="0.375" stop-color="#26ff00"/><stop offset="0.417" stop-color="#45ff00"/><stop offset="0.458" stop-color="#61ff00"/><stop offset="0.500" stop-color="#79ff00"/><stop offset="0.542" stop-color="#8fff00"/><stop offset="0.583" stop-color="#a1ff00"/><stop offset="0.625" stop-color="#b0ff00"/><stop offset="0.667" stop-color="#bbff00"/><stop offset="0.708" stop-color="#c4ff00"/><stop offset="0.750" stop-color="#c9ff00"/><stop offset="0.792" stop-color="#cbff00"/><stop offset="0.833" stop-color="#caff00"/><stop offset="0.875" stop-color="#c5ff00"/><stop offset="0.917" stop-color="#bdff00"/><stop offset="0.958" stop-color="#b2ff00"/><stop offset="1.000" stop-color="#a4ff00"/></linearGradient><linearGradient id="s44"><stop offset="0.000" stop-color="#007eff"/><stop offset="0.042" stop-color="#00b9ff"/><stop offset="0.083" stop-color="#00f2ff"/><stop offset="0.125" stop-color="#00ffd7"/><stop offset="0.167" stop-color="#00ffa5"/><stop offset="0.208" stop-color="#00ff76"/><stop offset="0.250" stop-color="#00ff4a"/><stop offset="0.292" stop-color="#00ff22"/><stop offset="0.333" stop-color="#03ff00"/><stop offset="0.375" stop-color="#25ff00"/><stop offset="0.417" stop-color="#44ff00"/><stop offset="0.458" stop-color="#5fff00"/><stop offset="0.500" stop-color="#77ff00"/><stop offset="0.542" stop-color="#8cff00"/><stop offset="0.583" stop-color="#9eff00"/><stop offset="0.625" stop-color="#acff00"/><stop offset="0.667" stop-color="#b7ff00"/><stop offset="0.708" stop-color="#bfff00"/><stop offset="0.750" stop-color="#c4ff00"/><stop offset="0.792" stop-color="#c5ff00"/><stop offset="0.833" stop-color="#c4ff00"/><stop offset="0.875" stop-color="#bfff00"/><stop offset="0.917" stop-color="#b6ff00"/><stop offset="0.958" stop-color="#abff00"/><stop offset="1.000" stop-color="#9cff00"/></linearGradient><linearGradient id="s45"><stop offset="0.000" stop-color="#0081ff"/><stop offset="0.042" stop-color="#00bcff"/><stop offset="0.083" stop-color="#00f4ff"/><stop offset="0.125" stop-color="#00ffd5"/><stop offset="0.167" stop-color="#00ffa3"/><stop offset="0.208" stop-color="#00ff75"/><stop offset="0.250" stop-color="#00ff4a"/><stop offset="0.292" stop-color="#00ff22"/><stop offset="0.333" stop-color="#03ff00"/><stop offset="0.375" stop-color="#24ff00"/><stop offset="0.417" stop-color="#42ff00"/><stop offset="0.458" stop-color="#5dff00"/><stop offset="0.500" stop-color="#75ff00"/><stop offset="0.542" stop-color="#89ff00"/><stop offset="0.583" stop-color="#9aff00"/><stop offset="0.625" stop-color="#a8ff00"/><stop offset="0.667" stop-color="#b3ff00"/><stop offset="0.708" stop-color="#bbff00"/><stop offset="0.750" stop-color="#bfff00"/><stop offset="0.792" stop-color="#c0ff00"/><stop offset="0.833" stop-color="#beff00"/><stop offset="0.875" stop-color="#b8ff00"/><stop offset="0.917" stop-color="#b0ff00"/><stop offset="0.958" stop-color="#a4ff00"/><stop offset="1.000" stop-color="#95ff00"/></linearGradient><linearGradient id="s46"><stop offset="0.000" stop-color="#0084ff"/><stop offset="0.042" stop-color="#00bfff"/><stop offset="0.083" stop-color="#00f6ff"/><stop offset="0.125" stop-color="#00ffd3"/><stop offset="0.167" stop-color="#00ffa2"/><stop offset="0.208" stop-color="#00ff74"/><stop offset="0.250" stop-color="#00ff4a"/><stop offset="0.292" stop-color="#00ff22"/><stop offset="0.333" stop-color="#02ff00"/><stop offset="0.375" stop-color="#23ff00"/><stop offset="0.417" stop-color="#41ff00"/><stop offset="0.458" stop-color="#5bff00"/><stop offset="0.500" stop-color="#72ff00"/><stop offset="0.542" stop-color="#86ff00"/><stop offset="0.583" stop-color="#97ff00"/><stop offset="0.625" stop-color="#a5ff00"/><stop offset="0.667" stop-color="#afff00"/><stop offset="0.708" stop-color="#b6ff00"/><stop offset="0.750" stop-color="#baff00"/><stop offset="0.792" stop-color="#bbff00"/><stop offset="0.833" stop-color="#b8ff00"/><stop offset="0.875" stop-color="#b2ff00"/><stop offset="0.917" stop-color="#a9ff00"/><stop offset="0.958" stop-color="#9cff00"/><stop offset="1.000" stop-color="#8dff00"/></linearGradient><linearGradient id="s47"><stop offset="0.000" stop-color="#0087ff"/><stop offset="0.042" stop-color="#00c1ff"/><stop offset="0.083" stop-color="#00f8ff"/><stop offset="0.125" stop-color="#00ffd2"/><stop offset="0.167" stop-color="#00ffa1"/><stop offset="0.208" stop-color="#00ff73"/><stop offset="0.250" stop-color="#00ff49"/><stop offset="0.292" stop-color="#00ff22"/><stop offset="0.333" stop-color="#01ff00"/><stop offset="0.375" stop-color="#22ff00"/><stop offset="0.417" stop-color="#3fff00"/><stop offset="0.458" stop-color="#59ff00"/><stop offset="0.500" stop-color="#70ff00"/><stop offset="0.542" stop-color="#84ff00"/><stop offset="0.583" stop-color="#94ff00"/><stop offset="0.625" stop-color="#a1ff00"/><stop offset="0.667" stop-color="#abff00"/><stop offset="0.708" stop-color="#b2ff00"/><stop offset="0.750" stop-color="#b5ff00"/><stop offset="0.792" stop-color="#b5ff00"/><stop offset="0.833" stop-color="#b2ff00"/><stop offset="0.875" stop-color="#acff00"/><stop offset="0.917" stop-color="#a2ff00"/><stop offset="0.958" stop-color="#95ff00"/><stop offset="1.000" stop-color="#85ff00"/></linearGradient><linearGradient id="s48"><stop offset="0.000" stop-color="#008aff"/><stop offset="0.042" stop-color="#00c4ff"/><stop offset="0.083" stop-color="#00fbff"/><stop offset="0.125" stop-color="#00ffd0"/><stop offset="0.167" stop-color="#00ffa0"/><stop offset="0.208" stop-color="#00ff73"/><stop offset="0.250" stop-color="#00ff49"/><stop offset="0.292" stop-color="#00ff22"/><stop offset="0.333" stop-color="#01ff00"/><stop offset="0.375" stop-color="#21ff00"/><stop offset="0.417" stop-color="#3eff00"/><stop offset="0.458" stop-color="#57ff00"/><stop offset="0.500" stop-color="#6eff00"/><stop offset="0.542" stop-color="#81ff00"/><stop offset="0.583" stop-color="#91ff00"/><stop offset="0.625" stop-color="#9dff00"/><stop offset="0.667" stop-color="#a7ff00"/><stop offset="0.708" stop-color="#adff00"/><stop offset="0.750" stop-color="#b0ff00"/><stop offset="0.792" stop-color="#b0ff00"/><stop offset="0.833" stop-color="#acff00"/><stop offset="0.875" stop-color="#a5ff00"/><stop offset="0.917" stop-color="#9bff00"/><stop offset="0.958" stop-color="#8eff00"/><stop offset="1.000" stop-color="#7dff00"/></linearGradient><linearGradient id="s49"><stop offset="0.000" stop-color="#008dff"/><stop offset="0.042" stop-color="#00c6ff"/><stop offset="0.083" stop-color="#00fdff"/><stop offset="0.125" stop-color="#00ffce"/><stop offset="0.167" stop-color="#00ff9e"/><stop offset="0.208" stop-color="#00ff72"/><stop offset="0.250" stop-color="#00ff48"/><stop offset="0.292" stop-color="#00ff22"/><stop offset="0.333" stop-color="#00ff00"/><stop offset="0.375" stop-color="#20ff00"/><stop offset="0.417" stop-color="#3cff00"/><stop offset="0.458" stop-color="#56ff00"/><stop offset="0.500" stop-color="#6cff00"/><stop offset="0.542" stop-color="#7eff00"/><stop offset="0.583" stop-color="#8eff00"/><stop offset="0.625" stop-color="#9aff00"/><stop offset="0.667" stop-color="#a3ff00"/><stop offset="0.708" stop-color="#a8ff00"/><stop offset="0.750" stop-color="#abff00"/><stop offset="0.792" stop-color="#aaff00"/><stop offset="0.833" stop-color="#a6ff00"/><stop offset="0.875" stop-color="#9fff00"/><stop offset="0.917" stop-color="#94ff00"/><stop offset="0.958" stop-color="#87ff00"/><stop offset="1.000" stop-color="#76ff00"/></linearGradient><linearGradient id="s50"><stop offset="0.000" stop-color="#0090ff"/><stop offset="0.042" stop-color="#00c9ff"/><stop offset="0.083" stop-color="#00ffff"/><stop offset="0.125" stop-color="#00ffcc"/><stop offset="0.167" stop-color="#00ff9d"/><stop offset="0.208" stop-color="#00ff71"/><stop offset="0.250" stop-color="#00ff48"/><stop offset="0.292" stop-color="#00ff22"/><stop offset="0.333" stop-color="#00ff00"/><stop offset="0.375" stop-color="#1fff00"/><stop offset="0.417" stop-color="#3bff00"/><stop offset="0.458" stop-color="#54ff00"/><stop offset="0.500" stop-color="#69ff00"/><stop offset="0.542" stop-color="#7bff00"/><stop offset="0.583" stop-color="#8aff00"/><stop offset="0.625" stop-color="#96ff00"/><stop offset="0.667" stop-color="#9fff00"/><stop offset="0.708" stop-color="#a4ff00"/><stop offset="0.750" stop-color="#a6ff00"/><stop offset="0.792" stop-color="#a5ff00"/><stop offset="0.833" stop-color="#a0ff00"/><stop offset="0.875" stop-color="#99ff00"/><stop offset="0.917" stop-color="#8eff00"/><stop offset="0.958" stop-color="#7fff00"/><stop offset="1.000" stop-color="#6eff00"/></linearGradient><linearGradient id="s51"><stop offset="0.000" stop-color="#0093ff"/><stop offset="0.042" stop-color="#00ccff"/><stop offset="0.083" stop-color="#00fffd"/><stop offset="0.125" stop-color="#00ffcb"/><stop offset="0.167" stop-color="#00ff9c"/><stop offset="0.208" stop-color="#00ff70"/><stop offset="0.250" stop-color="#00ff48"/><stop offset="0.292" stop-color="#00ff22"/><stop offset="0.333" stop-color="#00ff01"/><stop offset="0.375" stop-color="#1eff00"/><stop offset="0.417" stop-color="#3aff00"/><stop offset="0.458" stop-color="#52ff00"/><stop offset="0.500" stop-color="#67ff00"/><stop offset="0.542" stop-color="#79ff00"/><stop offset="0.583" stop-color="#87ff00"/><stop offset="0.625" stop-color="#93ff00"/><stop offset="0.667" stop-color="#9bff00"/><stop offset="0.708" stop-color="#9fff00"/><stop offset="0.750" stop-color="#a1ff00"/><stop offset="0.792" stop-color="#9fff00"/><stop offset="0.833" stop-color="#9aff00"/><stop offset="0.875" stop-color="#92ff00"/><stop offset="0.917" stop-color="#87ff00"/><stop offset="0.958" stop-color="#78ff00"/><stop offset="1.000" stop-color="#66ff00"/></linearGradient><linearGradient id="s52"><stop offset="0.000" stop-color="#0096ff"/><stop offset="0.042" stop-color="#00ceff"/><stop offset="0.083" stop-color="#00fffb"/><stop offset="0.125" stop-color="#00ffc9"/><stop offset="0.167" stop-color="#00ff9a"/><stop offset="0.208" stop-color="#00ff6f"/><stop offset="0.250" stop-color="#00ff47"/><stop offset="0.292" stop-color="#00ff23"/><stop offset="0.333" stop-color="#00ff01"/><stop offset="0.375" stop-color="#1dff00"/><stop offset="0.417" stop-color="#38ff00"/><stop offset="0.458" stop-color="#50ff00"/><stop offset="0.500" stop-color="#65ff00"/><stop offset="0.542" stop-color="#76ff00"/><stop offset="0.583" stop-color="#84ff00"/><stop offset="0.625" stop-color="#8fff00"/><stop offset="0.667" stop-color="#96ff00"/><stop offset="0.708" stop-color="#9bff00"/><stop offset="0.750" stop-color="#9cff00"/><stop offset="0.792" stop-color="#9aff00"/><stop offset="0.833" stop-color="#95ff00"/><stop offset="0.875" stop-color="#8cff00"/><stop offset="0.917" stop-color="#80ff00"/><stop offset="0.958" stop-color="#71ff00"/><stop offset="1.000" stop-color="#5fff00"/></linearGradient><linearGradient id="s53"><stop offset="0.000" stop-color="#0099ff"/><stop offset="0.042" stop-color="#00d1ff"/><stop offset="0.083" stop-color="#00fff8"/><stop offset="0.125" stop-color="#00ffc7"/><stop offset="0.167" stop-color="#00ff99"/><stop offset="0.208" stop-color="#00ff6e"/><stop offset="0.250" stop-color="#00ff47"/><stop offset="0.292" stop-color="#00ff23"/><stop offset="0.333" stop-color="#00ff01"/><stop offset="0.375" stop-color="#1cff00"/><stop offset="0.417" stop-color="#37ff00"/><stop offset="0.458" stop-color="#4eff00"/><stop offset="0.500" stop-color="#62ff00"/><stop offset="0.542" stop-color="#73ff00"/><stop offset="0.583" stop-color="#81ff00"/><stop offset="0.625" stop-color="#8bff00"/><stop offset="0.667" stop-color="#92ff00"/><stop offset="0.708" stop-color="#96ff00"/><stop offset="0.750" stop-color="#97ff00"/><stop offset="0.792" stop-color="#94ff00"/><stop offset="0.833" stop-color="#8fff00"/><stop offset="0.875" stop-color="#86ff00"/><stop offset="0.917" stop-color="#79ff00"/><stop offset="0.958" stop-color="#6aff00"/><stop offset="1.000" stop-color="#57ff00"/></linearGradient><linearGradient id="s54"><stop offset="0.000" stop-color="#009cff"/><stop offset="0.042" stop-color="#00d4ff"/><stop offset="0.083" stop-color="#00fff6"/><stop offset="0.125" stop-color="#00ffc5"/><stop offset="0.167" stop-color="#00ff98"/><stop offset="0.208" stop-color="#00ff6e"/><stop offset="0.250" stop-color="#00ff46"/><stop offset="0.292" stop-color="#00ff23"/><stop offset="0.333" stop-color="#00ff02"/><stop offset="0.375" stop-color="#1bff00"/><stop offset="0.417" stop-color="#36ff00"/><stop offset="0.458" stop-color="#4cff00"/><stop offset="0.500" stop-color="#60ff00"/><stop offset="0.542" stop-color="#71ff00"/><stop offset="0.583" stop-color="#7eff00"/><stop offset="0.625" stop-color="#88ff00"/><stop offset="0.667" stop-color="#8eff00"/><stop offset="0.708" stop-color="#92ff00"/><stop offset="0.750" stop-color="#92ff00"/><stop offset="0.792" stop-color="#8fff00"/><stop offset="0.833" stop-color="#89ff00"/><stop offset="0.875" stop-color="#7fff00"/><stop offset="0.917" stop-color="#73ff00"/><stop offset="0.958" stop-color="#63ff00"/><stop offset="1.000" stop-color="#4fff00"/></linearGradient><linearGradient id="s55"><stop offset="0.000" stop-color="#00a0ff"/><stop offset="0.042" stop-color="#00d6ff"/><stop offset="0.083" stop-color="#00fff4"/><stop offset="0.125" stop-color="#00ffc4"/><stop offset="0.167" stop-color="#00ff97"/><stop offset="0.208" stop-color="#00ff6d"/><stop offset="0.250" stop-color="#00ff46"/><stop offset="0.292" stop-color="#00ff23"/><stop offset="0.333" stop-color="#00ff02"/><stop offset="0.375" stop-color="#1bff00"/><stop offset="0.417" stop-color="#34ff00"/><stop offset="0.458" stop-color="#4bff00"/><stop offset="0.500" stop-color="#5eff00"/><stop offset="0.542" stop-color="#6eff00"/><stop offset="0.583" stop-color="#7bff00"/><stop offset="0.625" stop-color="#84ff00"/><stop offset="0.667" stop-color="#8aff00"/><stop offset="0.708" stop-color="#8dff00"/><stop offset="0.750" stop-color="#8dff00"/><stop offset="0.792" stop-color="#8aff00"/><stop offset="0.833" stop-color="#83ff00"/><stop offset="0.875" stop-color="#79ff00"/><stop offset="0.917" stop-color="#6cff00"/><stop offset="0.958" stop-color="#5bff00"/><stop offset="1.000" stop-color="#48ff00"/></linearGradient><linearGradient id="s56"><stop offset="0.000" stop-color="#00a3ff"/><stop offset="0.042" stop-color="#00d9ff"/><stop offset="0.083" stop-color="#00fff2"/><stop offset="0.125" stop-color="#00ffc2"/><stop offset="0.167" stop-color="#00ff95"/><stop offset="0.208" stop-color="#00ff6c"/><stop offset="0.250" stop-color="#00ff46"/><stop offset="0.292" stop-color="#00ff23"/><stop offset="0.333" stop-color="#00ff03"/><stop offset="0.375" stop-color="#1aff00"/><stop offset="0.417" stop-color="#33ff00"/><stop offset="0.458" stop-color="#49ff00"/><stop offset="0.500" stop-color="#5cff00"/><stop offset="0.542" stop-color="#6bff00"/><stop offset="0.583" stop-color="#77ff00"/><stop offset="0.625" stop-color="#80ff00"/><stop offset="0.667" stop-color="#86ff00"/><stop offset="0.708" stop-color="#89ff00"/><stop offset="0.750" stop-color="#88ff00"/><stop offset="0.792" stop-color="#84ff00"/><stop offset="0.833" stop-color="#7dff00"/><stop offset="0.875" stop-color="#73ff00"/><stop offset="0.917" stop-color="#65ff00"/><stop offset="0.958" stop-color="#54ff00"/><stop offset="1.000" stop-color="#40ff00"/></linearGradient><linearGradient id="s57"><stop offset="0.000" stop-color="#00a6ff"/><stop offset="0.042" stop-color="#00dcff"/><stop offset="0.083" stop-color="#00ffef"/><stop offset="0.125" stop-color="#00ffc0"/><stop offset="0.167" stop-color="#00ff94"/><stop offset="0.208" stop-color="#00ff6b"/><stop offset="0.250" stop-color="#00ff45"/><stop offset="0.292" stop-color="#00ff23"/><stop offset="0.333" stop-color="#00ff03"/><stop offset="0.375" stop-color="#19ff00"/><stop offset="0.417" stop-color="#32ff00"/><stop offset="0.458" stop-color="#47ff00"/><stop offset="0.500" stop-color="#59ff00"/><stop offset="0.542" stop-color="#68ff00"/><stop offset="0.583" stop-color="#74ff00"/><stop offset="0.625" stop-color="#7dff00"/><stop offset="0.667" stop-color="#82ff00"/><stop offset="0.708" stop-color="#84ff00"/><stop offset="0.750" stop-color="#83ff00"/><stop offset="0.792" stop-color="#7fff00"/><stop offset="0.833" stop-color="#77ff00"/><stop offset="0.875" stop-color="#6cff00"/><stop offset="0.917" stop-color="#5eff00"/><stop offset="0.958" stop-color="#4dff00"/><stop offset="1.000" stop-color="#39ff00"/></linearGradient><linearGradient id="s58"><stop offset="0.000" stop-color="#00a9ff"/><stop offset="0.042" stop-color="#00dfff"/><stop offset="0.083" stop-color="#00ffed"/><stop offset="0.125" stop-color="#00ffbe"/><stop offset="0.167" stop-color="#00ff92"/><stop offset="0.208" stop-color="#00ff6a"/><stop offset="0.250" stop-color="#00ff45"/><stop offset="0.292" stop-color="#00ff23"/><stop offset="0.333" stop-color="#00ff04"/><stop offset="0.375" stop-color="#18ff00"/><stop offset="0.417" stop-color="#30ff00"/><stop offset="0.458" stop-color="#45ff00"/><stop offset="0.500" stop-color="#57ff00"/><stop offset="0.542" stop-color="#66ff00"/><stop offset="0.583" stop-color="#71ff00"/><stop offset="0.625" stop-color="#79ff00"/><stop offset="0.667" stop-color="#7eff00"/><stop offset="0.708" stop-color="#80ff00"/><stop offset="0.750" stop-color="#7eff00"/><stop offset="0.792" stop-color="#7aff00"/><stop offset="0.833" stop-color="#72ff00"/><stop offset="0.875" stop-color="#66ff00"/><stop offset="0.917" stop-color="#58ff00"/><stop offset="0.958" stop-color="#46ff00"/><stop offset="1.000" stop-color="#31ff00"/></linearGradient><linearGradient id="s59"><stop offset="0.000" stop-color="#00acff"/><stop offset="0.042" stop-color="#00e1ff"/><stop offset="0.083" stop-color="#00ffeb"/><stop offset="0.125" stop-color="#00ffbc"/><stop offset="0.167" stop-color="#00ff91"/><stop offset="0.208" stop-color="#00ff69"/><stop offset="0.250" stop-color="#00ff44"/><stop offset="0.292" stop-color="#00ff23"/><stop offset="0.333" stop-color="#00ff04"/><stop offset="0.375" stop-color="#17ff00"/><stop offset="0.417" stop-color="#2fff00"/><stop offset="0.458" stop-color="#44ff00"/><stop offset="0.500" stop-color="#55ff00"/><stop offset="0.542" stop-color="#63ff00"/><stop offset="0.583" stop-color="#6eff00"/><stop offset="0.625" stop-color="#76ff00"/><stop offset="0.667" stop-color="#7aff00"/><stop offset="0.708" stop-color="#7bff00"/><stop offset="0.750" stop-color="#79ff00"/><stop offset="0.792" stop-color="#74ff00"/><stop offset="0.833" stop-color="#6cff00"/><stop offset="0.875" stop-color="#60ff00"/><stop offset="0.917" stop-color="#51ff00"/><stop offset="0.958" stop-color="#3fff00"/><stop offset="1.000" stop-color="#29ff00"/></linearGradient><linearGradient id="s60"><stop offset="0.000" stop-color="#00afff"/><stop offset="0.042" stop-color="#00e4ff"/><stop offset="0.083" stop-color="#00ffe9"/><stop offset="0.125" stop-color="#00ffbb"/><stop offset="0.167" stop-color="#00ff90"/><stop offset="0.208" stop-color="#00ff68"/><stop offset="0.250" stop-color="#00ff44"/><stop offset="0.292" stop-color="#00ff22"/><stop offset="0.333" stop-color="#00ff05"/><stop offset="0.375" stop-color="#16ff00"/><stop offset="0.417" stop-color="#2eff00"/><stop offset="0.458" stop-color="#42ff00"/><stop offset="0.500" stop-color="#53ff00"/><stop offset="0.542" stop-color="#60ff00"/><stop offset="0.583" stop-color="#6bff00"/><stop offset="0.625" stop-color="#72ff00"/><stop offset="0.667" stop-color="#76ff00"/><stop offset="0.708" stop-color="#77ff00"/><stop offset="0.750" stop-color="#75ff00"/><stop offset="0.792" stop-color="#6fff00"/><stop offset="0.833" stop-color="#66ff00"/><stop offset="0.875" stop-color="#5aff00"/><stop offset="0.917" stop-color="#4aff00"/><stop offset="0.958" stop-color="#38ff00"/><stop offset="1.000" stop-color="#22ff00"/></linearGradient><linearGradient id="s61"><stop offset="0.000" stop-color="#00b3ff"/><stop offset="0.042" stop-color="#00e7ff"/><stop offset="0.083" stop-color="#00ffe6"/><stop offset="0.125" stop-color="#00ffb9"/><stop offset="0.167" stop-color="#00ff8e"/><stop offset="0.208" stop-color="#00ff67"/><stop offset="0.250" stop-color="#00ff43"/><stop offset="0.292" stop-color="#00ff22"/><stop offset="0.333" stop-color="#00ff05"/><stop offset="0.375" stop-color="#15ff00"/><stop offset="0.417" stop-color="#2cff00"/><stop offset="0.458" stop-color="#40ff00"/><stop offset="0.500" stop-color="#51ff00"/><stop offset="0.542" stop-color="#5eff00"/><stop offset="0.583" stop-color="#68ff00"/><stop offset="0.625" stop-color="#6fff00"/><stop offset="0.667" stop-color="#72ff00"/><stop offset="0.708" stop-color="#73ff00"/><stop offset="0.750" stop-color="#70ff00"/><stop offset="0.792" stop-color="#6aff00"/><stop offset="0.833" stop-color="#60ff00"/><stop offset="0.875" stop-color="#53ff00"/><stop offset="0.917" stop-color="#44ff00"/><stop offset="0.958" stop-color="#31ff00"/><stop offset="1.000" stop-color="#1aff00"/></linearGradient><linearGradient id="s62"><stop offset="0.000" stop-color="#00b6ff"/><stop offset="0.042" stop-color="#00e9ff"/><stop offset="0.083" stop-color="#00ffe4"/><stop offset="0.125" stop-color="#00ffb7"/><stop offset="0.167" stop-color="#00ff8d"/><stop offset="0.208" stop-color="#00ff66"/><stop offset="0.250" stop-color="#00ff43"/><stop offset="0.292" stop-color="#00ff22"/><stop offset="0.333" stop-color="#00ff05"/><stop offset="0.375" stop-color="#14ff00"/><stop offset="0.417" stop-color="#2bff00"/><stop offset="0.458" stop-color="#3eff00"/><stop offset="0.500" stop-color="#4eff00"/><stop offset="0.542" stop-color="#5bff00"/><stop offset="0.583" stop-color="#65ff00"/><stop offset="0.625" stop-color="#6bff00"/><stop offset="0.667" stop-color="#6eff00"/><stop offset="0.708" stop-color="#6eff00"/><stop offset="0.750" stop-color="#6bff00"/><stop offset="0.792" stop-color="#64ff00"/><stop offset="0.833" stop-color="#5aff00"/><stop offset="0.875" stop-color="#4dff00"/><stop offset="0.917" stop-color="#3dff00"/><stop offset="0.958" stop-color="#29ff00"/><stop offset="1.000" stop-color="#13ff00"/></linearGradient><linearGradient id="s63"><stop offset="0.000" stop-color="#00b9ff"/><stop offset="0.042" stop-color="#00ecff"/><stop offset="0.083" stop-color="#00ffe2"/><stop offset="0.125" stop-color="#00ffb5"/><stop offset="0.167" stop-color="#00ff8b"/><stop offset="0.208" stop-color="#00ff65"/><stop offset="0.250" stop-color="#00ff42"/><stop offset="0.292" stop-color="#00ff22"/><stop offset="0.333" stop-color="#00ff06"/><stop offset="0.375" stop-color="#14ff00"/><stop offset="0.417" stop-color="#2aff00"/><stop offset="0.458" stop-color="#3dff00"/><stop offset="0.500" stop-color="#4cff00"/><stop offset="0.542" stop-color="#59ff00"/><stop offset="0.583" stop-color="#62ff00"/><stop offset="0.625" stop-color="#68ff00"/><stop offset="0.667" stop-color="#6aff00"/><stop offset="0.708" stop-color="#6aff00"/><stop offset="0.750" stop-color="#66ff00"/><stop offset="0.792" stop-color="#5fff00"/><stop offset="0.833" stop-color="#55ff00"/><stop offset="0.875" stop-color="#47ff00"/><stop offset="0.917" stop-color="#36ff00"/><stop offset="0.958" stop-color="#22ff00"/><stop offset="1.000" stop-color="#0bff00"/></linearGradient><linearGradient id="s64"><stop offset="0.000" stop-color="#00bcff"/><stop offset="0.042" stop-color="#00efff"/><stop offset="0.083" stop-color="#00ffdf"/><stop offset="0.125" stop-color="#00ffb3"/><stop offset="0.167" stop-color="#00ff8a"/><stop offset="0.208" stop-color="#00ff64"/><stop offset="0.250" stop-color="#00ff42"/><stop offset="0.292" stop-color="#00ff22"/><stop offset="0.333" stop-color="#00ff06"/><stop offset="0.375" stop-color="#13ff00"/><stop offset="0.417" stop-color="#28ff00"/><stop offset="0.458" stop-color="#3bff00"/><stop offset="0.500" stop-color="#4aff00"/><stop offset="0.542" stop-color="#56ff00"/><stop offset="0.583" stop-color="#5fff00"/><stop offset="0.625" stop-color="#64ff00"/><stop offset="0.667" stop-color="#66ff00"/><stop offset="0.708" stop-color="#65ff00"/><stop offset="0.750" stop-color="#61ff00"/><stop offset="0.792" stop-color="#5aff00"/><stop offset="0.833" stop-color="#4fff00"/><stop offset="0.875" stop-color="#41ff00"/><stop offset="0.917" stop-color="#30ff00"/><stop offset="0.958" stop-color="#1bff00"/><stop offset="1.000" stop-color="#03ff00"/></linearGradient><linearGradient id="s65"><stop offset="0.000" stop-color="#00bfff"/><stop offset="0.042" stop-color="#00f2ff"/><stop offset="0.083" stop-color="#00ffdd"/><stop offset="0.125" stop-color="#00ffb1"/><stop offset="0.167" stop-color="#00ff89"/><stop offset="0.208" stop-color="#00ff63"/><stop offset="0.250" stop-color="#00ff41"/><stop offset="0.292" stop-color="#00ff22"/><stop offset="0.333" stop-color="#00ff06"/><stop offset="0.375" stop-color="#12ff00"/><stop offset="0.417" stop-color="#27ff00"/><stop offset="0.458" stop-color="#39ff00"/><stop offset="0.500" stop-color="#48ff00"/><stop offset="0.542" stop-color="#53ff00"/><stop offset="0.583" stop-color="#5cff00"/><stop offset="0.625" stop-color="#61ff00"/><stop offset="0.667" stop-color="#62ff00"/><stop offset="0.708" stop-color="#61ff00"/><stop offset="0.750" stop-color="#5cff00"/><stop offset="0.792" stop-color="#54ff00"/><stop offset="0.833" stop-color="#49ff00"/><stop offset="0.875" stop-color="#3bff00"/><stop offset="0.917" stop-color="#29ff00"/><stop offset="0.958" stop-color="#14ff00"/><stop offset="1.000" stop-color="#00ff04"/></linearGradient><linearGradient id="s66"><stop offset="0.000" stop-color="#00c3ff"/><stop offset="0.042" stop-color="#00f5ff"/><stop offset="0.083" stop-color="#00ffdb"/><stop offset="0.125" stop-color="#00ffaf"/><stop offset="0.167" stop-color="#00ff87"/><stop offset="0.208" stop-color="#00ff62"/><stop offset="0.250" stop-color="#00ff40"/><stop offset="0.292" stop-color="#00ff22"/><stop offset="0.333" stop-color="#00ff07"/><stop offset="0.375" stop-color="#11ff00"/><stop offset="0.417" stop-color="#26ff00"/><stop offset="0.458" stop-color="#37ff00"/><stop offset="0.500" stop-color="#46ff00"/><stop offset="0.542" stop-color="#51ff00"/><stop offset="0.583" stop-color="#59ff00"/><stop offset="0.625" stop-color="#5dff00"/><stop offset="0.667" stop-color="#5eff00"/><stop offset="0.708" stop-color="#5dff00"/><stop offset="0.750" stop-color="#57ff00"/><stop offset="0.792" stop-color="#4fff00"/><stop offset="0.833" stop-color="#43ff00"/><stop offset="0.875" stop-color="#34ff00"/><stop offset="0.917" stop-color="#22ff00"/><stop offset="0.958" stop-color="#0dff00"/><stop offset="1.000" stop-color="#00ff0c"/></linearGradient><linearGradient id="s67"><stop offset="0.000" stop-color="#00c6ff"/><stop offset="0.042" stop-color="#00f7ff"/><stop offset="0.083" stop-color="#00ffd8"/><stop offset="0.125" stop-color="#00ffad"/><stop offset="0.167" stop-color="#00ff86"/><stop offset="0.208" stop-color="#00ff61"/><stop offset="0.250" stop-color="#00ff40"/><stop offset="0.292" stop-color="#00ff22"/><stop offset="0.333" stop-color="#00ff07"/><stop offset="0.375" stop-color="#10ff00"/><stop offset="0.417" stop-color="#25ff00"/><stop offset="0.458" stop-color="#36ff00"/><stop offset="0.500" stop-color="#44ff00"/><stop offset="0.542" stop-color="#4eff00"/><stop offset="0.583" stop-color="#56ff00"/><stop offset="0.625" stop-color="#5aff00"/><stop offset="0.667" stop-color="#5bff00"/><stop offset="0.708" stop-color="#58ff00"/><stop offset="0.750" stop-color="#53ff00"/><stop offset="0.792" stop-color="#4aff00"/><stop offset="0.833" stop-color="#3eff00"/><stop offset="0.875" stop-color="#2eff00"/><stop offset="0.917" stop-color="#1cff00"/><stop offset="0.958" stop-color="#06ff00"/><stop offset="1.000" stop-color="#00ff13"/></linearGradient><linearGradient id="s68"><stop offset="0.000" stop-color="#00c9ff"/><stop offset="0.042" stop-color="#00faff"/><stop offset="0.083" stop-color="#00ffd6"/><stop offset="0.125" stop-color="#00ffab"/><stop offset="0.167" stop-color="#00ff84"/><stop offset="0.208" stop-color="#00ff60"/><stop offset="0.250" stop-color="#00ff3f"/><stop offset="0.292" stop-color="#00ff22"/><stop offset="0.333" stop-color="#00ff07"/><stop offset="0.375" stop-color="#10ff00"/><stop offset="0.417" stop-color="#23ff00"/><stop offset="0.458" stop-color="#34ff00"/><stop offset="0.500" stop-color="#41ff00"/><stop offset="0.542" stop-color="#4cff00"/><stop offset="0.583" stop-color="#53ff00"/><stop offset="0.625" stop-color="#56ff00"/><stop offset="0.667" stop-color="#57ff00"/><stop offset="0.708" stop-color="#54ff00"/><stop offset="0.750" stop-color="#4eff00"/><stop offset="0.792" stop-color="#44ff00"/><stop offset="0.833" stop-color="#38ff00"/><stop offset="0.875" stop-color="#28ff00"/><stop offset="0.917" stop-color="#15ff00"/><stop offset="0.958" stop-color="#00ff01"/><stop offset="1.000" stop-color="#00ff1b"/></linearGradient><linearGradient id="s69"><stop offset="0.000" stop-color="#00ccff"/><stop offset="0.042" stop-color="#00fdff"/><stop offset="0.083" stop-color="#00ffd4"/><stop offset="0.125" stop-color="#00ffaa"/><stop offset="0.167" stop-color="#00ff83"/><stop offset="0.208" stop-color="#00ff5f"/><stop offset="0.250" stop-color="#00ff3f"/><stop offset="0.292" stop-color="#00ff22"/><stop offset="0.333" stop-color="#00ff08"/><stop offset="0.375" stop-color="#0fff00"/><stop offset="0.417" stop-color="#22ff00"/><stop offset="0.458" stop-color="#32ff00"/><stop offset="0.500" stop-color="#3fff00"/><stop offset="0.542" stop-color="#49ff00"/><stop offset="0.583" stop-color="#50ff00"/><stop offset="0.625" stop-color="#53ff00"/><stop offset="0.667" stop-color="#53ff00"/><stop offset="0.708" stop-color="#4fff00"/><stop offset="0.750" stop-color="#49ff00"/><stop offset="0.792" stop-color="#3fff00"/><stop offset="0.833" stop-color="#32ff00"/><stop offset="0.875" stop-color="#22ff00"/><stop offset="0.917" stop-color="#0fff00"/><stop offset="0.958" stop-color="#00ff08"/><stop offset="1.000" stop-color="#00ff22"/></linearGradient><linearGradient id="s70"><stop offset="0.000" stop-color="#00d0ff"/><stop offset="0.042" stop-color="#00fffe"/><stop offset="0.083" stop-color="#00ffd1"/><stop offset="0.125" stop-color="#00ffa8"/><stop offset="0.167" stop-color="#00ff81"/><stop offset="0.208" stop-color="#00ff5e"/><stop offset="0.250" stop-color="#00ff3e"/><stop offset="0.292" stop-color="#00ff22"/><stop offset="0.333" stop-color="#00ff08"/><stop offset="0.375" stop-color="#0eff00"/><stop offset="0.417" stop-color="#21ff00"/><stop offset="0.458" stop-color="#31ff00"/><stop offset="0.500" stop-color="#3dff00"/><stop offset="0.542" stop-color="#47ff00"/><stop offset="0.583" stop-color="#4dff00"/><stop offset="0.625" stop-color="#4fff00"/><stop offset="0.667" stop-color="#4fff00"/><stop offset="0.708" stop-color="#4bff00"/><stop offset="0.750" stop-color="#44ff00"/><stop offset="0.792" stop-color="#3aff00"/><stop offset="0.833" stop-color="#2dff00"/><stop offset="0.875" stop-color="#1cff00"/><stop offset="0.917" stop-color="#08ff00"/><stop offset="0.958" stop-color="#00ff0f"/><stop offset="1.000" stop-color="#00ff2a"/></linearGradient><linearGradient id="s71"><stop offset="0.000" stop-color="#00d3ff"/><stop offset="0.042" stop-color="#00fffb"/><stop offset="0.083" stop-color="#00ffcf"/><stop offset="0.125" stop-color="#00ffa6"/><stop offset="0.167" stop-color="#00ff80"/><stop offset="0.208" stop-color="#00ff5d"/><stop offset="0.250" stop-color="#00ff3e"/><stop offset="0.292" stop-color="#00ff21"/><stop offset="0.333" stop-color="#00ff08"/><stop offset="0.375" stop-color="#0dff00"/><stop offset="0.417" stop-color="#20ff00"/><stop offset="0.458" stop-color="#2fff00"/><stop offset="0.500" stop-color="#3bff00"/><stop offset="0.542" stop-color="#44ff00"/><stop offset="0.583" stop-color="#4aff00"/><stop offset="0.625" stop-color="#4cff00"/><stop offset="0.667" stop-color="#4bff00"/><stop offset="0.708" stop-color="#47ff00"/><stop offset="0.750" stop-color="#3fff00"/><stop offset="0.792" stop-color="#35ff00"/><stop offset="0.833" stop-color="#27ff00"/><stop offset="0.875" stop-color="#16ff00"/><stop offset="0.917" stop-color="#01ff00"/><stop offset="0.958" stop-color="#00ff16"/><stop offset="1.000" stop-color="#00ff31"/></linearGradient><linearGradient id="s72"><stop offset="0.000" stop-color="#00d6ff"/><stop offset="0.042" stop-color="#00fff8"/><stop offset="0.083" stop-color="#00ffcc"/><stop offset="0.125" stop-color="#00ffa4"/><stop offset="0.167" stop-color="#00ff7e"/><stop offset="0.208" stop-color="#00ff5c"/><stop offset="0.250" stop-color="#00ff3d"/><stop offset="0.292" stop-color="#00ff21"/><stop offset="0.333" stop-color="#00ff09"/><stop offset="0.375" stop-color="#0dff00"/><stop offset="0.417" stop-color="#1fff00"/><stop offset="0.458" stop-color="#2dff00"/><stop offset="0.500" stop-color="#39ff00"/><stop offset="0.542" stop-color="#41ff00"/><stop offset="0.583" stop-color="#47ff00"/><stop offset="0.625" stop-color="#48ff00"/><stop offset="0.667" stop-color="#47ff00"/><stop offset="0.708" stop-color="#42ff00"/><stop offset="0.750" stop-color="#3bff00"/><stop offset="0.792" stop-color="#2fff00"/><stop offset="0.833" stop-color="#21ff00"/><stop offset="0.875" stop-color="#10ff00"/><stop offset="0.917" stop-color="#00ff05"/><stop offset="0.958" stop-color="#00ff1d"/><stop offset="1.000" stop-color="#00ff39"/></linearGradient><linearGradient id="s73"><stop offset="0.000" stop-color="#00daff"/><stop offset="0.042" stop-color="#00fff6"/><stop offset="0.083" stop-color="#00ffca"/><stop offset="0.125" stop-color="#00ffa2"/><stop offset="0.167" stop-color="#00ff7d"/><stop offset="0.208" stop-color="#00ff5b"/><stop offset="0.250" stop-color="#00ff3c"/><stop offset="0.292" stop-color="#00ff21"/><stop offset="0.333" stop-color="#00ff09"/><stop offset="0.375" stop-color="#0cff00"/><stop offset="0.417" stop-color="#1dff00"/><stop offset="0.458" stop-color="#2cff00"/><stop offset="0.500" stop-color="#37ff00"/><stop offset="0.542" stop-color="#3fff00"/><stop offset="0.583" stop-color="#44ff00"/><stop offset="0.625" stop-color="#45ff00"/><stop offset="0.667" stop-color="#43ff00"/><stop offset="0.708" stop-color="#3eff00"/><stop offset="0.750" stop-color="#36ff00"/><stop offset="0.792" stop-color="#2aff00"/><stop offset="0.833" stop-color="#1bff00"/><stop offset="0.875" stop-color="#09ff00"/><stop offset="0.917" stop-color="#00ff0c"/><stop offset="0.958" stop-color="#00ff24"/><stop offset="1.000" stop-color="#00ff40"/></linearGradient><linearGradient id="s74"><stop offset="0.000" stop-color="#00ddff"/><stop offset="0.042" stop-color="#00fff3"/><stop offset="0.083" stop-color="#00ffc8"/><stop offset="0.125" stop-color="#00ffa0"/><stop offset="0.167" stop-color="#00ff7b"/><stop offset="0.208" stop-color="#00ff5a"/><stop offset="0.250" stop-color="#00ff3c"/><stop offset="0.292" stop-color="#00ff21"/><stop offset="0.333" stop-color="#00ff09"/><stop offset="0.375" stop-color="#0bff00"/><stop offset="0.417" stop-color="#1cff00"/><stop offset="0.458" stop-color="#2aff00"/><stop offset="0.500" stop-color="#35ff00"/><stop offset="0.542" stop-color="#3cff00"/><stop offset="0.583" stop-color="#41ff00"/><stop offset="0.625" stop-color="#42ff00"/><stop offset="0.667" stop-color="#3fff00"/><stop offset="0.708" stop-color="#3aff00"/><stop offset="0.750" stop-color="#31ff00"/><stop offset="0.792" stop-color="#25ff00"/><stop offset="0.833" stop-color="#16ff00"/><stop offset="0.875" stop-color="#03ff00"/><stop offset="0.917" stop-color="#00ff12"/><stop offset="0.958" stop-color="#00ff2b"/><stop offset="1.000" stop-color="#00ff47"/></linearGradient><linearGradient id="s75"><stop offset="0.000" stop-color="#00e0ff"/><stop offset="0.042" stop-color="#00fff0"/><stop offset="0.083" stop-color="#00ffc5"/><stop offset="0.125" stop-color="#00ff9e"/><stop offset="0.167" stop-color="#00ff7a"/><stop offset="0.208" stop-color="#00ff59"/><stop offset="0.250" stop-color="#00ff3b"/><stop offset="0.292" stop-color="#00ff21"/><stop offset="0.333" stop-color="#00ff0a"/><stop offset="0.375" stop-color="#0aff00"/><stop offset="0.417" stop-color="#1bff00"/><stop offset="0.458" stop-color="#29ff00"/><stop offset="0.500" stop-color="#33ff00"/><stop offset="0.542" stop-color="#3aff00"/><stop offset="0.583" stop-color="#3eff00"/><stop offset="0.625" stop-color="#3eff00"/><stop offset="0.667" stop-color="#3bff00"/><stop offset="0.708" stop-color="#35ff00"/><stop offset="0.750" stop-color="#2cff00"/><stop offset="0.792" stop-color="#20ff00"/><stop offset="0.833" stop-color="#10ff00"/><stop offset="0.875" stop-color="#00ff03"/><stop offset="0.917" stop-color="#00ff19"/><stop offset="0.958" stop-color="#00ff32"/><stop offset="1.000" stop-color="#00ff4f"/></linearGradient><linearGradient id="s76"><stop offset="0.000" stop-color="#00e4ff"/><stop offset="0.042" stop-color="#00ffed"/><stop offset="0.083" stop-color="#00ffc3"/><stop offset="0.125" stop-color="#00ff9c"/><stop offset="0.167" stop-color="#00ff78"/><stop offset="0.208" stop-color="#00ff58"/><stop offset="0.250" stop-color="#00ff3a"/><stop offset="0.292" stop-color="#00ff20"/><stop offset="0.333" stop-color="#00ff0a"/><stop offset="0.375" stop-color="#0aff00"/><stop offset="0.417" stop-color="#1aff00"/><stop offset="0.458" stop-color="#27ff00"/><stop offset="0.500" stop-color="#31ff00"/><stop offset="0.542" stop-color="#37ff00"/><stop offset="0.583" stop-color="#3bff00"/><stop offset="0.625" stop-color="#3bff00"/><stop offset="0.667" stop-color="#38ff00"/><stop offset="0.708" stop-color="#31ff00"/><stop offset="0.750" stop-color="#28ff00"/><stop offset="0.792" stop-color="#1bff00"/><stop offset="0.833" stop-color="#0bff00"/><stop offset="0.875" stop-color="#00ff09"/><stop offset="0.917" stop-color="#00ff1f"/><stop offset="0.958" stop-color="#00ff39"/><stop offset="1.000" stop-color="#00ff56"/></linearGradient><linearGradient id="s77"><stop offset="0.000" stop-color="#00e7ff"/><stop offset="0.042" stop-color="#00ffea"/><stop offset="0.083" stop-color="#00ffc0"/><stop offset="0.125" stop-color="#00ff9a"/><stop offset="0.167" stop-color="#00ff77"/><stop offset="0.208" stop-color="#00ff57"/><stop offset="0.250" stop-color="#00ff3a"/><stop offset="0.292" stop-color="#00ff20"/><stop offset="0.333" stop-color="#00ff0a"/><stop offset="0.375" stop-color="#09ff00"/><stop offset="0.417" stop-color="#19ff00"/><stop offset="0.458" stop-color="#25ff00"/><stop offset="0.500" stop-color="#2fff00"/><stop offset="0.542" stop-color="#35ff00"/><stop offset="0.583" stop-color="#38ff00"/><stop offset="0.625" stop-color="#37ff00"/><stop offset="0.667" stop-color="#34ff00"/><stop offset="0.708" stop-color="#2dff00"/><stop offset="0.750" stop-color="#23ff00"/><stop offset="0.792" stop-color="#15ff00"/><stop offset="0.833" stop-color="#05ff00"/><stop offset="0.875" stop-color="#00ff0f"/><stop offset="0.917" stop-color="#00ff26"/><stop offset="0.958" stop-color="#00ff40"/><stop offset="1.000" stop-color="#00ff5e"/></linearGradient><linearGradient id="s78"><stop offset="0.000" stop-color="#00eaff"/><stop offset="0.042" stop-color="#00ffe7"/><stop offset="0.083" stop-color="#00ffbe"/><stop offset="0.125" stop-color="#00ff98"/><stop offset="0.167" stop-color="#00ff75"/><stop offset="0.208" stop-color="#00ff55"/><stop offset="0.250" stop-color="#00ff39"/><stop offset="0.292" stop-color="#00ff20"/><stop offset="0.333" stop-color="#00ff0a"/><stop offset="0.375" stop-color="#08ff00"/><stop offset="0.417" stop-color="#18ff00"/><stop offset="0.458" stop-color="#24ff00"/><stop offset="0.500" stop-color="#2dff00"/><stop offset="0.542" stop-color="#32ff00"/><stop offset="0.583" stop-color="#35ff00"/><stop offset="0.625" stop-color="#34ff00"/><stop offset="0.667" stop-color="#30ff00"/><stop offset="0.708" stop-color="#29ff00"/><stop offset="0.750" stop-color="#1eff00"/><stop offset="0.792" stop-color="#10ff00"/><stop offset="0.833" stop-color="#00ff01"/><stop offset="0.875" stop-color="#00ff15"/><stop offset="0.917" stop-color="#00ff2c"/><stop offset="0.958" stop-color="#00ff47"/><stop offset="1.000" stop-color="#00ff65"/></linearGradient><linearGradient id="s79"><stop offset="0.000" stop-color="#00eeff"/><stop offset="0.042" stop-color="#00ffe4"/><stop offset="0.083" stop-color="#00ffbb"/><stop offset="0.125" stop-color="#00ff96"/><stop offset="0.167" stop-color="#00ff73"/><stop offset="0.208" stop-color="#00ff54"/><stop offset="0.250" stop-color="#00ff38"/><stop offset="0.292" stop-color="#00ff20"/><stop offset="0.333" stop-color="#00ff0a"/><stop offset="0.375" stop-color="#08ff00"/><stop offset="0.417" stop-color="#17ff00"/><stop offset="0.458" stop-color="#22ff00"/><stop offset="0.500" stop-color="#2bff00"/><stop offset="0.542" stop-color="#30ff00"/><stop offset="0.583" stop-color="#32ff00"/><stop offset="0.625" stop-color="#31ff00"/><stop offset="0.667" stop-color="#2cff00"/><stop offset="0.708" stop-color="#24ff00"/><stop offset="0.750" stop-color="#19ff00"/><stop offset="0.792" stop-color="#0bff00"/><stop offset="0.833" stop-color="#00ff06"/><stop offset="0.875" stop-color="#00ff1b"/><stop offset="0.917" stop-color="#00ff33"/><stop offset="0.958" stop-color="#00ff4e"/><stop offset="1.000" stop-color="#00ff6d"/></linearGradient><linearGradient id="s80"><stop offset="0.000" stop-color="#00f1ff"/><stop offset="0.042" stop-color="#00ffe1"/><stop offset="0.083" stop-color="#00ffb9"/><stop offset="0.125" stop-color="#00ff94"/><stop offset="0.167" stop-color="#00ff72"/><stop offset="0.208" stop-color="#00ff53"/><stop offset="0.250" stop-color="#00ff38"/><stop offset="0.292" stop-color="#00ff20"/><stop offset="0.333" stop-color="#00ff0b"/><stop offset="0.375" stop-color="#07ff00"/><stop offset="0.417" stop-color="#15ff00"/><stop offset="0.458" stop-color="#21ff00"/><stop offset="0.500" stop-color="#29ff00"/><stop offset="0.542" stop-color="#2dff00"/><stop offset="0.583" stop-color="#2fff00"/><stop offset="0.625" stop-color="#2dff00"/><stop offset="0.667" stop-color="#28ff00"/><stop offset="0.708" stop-color="#20ff00"/><stop offset="0.750" stop-color="#15ff00"/><stop offset="0.792" stop-color="#06ff00"/><stop offset="0.833" stop-color="#00ff0c"/><stop offset="0.875" stop-color="#00ff21"/><stop offset="0.917" stop-color="#00ff39"/><stop offset="0.958" stop-color="#00ff55"/><stop offset="1.000" stop-color="#00ff74"/></linearGradient><linearGradient id="s81"><stop offset="0.000" stop-color="#00f4ff"/><stop offset="0.042" stop-color="#00ffde"/><stop offset="0.083" stop-color="#00ffb6"/><stop offset="0.125" stop-color="#00ff92"/><stop offset="0.167" stop-color="#00ff70"/><stop offset="0.208" stop-color="#00ff52"/><stop offset="0.250" stop-color="#00ff37"/><stop offset="0.292" stop-color="#00ff1f"/><stop offset="0.333" stop-color="#00ff0b"/><stop offset="0.375" stop-color="#06ff00"/><stop offset="0.417" stop-color="#14ff00"/><stop offset="0.458" stop-color="#1fff00"/><stop offset="0.500" stop-color="#27ff00"/><stop offset="0.542" stop-color="#2bff00"/><stop offset="0.583" stop-color="#2cff00"/><stop offset="0.625" stop-color="#2aff00"/><stop offset="0.667" stop-color="#25ff00"/><stop offset="0.708" stop-color="#1cff00"/><stop offset="0.750" stop-color="#10ff00"/><stop offset="0.792" stop-color="#01ff00"/><stop offset="0.833" stop-color="#00ff12"/><stop offset="0.875" stop-color="#00ff27"/><stop offset="0.917" stop-color="#00ff40"/><stop offset="0.958" stop-color="#00ff5c"/><stop offset="1.000" stop-color="#00ff7b"/></linearGradient><linearGradient id="s82"><stop offset="0.000" stop-color="#00f8ff"/><stop offset="0.042" stop-color="#00ffdb"/><stop offset="0.083" stop-color="#00ffb4"/><stop offset="0.125" stop-color="#00ff90"/><stop offset="0.167" stop-color="#00ff6f"/><stop offset="0.208" stop-color="#00ff51"/><stop offset="0.250" stop-color="#00ff36"/><stop offset="0.292" stop-color="#00ff1f"/><stop offset="0.333" stop-color="#00ff0b"/><stop offset="0.375" stop-color="#06ff00"/><stop offset="0.417" stop-color="#13ff00"/><stop offset="0.458" stop-color="#1eff00"/><stop offset="0.500" stop-color="#25ff00"/><stop offset="0.542" stop-color="#29ff00"/><stop offset="0.583" stop-color="#29ff00"/><stop offset="0.625" stop-color="#27ff00"/><stop offset="0.667" stop-color="#21ff00"/><stop offset="0.708" stop-color="#18ff00"/><stop offset="0.750" stop-color="#0bff00"/><stop offset="0.792" stop-color="#00ff04"/><stop offset="0.833" stop-color="#00ff17"/><stop offset="0.875" stop-color="#00ff2d"/><stop offset="0.917" stop-color="#00ff46"/><stop offset="0.958" stop-color="#00ff63"/><stop offset="1.000" stop-color="#00ff83"/></linearGradient><linearGradient id="s83"><stop offset="0.000" stop-color="#00fbff"/><stop offset="0.042" stop-color="#00ffd8"/><stop offset="0.083" stop-color="#00ffb1"/><stop offset="0.125" stop-color="#00ff8e"/><stop offset="0.167" stop-color="#00ff6d"/><stop offset="0.208" stop-color="#00ff50"/><stop offset="0.250" stop-color="#00ff36"/><stop offset="0.292" stop-color="#00ff1f"/><stop offset="0.333" stop-color="#00ff0b"/><stop offset="0.375" stop-color="#05ff00"/><stop offset="0.417" stop-color="#12ff00"/><stop offset="0.458" stop-color="#1cff00"/><stop offset="0.500" stop-color="#23ff00"/><stop offset="0.542" stop-color="#26ff00"/><stop offset="0.583" stop-color="#26ff00"/><stop offset="0.625" stop-color="#23ff00"/><stop offset="0.667" stop-color="#1dff00"/><stop offset="0.708" stop-color="#13ff00"/><stop offset="0.750" stop-color="#07ff00"/><stop offset="0.792" stop-color="#00ff09"/><stop offset="0.833" stop-color="#00ff1d"/><stop offset="0.875" stop-color="#00ff33"/><stop offset="0.917" stop-color="#00ff4d"/><stop offset="0.958" stop-color="#00ff6a"/><stop offset="1.000" stop-color="#00ff8a"/></linearGradient><linearGradient id="s84"><stop offset="0.000" stop-color="#00ffff"/><stop offset="0.042" stop-color="#00ffd6"/><stop offset="0.083" stop-color="#00ffaf"/><stop offset="0.125" stop-color="#00ff8c"/><stop offset="0.167" stop-color="#00ff6b"/><stop offset="0.208" stop-color="#00ff4f"/><stop offset="0.250" stop-color="#00ff35"/><stop offset="0.292" stop-color="#00ff1f"/><stop offset="0.333" stop-color="#00ff0b"/><stop offset="0.375" stop-color="#04ff00"/><stop offset="0.417" stop-color="#11ff00"/><stop offset="0.458" stop-color="#1bff00"/><stop offset="0.500" stop-color="#21ff00"/><stop offset="0.542" stop-color="#24ff00"/><stop offset="0.583" stop-color="#23ff00"/><stop offset="0.625" stop-color="#20ff00"/><stop offset="0.667" stop-color="#19ff00"/><stop offset="0.708" stop-color="#0fff00"/><stop offset="0.750" stop-color="#02ff00"/><stop offset="0.792" stop-color="#00ff0f"/><stop offset="0.833" stop-color="#00ff22"/><stop offset="0.875" stop-color="#00ff39"/><stop offset="0.917" stop-color="#00ff53"/><stop offset="0.958" stop-color="#00ff71"/><stop offset="1.000" stop-color="#00ff91"/></linearGradient><linearGradient id="s85"><stop offset="0.000" stop-color="#00fffc"/><stop offset="0.042" stop-color="#00ffd3"/><stop offset="0.083" stop-color="#00ffac"/><stop offset="0.125" stop-color="#00ff8a"/><stop offset="0.167" stop-color="#00ff6a"/><stop offset="0.208" stop-color="#00ff4d"/><stop offset="0.250" stop-color="#00ff34"/><stop offset="0.292" stop-color="#00ff1e"/><stop offset="0.333" stop-color="#00ff0c"/><stop offset="0.375" stop-color="#04ff00"/><stop offset="0.417" stop-color="#10ff00"/><stop offset="0.458" stop-color="#19ff00"/><stop offset="0.500" stop-color="#1fff00"/><stop offset="0.542" stop-color="#21ff00"/><stop offset="0.583" stop-color="#21ff00"/><stop offset="0.625" stop-color="#1dff00"/><stop offset="0.667" stop-color="#15ff00"/><stop offset="0.708" stop-color="#0bff00"/><stop offset="0.750" stop-color="#00ff03"/><stop offset="0.792" stop-color="#00ff14"/><stop offset="0.833" stop-color="#00ff28"/><stop offset="0.875" stop-color="#00ff3f"/><stop offset="0.917" stop-color="#00ff5a"/><stop offset="0.958" stop-color="#00ff78"/><stop offset="1.000" stop-color="#00ff99"/></linearGradient><linearGradient id="s86"><stop offset="0.000" stop-color="#00fff8"/><stop offset="0.042" stop-color="#00ffd0"/><stop offset="0.083" stop-color="#00ffaa"/><stop offset="0.125" stop-color="#00ff87"/><stop offset="0.167" stop-color="#00ff68"/><stop offset="0.208" stop-color="#00ff4c"/><stop offset="0.250" stop-color="#00ff34"/><stop offset="0.292" stop-color="#00ff1e"/><stop offset="0.333" stop-color="#00ff0c"/><stop offset="0.375" stop-color="#03ff00"/><stop offset="0.417" stop-color="#0fff00"/><stop offset="0.458" stop-color="#18ff00"/><stop offset="0.500" stop-color="#1dff00"/><stop offset="0.542" stop-color="#1fff00"/><stop offset="0.583" stop-color="#1eff00"/><stop offset="0.625" stop-color="#19ff00"/><stop offset="0.667" stop-color="#12ff00"/><stop offset="0.708" stop-color="#07ff00"/><stop offset="0.750" stop-color="#00ff07"/><stop offset="0.792" stop-color="#00ff19"/><stop offset="0.833" stop-color="#00ff2d"/><stop offset="0.875" stop-color="#00ff45"/><stop offset="0.917" stop-color="#00ff60"/><stop offset="0.958" stop-color="#00ff7f"/><stop offset="1.000" stop-color="#00ffa0"/></linearGradient><linearGradient id="s87"><stop offset="0.000" stop-color="#00fff5"/><stop offset="0.042" stop-color="#00ffcd"/><stop offset="0.083" stop-color="#00ffa7"/><stop offset="0.125" stop-color="#00ff85"/><stop offset="0.167" stop-color="#00ff67"/><stop offset="0.208" stop-color="#00ff4b"/><stop offset="0.250" stop-color="#00ff33"/><stop offset="0.292" stop-color="#00ff1e"/><stop offset="0.333" stop-color="#00ff0c"/><stop offset="0.375" stop-color="#03ff00"/><stop offset="0.417" stop-color="#0eff00"/><stop offset="0.458" stop-color="#16ff00"/><stop offset="0.500" stop-color="#1bff00"/><stop offset="0.542" stop-color="#1dff00"/><stop offset="0.583" stop-color="#1bff00"/><stop offset="0.625" stop-color="#16ff00"/><stop offset="0.667" stop-color="#0eff00"/><stop offset="0.708" stop-color="#03ff00"/><stop offset="0.750" stop-color="#00ff0c"/><stop offset="0.792" stop-color="#00ff1e"/><stop offset="0.833" stop-color="#00ff33"/><stop offset="0.875" stop-color="#00ff4b"/><stop offset="0.917" stop-color="#00ff67"/><stop offset="0.958" stop-color="#00ff85"/><stop offset="1.000" stop-color="#00ffa8"/></linearGradient><linearGradient id="s88"><stop offset="0.000" stop-color="#00fff2"/><stop offset="0.042" stop-color="#00ffca"/><stop offset="0.083" stop-color="#00ffa5"/><stop offset="0.125" stop-color="#00ff83"/><stop offset="0.167" stop-color="#00ff65"/><stop offset="0.208" stop-color="#00ff4a"/><stop offset="0.250" stop-color="#00ff32"/><stop offset="0.292" stop-color="#00ff1d"/><stop offset="0.333" stop-color="#00ff0c"/><stop offset="0.375" stop-color="#02ff00"/><stop offset="0.417" stop-color="#0dff00"/><stop offset="0.458" stop-color="#15ff00"/><stop offset="0.500" stop-color="#19ff00"/><stop offset="0.542" stop-color="#1aff00"/><stop offset="0.583" stop-color="#18ff00"/><stop offset="0.625" stop-color="#13ff00"/><stop offset="0.667" stop-color="#0aff00"/><stop offset="0.708" stop-color="#00ff02"/><stop offset="0.750" stop-color="#00ff11"/><stop offset="0.792" stop-color="#00ff23"/><stop offset="0.833" stop-color="#00ff38"/><stop offset="0.875" stop-color="#00ff51"/><stop offset="0.917" stop-color="#00ff6d"/><stop offset="0.958" stop-color="#00ff8c"/><stop offset="1.000" stop-color="#00ffaf"/></linearGradient><linearGradient id="s89"><stop offset="0.000" stop-color="#00ffee"/><stop offset="0.042" stop-color="#00ffc7"/><stop offset="0.083" stop-color="#00ffa2"/><stop offset="0.125" stop-color="#00ff81"/><stop offset="0.167" stop-color="#00ff63"/><stop offset="0.208" stop-color="#00ff49"/><stop offset="0.250" stop-color="#00ff31"/><stop offset="0.292" stop-color="#00ff1d"/><stop offset="0.333" stop-color="#00ff0c"/><stop offset="0.375" stop-color="#01ff00"/><stop offset="0.417" stop-color="#0cff00"/><stop offset="0.458" stop-color="#13ff00"/><stop offset="0.500" stop-color="#17ff00"/><stop offset="0.542" stop-color="#18ff00"/><stop offset="0.583" stop-color="#15ff00"/><stop offset="0.625" stop-color="#0fff00"/><stop offset="0.667" stop-color="#06ff00"/><stop offset="0.708" stop-color="#00ff06"/><stop offset="0.750" stop-color="#00ff15"/><stop offset="0.792" stop-color="#00ff28"/><stop offset="0.833" stop-color="#00ff3e"/><stop offset="0.875" stop-color="#00ff57"/><stop offset="0.917" stop-color="#00ff74"/><stop offset="0.958" stop-color="#00ff93"/><stop offset="1.000" stop-color="#00ffb6"/></linearGradient><linearGradient id="s90"><stop offset="0.000" stop-color="#00ffeb"/><stop offset="0.042" stop-color="#00ffc4"/><stop offset="0.083" stop-color="#00ffa0"/><stop offset="0.125" stop-color="#00ff7f"/><stop offset="0.167" stop-color="#00ff62"/><stop offset="0.208" stop-color="#00ff47"/><stop offset="0.250" stop-color="#00ff30"/><stop offset="0.292" stop-color="#00ff1d"/><stop offset="0.333" stop-color="#00ff0c"/><stop offset="0.375" stop-color="#01ff00"/><stop offset="0.417" stop-color="#0bff00"/><stop offset="0.458" stop-color="#12ff00"/><stop offset="0.500" stop-color="#15ff00"/><stop offset="0.542" stop-color="#15ff00"/><stop offset="0.583" stop-color="#12ff00"/><stop offset="0.625" stop-color="#0cff00"/><stop offset="0.667" stop-color="#03ff00"/><stop offset="0.708" stop-color="#00ff0a"/><stop offset="0.750" stop-color="#00ff1a"/><stop offset="0.792" stop-color="#00ff2d"/><stop offset="0.833" stop-color="#00ff43"/><stop offset="0.875" stop-color="#00ff5d"/><stop offset="0.917" stop-color="#00ff7a"/><stop offset="0.958" stop-color="#00ff9a"/><stop offset="1.000" stop-color="#00ffbd"/></linearGradient><linearGradient id="s91"><stop offset="0.000" stop-color="#00ffe7"/><stop offset="0.042" stop-color="#00ffc0"/><stop offset="0.083" stop-color="#00ff9d"/><stop offset="0.125" stop-color="#00ff7d"/><stop offset="0.167" stop-color="#00ff60"/><stop offset="0.208" stop-color="#00ff46"/><stop offset="0.250" stop-color="#00ff30"/><stop offset="0.292" stop-color="#00ff1c"/><stop offset="0.333" stop-color="#00ff0c"/><stop offset="0.375" stop-color="#00ff00"/><stop offset="0.417" stop-color="#0aff00"/><stop offset="0.458" stop-color="#10ff00"/><stop offset="0.500" stop-color="#13ff00"/><stop offset="0.542" stop-color="#13ff00"/><stop offset="0.583" stop-color="#10ff00"/><stop offset="0.625" stop-color="#09ff00"/><stop offset="0.667" stop-color="#00ff01"/><stop offset="0.708" stop-color="#00ff0e"/><stop offset="0.750" stop-color="#00ff1e"/><stop offset="0.792" stop-color="#00ff32"/><stop offset="0.833" stop-color="#00ff49"/><stop offset="0.875" stop-color="#00ff63"/><stop offset="0.917" stop-color="#00ff80"/><stop offset="0.958" stop-color="#00ffa1"/><stop offset="1.000" stop-color="#00ffc5"/></linearGradient><linearGradient id="s92"><stop offset="0.000" stop-color="#00ffe4"/><stop offset="0.042" stop-color="#00ffbd"/><stop offset="0.083" stop-color="#00ff9a"/><stop offset="0.125" stop-color="#00ff7b"/><stop offset="0.167" stop-color="#00ff5e"/><stop offset="0.208" stop-color="#00ff45"/><stop offset="0.250" stop-color="#00ff2f"/><stop offset="0.292" stop-color="#00ff1c"/><stop offset="0.333" stop-color="#00ff0d"/><stop offset="0.375" stop-color="#00ff00"/><stop offset="0.417" stop-color="#09ff00"/><stop offset="0.458" stop-color="#0fff00"/><stop offset="0.500" stop-color="#11ff00"/><stop offset="0.542" stop-color="#11ff00"/><stop offset="0.583" stop-color="#0dff00"/><stop offset="0.625" stop-color="#06ff00"/><stop offset="0.667" stop-color="#00ff05"/><stop offset="0.708" stop-color="#00ff12"/><stop offset="0.750" stop-color="#00ff23"/><stop offset="0.792" stop-color="#00ff37"/><stop offset="0.833" stop-color="#00ff4e"/><stop offset="0.875" stop-color="#00ff69"/><stop offset="0.917" stop-color="#00ff87"/><stop offset="0.958" stop-color="#00ffa8"/><stop offset="1.000" stop-color="#00ffcc"/></linearGradient></defs><rect x="112.50" y="317.00" width="230.00" height="2.050" fill="url(#s0)"/><rect x="112.50" y="319.00" width="230.00" height="2.050" fill="url(#s1)"/><rect x="112.50" y="321.00" width="230.00" height="2.050" fill="url(#s2)"/><rect x="112.50" y="323.00" width="230.00" height="2.050" fill="url(#s3)"/><rect x="112.50" y="325.00" width="230.00" height="2.050" fill="url(#s4)"/><rect x="112.50" y="327.00" width="230.00" height="2.050" fill="url(#s5)"/><rect x="112.50" y="329.00" width="230.00" height="2.050" fill="url(#s6)"/><rect x="112.50" y="331.00" width="230.00" height="2.050" fill="url(#s7)"/><rect x="112.50" y="333.00" width="230.00" height="2.050" fill="url(#s8)"/><rect x="112.50" y="335.00" width="230.00" height="2.050" fill="url(#s9)"/><rect x="112.50" y="337.00" width="230.00" height="2.050" fill="url(#s10)"/><rect x="112.50" y="339.00" width="230.00" height="2.050" fill="url(#s11)"/><rect x="112.50" y="341.00" width="230.00" height="2.050" fill="url(#s12)"/><rect x="112.50" y="343.00" width="230.00" height="2.050" fill="url(#s13)"/><rect x="112.50" y="345.00" width="230.00" height="2.050" fill="url(#s14)"/><rect x="112.50" y="347.00" width="230.00" height="2.050" fill="url(#s15)"/><rect x="112.50" y="349.00" width="230.00" height="2.050" fill="url(#s16)"/><rect x="112.50" y="351.00" width="230.00" height="2.050" fill="url(#s17)"/><rect x="112.50" y="353.00" width="230.00" height="2.050" fill="url(#s18)"/><rect x="112.50" y="355.00" width="230.00" height="2.050" fill="url(#s19)"/><rect x="112.50" y="357.00" width="230.00" height="2.050" fill="url(#s20)"/><rect x="112.50" y="359.00" width="230.00" height="2.050" fill="url(#s21)"/><rect x="112.50" y="361.00" width="230.00" height="2.050" fill="url(#s22)"/><rect x="112.50" y="363.00" width="230.00" height="2.050" fill="url(#s23)"/><rect x="112.50" y="365.00" width="230.00" height="2.050" fill="url(#s24)"/><rect x="112.50" y="367.00" width="230.00" height="2.050" fill="url(#s25)"/><rect x="112.50" y="369.00" width="230.00" height="2.050" fill="url(#s26)"/><rect x="112.50" y="371.00" width="230.00" height="2.050" fill="url(#s27)"/><rect x="112.50" y="373.00" width="230.00" height="2.050" fill="url(#s28)"/><rect x="112.50" y="375.00" width="230.00" height="2.050" fill="url(#s29)"/><rect x="112.50" y="377.00" width="230.00" height="2.050" fill="url(#s30)"/><rect x="112.50" y="379.00" width="230.00" height="2.050" fill="url(#s31)"/><rect x="112.50" y="381.00" width="230.00" height="2.050" fill="url(#s32)"/><rect x="112.50" y="383.00" width="230.00" height="2.050" fill="url(#s33)"/><rect x="112.50" y="385.00" width="230.00" height="2.050" fill="url(#s34)"/><rect x="112.50" y="387.00" width="230.00" height="2.050" fill="url(#s35)"/><rect x="112.50" y="389.00" width="230.00" height="2.050" fill="url(#s36)"/><rect x="112.50" y="391.00" width="230.00" height="2.050" fill="url(#s37)"/><rect x="112.50" y="393.00" width="230.00" height="2.050" fill="url(#s38)"/><rect x="112.50" y="395.00" width="230.00" height="2.050" fill="url(#s39)"/><rect x="112.50" y="397.00" width="230.00" height="2.050" fill="url(#s40)"/><rect x="112.50" y="399.00" width="230.00" height="2.050" fill="url(#s41)"/><rect x="112.50" y="401.00" width="230.00" height="2.050" fill="url(#s42)"/><rect x="112.50" y="403.00" width="230.00" height="2.050" fill="url(#s43)"/><rect x="112.50" y="405.00" width="230.00" height="2.050" fill="url(#s44)"/><rect x="112.50" y="407.00" width="230.00" height="2.050" fill="url(#s45)"/><rect x="112.50" y="409.00" width="230.00" height="2.050" fill="url(#s46)"/><rect x="112.50" y="411.00" width="230.00" height="2.050" fill="url(#s47)"/><rect x="112.50" y="413.00" width="230.00" height="2.050" fill="url(#s48)"/><rect x="112.50" y="415.00" width="230.00" height="2.050" fill="url(#s49)"/><rect x="112.50" y="417.00" width="230.00" height="2.050" fill="url(#s50)"/><rect x="112.50" y="419.00" width="230.00" height="2.050" fill="url(#s51)"/><rect x="112.50" y="421.00" width="230.00" height="2.050" fill="url(#s52)"/><rect x="112.50" y="423.00" width="230.00" height="2.050" fill="url(#s53)"/><rect x="112.50" y="425.00" width="230.00" height="2.050" fill="url(#s54)"/><rect x="112.50" y="427.00" width="230.00" height="2.050" fill="url(#s55)"/><rect x="112.50" y="429.00" width="230.00" height="2.050" fill="url(#s56)"/><rect x="112.50" y="431.00" width="230.00" height="2.050" fill="url(#s57)"/><rect x="112.50" y="433.00" width="230.00" height="2.050" fill="url(#s58)"/><rect x="112.50" y="435.00" width="230.00" height="2.050" fill="url(#s59)"/><rect x="112.50" y="437.00" width="230.00" height="2.050" fill="url(#s60)"/><rect x="112.50" y="439.00" width="230.00" height="2.050" fill="url(#s61)"/><rect x="112.50" y="441.00" width="230.00" height="2.050" fill="url(#s62)"/><rect x="112.50" y="443.00" width="230.00" height="2.050" fill="url(#s63)"/><rect x="112.50" y="445.00" width="230.00" height="2.050" fill="url(#s64)"/><rect x="112.50" y="447.00" width="230.00" height="2.050" fill="url(#s65)"/><rect x="112.50" y="449.00" width="230.00" height="2.050" fill="url(#s66)"/><rect x="112.50" y="451.00" width="230.00" height="2.050" fill="url(#s67)"/><rect x="112.50" y="453.00" width="230.00" height="2.050" fill="url(#s68)"/><rect x="112.50" y="455.00" width="230.00" height="2.050" fill="url(#s69)"/><rect x="112.50" y="457.00" width="230.00" height="2.050" fill="url(#s70)"/><rect x="112.50" y="459.00" width="230.00" height="2.050" fill="url(#s71)"/><rect x="112.50" y="461.00" width="230.00" height="2.050" fill="url(#s72)"/><rect x="112.50" y="463.00" width="230.00" height="2.050" fill="url(#s73)"/><rect x="112.50" y="465.00" width="230.00" height="2.050" fill="url(#s74)"/><rect x="112.50" y="467.00" width="230.00" height="2.050" fill="url(#s75)"/><rect x="112.50" y="469.00" width="230.00" height="2.050" fill="url(#s76)"/><rect x="112.50" y="471.00" width="230.00" height="2.050" fill="url(#s77)"/><rect x="112.50" y="473.00" width="230.00" height="2.050" fill="url(#s78)"/><rect x="112.50" y="475.00" width="230.00" height="2.050" fill="url(#s79)"/><rect x="112.50" y="477.00" width="230.00" height="2.050" fill="url(#s80)"/><rect x="112.50" y="479.00" width="230.00" height="2.050" fill="url(#s81)"/><rect x="112.50" y="481.00" width="230.00" height="2.050" fill="url(#s82)"/><rect x="112.50" y="483.00" width="230.00" height="2.050" fill="url(#s83)"/><rect x="112.50" y="485.00" width="230.00" height="2.050" fill="url(#s84)"/><rect x="112.50" y="487.00" width="230.00" height="2.050" fill="url(#s85)"/><rect x="112.50" y="489.00" width="230.00" height="2.050" fill="url(#s86)"/><rect x="112.50" y="491.00" width="230.00" height="2.050" fill="url(#s87)"/><rect x="112.50" y="493.00" width="230.00" height="2.050" fill="url(#s88)"/><rect x="112.50" y="495.00" width="230.00" height="2.050" fill="url(#s89)"/><rect x="112.50" y="497.00" width="230.00" height="2.050" fill="url(#s90)"/><rect x="112.50" y="499.00" width="230.00" height="2.050" fill="url(#s91)"/><rect x="112.50" y="501.00" width="230.00" height="2.050" fill="url(#s92)"/><polyline points="112.50,409.17 112.82,407.82 113.27,405.96 113.56,404.71 113.99,402.85 114.27,401.60 114.69,399.74 114.97,398.49 115.38,396.63 115.65,395.38 116.06,393.52 116.35,392.15 116.71,390.40 117.10,388.54 117.35,387.29 117.73,385.43 117.98,384.18 118.35,382.32 118.65,380.75 118.95,379.21 119.31,377.34 119.54,376.10 119.89,374.23 120.19,372.55 120.45,371.12 120.78,369.25 121.00,368.01 121.33,366.14 121.65,364.28 121.86,363.03 122.17,361.17 122.48,359.30 122.68,358.06 122.99,356.19 123.27,354.41 123.48,353.08 123.77,351.21 124.04,349.44 124.24,348.10 124.52,346.24 124.79,344.37 124.97,343.13 125.24,341.26 125.51,339.39 125.68,338.15 125.94,336.28 126.19,334.42 126.36,333.17 126.61,331.31 126.85,329.44 127.09,327.58 127.25,326.33 127.48,324.46 127.72,322.60 127.88,321.21 128.09,319.49 128.32,317.62 128.39,317.00" fill="none" stroke="#202020" stroke-width="0.6"/><polyline points="179.36,503.00 179.49,501.76 179.67,499.89 179.83,498.02 179.99,496.16 180.13,494.29 180.22,493.05 180.35,491.18 180.47,489.31 180.57,487.45 180.68,485.58 180.77,483.72 180.85,481.85 180.93,479.98 180.98,478.74 181.05,476.87 181.11,475.01 181.17,473.14 181.22,471.27 181.27,469.41 181.31,467.54 181.35,465.68 181.38,463.81 181.41,461.94 181.43,460.08 181.45,458.21 181.47,456.34 181.48,454.48 181.50,452.61 181.50,450.75 181.51,448.88 181.51,447.01 181.51,445.15 181.50,443.28 181.50,441.41 181.49,439.55 181.47,437.68 181.46,435.82 181.45,433.95 181.43,432.08 181.41,430.22 181.39,428.35 181.36,426.48 181.34,424.62 181.31,422.75 181.28,420.89 181.25,419.02 181.22,417.15 181.19,415.29 181.15,413.42 181.12,411.56 181.08,409.69 181.04,407.82 181.00,405.96 180.96,404.23 180.93,402.85 180.89,400.98 180.84,399.11 180.80,397.25 180.75,395.38 180.71,393.52 180.66,391.65 180.61,389.78 180.56,387.92 180.51,386.05 180.46,384.18 180.41,382.32 180.35,380.45 180.30,378.59 180.24,376.72 180.19,375.00 180.15,373.61 180.09,371.74 180.04,369.88 179.98,368.01 179.92,366.14 179.86,364.28 179.80,362.41 179.74,360.55 179.68,358.68 179.62,356.81 179.56,354.95 179.50,353.08 179.43,351.21 179.39,349.97 179.33,348.10 179.26,346.24 179.20,344.37 179.13,342.51 179.07,340.64 179.00,338.77 178.93,336.91 178.87,335.04 178.80,333.17 178.73,331.31 178.66,329.44 178.62,328.20 178.55,326.33 178.48,324.46 178.41,322.60 178.34,320.73 178.27,318.87 178.20,317.00 178.20,317.00" fill="none" stroke="#202020" stroke-width="0.6"/><polyline points="342.50,454.45 341.64,455.10 340.19,456.20 339.18,456.97 337.88,457.95 336.72,458.83 335.58,459.70 334.26,460.70 333.27,461.45 331.81,462.57 330.96,463.21 329.42,464.38 328.55,465.05 327.12,466.15 326.10,466.92 324.81,467.91 323.66,468.79 322.50,469.68 321.23,470.65 320.19,471.45 318.80,472.52 317.88,473.22 316.38,474.38 315.57,475.01 314.04,476.19 313.16,476.87 311.73,477.98 310.75,478.74 309.42,479.77 308.34,480.61 307.12,481.56 305.95,482.47 304.81,483.36 303.56,484.34 302.50,485.16 301.17,486.20 300.19,486.97 298.80,488.07 297.88,488.79 296.43,489.94 295.58,490.61 294.08,491.80 293.27,492.44 291.73,493.67 290.95,494.29 289.42,495.51 288.61,496.16 287.12,497.36 286.29,498.02 284.81,499.22 283.97,499.89 282.50,501.09 281.67,501.76 280.19,502.96 280.15,503.00" fill="none" stroke="#202020" stroke-width="0.6"/><polyline points="342.50,363.47 340.96,363.74 338.65,364.11 337.12,364.33 334.81,364.63 332.50,364.90 330.96,365.05 328.65,365.24 326.35,365.38 324.04,365.47 321.73,365.51 319.42,365.50 317.12,365.44 314.81,365.31 312.50,365.12 310.45,364.90 308.65,364.66 306.35,364.29 304.81,364.01 303.12,363.66 300.96,363.14 299.42,362.73 297.88,362.28 296.34,361.79 294.55,361.17 292.91,360.55 291.38,359.92 289.96,359.30 288.62,358.68 287.12,357.93 285.58,357.12 284.04,356.25 282.89,355.57 281.73,354.85 280.19,353.84 279.10,353.08 277.88,352.20 276.58,351.21 275.58,350.43 274.27,349.35 273.27,348.49 272.14,347.48 270.96,346.39 270.16,345.62 268.91,344.37 267.88,343.31 267.12,342.49 266.01,341.26 264.92,340.02 264.04,338.98 263.27,338.04 262.36,336.91 261.40,335.66 260.47,334.42 259.56,333.17 258.68,331.93 257.88,330.78 257.12,329.63 256.35,328.45 255.58,327.25 254.81,326.01 254.04,324.75 253.27,323.45 252.50,322.12 251.73,320.76 251.03,319.49 250.36,318.24 249.71,317.00 249.71,317.00" fill="none" stroke="#202020" stroke-width="0.6"/><rect x="116.80" y="361.80" width="9.40" height="4" fill="#fff" stroke="#303030" stroke-width="0.4"/><text transform="translate(121.50,364.90)" font-family="Liberation Sans, Arial, sans-serif" font-size="3.20" fill="#222" text-anchor="middle">1.85</text><rect x="178.50" y="406.30" width="7.00" height="4" fill="#fff" stroke="#303030" stroke-width="0.4"/><text transform="translate(182.00,409.40)" font-family="Liberation Sans, Arial, sans-serif" font-size="3.20" fill="#222" text-anchor="middle">1.9</text><rect x="274.60" y="349.60" width="9.40" height="4" fill="#fff" stroke="#303030" stroke-width="0.4"/><text transform="translate(279.30,352.70)" font-family="Liberation Sans, Arial, sans-serif" font-size="3.20" fill="#222" text-anchor="middle">1.95</text><rect x="307.00" y="475.30" width="7.00" height="4" fill="#fff" stroke="#303030" stroke-width="0.4"/><text transform="translate(310.50,478.40)" font-family="Liberation Sans, Arial, sans-serif" font-size="3.20" fill="#222" text-anchor="middle">1.9</text><rect x="112.50" y="317.00" width="230.00" height="186.00" fill="none" stroke="#505050" stroke-width="0.6"/><text transform="translate(104.90,505.00)" font-family="Liberation Sans, Arial, sans-serif" font-size="5.60" fill="#2e2e2e" text-anchor="end" stroke="#2e2e2e" stroke-width="0.18">0.8</text><text transform="translate(104.90,458.50)" font-family="Liberation Sans, Arial, sans-serif" font-size="5.60" fill="#2e2e2e" text-anchor="end" stroke="#2e2e2e" stroke-width="0.18">0.9</text><text transform="translate(104.90,412.00)" font-family="Liberation Sans, Arial, sans-serif" font-size="5.60" fill="#2e2e2e" text-anchor="end" stroke="#2e2e2e" stroke-width="0.18">1</text><text transform="translate(104.90,365.50)" font-family="Liberation Sans, Arial, sans-serif" font-size="5.60" fill="#2e2e2e" text-anchor="end" stroke="#2e2e2e" stroke-width="0.18">1.1</text><text transform="translate(104.90,319.00)" font-family="Liberation Sans, Arial, sans-serif" font-size="5.60" fill="#2e2e2e" text-anchor="end" stroke="#2e2e2e" stroke-width="0.18">1.2</text><text transform="translate(112.50,514.60) scale(0.970,1)" font-family="Liberation Sans, Arial, sans-serif" font-size="6.10" fill="#2e2e2e" text-anchor="middle" stroke="#2e2e2e" stroke-width="0.18">35</text><text transform="translate(158.50,514.60) scale(0.970,1)" font-family="Liberation Sans, Arial, sans-serif" font-size="6.10" fill="#2e2e2e" text-anchor="middle" stroke="#2e2e2e" stroke-width="0.18">37</text><text transform="translate(204.50,514.60) scale(0.970,1)" font-family="Liberation Sans, Arial, sans-serif" font-size="6.10" fill="#2e2e2e" text-anchor="middle" stroke="#2e2e2e" stroke-width="0.18">39</text><text transform="translate(250.50,514.60) scale(0.970,1)" font-family="Liberation Sans, Arial, sans-serif" font-size="6.10" fill="#2e2e2e" text-anchor="middle" stroke="#2e2e2e" stroke-width="0.18">41</text><text transform="translate(296.50,514.60) scale(0.970,1)" font-family="Liberation Sans, Arial, sans-serif" font-size="6.10" fill="#2e2e2e" text-anchor="middle" stroke="#2e2e2e" stroke-width="0.18">43</text><text transform="translate(342.50,514.60) scale(0.970,1)" font-family="Liberation Sans, Arial, sans-serif" font-size="6.10" fill="#2e2e2e" text-anchor="middle" stroke="#2e2e2e" stroke-width="0.18">45</text><path d="M107.50,503.00L112.50,503.00M107.50,456.50L112.50,456.50M107.50,410.00L112.50,410.00M107.50,363.50L112.50,363.50M107.50,317.00L112.50,317.00M112.50,503.00L112.50,507.50M158.50,503.00L158.50,507.50M204.50,503.00L204.50,507.50M250.50,503.00L250.50,507.50M296.50,503.00L296.50,507.50M342.50,503.00L342.50,507.50" stroke="#606060" stroke-width="0.6"/><ellipse cx="112.50" cy="317.00" rx="2.4" ry="2.0" fill="#b80000" stroke="#700000" stroke-width="0.4"/><ellipse cx="342.50" cy="317.00" rx="2.4" ry="2.0" fill="#b80000" stroke="#700000" stroke-width="0.4"/><ellipse cx="112.50" cy="503.00" rx="2.4" ry="2.0" fill="#b80000" stroke="#700000" stroke-width="0.4"/><ellipse cx="227.40" cy="410.30" rx="2.4" ry="2.0" fill="#b80000" stroke="#700000" stroke-width="0.4"/><line x1="222.2" y1="408.8" x2="222.2" y2="411.4" stroke="#305030" stroke-width="0.6"/><text transform="translate(227.50,313.50) scale(1.120,1)" font-family="Liberation Sans, Arial, sans-serif" font-size="7.60" fill="#1a1a1a" text-anchor="middle" stroke="#1a1a1a" stroke-width="0.06" textLength="78.30" lengthAdjust="spacing">Retention time (min)</text><text transform="translate(231.15,528.75) scale(1.150,1)" font-family="Liberation Sans, Arial, sans-serif" font-size="7.10" fill="#1e1e1e" text-anchor="middle" stroke="#1e1e1e" stroke-width="0.05" textLength="60.30" lengthAdjust="spacing">A: Acetonitrile (%)</text><text transform="translate(76.70,410.00) rotate(-90)" font-family="Liberation Sans, Arial, sans-serif" font-size="6.30" fill="#333" text-anchor="middle" stroke="#333" stroke-width="0.18">B: Flow rate (ml/min)</text><text transform="translate(14.80,309.50) scale(1.080,1)" font-family="Liberation Sans, Arial, sans-serif" font-size="5.80" fill="#2e2e2e" text-anchor="start" stroke="#2e2e2e" stroke-width="0.18">Factor Coding: Actual</text><text transform="translate(14.80,325.80) scale(1.100,1)" font-family="Liberation Sans, Arial, sans-serif" font-size="5.80" font-weight="bold" fill="#111" text-anchor="start">Retention time (min)</text><ellipse cx="21.1" cy="332.5" rx="3.3" ry="2.6" fill="#c40000" stroke="#7a0000" stroke-width="0.5"/><text transform="translate(28.40,334.60) scale(1.050,1)" font-family="Liberation Sans, Arial, sans-serif" font-size="5.80" fill="#b02020" text-anchor="start" stroke="#b02020" stroke-width="0.18">Design Points</text><text transform="translate(15.00,351.30) scale(0.950,1)" font-family="Liberation Sans, Arial, sans-serif" font-size="6.00" fill="#2828d8" text-anchor="start" stroke="#2828d8" stroke-width="0.18">1.83</text><rect x="28.9" y="346" width="23.2" height="6.3" fill="url(#lg)" stroke="#404040" stroke-width="0.4"/><text transform="translate(54.10,351.30) scale(0.950,1)" font-family="Liberation Sans, Arial, sans-serif" font-size="6.00" fill="#e03030" text-anchor="start" stroke="#e03030" stroke-width="0.18">1.98</text><text transform="translate(15.00,359.60) scale(1.080,1)" font-family="Liberation Sans, Arial, sans-serif" font-size="5.80" fill="#2e2e2e" text-anchor="start" stroke="#2e2e2e" stroke-width="0.18">X1 = A</text><text transform="translate(15.00,367.70) scale(1.080,1)" font-family="Liberation Sans, Arial, sans-serif" font-size="5.80" fill="#2e2e2e" text-anchor="start" stroke="#2e2e2e" stroke-width="0.18">X2 = B</text><text transform="translate(15.00,384.60) scale(1.055,1)" font-family="Liberation Sans, Arial, sans-serif" font-size="5.80" font-weight="bold" fill="#111" text-anchor="start">Actual Factor</text><text transform="translate(15.00,392.60) scale(1.065,1)" font-family="Liberation Sans, Arial, sans-serif" font-size="5.80" fill="#2e2e2e" text-anchor="start" stroke="#2e2e2e" stroke-width="0.18">C = 260</text><text transform="translate(204.00,544.50)" font-family="Liberation Serif, Times New Roman, serif" font-size="9.00" font-weight="bold" fill="#111" text-anchor="middle">(b)</text>
</svg></body></html>
